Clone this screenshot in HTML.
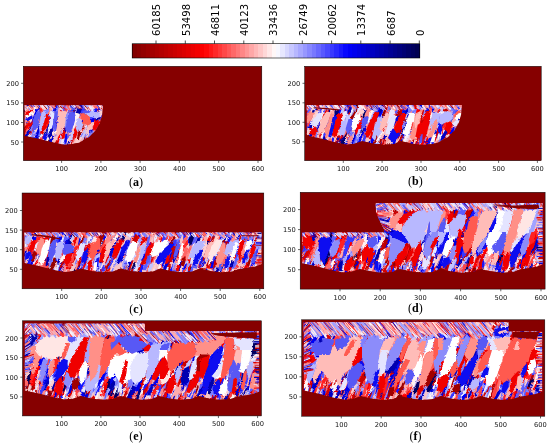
<!DOCTYPE html>
<html><head><meta charset="utf-8"><title>figure</title><style>html,body{margin:0;padding:0;background:#fff}svg{display:block}</style></head><body>
<svg width="550" height="445" viewBox="0 0 550 445">
<rect width="550" height="445" fill="#fff"/>
<defs><filter id="jag" x="-2%" y="-5%" width="104%" height="110%"><feTurbulence type="fractalNoise" baseFrequency="0.4" numOctaves="2" seed="4" result="n"/><feDisplacementMap in="SourceGraphic" in2="n" scale="3" xChannelSelector="R" yChannelSelector="G"/></filter></defs>
<g shape-rendering="crispEdges">
<rect x="132.2" y="43.7" width="4.8" height="14.3" fill="#830000"/>
<rect x="137" y="43.7" width="4" height="14.3" fill="#8b0000"/>
<rect x="141" y="43.7" width="5" height="14.3" fill="#930000"/>
<rect x="146" y="43.7" width="4" height="14.3" fill="#9b0000"/>
<rect x="150" y="43.7" width="5" height="14.3" fill="#a30000"/>
<rect x="155" y="43.7" width="4" height="14.3" fill="#ab0000"/>
<rect x="159" y="43.7" width="5" height="14.3" fill="#b30000"/>
<rect x="164" y="43.7" width="4" height="14.3" fill="#bb0000"/>
<rect x="168" y="43.7" width="5" height="14.3" fill="#c30000"/>
<rect x="173" y="43.7" width="4" height="14.3" fill="#cb0000"/>
<rect x="177" y="43.7" width="5" height="14.3" fill="#d30000"/>
<rect x="182" y="43.7" width="4" height="14.3" fill="#db0000"/>
<rect x="186" y="43.7" width="5" height="14.3" fill="#e30000"/>
<rect x="191" y="43.7" width="4" height="14.3" fill="#eb0000"/>
<rect x="195" y="43.7" width="5" height="14.3" fill="#f30000"/>
<rect x="200" y="43.7" width="4" height="14.3" fill="#fb0000"/>
<rect x="204" y="43.7" width="5" height="14.3" fill="#ff0808"/>
<rect x="209" y="43.7" width="4" height="14.3" fill="#ff1818"/>
<rect x="213" y="43.7" width="5" height="14.3" fill="#ff2828"/>
<rect x="218" y="43.7" width="4" height="14.3" fill="#ff3838"/>
<rect x="222" y="43.7" width="5" height="14.3" fill="#ff4848"/>
<rect x="227" y="43.7" width="4" height="14.3" fill="#ff5858"/>
<rect x="231" y="43.7" width="5" height="14.3" fill="#ff6868"/>
<rect x="236" y="43.7" width="4" height="14.3" fill="#ff7878"/>
<rect x="240" y="43.7" width="5" height="14.3" fill="#ff8787"/>
<rect x="245" y="43.7" width="4" height="14.3" fill="#ff9797"/>
<rect x="249" y="43.7" width="5" height="14.3" fill="#ffa7a7"/>
<rect x="254" y="43.7" width="4" height="14.3" fill="#ffb7b7"/>
<rect x="258" y="43.7" width="5" height="14.3" fill="#ffc7c7"/>
<rect x="263" y="43.7" width="4" height="14.3" fill="#ffd7d7"/>
<rect x="267" y="43.7" width="5" height="14.3" fill="#ffe7e7"/>
<rect x="272" y="43.7" width="4" height="14.3" fill="#fff7f7"/>
<rect x="276" y="43.7" width="4" height="14.3" fill="#f7f7ff"/>
<rect x="280" y="43.7" width="5" height="14.3" fill="#e7e7ff"/>
<rect x="285" y="43.7" width="4" height="14.3" fill="#d7d7ff"/>
<rect x="289" y="43.7" width="5" height="14.3" fill="#c7c7ff"/>
<rect x="294" y="43.7" width="4" height="14.3" fill="#b7b7ff"/>
<rect x="298" y="43.7" width="5" height="14.3" fill="#a7a7ff"/>
<rect x="303" y="43.7" width="4" height="14.3" fill="#9797ff"/>
<rect x="307" y="43.7" width="5" height="14.3" fill="#8787ff"/>
<rect x="312" y="43.7" width="4" height="14.3" fill="#7878ff"/>
<rect x="316" y="43.7" width="5" height="14.3" fill="#6868ff"/>
<rect x="321" y="43.7" width="4" height="14.3" fill="#5858ff"/>
<rect x="325" y="43.7" width="5" height="14.3" fill="#4848ff"/>
<rect x="330" y="43.7" width="4" height="14.3" fill="#3838ff"/>
<rect x="334" y="43.7" width="5" height="14.3" fill="#2828ff"/>
<rect x="339" y="43.7" width="4" height="14.3" fill="#1818ff"/>
<rect x="343" y="43.7" width="5" height="14.3" fill="#0808ff"/>
<rect x="348" y="43.7" width="4" height="14.3" fill="#0000f9"/>
<rect x="352" y="43.7" width="5" height="14.3" fill="#0000ee"/>
<rect x="357" y="43.7" width="4" height="14.3" fill="#0000e3"/>
<rect x="361" y="43.7" width="5" height="14.3" fill="#0000d8"/>
<rect x="366" y="43.7" width="4" height="14.3" fill="#0000cd"/>
<rect x="370" y="43.7" width="5" height="14.3" fill="#0000c2"/>
<rect x="375" y="43.7" width="4" height="14.3" fill="#0000b6"/>
<rect x="379" y="43.7" width="5" height="14.3" fill="#0000ab"/>
<rect x="384" y="43.7" width="4" height="14.3" fill="#0000a0"/>
<rect x="388" y="43.7" width="5" height="14.3" fill="#000095"/>
<rect x="393" y="43.7" width="4" height="14.3" fill="#00008a"/>
<rect x="397" y="43.7" width="5" height="14.3" fill="#00007f"/>
<rect x="402" y="43.7" width="4" height="14.3" fill="#000074"/>
<rect x="406" y="43.7" width="5" height="14.3" fill="#000068"/>
<rect x="411" y="43.7" width="4" height="14.3" fill="#00005d"/>
<rect x="415" y="43.7" width="4.8" height="14.3" fill="#000052"/>
</g>
<rect x="132.2" y="43.7" width="287.6" height="14.3" fill="none" stroke="#000" stroke-width="0.6"/>
<g font-family="'DejaVu Sans','Liberation Sans',sans-serif" font-size="10.1" fill="#000">
<path d="M156.0 40.5V43.7" stroke="#000" stroke-width="0.7"/>
<text transform="translate(160.4,36.0) rotate(-90)">60185</text>
<path d="M185.3 40.5V43.7" stroke="#000" stroke-width="0.7"/>
<text transform="translate(189.7,36.0) rotate(-90)">53498</text>
<path d="M214.5 40.5V43.7" stroke="#000" stroke-width="0.7"/>
<text transform="translate(218.9,36.0) rotate(-90)">46811</text>
<path d="M243.8 40.5V43.7" stroke="#000" stroke-width="0.7"/>
<text transform="translate(248.2,36.0) rotate(-90)">40123</text>
<path d="M273.0 40.5V43.7" stroke="#000" stroke-width="0.7"/>
<text transform="translate(277.4,36.0) rotate(-90)">33436</text>
<path d="M302.3 40.5V43.7" stroke="#000" stroke-width="0.7"/>
<text transform="translate(306.7,36.0) rotate(-90)">26749</text>
<path d="M331.6 40.5V43.7" stroke="#000" stroke-width="0.7"/>
<text transform="translate(336.0,36.0) rotate(-90)">20062</text>
<path d="M360.8 40.5V43.7" stroke="#000" stroke-width="0.7"/>
<text transform="translate(365.2,36.0) rotate(-90)">13374</text>
<path d="M390.1 40.5V43.7" stroke="#000" stroke-width="0.7"/>
<text transform="translate(394.5,36.0) rotate(-90)">6687</text>
<path d="M419.3 40.5V43.7" stroke="#000" stroke-width="0.7"/>
<text transform="translate(423.7,36.0) rotate(-90)">0</text>
</g>
<rect x="23.3" y="66.3" width="238.5" height="94.4" fill="#860000"/>
<clipPath id="ka">
<polygon points="24.7,105.3 24.7,135.8 38.6,138.7 55.3,143 64.7,144.8 72.6,144 78.9,142.7 89.1,137.1 95.8,130.3 100.1,122.5 102.2,114.6 102.6,108.8 102.6,105.3"/>
</clipPath>
<g clip-path="url(#ka)"><g fill="none" filter="url(#jag)">
<polygon points="24.7,105.3 24.7,135.8 38.6,138.7 55.3,143 64.7,144.8 72.6,144 78.9,142.7 89.1,137.1 95.8,130.3 100.1,122.5 102.2,114.6 102.6,108.8 102.6,105.3" fill="#f6c4c8"/>
<path stroke="#0000ac" stroke-width="5.5" d="M22.8 124.2l2.4 -5.8 1.9 -6M94.1 122.9l2 -7.5 1.9 -7.6M78.4 113.8l2.5 -7.6 1.9 -7.7"/>
<path stroke="#fff3f3" stroke-width="5.5" d="M72.6 128.2l2.4 -7.5 1.9 -7.6M58.8 129.4l1.7 -5.4 1.7 -5.4"/>
<path stroke="#ec0000" stroke-width="5.5" d="M57 121.5l4.3 -9.2 3.9 -9.3"/>
<path stroke="#940000" stroke-width="5.5" d="M80.4 124.5l3.7 -8.6 3.9 -8.5"/>
<path stroke="#3939ff" stroke-width="5.5" d="M56.7 135.3l2.9 -6.8 2.6 -6.9"/>
<path stroke="#7f7fff" stroke-width="5.5" d="M24.1 123.6l4 -10.5 5.3 -9.9M93 126.9l3.2 -7.7 3.5 -7.6"/>
<path stroke="#a2a2ff" stroke-width="5.5" d="M82.5 126.7l2.7 -5.5 2.5 -5.6"/>
<path stroke="#da0000" stroke-width="5.5" d="M78.9 130.5l5.3 -9 4.8 -9.3"/>
<path stroke="#ff2020" stroke-width="5.5" d="M41.1 122.4l3.2 -8.2 2.5 -8.5"/>
<path stroke="#ffcfcf" stroke-width="5.5" d="M61.1 136.4l2.3 -5.7 2.6 -5.6"/>
<path stroke="#ff4343" stroke-width="5.5" d="M25.3 130.8l3 -7.8 4 -7.3"/>
<path stroke="#3939ff" stroke-width="4.2" d="M44 132.5l3.2 -8.7 3.3 -8.6"/>
<path stroke="#0000f5" stroke-width="4.2" d="M41.5 122.5l3.4 -10.1 3.9 -9.9"/>
<path stroke="#e8e8ff" stroke-width="4.2" d="M41.5 124.8l4.6 -8.2 4.7 -8.1"/>
<path stroke="#ffcfcf" stroke-width="4.2" d="M73.6 135.2l2.1 -5.8 2.3 -5.7M84.4 126.7l2.3 -6.9 2.5 -6.9"/>
<path stroke="#ff8989" stroke-width="4.2" d="M57.3 133.1l3.3 -7.7 2.9 -7.8M21.4 136.4l2.3 -9 1.9 -9.1"/>
<path stroke="#1616ff" stroke-width="4.2" d="M66.9 119.9l3.6 -9.1 4.5 -8.7M31.1 127.7l1.8 -7.5 2.4 -7.4"/>
<path stroke="#ffacac" stroke-width="4.2" d="M28.5 119.5l4.3 -10.3 4.4 -10.3"/>
<path stroke="#5c5cff" stroke-width="4.2" d="M35.2 136.1l1.9 -5.1 1.9 -5.2M58.6 126.1l3.6 -9.6 3.1 -9.8M36.8 135.7l4.8 -8.7 5.3 -8.4"/>
<path stroke="#940000" stroke-width="4.2" d="M84.2 129.4l2.3 -7.5 3.1 -7.3"/>
<path stroke="#0000dd" stroke-width="4.2" d="M91 135.9l2.9 -5.1 2.7 -5.2M70.2 119.7l3.8 -10.1 2.7 -10.4"/>
<path stroke="#0000c4" stroke-width="4.2" d="M21.3 119.8l2.1 -7.1 2.9 -6.8"/>
<path stroke="#fd0000" stroke-width="4.2" d="M18 121.7l4.3 -8.9 4.2 -8.9"/>
<path stroke="#ec0000" stroke-width="4.2" d="M30.2 135.6l2.6 -8 2.3 -8.1"/>
<path stroke="#000093" stroke-width="4.2" d="M40.8 137.9l3.8 -7.5 2.7 -7.9"/>
<path stroke="#c90000" stroke-width="4.2" d="M70.2 114.8l4.5 -9.2 4.7 -9.1M62.2 136.4l2.9 -8.4 2.9 -8.3M91.2 122.4l3.9 -7.8 2.9 -8.2"/>
<path stroke="#ff6666" stroke-width="4.2" d="M87.8 125.4l4.4 -7.2 3.7 -7.6"/>
<path stroke="#a2a2ff" stroke-width="4.2" d="M34 128.2l4.4 -10.7 4.2 -10.7"/>
<path stroke="#ff2020" stroke-width="4.2" d="M89.1 121.7l2.3 -5.8 2.5 -5.8M66.3 125.7l3.3 -5.6 3.3 -5.6"/>
<path stroke="#ff8989" stroke-width="3.2" d="M64.2 152.2l2.1 -5.5 2.2 -5.5M84.6 118.4l2.4 -9.3 2.4 -9.3M68.3 116.4l3 -7.5 2.5 -7.6M38.3 127.2l2.1 -11.4 3.5 -11"/>
<path stroke="#ffacac" stroke-width="3.2" d="M77.3 134.3l2.3 -5.6 1.8 -5.8M60.2 142.8l1.8 -4.3 1.8 -4.3"/>
<path stroke="#1616ff" stroke-width="3.2" d="M20.9 116.8l5.2 -10 5.7 -9.7"/>
<path stroke="#da0000" stroke-width="3.2" d="M19.2 136.7l4.7 -8.5 4.1 -8.8M65.6 128.5l2.2 -8.6 2.7 -8.5"/>
<path stroke="#fd0000" stroke-width="3.2" d="M90 136.5l1.6 -5.6 2.2 -5.4M80.4 123.3l2.3 -7.2 1.9 -7.3"/>
<path stroke="#0000c4" stroke-width="3.2" d="M95.3 122.4l4.5 -8.5 4.1 -8.7M92.7 116l4.2 -10.4 3.3 -10.8"/>
<path stroke="#5c5cff" stroke-width="3.2" d="M60.6 115.5l3.6 -9.5 4.2 -9.2"/>
<path stroke="#ff6666" stroke-width="3.2" d="M24.2 137.2l2.7 -5.8 3.4 -5.5M35.6 123.5l3.4 -7.5 3.7 -7.4M90.7 136.3l4.1 -7.3 3.9 -7.4M98.7 129.4l4.1 -9.1 4.1 -9.1"/>
<path stroke="#c90000" stroke-width="3.2" d="M52.4 115.7l3.7 -9.1 3.2 -9.3"/>
<path stroke="#ffcfcf" stroke-width="3.2" d="M49.6 129.9l5.1 -8.6 4.5 -8.9M60.3 149.1l2.4 -6.2 2.2 -6.3"/>
<path stroke="#3939ff" stroke-width="3.2" d="M35.8 123.9l3.2 -7.4 2 -7.8"/>
<path stroke="#a2a2ff" stroke-width="3.2" d="M99.4 148.7l2 -6.9 3 -6.6"/>
<path stroke="#e8e8ff" stroke-width="3.2" d="M55.2 149.5l2.6 -6.7 2.5 -6.8M25.7 124.3l2.5 -7.2 1.9 -7.4"/>
<path stroke="#000093" stroke-width="3.2" d="M84.7 120.2l4.1 -9.8 4 -9.8"/>
<path stroke="#ff2020" stroke-width="3.2" d="M43.9 130.5l3.1 -7 2.9 -7"/>
<path stroke="#fff3f3" stroke-width="3.2" d="M22 129.4l3.3 -7.8 3 -7.9"/>
<path stroke="#c5c5ff" stroke-width="3.2" d="M19.8 150l2.4 -7 3.5 -6.5M56.1 147l2.6 -4.7 2.6 -4.7M92.3 126.2l2.4 -6.1 2 -6.3"/>
<path stroke="#0000c4" stroke-width="2.5" d="M23.6 140.8l4.4 -8.4 4.7 -8.2M47.1 134.5l2.9 -9.8 3.1 -9.8"/>
<path stroke="#fd0000" stroke-width="2.5" d="M91.9 144.8l2.3 -5.8 1.8 -6M58 143.9l1.5 -8.3 1.8 -8.3M74.5 131.4l3.6 -7 2.9 -7.3"/>
<path stroke="#ff4343" stroke-width="2.5" d="M31.1 137.5l3.3 -8 3.2 -8"/>
<path stroke="#0000dd" stroke-width="2.5" d="M32 150.5l2.5 -6.5 3.2 -6.2M52.6 121.4l3 -8.6 2.1 -8.8M35.3 140.5l2.7 -9 2.5 -9"/>
<path stroke="#1616ff" stroke-width="2.5" d="M65.3 143.4l2.3 -7.6 1.8 -7.7M43 149l1.8 -6.8 1.8 -6.8"/>
<path stroke="#00007b" stroke-width="2.5" d="M46.9 148.9l2.2 -4.8 1.8 -5"/>
<path stroke="#ec0000" stroke-width="2.5" d="M82.5 149.2l2.3 -5.7 2 -5.8"/>
<path stroke="#a2a2ff" stroke-width="2.5" d="M50 134.8l3.1 -7.2 2.5 -7.4M91 143.1l1.7 -5.9 1.4 -5.9M96.8 138.3l3.1 -7.2 3.2 -7.1"/>
<path stroke="#3939ff" stroke-width="2.5" d="M30.7 148.7l2.4 -5.7 1.5 -6M68.6 118.2l3.8 -7.8 4.4 -7.5"/>
<path stroke="#0000f5" stroke-width="2.5" d="M80.6 124.6l2.5 -8.6 3.6 -8.2M30.4 120.6l5.7 -9 5.6 -9.1M50 121.1l2 -6.9 3.2 -6.5M92.7 116.6l4.2 -8.3 4 -8.5"/>
<path stroke="#fff3f3" stroke-width="2.5" d="M30.6 138.6l3.7 -7.2 4 -7.1M91.9 125.4l2.3 -5.7 2.7 -5.5M54.5 134.2l1.4 -7.1 1.5 -7.1"/>
<path stroke="#c90000" stroke-width="2.5" d="M55 149.4l1.2 -4.4 1.4 -4.3M22.3 139.4l1.7 -6.3 1.8 -6.3"/>
<path stroke="#e8e8ff" stroke-width="2.5" d="M40 138.6l2.7 -5.4 2.8 -5.4M24.9 145.7l3 -5.5 2.4 -5.8"/>
<path stroke="#ffcfcf" stroke-width="2.5" d="M56.9 151l2.7 -6 2.6 -6M78.6 145.4l2.4 -5.1 2.8 -4.9M30.1 121.2l2.3 -6 2.6 -5.9"/>
<path stroke="#5c5cff" stroke-width="2.5" d="M88.7 138.6l3 -7 2.4 -7.2"/>
<path stroke="#ff8989" stroke-width="2.5" d="M34.9 122.8l6.1 -11.7 5.9 -11.8M47.2 114.8l4.6 -9.1 4.5 -9.1M35.6 127.1l3.4 -6.1 3.1 -6.3"/>
<path stroke="#c5c5ff" stroke-width="2.5" d="M104.2 146.2l1.7 -7.8 1.9 -7.7"/>
<path stroke="#7f7fff" stroke-width="2.5" d="M82.5 144l1.8 -5.1 1.7 -5.2M64.3 150.6l1.9 -4.1 1.9 -4.1M32 138.7l0.9 -4.7 1.3 -4.6"/>
<path stroke="#0000ac" stroke-width="2.5" d="M102.4 130l3.1 -6.8 3.4 -6.6"/>
<path stroke="#da0000" stroke-width="2.5" d="M70.3 144l3.2 -7.3 3.5 -7.2M55.2 126.1l2 -8.7 3.1 -8.4"/>
<path stroke="#a50000" stroke-width="2.5" d="M85.8 117.1l2.6 -8.4 2.2 -8.5"/>
<path stroke="#940000" stroke-width="2.5" d="M79.1 149.4l2.4 -6.1 3 -5.9"/>
<path stroke="#e8e8ff" stroke-width="1.9" d="M60.2 150.3l2.8 -5.7 2.4 -5.9"/>
<path stroke="#ffcfcf" stroke-width="1.9" d="M76.2 143l2.6 -6.8 3.1 -6.5"/>
<path stroke="#1616ff" stroke-width="1.9" d="M23.6 150.3l2 -6.6 1.6 -6.8"/>
<path stroke="#5c5cff" stroke-width="1.9" d="M62.8 146.4l2.7 -6 3.4 -5.6"/>
<path stroke="#c5c5ff" stroke-width="1.9" d="M59.3 143.7l1.2 -4.2 1.5 -4.1M81.7 141.2l2.9 -8.6 2.3 -8.7"/>
<path stroke="#fd0000" stroke-width="1.9" d="M91 144.4l2.4 -5 2.5 -4.9"/>
<path stroke="#ec0000" stroke-width="1.9" d="M21.3 137.7l1.7 -5.1 1.1 -5.2"/>
<path stroke="#0000ac" stroke-width="1.9" d="M64.4 150l1.9 -4.4 2 -4.3M89.1 137.4l1.9 -5.5 1.3 -5.6"/>
<path fill="#5c5cff" d="M98.2 123.9l4 -4.7 3.9 -8.2 -0.6 -4.8 -2.8 3.4 -3 8.5zM57.1 110.6l1.8 -4.8 3.1 -8.2 -0.1 -4.3 -2.9 3.3 -2.5 8.4z"/>
<path fill="#ff4343" d="M20.7 112.5l4.4 -3.1 3.5 -6.5 0 -3.5 -3 2 -3.3 6.6z"/>
<path fill="#b70000" d="M23 132.7l2 -3.8 3 -5.8 0 -3.7 -3.8 2.4 -1.4 6.4z"/>
<path fill="#c5c5ff" d="M86.2 124.7l3 -5.6 2.9 -9.6 -2 -4.8 -1.7 3.8 -2.4 9.7z"/>
<path fill="#3939ff" d="M94.5 120.6l1.5 -2.6 1.6 -4.5 -0.4 -2.2 -1 1.8 -1.4 4.5z"/>
<path fill="#ffacac" d="M98 130.1l2.9 -3.2 2.9 -5.9 -1.2 -3.1 -2 1.7 -2.3 6.1z"/>
<path fill="#7f7fff" d="M30.2 135l1.3 -3.2 1.7 -5 -0.6 -2.6 -1.2 2.1 -1.5 5.1zM51.8 120.5l5.8 -3.1 3.5 -7.5 -0.2 -5 -3.7 3 -3.9 7.3zM88.1 141.3l1.7 -2.9 2.2 -4.8 -0.8 -2.6 -1.6 1.6 -1.9 4.9zM79.7 138.3l1.8 -1.6 1.7 -2.8 -0.1 -1.7 -1.2 1 -1.4 2.9z"/>
<path fill="#a50000" d="M82.4 120.3l2.4 -4.6 2.3 -7.8 0.4 -4.2 -2.7 3.5 -2.3 7.8z"/>
<path fill="#ffcfcf" d="M41.8 134.6l2.5 -4.9 3.2 -7.8 0.5 -4.1 -3.9 2.9 -2.4 8.1zM35.4 134l1.5 -3 1.8 -5.2 -0.1 -2.7 -1.3 2.2 -1.9 5.1zM52.5 133.6l1.5 -2.4 1.4 -4 -0.8 -2.1 -1.1 1.5 -1.1 4.2zM68.1 145.1l2.1 -1.5 1.6 -3.2 -0.4 -2 -1.1 1.3 -1.3 3.3z"/>
<path fill="#1616ff" d="M88.5 122.4l4.4 -4.5 3.7 -7.5 -0.1 -4 -3.3 2.4 -3.4 7.7zM54 132.2l3.8 -3.6 2.2 -6.2 -0.9 -3.4 -2.3 2.5 -1.5 6.4z"/>
<path fill="#e8e8ff" d="M61.6 144.5l1.3 -1.7 1.6 -3.3 0.1 -1.8 -1.8 1.1 -1.4 3.3zM90.8 114.5l4.7 -7 5.4 -12 -1.5 -6.7 -3 4.8 -4.4 12.4z"/>
<path fill="#fff3f3" d="M30.6 114.8l3.2 -2 2.5 -4.8 0 -2.9 -2.1 1.7 -2.6 4.7zM84.6 125.3l2.9 -5 2.9 -8.6 -1.3 -4.8 -1.5 3.9 -2.4 8.8zM44.6 144.9l2.1 -2 2.1 -3.9 0.4 -1.9 -2.5 0.9 -2.1 3.9z"/>
<path fill="#0000dd" d="M97.6 131.9l2.2 -2.9 2.2 -4.9 0.1 -2.6 -1.6 2 -2.2 4.9z"/>
<path fill="#ff6666" d="M40.3 110.3l1.9 -3.2 1.9 -5.1 -1.3 -3 -2.1 2.2 -0.6 5.4zM67.8 131.4l4.3 -5.1 2.5 -8.7 -0.5 -4.7 -2.4 3.8 -2.8 8.6z"/>
<path fill="#a2a2ff" d="M20.7 129.3l3.2 -3.3 2.7 -5.9 -0.5 -3.3 -2.3 2.1 -2.2 6.2zM60.2 134.8l2.1 -2.5 2.3 -4.6 -0 -2.5 -1.9 1.6 -2.2 4.6z"/>
<path fill="#ec0000" d="M61.1 129.9l1.7 -1.8 1.8 -3.6 -0.2 -2.2 -1.8 1.3 -1.2 3.8z"/>
<path fill="#ff8989" d="M20.8 121.7l6.6 -5.2 2.7 -10.4 0 -5.3 -4.2 3.9 -4 9.9zM23 128.5l3.4 -3.7 3.1 -6.4 0.4 -3.9 -3.5 2.7 -2 6.8z"/>
<path fill="#fd0000" d="M58.4 122.4l2 -4.4 2.2 -7.2 -1.7 -3.8 -1.6 3 -1.2 7.4z"/>
<path fill="#0000c4" d="M64.4 133.4l2.4 -3.7 1.7 -6.5 -0.5 -3.2 -1.5 2.6 -2 6.4z"/>
<path fill="#da0000" d="M29.2 130.1l1.3 -2.2 1.7 -3.7 0.5 -2.1 -1.5 1.6 -1.4 3.8z"/>
<path fill="#0000f5" d="M89.1 133.3l4 -4.6 2 -8.4 -0.3 -4.6 -3.5 3.6 -2.3 8.3zM42.4 133l1.2 -1.8 0.9 -3.3 -0.6 -1.9 -0.9 1.5 -0.8 3.4z"/>
<path fill="#00007b" d="M20.2 116.9l4.8 -5.5 6 -9.4 -0.2 -5.8 -4.4 3.4 -4.7 10.2z"/>
<path fill="#3939ff" d="M79.4 117.2l4 -4.4 3.8 -8.4 -1 -4.7 -1.9 3.4 -3.4 8.6zM100.3 138.6l2.4 -2.5 1.5 -4.4 -0.4 -2.2 -1.7 1.5 -1.4 4.5zM47.1 135.7l1.7 -1.4 1 -2.8 0.1 -1.4 -1.1 1 -1.2 2.7z"/>
<path fill="#ffcfcf" d="M98.2 121.9l2.5 -5 3.7 -9.2 1.2 -4.7 -4.4 3.4 -3.5 9.3zM78.7 125.5l2.2 -3 2.6 -5.7 -0.2 -2.9 -2.2 1.8 -2.5 5.7zM66.5 144.8l1.2 -1.8 1.1 -3.4 -0.4 -1.7 -1.1 1.3 -0.9 3.5z"/>
<path fill="#ff6666" d="M72.2 144.5l2.1 -3.5 1.9 -5.7 0.2 -3 -1.9 2.4 -1.5 5.8z"/>
<path fill="#fd0000" d="M66.3 136.9l2.3 -2.5 2.6 -4.2 0.2 -2.6 -2.3 1.6 -1.9 4.5z"/>
<path fill="#ec0000" d="M99.2 138.1l1.8 -2.4 1.8 -4 -0.3 -2.2 -1.4 1.6 -1.3 4.2z"/>
<path fill="#ff2020" d="M39.1 119.8l1.4 -3.6 2.1 -6.4 -0.7 -3.1 -2.1 2.3 -1.8 6.5zM100.1 143.6l3 -2.8 1.5 -5 -1 -2.6 -1.3 1.9 -1.2 5.1z"/>
<path fill="#ff8989" d="M83.4 133.2l1.6 -4.2 2.1 -7 -0.8 -3.5 -1.5 2.9 -1.7 7.1z"/>
<path fill="#da0000" d="M99.6 125.6l4.3 -3.3 3.8 -6.9 1 -4.2 -4.4 2.3 -3.9 6.9zM92.9 130.8l1.9 -3.5 1.7 -5.6 -1 -3.1 -2.1 2.3 -1.2 5.8z"/>
<path fill="#0000f5" d="M52.1 130.9l2.2 -4 3.4 -7 -0.2 -3.7 -4.3 2 -2 7.5z"/>
<path fill="#5c5cff" d="M24.7 143.2l1.1 -1.5 1.2 -2.4 0.4 -1.1 -1.3 0.7 -1.4 2.3zM70.3 144.2l0.7 -1.4 0.6 -2.4 -0.2 -1.2 -0.6 1 -0.5 2.5zM98.6 141.3l2.3 -2.4 2 -4.3 -0.3 -2.2 -1.7 1.3 -2 4.3z"/>
<path fill="#c5c5ff" d="M70.4 143.6l1.9 -3.7 1.7 -6.1 -0.4 -3.4 -2.1 2.7 -1.5 6.2zM41.9 130.1l2.6 -3.3 2.8 -6.1 0.3 -2.9 -2.8 1.7 -2.8 6.1z"/>
<path fill="#0000ac" d="M23.9 143.4l1.1 -1.5 0.9 -2.7 -0.2 -1.4 -0.9 1.1 -0.5 2.8z"/>
<path fill="#fff3f3" d="M41.8 130.3l1.3 -4.2 2.1 -7 0.2 -3.4 -3.2 2.7 -1.4 7.2z"/>
<path fill="#7f7fff" d="M43.6 119.2l2.9 -4.3 3 -7.8 -1.6 -4.8 -2.7 3.3 -2.7 7.9z"/>
<path fill="#0000dd" d="M49 144.7l2.4 -2.3 2.5 -4.5 0.4 -2.6 -2 1.7 -2.5 4.5zM24.4 110.4l3.3 -4.3 4.2 -7.1 0.4 -4.1 -4.5 2.2 -2.9 7.7z"/>
<path fill="#ff4343" d="M65.8 113.5l2.1 -4.2 2.2 -7 -0.2 -3.5 -3.2 2.7 -1.6 7.1zM39.7 142.9l2.2 -2.1 1.9 -4.1 0.4 -2.1 -2.1 1.3 -1.9 4.1z"/>
<path fill="#0000c4" d="M86.6 108.3l1.9 -3 2.9 -4.9 -0.6 -2.8 -2.4 1.5 -1.6 5.4zM77.9 110.1l6.8 -6.5 4.6 -12.2 0.3 -6.9 -6.2 4.9 -4 12.5z"/>
<path fill="#ffacac" d="M56.9 117l4 -6 5.4 -10.4 1.2 -6 -5.3 4.2 -4.1 11zM79.4 144.7l1.9 -1.9 1.8 -3.6 0.3 -1.9 -1.5 1.3 -1.8 3.6zM66 137.7l2.5 -3 1.6 -5.2 -0.8 -2.6 -2.1 1.7 -1.7 5.2zM74.2 138l2.3 -3.1 1.7 -6 0.1 -3.2 -2.5 2.4 -2 5.9z"/>
<path fill="#1616ff" d="M102.3 122.9l1.8 -2 2.3 -4.3 -0.3 -2.6 -2.2 1.5 -1.7 4.5z"/>
<path fill="#e8e8ff" d="M84.2 128.3l2.2 -1.8 1.7 -3.5 0.1 -1.8 -1.6 1 -1.7 3.5z"/>
<polygon fill="#5858f5" points="32.7,122.5 34.4,115.7 37.7,111.2 40.5,111.2 40,119.1 37.7,127 34.4,131.5 32.7,129.2"/>
<polygon fill="#b8b8ff" points="38.9,128.1 40.5,119.1 41.7,111.2 46.2,111.2 45,120.2 42.8,129.2 40,132.6"/>
<polygon fill="#f00000" points="40,132.6 43.3,124.7 46.2,114.6 49,112.4 49,119.1 46.2,128.1 42.8,134.8"/>
<polygon fill="#e4e4ff" points="47.3,133.7 49.5,122.5 50.7,111.2 54.6,111.2 53.5,122.5 50.7,132.6"/>
<polygon fill="#5858f5" points="52.3,129.2 54,118 55.1,111.2 58,111.2 56.8,121.3 54.6,130.3"/>
<polygon fill="#ffbcb8" points="55.7,133.7 57.4,121.3 58.5,111.2 65.3,111.2 63.6,122.5 60.2,133.7 58,137.1"/>
<polygon fill="#8c8cfa" points="64.1,125.8 65.8,114.6 69.2,111.2 72,112.4 70.3,122.5 66.9,130.3"/>
<polygon fill="#0000b0" points="47.8,136 50.1,129.2 52.9,128.1 51.8,136 49.5,139.3"/>
<polygon fill="#0808f0" points="42.2,138.2 44.5,133.7 47.3,133.7 46.2,140.4"/>
<polygon fill="#f00000" points="61.3,139.3 63,131.5 65.3,130.3 64.7,138.2"/>
<polygon fill="#f00000" points="25.4,112.4 32.1,109 32.7,111.2 26.5,115.2"/>
<polygon fill="#ffffff" points="25.4,115.7 32.7,111.8 33.2,114 26.5,118.5"/>
<polygon fill="#0808f0" points="25.4,119.1 32.1,115.2 32.7,118 26.5,121.9"/>
<polygon fill="#f00000" points="25.4,125.8 31.6,121.3 32.1,124.7 26.5,129.2"/>
<polygon fill="#ffbcb8" points="62,111.2 66.5,111.2 65.4,122.5 63.1,131.5 62,131.5"/>
<polygon fill="#5858f5" points="65.4,129.2 67.1,119.1 68.7,112.4 74.4,111.8 76,116.9 73.8,124.7 71,132.6 67.6,133.7"/>
<polygon fill="#ff5a50" points="81.1,119.1 80,113.5 84.5,112.4 90.1,116.9 91.2,122.5 87.8,125.8 84.5,123.6"/>
<polygon fill="#b8b8ff" points="84.5,112.4 91.2,111.2 99.1,112.4 100.2,116.9 94.6,118 90.1,116.9"/>
<polygon fill="#5858f5" points="81.1,112.4 85.6,109.6 91.2,110.1 90.1,112.4 84.5,113.5"/>
<polygon fill="#b8b8ff" points="75.5,127 76.6,119.1 80,118 83.3,124.7 81.1,130.3 77.7,132.6"/>
<polygon fill="#f00000" points="92.3,129.2 94.6,121.3 99.1,118 100.2,122.5 95.7,130.3"/>
<polygon fill="#ffbcb8" points="87.8,127 91.2,122.5 94.6,121.3 92.3,129.2 89,131.5"/>
<polygon fill="#0000b0" points="95.1,118.5 100.2,116.9 100.8,119.1 95.7,120.8"/>
<polygon fill="#f00000" points="73.2,136 75.5,128.1 77.7,132.6 75.5,139.3"/>
<polygon fill="#a00000" points="76.6,138.2 78.9,130.3 81.1,131.5 78.9,139.3"/>
<polygon fill="#0808f0" points="64.2,141.6 65.4,133.7 67.6,133.7 66.5,142.7"/>
</g><g fill="none">
<path stroke="#e8e8ff" stroke-width="1.9" d="M61.5 109.2l-3 -3.5M27.6 108.5l-3.8 -3.8M62.4 109.7l-3.2 -4.6"/>
<path stroke="#c5c5ff" stroke-width="1.4" d="M54.1 108.5l-3.1 -4.1M48.2 107.2l-2.9 -3.1"/>
<path stroke="#ec0000" stroke-width="0.7" d="M78.6 108.6l-3 -4.1"/>
<path stroke="#ff4343" stroke-width="0.7" d="M103.3 110.5l-4.4 -4.4M34.2 110.1l-3.3 -4.8"/>
<path stroke="#a2a2ff" stroke-width="1.4" d="M102.8 108.2l-2.6 -3.2M86.2 108.7l-3 -3.5M103.8 109.3l-3.9 -4.2"/>
<path stroke="#5c5cff" stroke-width="1.4" d="M48.6 109.4l-2.4 -2.6"/>
<path stroke="#a50000" stroke-width="0.7" d="M61.8 108.4l-1.9 -2.4M59.6 108l-2.3 -3.2"/>
<path stroke="#0000dd" stroke-width="1" d="M44.6 109.6l-2.2 -2.4"/>
<path stroke="#fd0000" stroke-width="0.7" d="M27.3 107.5l-3.5 -4M81.3 109.2l-3 -4"/>
<path stroke="#a2a2ff" stroke-width="1" d="M78.9 107.5l-2.4 -2.9M99.9 109.4l-3.8 -4.5"/>
<path stroke="#fff3f3" stroke-width="1" d="M24.1 109.4l-3 -4.2M43.3 108.5l-2.1 -2.8M53 109.7l-3.5 -3.6"/>
<path stroke="#fff3f3" stroke-width="1.4" d="M25.7 110.3l-3.6 -5M91 109.1l-2.3 -3M51.3 108.4l-2.7 -2.6M87.4 108.7l-3.3 -3.9M88.3 106.7l-2.5 -2.6M75.1 107.7l-2.9 -4.1"/>
<path stroke="#00007b" stroke-width="0.7" d="M26.3 108.8l-2.1 -2.7"/>
<path stroke="#ff4343" stroke-width="1" d="M46.8 107.9l-3 -4.3M67.4 108.8l-3.2 -3.7"/>
<path stroke="#ff6666" stroke-width="1" d="M90.8 110.8l-3.8 -5.1M81.8 108.6l-2.6 -3.1"/>
<path stroke="#5c5cff" stroke-width="1" d="M38.4 109.3l-3.2 -4.4M30 109.7l-1.9 -2.6"/>
<path stroke="#da0000" stroke-width="0.7" d="M53.5 108l-3.1 -4.3M90.5 107.3l-1.9 -2.5"/>
<path stroke="#e8e8ff" stroke-width="1" d="M47.1 106.8l-2.4 -2.9"/>
<path stroke="#0000dd" stroke-width="0.7" d="M54.8 108l-2.4 -3M101.1 110.6l-4.5 -4.5"/>
<path stroke="#00007b" stroke-width="1" d="M73.5 110.7l-3.4 -4.6"/>
<path stroke="#ffacac" stroke-width="1" d="M70.7 109.8l-2.2 -2.9M97.9 109.1l-3.9 -4.5"/>
<path stroke="#5c5cff" stroke-width="1.9" d="M74.8 109.7l-3.8 -4.7M27.6 108.5l-2.2 -2.5M39.4 108.2l-2.6 -3.1"/>
<path stroke="#7f7fff" stroke-width="1" d="M34.9 106.8l-2 -2.8M57.8 109.7l-2.8 -2.7"/>
<path stroke="#0000c4" stroke-width="0.7" d="M32.6 107.4l-2 -2.8"/>
<path stroke="#7f7fff" stroke-width="1.9" d="M73.1 109.3l-2.8 -3"/>
<path stroke="#c5c5ff" stroke-width="1" d="M73.8 107.9l-2.8 -3.1"/>
<path stroke="#c90000" stroke-width="0.7" d="M45.4 108.8l-2 -2.5M102.3 109.5l-3 -4"/>
<path stroke="#940000" stroke-width="1" d="M62.6 108.5l-2.4 -2.7M85.6 109.3l-3.2 -3.4M87.6 109.2l-4 -5"/>
<path stroke="#ffacac" stroke-width="1.4" d="M43.3 109.1l-3.8 -4.4M104.8 110l-4.2 -4.4M79.7 108.6l-4.1 -4.1"/>
<path stroke="#c90000" stroke-width="1" d="M30.8 107.4l-2.9 -4.2"/>
<path stroke="#0000ac" stroke-width="1" d="M44.5 109l-2.2 -3.1"/>
<path stroke="#ff6666" stroke-width="1.9" d="M95.6 108.4l-2.4 -3.4"/>
<path stroke="#fff3f3" stroke-width="1.9" d="M47.6 108.9l-2.9 -3.2M45.4 109.5l-3.2 -4.6M101 107.4l-3.8 -3.9"/>
<path stroke="#0000ac" stroke-width="0.7" d="M73.3 108.8l-2.8 -2.9"/>
<path stroke="#ffcfcf" stroke-width="1.4" d="M31.8 109.8l-3.5 -3.5M37.4 109.2l-3.4 -4.7M80.2 108.2l-3.4 -3.7M104.8 109.3l-2.1 -2.9M92.4 107l-2.9 -3M87.8 110.6l-3.9 -4.2"/>
<path stroke="#ffacac" stroke-width="1.9" d="M51.9 110.4l-3.8 -5.1M38.1 108.1l-3.4 -3.8"/>
<path stroke="#ff2020" stroke-width="0.7" d="M32.9 110.1l-3.9 -4.5M46.6 109.1l-2.7 -2.8"/>
<path stroke="#ffcfcf" stroke-width="1" d="M44.1 109.4l-4.1 -4.8M39.4 107.2l-2.3 -2.2M75.8 107.2l-2.2 -2.7M92.8 110.4l-3.3 -4M43.2 109.2l-2.6 -3.7"/>
<path stroke="#ffcfcf" stroke-width="1.9" d="M94 108.9l-2.5 -2.7M45.4 109.7l-2.7 -2.8M46 107.7l-3.3 -4.2M27.2 109.3l-3.6 -3.6"/>
<path stroke="#940000" stroke-width="0.7" d="M27.4 108.9l-2.1 -2.2M80.1 109.4l-3 -4.1M39.9 109.3l-2.6 -3.6"/>
<path stroke="#3939ff" stroke-width="1" d="M34.7 106.9l-2 -2.3M54.1 109.3l-2.1 -2.8"/>
<path stroke="#e8e8ff" stroke-width="1.4" d="M90.5 107.8l-2.5 -3.3M43.6 107.7l-2 -2.7M28.2 108.6l-3.1 -3.3M47.4 108.6l-3.3 -3.2M93.2 110.2l-4 -5"/>
<path stroke="#a2a2ff" stroke-width="1.9" d="M67.9 108.7l-2.1 -2.3M88.1 107.1l-2 -2.5"/>
<path stroke="#fd0000" stroke-width="1" d="M65.2 109.7l-2.4 -3.2"/>
<path stroke="#a50000" stroke-width="1" d="M47.2 109.2l-3.9 -4.3M54.9 108.8l-2.8 -3.8"/>
<path stroke="#ff6666" stroke-width="1.4" d="M98 108.4l-3.4 -4.3M24.3 108.9l-2.8 -3.5M97.2 108.1l-3 -4.3M69.7 109.6l-3.5 -4.9"/>
<path stroke="#ff8989" stroke-width="1" d="M32.9 110l-3.6 -4.7M102.4 107.3l-3 -3.2"/>
<path stroke="#ff8989" stroke-width="1.4" d="M54.7 108l-2.6 -2.7M27 107.1l-2.9 -3.1"/>
<path stroke="#7f7fff" stroke-width="1.4" d="M84.6 108.4l-2.6 -3.7M63.2 106.8l-2 -2.6"/>
<path stroke="#000093" stroke-width="0.7" d="M49.4 107.9l-3.8 -5"/>
</g></g>
<rect x="23.3" y="66.3" width="238.5" height="94.4" fill="none" stroke="#000" stroke-width="0.5"/>
<g font-family="'DejaVu Sans','Liberation Sans',sans-serif" font-size="6.7" fill="#111" stroke="#000" stroke-width="0">
<text x="61.6" y="171.2" text-anchor="middle">100</text>
<text x="100.9" y="171.2" text-anchor="middle">200</text>
<text x="140.1" y="171.2" text-anchor="middle">300</text>
<text x="179.4" y="171.2" text-anchor="middle">400</text>
<text x="218.7" y="171.2" text-anchor="middle">500</text>
<text x="258.0" y="171.2" text-anchor="middle">600</text>
<text x="18.9" y="144.5" text-anchor="end">50</text>
<text x="18.9" y="125.0" text-anchor="end">100</text>
<text x="18.9" y="105.4" text-anchor="end">150</text>
<text x="18.9" y="85.8" text-anchor="end">200</text>
<path d="M61.6 160.7v2.2M100.9 160.7v2.2M140.1 160.7v2.2M179.4 160.7v2.2M218.7 160.7v2.2M258.0 160.7v2.2M21.1 142.0h2.2M21.1 122.5h2.2M21.1 102.9h2.2M21.1 83.3h2.2" stroke-width="0.6"/>
</g>
<text x="136.1" y="185.6" text-anchor="middle" font-family="'Liberation Serif',serif" font-size="12" fill="#000">(<tspan font-weight="bold">a</tspan>)</text>
<rect x="304.7" y="66.3" width="236.5" height="94.4" fill="#860000"/>
<clipPath id="kb">
<polygon points="306.8,105.1 306.8,135.6 320.6,138.5 337.1,142.8 346.4,144.5 354.2,143.8 362.3,141 372.4,143.4 383.3,144.7 393.8,143.9 401.2,141 411.3,143.4 422.1,144.7 432.6,143.9 438,142.5 448.1,136.9 454.7,130.1 459,122.3 461.1,114.5 461.5,108.7 461.5,105.1"/>
</clipPath>
<g clip-path="url(#kb)"><g fill="none" filter="url(#jag)">
<polygon points="306.8,105.1 306.8,135.6 320.6,138.5 337.1,142.8 346.4,144.5 354.2,143.8 362.3,141 372.4,143.4 383.3,144.7 393.8,143.9 401.2,141 411.3,143.4 422.1,144.7 432.6,143.9 438,142.5 448.1,136.9 454.7,130.1 459,122.3 461.1,114.5 461.5,108.7 461.5,105.1" fill="#f6c4c8"/>
<path stroke="#ff8989" stroke-width="5.5" d="M342.5 118.6l3.8 -12.4 3.9 -12.4"/>
<path stroke="#0000dd" stroke-width="5.5" d="M319 130.6l3.4 -7.4 3.2 -7.5"/>
<path stroke="#0000f5" stroke-width="5.5" d="M442.3 126.3l1.7 -5.8 2 -5.7M365.8 136.1l3.2 -7.4 3.2 -7.4"/>
<path stroke="#7f7fff" stroke-width="5.5" d="M452.3 136.7l1.8 -6 1.9 -6"/>
<path stroke="#ff6666" stroke-width="5.5" d="M344.3 118.9l5.4 -12.5 6.1 -12.2M388.7 124.2l4.3 -9.4 4 -9.5"/>
<path stroke="#fd0000" stroke-width="5.5" d="M311.7 130.8l2.8 -6 3.1 -5.8"/>
<path stroke="#1616ff" stroke-width="5.5" d="M423.8 113.5l4.7 -8 4.5 -8.2"/>
<path stroke="#ec0000" stroke-width="5.5" d="M342.3 130l2.1 -5.3 2.3 -5.2M350.9 121.5l3.9 -9 4.1 -8.9M448.6 134.8l2 -8.9 3.4 -8.5M441.7 139.6l2.5 -9.3 2.2 -9.4M446.7 134.9l2.2 -8.8 2.2 -8.8"/>
<path stroke="#ff4343" stroke-width="5.5" d="M394.3 134.6l2.7 -9.6 2.9 -9.5"/>
<path stroke="#ffacac" stroke-width="5.5" d="M458.4 131.7l2.5 -7.9 2.7 -7.9M313.4 125.7l2.3 -6.6 2.3 -6.6"/>
<path stroke="#000062" stroke-width="5.5" d="M350.8 117l5.3 -11.4 4.6 -11.7"/>
<path stroke="#fff3f3" stroke-width="5.5" d="M301.7 119.4l2.2 -8.5 2.3 -8.5M421.1 125.9l2.1 -7.1 2.1 -7.1"/>
<path stroke="#da0000" stroke-width="5.5" d="M375.8 123.3l5.6 -9.8 5.5 -9.9M357.3 126.6l3.5 -8.3 2.4 -8.7M418.8 134.1l2.6 -6 3.1 -5.7"/>
<path stroke="#0000c4" stroke-width="5.5" d="M462 115.1l3 -6.2 2.8 -6.3"/>
<path stroke="#da0000" stroke-width="4.2" d="M442.5 120.2l2.5 -6.3 2.5 -6.3"/>
<path stroke="#0000f5" stroke-width="4.2" d="M320.9 138.5l3.7 -8.7 3.5 -8.8M374.5 134.2l3.1 -6 2.9 -6.1M438 137.7l2.3 -7.4 2.4 -7.4"/>
<path stroke="#1616ff" stroke-width="4.2" d="M342.8 119.5l2.9 -11.2 2.7 -11.3"/>
<path stroke="#5c5cff" stroke-width="4.2" d="M344 133.4l5.1 -8.8 5.1 -8.8M303.5 125.9l2.1 -8.8 2.6 -8.6M374.1 117l2.3 -6.4 2.5 -6.3"/>
<path stroke="#fff3f3" stroke-width="4.2" d="M318.9 122.5l4.8 -10.1 4.9 -10.1"/>
<path stroke="#ff8989" stroke-width="4.2" d="M364 137.5l2.5 -7.7 2.5 -7.7M373 132.7l3.2 -7.6 3.3 -7.6"/>
<path stroke="#0000c4" stroke-width="4.2" d="M434.8 121.4l2.7 -9.5 2.4 -9.6M453.8 126.8l5.7 -10.8 5 -11.1M312.2 127.6l3 -8.8 3.1 -8.7M310.3 119.4l3.7 -9.7 4.9 -9.1"/>
<path stroke="#e8e8ff" stroke-width="4.2" d="M459.1 117.6l2.6 -8.6 2 -8.7M326.2 128.7l3.5 -7.7 4 -7.4M376.4 130.3l4.6 -9.1 4.2 -9.3M410.7 130.3l2.2 -9.9 2.2 -9.9"/>
<path stroke="#0000dd" stroke-width="4.2" d="M402.3 123.3l4.6 -9.6 3.9 -9.9M313.7 129.4l2.5 -5.4 2.3 -5.5"/>
<path stroke="#3939ff" stroke-width="4.2" d="M380.4 124.2l4.6 -10.9 5.7 -10.4M414.8 115.8l2.2 -7.9 2 -7.9"/>
<path stroke="#ec0000" stroke-width="4.2" d="M381.8 115.3l5.3 -9.9 4.9 -10.1M310.2 126.3l2.1 -5.8 1.8 -5.9M413.3 126.7l2.3 -6.6 2.1 -6.7M300.2 125.3l3.8 -9.6 3 -9.9"/>
<path stroke="#7f7fff" stroke-width="4.2" d="M420.1 137.7l3.5 -7.4 2.9 -7.7M418.2 123.2l4.8 -11.6 4 -11.9M302.5 131.9l4 -7.4 3.9 -7.5"/>
<path stroke="#00007b" stroke-width="4.2" d="M438.5 129.8l3 -8 3 -8M382.6 126.2l5.8 -10.6 5.3 -10.8"/>
<path stroke="#fd0000" stroke-width="4.2" d="M399 120.2l4.2 -12.5 4.7 -12.3"/>
<path stroke="#000062" stroke-width="4.2" d="M441.7 122.6l5.6 -10 5.3 -10.1M361 126.3l2.5 -8.8 2.1 -8.9"/>
<path stroke="#b70000" stroke-width="4.2" d="M426.4 122.6l3.5 -5.9 3.4 -5.9"/>
<path stroke="#a2a2ff" stroke-width="4.2" d="M348.5 127l4.6 -10.2 4.7 -10.1"/>
<path stroke="#ffcfcf" stroke-width="4.2" d="M410.5 118.9l3.5 -6.3 2.9 -6.6M311.9 125.7l4.1 -6.7 3.1 -7.2M360.5 114.3l4 -6.6 3.1 -7.1"/>
<path stroke="#940000" stroke-width="4.2" d="M412.6 116l2 -8.5 3.1 -8.1M382.1 116.3l2.2 -9.8 2.6 -9.8"/>
<path stroke="#ff2020" stroke-width="4.2" d="M323.4 132.3l3.4 -8.3 2.6 -8.6"/>
<path stroke="#ffacac" stroke-width="4.2" d="M332.6 124l6.2 -9.9 6.2 -9.9"/>
<path stroke="#000093" stroke-width="4.2" d="M326.8 113.5l3 -6.4 3.3 -6.3"/>
<path stroke="#c90000" stroke-width="4.2" d="M340.3 117.7l2.8 -8.3 1.7 -8.6M440.5 124.1l4.4 -9.1 3.2 -9.6M399.8 135.8l1.9 -7.7 2.1 -7.6"/>
<path stroke="#c5c5ff" stroke-width="4.2" d="M398.2 132.1l4.1 -10 4.3 -9.9M372.9 124.8l3 -12.5 4 -12.2M456.7 135.3l4.1 -9.5 4.4 -9.4M395.5 134.5l1.2 -5.5 1.9 -5.3M437.2 134.9l2 -9.2 1.9 -9.2"/>
<path stroke="#ff6666" stroke-width="3.2" d="M321.3 134.5l2.4 -8.2 3 -8M420.9 141.6l1.4 -4.8 1.2 -4.8M356.6 132.8l2.4 -7.9 3.2 -7.7M381.4 123.7l4.1 -7.1 3.4 -7.4"/>
<path stroke="#e8e8ff" stroke-width="3.2" d="M348.8 117.3l4.3 -9.3 3 -9.8"/>
<path stroke="#b70000" stroke-width="3.2" d="M412 146.5l1.2 -4.3 1.3 -4.3M390.8 127.4l5.3 -10.3 5.8 -10"/>
<path stroke="#ff4343" stroke-width="3.2" d="M397.8 126.1l2.9 -9.7 3.5 -9.5M302.9 149.6l1.5 -3.6 1.5 -3.6"/>
<path stroke="#7f7fff" stroke-width="3.2" d="M376 130.4l1.4 -7 2.2 -6.8M415.2 129.2l3.2 -7.8 2.7 -8M431.4 134.5l2.5 -6.4 3.4 -6M336.3 115.1l3.8 -8.3 3.9 -8.3M301.7 116.9l4.3 -10.9 4.6 -10.8"/>
<path stroke="#00007b" stroke-width="3.2" d="M442.5 133.3l4.8 -7.5 4.7 -7.5"/>
<path stroke="#a2a2ff" stroke-width="3.2" d="M340.6 120l2.5 -12.1 2.5 -12.1M430.2 137.2l2.9 -6.9 2.6 -7M352 149.5l1.3 -4.6 1.1 -4.6M373.8 149.1l3 -5.9 2.3 -6.2M447.6 120.8l4.8 -10.4 5.6 -9.9M413.9 116.2l2.5 -8.3 2.6 -8.3"/>
<path stroke="#940000" stroke-width="3.2" d="M399.5 131.4l2.8 -6.1 2.6 -6.2M348.9 134.6l4.9 -8.3 5.2 -8.2"/>
<path stroke="#fff3f3" stroke-width="3.2" d="M400.7 134.1l2.4 -6.1 2.4 -6.1M345.3 148.9l1.7 -6.5 2 -6.4M411.5 129l1.9 -5.8 1.5 -5.9"/>
<path stroke="#3939ff" stroke-width="3.2" d="M354.5 124.5l4.3 -11.7 3 -12.1M320.8 141.4l2.3 -4.4 2.5 -4.3"/>
<path stroke="#1616ff" stroke-width="3.2" d="M399.9 117.4l4 -7.4 4 -7.3"/>
<path stroke="#ec0000" stroke-width="3.2" d="M355.9 131.5l2.4 -4.9 2.4 -4.9M334.7 133l3.1 -8.1 3.5 -7.9M428 116.8l6.7 -10.7 5.7 -11.3M335.2 127.1l3.4 -7.2 3 -7.4M370.2 139.2l2.5 -4.8 2.7 -4.7"/>
<path stroke="#5c5cff" stroke-width="3.2" d="M315.6 113.8l3.8 -8.2 4.3 -7.9M425.4 131l1.9 -5.2 1.7 -5.3M348.5 144.9l1.5 -7.1 1.5 -7.1M438.1 124.1l2.4 -5.7 2.6 -5.6M408.6 134.4l1.8 -5 1.4 -5.1"/>
<path stroke="#ffcfcf" stroke-width="3.2" d="M356.8 121.9l3.1 -11.1 2.3 -11.3M331.1 145.4l2.6 -5.9 2.5 -5.9M361.2 145.4l1.5 -3.7 1.8 -3.6M331.6 129.3l3.3 -10.7 3.6 -10.6"/>
<path stroke="#ff8989" stroke-width="3.2" d="M420.3 143.5l4.1 -7.6 4.4 -7.4M356.4 127.8l2.4 -6.7 2.3 -6.7M448.3 115.8l2.8 -10.6 4.2 -10.2M408 124.4l4.1 -12.5 3.6 -12.6M444.7 129.5l3.4 -8.3 3.5 -8.3"/>
<path stroke="#c90000" stroke-width="3.2" d="M415.9 136.3l3.2 -8.6 3.8 -8.3M396.6 120.2l5.8 -12.5 5.9 -12.5"/>
<path stroke="#0000f5" stroke-width="3.2" d="M409.1 150.6l1.8 -4.2 1.3 -4.3M370.7 146.6l2.3 -5.1 2.2 -5.1"/>
<path stroke="#0000dd" stroke-width="3.2" d="M340.9 149.4l2.3 -6 1.4 -6.3M423.9 129.1l4.1 -9.7 4.8 -9.4"/>
<path stroke="#fd0000" stroke-width="3.2" d="M414.6 151.1l2.3 -5.4 2.5 -5.3M334.2 119.2l4.4 -7.9 4 -8.1"/>
<path stroke="#c5c5ff" stroke-width="3.2" d="M449.1 150.4l2.1 -4.2 2.3 -4.1M337.9 118.8l5.5 -11.8 4.2 -12.3M308.6 121.6l6.6 -11.4 6.9 -11.3"/>
<path stroke="#ff2020" stroke-width="3.2" d="M440.4 135l2.8 -6.8 3.6 -6.4M310.1 121.6l4.3 -7.7 3.4 -8.1M431.3 130.1l3.4 -8.2 4.1 -7.9M361.4 126.9l3.8 -6 3.8 -6"/>
<path stroke="#ffacac" stroke-width="3.2" d="M386 134l1.9 -6 1.9 -6.1M452.4 123.4l5.4 -12.1 4.9 -12.3M445.2 130.7l4.3 -10.1 5.1 -9.7"/>
<path stroke="#da0000" stroke-width="3.2" d="M459.1 137.5l3.2 -7.3 2.9 -7.4M407.2 134.2l3.2 -6.2 3 -6.3M315.9 119.4l3.5 -11.2 4.5 -10.8"/>
<path stroke="#1616ff" stroke-width="2.5" d="M420.3 140.1l3.1 -9 2.5 -9.2M416.3 143.7l1.6 -4.6 2 -4.5M330.5 147.6l1.4 -5 1.4 -5"/>
<path stroke="#0000dd" stroke-width="2.5" d="M400.1 141.8l3.1 -6.4 2.1 -6.7M356.8 140.5l2.5 -8.7 2.1 -8.8M341.7 134.1l2.1 -8.2 2.6 -8.1M335.5 149.5l1.7 -3 1.6 -3.1M423 152.3l2.5 -5.9 2.9 -5.7M344 150.3l2 -5.4 2.5 -5.2"/>
<path stroke="#c5c5ff" stroke-width="2.5" d="M312.3 144.3l1.9 -3.5 1.9 -3.6"/>
<path stroke="#000093" stroke-width="2.5" d="M310.5 146.7l3 -6.7 3.4 -6.5"/>
<path stroke="#c90000" stroke-width="2.5" d="M372.4 117l5 -9.2 4.6 -9.4"/>
<path stroke="#ffacac" stroke-width="2.5" d="M386.9 141.8l3.2 -6.9 2.5 -7.2M394.1 139.5l1.4 -5 1.6 -5M396.6 140.8l2.2 -6.7 2 -6.7M373.2 126.4l2.1 -12.6 2.2 -12.5"/>
<path stroke="#da0000" stroke-width="2.5" d="M328.1 142.6l2.7 -4.7 2.3 -5M415 145.5l2.1 -6.2 1.3 -6.4M418.7 115.1l2.1 -7.8 2.3 -7.7M389.2 139.3l4 -6.9 4.1 -6.8M459.5 139.7l2.5 -8.8 3.5 -8.4M375.9 135.2l3.1 -7.9 3 -8M420.3 120.6l2.4 -9.4 2.6 -9.4"/>
<path stroke="#ffcfcf" stroke-width="2.5" d="M306 127.7l3.6 -10.3 3.4 -10.4M351.6 126.5l3.3 -8 3.7 -7.7M457.8 136.3l2.7 -5.4 2.4 -5.5"/>
<path stroke="#5c5cff" stroke-width="2.5" d="M432.6 137l2 -4.7 1.3 -4.9M450.5 121.2l3.9 -10.3 3.8 -10.3"/>
<path stroke="#a2a2ff" stroke-width="2.5" d="M392.5 150l1.7 -3.5 2 -3.3M462.6 151.4l1.4 -5.4 1.7 -5.3M369 125.7l2.8 -9.5 3.4 -9.3"/>
<path stroke="#a50000" stroke-width="2.5" d="M405.6 138.8l1.4 -6.1 1.2 -6.2M348.2 123.9l6.5 -10.4 5.3 -11.1"/>
<path stroke="#0000c4" stroke-width="2.5" d="M450.8 143.1l4 -6.5 4 -6.5M322.7 150.4l1.6 -5.9 1.5 -5.9M437.1 138.2l1.3 -4.9 1.7 -4.7M308.3 142.4l1.7 -5.7 2.1 -5.5M380.6 146.1l2.4 -5.4 2.3 -5.4"/>
<path stroke="#fff3f3" stroke-width="2.5" d="M325.5 148.5l3.3 -6.4 3 -6.6M376.6 124.9l4.3 -11.1 4.8 -10.9M356.8 145.7l2.2 -5.5 2.4 -5.4M430.2 144.3l2 -6.5 1.6 -6.6M319.1 144.8l2.3 -6.6 1.5 -6.9"/>
<path stroke="#7f7fff" stroke-width="2.5" d="M371.2 151.5l2.3 -5.4 2.2 -5.4M342.3 132l3.1 -11.1 4.3 -10.7M332.1 149.8l1.4 -3.6 1.2 -3.6"/>
<path stroke="#ff4343" stroke-width="2.5" d="M458.7 142.2l1.9 -4.3 1.6 -4.4M400.6 126.6l1.7 -6.1 1.5 -6.1M411.1 135.4l2 -5.6 2 -5.6"/>
<path stroke="#ec0000" stroke-width="2.5" d="M366.9 113.6l3.7 -6.4 3.2 -6.6M368.4 134.6l1.6 -4.8 2.3 -4.6"/>
<path stroke="#ff2020" stroke-width="2.5" d="M373.8 139.2l2.3 -5.4 1.7 -5.6M308.8 149.7l1.5 -4.4 1.1 -4.6"/>
<path stroke="#940000" stroke-width="2.5" d="M342.4 144l2.4 -6.9 2.3 -6.9"/>
<path stroke="#e8e8ff" stroke-width="2.5" d="M410.9 139.6l3.3 -8.3 2.6 -8.6M438.3 147.2l1.7 -6.8 1.5 -6.8"/>
<path stroke="#0000f5" stroke-width="2.5" d="M358.9 142.5l3.4 -8.2 3 -8.4M393.1 146.1l1.7 -5.8 1.3 -5.9M420.9 152l2 -5.6 2.2 -5.6M451.4 133.9l2.5 -6.9 2.3 -6.9M432.1 143.7l2.9 -5.9 2.4 -6.1"/>
<path stroke="#0000ac" stroke-width="2.5" d="M462.5 142.9l1.5 -8.2 1.9 -8.1M341 143.1l1.7 -7 1.8 -7"/>
<path stroke="#fd0000" stroke-width="2.5" d="M453.1 149.5l1.9 -5.3 1.7 -5.4M408.4 124.4l5.5 -11.7 5.5 -11.7M421.5 146.5l1.3 -4.9 1.2 -4.9"/>
<path stroke="#3939ff" stroke-width="2.5" d="M363.3 145.1l1.3 -7.8 2.5 -7.5M360.8 145.7l1.9 -3.8 2.2 -3.7M332.1 123.7l3.8 -7.3 4.5 -7"/>
<path stroke="#00007b" stroke-width="2.5" d="M343 141.9l1.3 -4.7 1.3 -4.7"/>
<path stroke="#ff8989" stroke-width="2.5" d="M418.3 122.2l1.7 -7.7 2.7 -7.4M418.7 142.3l2.4 -6.2 2.1 -6.3M464.3 143.3l0.9 -4.2 1.2 -4.1M325.4 139.1l1.7 -5 2.2 -4.8"/>
<path stroke="#000062" stroke-width="2.5" d="M456.8 143.1l2.4 -4.3 1.9 -4.6M340.9 147.5l1.3 -4 1.3 -4"/>
<path stroke="#ff6666" stroke-width="2.5" d="M382.1 151.1l1.4 -4.6 1.7 -4.5M374.3 143.1l2 -6 2.7 -5.7M450 143.5l2.7 -4.8 1.9 -5.2M326 151.2l2.1 -6.6 2.6 -6.4M310.5 149.5l1.7 -4.2 1.4 -4.3M405 151.1l2.8 -5.3 2.4 -5.5"/>
<path stroke="#ffcfcf" stroke-width="1.9" d="M413.4 146.6l1.3 -4.9 1.6 -4.9"/>
<path stroke="#ec0000" stroke-width="1.9" d="M434.2 141.7l2.5 -6.9 2.1 -7M302.8 151.2l2 -6.9 1.9 -6.9"/>
<path stroke="#1616ff" stroke-width="1.9" d="M355.1 149.5l1.9 -5 1.9 -5"/>
<path stroke="#ff8989" stroke-width="1.9" d="M434.5 146.5l2 -3.3 2 -3.3M334.9 138.6l2.7 -6.5 2.5 -6.6"/>
<path stroke="#a50000" stroke-width="1.9" d="M377.7 150.7l1.8 -5.8 1.7 -5.8M372.3 147.2l2.3 -5.9 2.6 -5.7"/>
<path stroke="#5c5cff" stroke-width="1.9" d="M352.9 148.8l1.5 -6.1 1.7 -6.1M440.6 141.3l3.6 -7.4 3.4 -7.5"/>
<path stroke="#e8e8ff" stroke-width="1.9" d="M406.3 140.1l3.3 -8.9 3.5 -8.8"/>
<path stroke="#0000dd" stroke-width="1.9" d="M351.5 145l3 -7.9 2.5 -8.1M425.3 146.4l2 -5.1 2.3 -5"/>
<path stroke="#ff2020" stroke-width="1.9" d="M449.6 147.4l3.1 -5.6 2.4 -5.9"/>
<path stroke="#c5c5ff" stroke-width="1.9" d="M399.9 137.5l3.4 -6.2 3.4 -6.2"/>
<path stroke="#0000c4" stroke-width="1.9" d="M453.9 138.7l4.2 -7.5 3.5 -7.8"/>
<path stroke="#7f7fff" stroke-width="1.9" d="M314.8 140.3l1.8 -5.5 2.1 -5.4M435.1 149.6l2.9 -5.3 2.7 -5.4M460.2 136.9l1.9 -5.2 2.5 -4.9"/>
<path stroke="#fff3f3" stroke-width="1.9" d="M375.9 143l4 -6.7 3.6 -6.9"/>
<path stroke="#fd0000" stroke-width="1.9" d="M422.9 150l2.7 -6.6 2.5 -6.7"/>
<path stroke="#00007b" stroke-width="1.9" d="M459.3 142.8l1.5 -6 1.7 -5.9"/>
<path stroke="#0000ac" stroke-width="1.9" d="M338.8 142.4l2.3 -4.9 2.7 -4.7"/>
<path stroke="#c90000" stroke-width="1.9" d="M398.6 143.2l2 -4 1.6 -4.2M379.4 150.5l2.5 -5.7 2.6 -5.7"/>
<path stroke="#ff6666" stroke-width="1.9" d="M422.3 149.9l1.4 -3.6 1.3 -3.6M318.3 143l2.4 -8.8 2.5 -8.7"/>
<path fill="#3939ff" d="M307 129.8l3.1 -3.4 3.7 -5.8 0.7 -3.2 -3.8 1.7 -2.6 6.4zM375 118.3l4.2 -5.7 4.2 -11.2 -0.9 -5.6 -2.5 4.2 -4.8 10.9zM323.8 113.6l2.7 -5.1 2.5 -8.6 -1.3 -4.8 -2.7 3.9 -1.5 8.9zM304.7 134l2.1 -3.3 1.8 -5.9 -0.3 -3.1 -2.9 2.2 -1.5 5.9z"/>
<path fill="#fff3f3" d="M429.4 120.1l4.2 -4.2 2.4 -7.5 -2.6 -4.4 -1.8 3.1 -2.1 7.5zM443.7 136.3l2.4 -3.5 2.5 -6.6 0.5 -3.5 -3.5 2.3 -2.8 6.5zM434 127.3l3.7 -4 5.3 -8.1 0.8 -4.9 -6.1 2.1 -4 8.8zM302 146.8l2 -2.1 1.9 -3.9 0.4 -2 -1.6 1.4 -2.1 3.8z"/>
<path fill="#da0000" d="M334.8 144.4l3.2 -2.2 2.1 -4.9 0.2 -2.4 -2.6 1.4 -2.3 4.8z"/>
<path fill="#fd0000" d="M400.9 129.8l1.7 -4.2 2.2 -7.1 0 -3.7 -2.1 3.1 -2 7.2zM355.1 135.5l4.2 -4.3 3.6 -7.7 -1.6 -4.8 -2.8 3.1 -2.6 8.1zM302.9 120.1l1.3 -2.4 1.7 -3.9 0.5 -2.3 -2 1.7 -1.5 4zM339.2 140.2l3.2 -3.6 3.7 -5.8 0.3 -3.6 -2.7 2.3 -2.9 6.2z"/>
<path fill="#ff6666" d="M438.6 129.2l3.1 -3 2.6 -5.5 0.2 -3.1 -2.2 2.1 -2.6 5.5zM453.8 129l2.3 -1.8 2 -3.4 -0.1 -2.3 -1.9 1.4 -1.4 3.7z"/>
<path fill="#ff8989" d="M377.4 108.3l6.6 -5.4 2.8 -10.8 -1.3 -5.7 -3.7 4.2 -3.7 10.5zM373.4 122.9l1.8 -3.1 1.9 -5.3 0.1 -2.9 -2 2.2 -1.7 5.4zM353.4 122.8l2.6 -2.6 1.9 -4.6 -0.1 -2.7 -1.9 1.8 -2 4.5zM388 119.7l4.1 -3.7 2.3 -6.6 -0.7 -3.4 -2.6 2.1 -2.7 6.5zM323.9 127.4l1.6 -2.7 2.2 -4.4 -0.6 -2.5 -2.1 1.5 -1.1 4.8zM432.4 120.7l3.2 -4.1 3.5 -8.7 -0.2 -5.4 -3.6 3.9 -3.3 8.8z"/>
<path fill="#ffcfcf" d="M309.5 122.8l5.7 -3.9 4.3 -7.7 -1.4 -4.8 -3.1 2.5 -3.7 8.1zM316 116l6 -4.4 5.5 -9.4 0.1 -5.4 -5.2 2.6 -4.8 9.8zM387.7 129l2.8 -2.7 2.3 -4.8 -0.7 -3.1 -2.1 1.9 -1.8 5zM456.9 133.3l2.3 -3.7 3.6 -6.5 0.1 -3.9 -3.7 2.4 -2.3 7z"/>
<path fill="#0000dd" d="M392.4 128.9l2.4 -4.1 3.7 -6.5 1.1 -3.4 -3.4 2.3 -2.8 6.9zM430.9 126l3.3 -4 2 -7 -1.4 -3.5 -1.6 2.7 -1.7 7zM356.6 127.2l1.3 -2.1 1.7 -3.5 0.1 -1.8 -1.6 1.2 -1.1 3.7z"/>
<path fill="#ffacac" d="M344.4 126.9l3.3 -2.8 2.9 -5.1 0.5 -3.5 -2.9 2.2 -2.7 5.2zM330.9 118.4l3.6 -6.6 2.7 -10.9 -1.4 -5.5 -2.6 4.6 -2.6 10.9zM324.7 111l1.8 -3.1 1.6 -5.4 -2.1 -2.8 -1.5 2 -1 5.6zM394.1 135.3l0.9 -2 0.9 -3.4 -0.4 -1.8 -1.3 1.4 -0.7 3.5zM453.1 123.2l4.5 -4.1 3.3 -7.6 0.9 -3.7 -3.1 2.6 -3.8 7.3zM366.6 108.1l4.7 -5.7 1.8 -10.6 -0.5 -5.3 -3.2 4.4 -2.8 10.3z"/>
<path fill="#1616ff" d="M339 129.9l2.4 -4.2 2.1 -7.3 -0.7 -3.7 -1.7 3 -1.9 7.4zM312.2 113.8l3.6 -4 4.3 -7.1 -0.7 -4.4 -2.7 2.7 -3 7.7z"/>
<path fill="#000093" d="M311.1 119.5l1.7 -3.1 1.8 -5.3 -0.6 -2.8 -1.6 2.1 -1.5 5.4z"/>
<path fill="#b70000" d="M338.7 126.8l1.3 -2.6 1.3 -4.4 0 -2.4 -1.7 1.8 -1.4 4.3z"/>
<path fill="#0000f5" d="M349.2 130.4l1.7 -2.5 2.6 -4.8 1.2 -2.9 -3 1.9 -2.6 4.8zM370.7 144.3l2.5 -2.7 1.9 -4.8 -1.3 -2.4 -1.9 1.5 -1.1 5zM375.2 123.2l5.5 -5.7 3.7 -10.2 -0.6 -5.6 -4.3 3.9 -2.9 10.5zM435 127.9l2.8 -3.5 1.9 -6.1 -0.1 -3.1 -2.6 2.4 -1.5 6.2zM336.9 119.9l3.2 -6.2 2.9 -10.8 -1.4 -5.7 -2 4.7 -3.5 10.6z"/>
<path fill="#7f7fff" d="M355.3 143.1l1.9 -2.3 2.1 -3.8 0.3 -2.3 -1.6 1.6 -1.9 3.9z"/>
<path fill="#c5c5ff" d="M440.5 113.1l3.5 -4.4 2.2 -7.4 -1.7 -3.8 -1.8 2.8 -2.2 7.4zM456.7 117.6l3.5 -3.8 4.2 -6.8 1.2 -4.2 -4 2.7 -3.4 7.3z"/>
<path fill="#0000c4" d="M440.4 141.3l3.7 -2.9 3.2 -6 0.1 -3.7 -2.8 2.2 -3.2 6.1zM402.5 121.3l2.3 -3.8 2.2 -5.9 0.4 -3.3 -2.9 2.5 -1.5 6.2zM367.9 146l1.9 -1.7 0.6 -3.3 0 -1.6 -1.4 1.3 -0.9 3.3zM422.8 128.8l4.1 -4.1 2.7 -7.1 -0.2 -3.8 -2.7 2.7 -2.9 7zM433.5 140.3l1.7 -2.7 1.3 -4.5 0 -2.4 -1.9 1.9 -1.2 4.5z"/>
<path fill="#ff2020" d="M393.9 134l2.6 -3.9 1.9 -6.7 -0.3 -3.7 -2.3 3 -1.5 6.8zM460.4 140.6l1.6 -2 1.1 -3.7 0 -1.8 -1.3 1.4 -1 3.7zM427 120.9l2.1 -3 2 -5.7 -0.6 -3.1 -2.3 2.2 -1.3 5.9zM437.9 113.7l2.7 -4.8 3.8 -8.9 0 -4.8 -3.5 3.6 -2.6 9.3z"/>
<path fill="#ff4343" d="M306.6 127.4l3 -3.5 2.2 -6.3 -1 -3.7 -2.7 2.8 -0.7 6.7zM365 125.5l1.4 -2 1.9 -3.3 -0.2 -2 -1.8 1.1 -1.1 3.6zM322.5 126.8l3 -4.6 2.8 -8.3 0.1 -4.1 -2.7 3.1 -3.8 8z"/>
<path fill="#00007b" d="M334.8 119.3l3.8 -6.6 2.1 -11.3 0 -5.4 -3.2 4.6 -3.1 11.1z"/>
<path fill="#0000ac" d="M322.4 144.7l1.8 -2.1 1.4 -4.3 -1 -2.4 -1.3 1.6 -1.5 4.2zM347.7 115.5l3 -2.9 3 -5.9 -0.2 -3.8 -3.3 2.1 -2.7 6.1zM410.7 134.1l2.4 -3.4 3.3 -5.1 0.9 -2.9 -3.7 1.5 -2.3 5.5z"/>
<path fill="#ec0000" d="M450.1 145.4l3.6 -2.4 2.3 -4.9 -0.9 -3.2 -2.1 1.9 -1.8 5.1z"/>
<path fill="#c90000" d="M402 134.9l1.9 -3.6 2 -5.8 -0.1 -3.2 -2.8 2.5 -1.1 6.1zM365.8 139.6l1.5 -2.4 1 -4.3 -0.4 -2.1 -0.7 1.8 -1.3 4.2zM316.7 111.5l2.8 -4.3 3.7 -7.4 1.3 -3.6 -4.4 2 -3.9 7.3z"/>
<path fill="#e8e8ff" d="M418.5 145.9l1.2 -1.2 1.4 -2.1 0.3 -1.2 -1.1 0.8 -1.1 2.3zM427 129.7l1.5 -2 1 -3.8 -0.2 -1.8 -1.4 1.4 -0.9 3.8zM459.2 134.3l1.3 -2.5 1.8 -4.6 -0.6 -2.6 -2 1.8 -1.1 4.8zM439.4 136.9l1.2 -2.5 1.6 -4.1 -0 -2.2 -1.6 1.7 -1.2 4.2z"/>
<path fill="#5c5cff" d="M409.2 126.5l2.9 -3.3 3.2 -6.3 -0.1 -3.8 -4.1 2.1 -1.9 6.8zM350.3 141.9l1.2 -1.6 1.3 -3 -0.2 -1.8 -1 1.3 -1.2 3z"/>
<path fill="#ffcfcf" d="M446.1 141.7l1.5 -2.4 1.7 -3.9 0.2 -2.1 -2 1.5 -1.1 4.1z"/>
<path fill="#a2a2ff" d="M452 110.2l3.4 -5 5.1 -8.8 1.8 -4.8 -4.4 3.4 -4.8 9zM401.5 139.7l1.4 -1.6 1.8 -3.1 0.1 -1.6 -0.9 1.1 -1.6 3.2z"/>
<path fill="#7f7fff" d="M408.9 123.6l3.7 -4 3.7 -7.4 0.8 -4.2 -4.7 2.5 -2.9 7.7zM387.4 112.3l6 -7.4 5 -12 -3.4 -6.9 -4.7 4.7 -1.9 12.8zM422.9 141.5l2.2 -1.4 1.7 -3.1 -0.2 -1.9 -1.5 1 -1.6 3.2zM347.8 140.1l2.3 -2.6 2.2 -4.8 -0.7 -3.1 -1.4 2.2 -2.1 4.9zM408.2 114.5l3.5 -3.7 3.7 -7.8 -0.5 -4.8 -2.8 3.1 -4.1 7.6zM402.3 135l2.5 -4 2.8 -7.5 -0.3 -3.8 -4 2.4 -2.3 7.7z"/>
<path fill="#ec0000" d="M383.2 132.3l2.3 -4.7 2.4 -8.5 0.7 -4 -3.4 3.2 -2.6 8.4zM340.1 143.2l1 -3.3 1.5 -5.5 -0.3 -2.8 -1.3 2.4 -1.6 5.5zM345.9 125.2l2.4 -4 1.6 -6.7 0.3 -3.3 -2.2 2.9 -1.6 6.8zM321.2 121.6l4 -3.9 3.5 -7 0.7 -3.7 -3.3 2.4 -3.6 7zM389.3 126.6l2.5 -3.7 2.2 -6.5 -1.2 -3.2 -1.5 2.4 -2.1 6.5z"/>
<path fill="#0000c4" d="M336.6 142.9l1.1 -1.7 1.8 -2.8 -0.3 -1.8 -1.3 1 -1.2 3.2zM365.2 112.4l3 -5.1 3.7 -8.9 -0.7 -4.7 -2.7 3.4 -3.3 9.1z"/>
<path fill="#0000ac" d="M401.4 136.3l3.5 -4.2 3 -7.3 0.9 -3.7 -3.6 2.6 -3 7.3zM378.3 116.2l3.6 -5.2 4 -8.9 1.1 -4.9 -4.1 3.8 -3.2 9.2z"/>
<path fill="#0000f5" d="M425.9 117l1.7 -3 2.4 -5 0.5 -2.5 -2.1 1.8 -2.3 5.1zM458.1 142l1.6 -2 1.3 -3.7 0.1 -1.9 -1.3 1.5 -1.3 3.7zM439 129.5l2.1 -3.2 2.5 -5.8 -0.1 -3.2 -3.1 2.1 -1.5 6.1zM418.4 110.9l7.8 -6.1 6.3 -11.1 0 -7.9 -7.5 4.4 -4.4 12z"/>
<path fill="#c90000" d="M397.5 139.9l2.4 -3.6 2.6 -6 -0.3 -3 -2.6 2.1 -1.4 6.4zM320.4 109.6l1.9 -3 1.5 -5.2 0 -2.8 -1.7 2.3 -1.6 5.2z"/>
<path fill="#da0000" d="M340 132.3l4 -3.9 3.9 -7.8 0.2 -4.6 -2.9 3.3 -4 7.8zM414.4 110.8l2.4 -4.8 2.5 -8.3 -0.1 -4 -2.1 3.4 -2.5 8.3zM319.4 137.4l2.2 -2.7 2.4 -4.8 -1.6 -3.1 -1.6 1.7 -1.5 5.1zM415.1 117l2.4 -2.4 1.8 -4.6 -0.2 -2.5 -1.7 1.8 -1.5 4.7z"/>
<path fill="#00007b" d="M360.2 133.4l3 -2.1 2.2 -4.2 -1 -2.9 -1.5 1.7 -1.7 4.4z"/>
<path fill="#ffacac" d="M431.5 131.6l4.6 -3.9 2.9 -7.1 0.2 -4 -4.4 2.4 -2.5 7.3z"/>
<path fill="#0000dd" d="M325 133.4l1.4 -3.9 2.9 -6 0.1 -3.2 -2.5 2.2 -2 6.4zM328 127.6l2.8 -2.8 3.2 -5.7 -0 -3 -2.5 1.6 -3 5.9zM431.9 113.3l2.8 -4.6 3 -8 0.4 -4.3 -3.7 3.2 -2.4 8.2z"/>
<path fill="#fd0000" d="M415.1 117.9l2.4 -3.6 2.5 -6.6 -0.5 -3.5 -1.8 2.7 -2.2 6.7z"/>
<path fill="#ff4343" d="M311.5 139.7l1.8 -1.8 1.3 -3.2 -1.1 -1.9 -0.9 1.2 -0.8 3.4zM427.8 121.2l2.8 -5.5 2.2 -9.5 0.2 -4.8 -2.9 4 -2.8 9.4zM313.6 139.7l1.3 -2.3 1.4 -3.8 -0.3 -1.9 -1.5 1.4 -0.8 3.9z"/>
<path fill="#ff8989" d="M364 119.8l4.6 -4.3 4.3 -9.2 -0.1 -5.2 -3.2 3.6 -4.6 9zM431.2 127l3.1 -2.3 2.4 -4.6 -0.1 -3 -2.1 1.8 -2.5 4.5zM424.7 112.3l4 -6.3 4.4 -11.5 1.8 -5.3 -4.9 4 -5 11.3zM423.4 127.1l1.6 -3.5 1.7 -6.4 -0.4 -2.9 -1.5 2.4 -2.2 6.3zM346.2 145.9l3.9 -2.5 2.9 -5.2 -0.8 -3.2 -2.1 1.5 -2.8 5.3z"/>
<path fill="#1616ff" d="M435.1 108.4l3.1 -7.5 3.7 -12.8 -1.2 -6.5 -3.3 5.4 -2.8 13.1z"/>
<path fill="#5c5cff" d="M407.9 125.8l3 -3.9 3.2 -6.3 0 -3.3 -3 2.1 -2.3 6.7zM395.7 115l1.8 -2.9 1.3 -4.9 -0.1 -2.6 -1.9 2.1 -1 5zM450.4 111.5l5.4 -5 7 -11.3 -0.3 -6.1 -5.9 2.7 -5.6 12zM303.1 126.9l4.3 -5.2 3.6 -9.5 -0.6 -5.2 -2.9 3.8 -3.9 9.3zM356.7 111.6l3.6 -4 4.1 -6.4 -0.3 -4.2 -3 2.6 -2.6 7.2z"/>
<path fill="#ff6666" d="M450.4 130.6l2 -2 1.7 -3.7 0.3 -1.9 -1.5 1.3 -1.7 3.7zM301.6 127.2l4.5 -4.5 3.8 -7.8 0.3 -4.5 -2.8 3.3 -3.3 8zM343.4 137.7l2.6 -4 3.4 -6.8 0.1 -3.7 -3.3 2.2 -3.1 6.9zM381.8 144l1.1 -2 1 -3.7 -0.3 -1.9 -0.9 1.6 -1 3.7z"/>
<path fill="#3939ff" d="M455 114.9l2.2 -2.6 2.1 -4.4 0 -2.3 -2.2 1.4 -1.9 4.5zM328.4 127l1.4 -2.5 1.4 -4.4 -0.9 -2.5 -1.6 1.9 -1.1 4.5zM317.9 117.7l3.4 -6 3.8 -9.9 -3.1 -5.7 -2.5 4.3 -1.2 10.5z"/>
<path fill="#c5c5ff" d="M343.9 128.4l3.4 -4.1 3.4 -6.8 -1.4 -3.6 -2.6 1.9 -2.5 7.2zM356.6 139.2l2 -3.3 2 -5.6 -0.3 -2.8 -2 2.1 -1.5 5.8z"/>
<path fill="#e8e8ff" d="M324.4 125.1l3.1 -3.1 2.1 -6.1 -1.5 -3.4 -1.9 2.4 -1.3 6.3zM387.2 124.6l2.8 -4.5 5 -7.4 -0.9 -4.2 -4.1 1.6 -3.1 8.4zM362.6 131.1l1.2 -1.8 1.4 -3.3 0.3 -1.9 -1.6 1.3 -1.6 3.2zM353.3 125.9l2 -4.2 1.9 -7.1 -0.1 -3.7 -2.1 3.1 -2.1 7.1zM403.7 143.8l2.5 -2.8 1.7 -4.7 -1.1 -2.9 -1.9 2 -1.2 4.8zM350.9 114.1l3 -4.1 2 -7.1 -0.7 -3.5 -1.4 2.9 -2.3 7zM340.9 129.4l2.2 -5.8 3.9 -9.1 -0.2 -5.2 -4.4 3.8 -1.8 9.7zM356.8 113.6l3 -3.5 3 -5.6 -0.3 -2.9 -3.5 1.5 -1.5 6.2z"/>
<path fill="#ff2020" d="M408.6 132l3.6 -4.3 3.2 -7.7 -0.7 -4.1 -2.3 2.9 -2.9 7.8zM346.8 140.3l1 -1.4 1.2 -2.7 0.3 -1.4 -1.2 1 -1.3 2.6z"/>
<path fill="#fff3f3" d="M422.1 110l3 -4.9 3.6 -8.7 0.4 -4.1 -2.5 3.3 -3.4 8.8zM437.7 140.9l1.5 -3 2.4 -5.2 -1 -2.7 -1.7 1.7 -1.7 5.4zM366.2 126.1l3.2 -4.9 3.3 -7.9 0.9 -4.3 -3.9 3.1 -2.9 8.1zM459 136.3l1.3 -1.6 1.2 -3 0.2 -1.7 -1.6 1.1 -1 3.1zM402.2 145.2l2.5 -2.5 2.1 -4.9 -0.3 -2.7 -1.3 2 -2.2 4.9z"/>
<polygon fill="#ffbcb8" points="318,129.1 322.4,117.5 326.7,111.6 331.1,112.4 328.2,121.8 323.8,132 319.5,134.9"/>
<polygon fill="#ff9088" points="323.8,132 328.2,121.8 331.1,113.1 333.3,114.5 331.1,124.7 326.7,134.9"/>
<polygon fill="#e4e4ff" points="310.7,123.3 316.5,114.5 320.9,111.6 322.4,116 316.5,127.6 312.2,129.1"/>
<polygon fill="#f00000" points="332.5,133.5 334.7,121.8 337.6,113.1 342.7,114.5 340.5,124.7 336.9,134.9 334,137.8"/>
<polygon fill="#0808f0" points="328.2,136.4 331.1,124.7 334,114.5 336.2,116 334,127.6 331.1,137.8"/>
<polygon fill="#b8b8ff" points="339.1,132 341.3,121.8 345.6,118.9 347.1,126.2 344.2,134.9 340.5,136.4"/>
<polygon fill="#5858f5" points="345.6,129.1 348.5,118.9 352.9,118.9 351.5,129.1 347.8,134.9"/>
<polygon fill="#ffffff" points="351.5,126.2 354.4,116 360.2,113.1 360.2,120.4 355.8,129.1 352.9,130.5"/>
<polygon fill="#5858f5" points="360.2,124.7 363.1,117.5 368.9,116 367.5,123.3 363.1,129.1"/>
<polygon fill="#f00000" points="364.5,133.5 368.9,123.3 373.3,116 377.6,113.1 376.9,123.3 371.8,133.5 367.5,137.8"/>
<polygon fill="#b8b8ff" points="374.7,129.1 377.6,118.9 382,116 382,132 377.6,137.8"/>
<polygon fill="#ff9088" points="306.4,117.5 310.7,111.6 315.1,113.1 310.7,120.4 307.1,123.3"/>
<polygon fill="#0000b0" points="307.8,126.2 312.2,124.7 312.2,127.6 308.5,129.1"/>
<polygon fill="#f00000" points="309.3,132 315.1,126.2 318,130.5 313.6,136.4"/>
<polygon fill="#f00000" points="372,118.9 374.9,111.6 379.3,113.1 376.4,121.8 372,123.3"/>
<polygon fill="#b8b8ff" points="372,137.8 374.9,123.3 379.3,116 380.7,121.8 377.8,133.5 374.9,140.7"/>
<polygon fill="#ffbcb8" points="379.3,129.1 382.2,117.5 386.5,113.1 389.5,114.5 386.5,124.7 382.2,132"/>
<polygon fill="#e4e4ff" points="385.1,133.5 389.5,118.9 393.8,114.5 396.7,116 393.8,126.2 389.5,134.9"/>
<polygon fill="#0808f0" points="388,137.8 392.4,129.1 398.2,127.6 401.1,130.5 398.2,137.8 392.4,142.2"/>
<polygon fill="#f00000" points="393.8,129.1 398.2,118.9 402.5,113.1 406.9,113.1 404,121.8 399.6,132 396.7,133.5"/>
<polygon fill="#ffffff" points="403.3,133.5 406.9,120.4 409.8,113.1 414.2,113.1 412,124.7 407.6,136.4"/>
<polygon fill="#ff9088" points="409.8,137.8 412.7,124.7 415.6,113.1 421.5,111.6 420,123.3 415.6,136.4 412.7,140.7"/>
<polygon fill="#f00000" points="418.5,140.7 421.5,124.7 424.4,113.1 430.2,111.6 429.5,123.3 425.8,136.4 422.9,143.6"/>
<polygon fill="#b8b8ff" points="430.2,123.3 433.1,114.5 440.4,113.1 438.9,121.8 434.5,129.1 430.9,130.5"/>
<polygon fill="#ff9088" points="427.3,136.4 430.2,130.5 434.5,129.1 433.1,137.8 429.5,142.2"/>
<polygon fill="#ffffff" points="430.2,142.2 433.1,134.9 436,133.5 434.5,142.2"/>
<polygon fill="#b8b8ff" points="439,122.5 440.1,114.6 444.6,111.2 450.2,111.8 453.6,115.7 451.3,120.2 445.7,122.5 441.2,124.7"/>
<polygon fill="#b8b8ff" points="431.1,120.2 432.2,113.5 436.7,111.8 438.4,114.6 436.7,119.1 433.3,121.3"/>
<polygon fill="#f00000" points="422.1,128.1 424.4,116.9 426.6,110.7 430,111.2 429.4,120.2 426.6,129.2 423.2,131.5"/>
<polygon fill="#ff9088" points="431.1,131.5 433.3,121.3 436.7,119.1 437.8,122.5 436.2,129.2 433.3,133.7"/>
<polygon fill="#f00000" points="444,129.2 445.1,123.6 450.2,121.3 452.4,123.6 450.2,129.2 445.7,131.5"/>
<polygon fill="#ffbcb8" points="414.2,122.5 416.5,113.5 419.9,111.2 421,114.6 418.7,122.5 415.4,128.1"/>
<polygon fill="#ffffff" points="412,113.5 415.4,112.4 414.2,120.2 412,122.5"/>
<polygon fill="#f00000" points="415.4,137.1 417.6,125.8 421,120.2 422.1,128.1 418.7,138.2"/>
<polygon fill="#0808f0" points="437.8,132.6 439,124.7 441.2,124.7 442.3,129.2 440.1,134.8"/>
<polygon fill="#5858f5" points="418.7,143.8 420.4,136 422.7,133.7 422.1,142.7"/>
<polygon fill="#0808f0" points="426.6,143.8 428.9,138.2 431.7,137.1 430,143.8"/>
<polygon fill="#ffffff" points="454.7,118 458.1,113.5 461.4,112.4 461.4,116.9 456.9,121.3"/>
<polygon fill="#e4e4ff" points="452.4,123.6 455.8,120.2 459.2,120.2 456.9,125.8 453.6,127"/>
<polygon fill="#ff5a50" points="453.6,115.7 456.9,111.2 461.4,110.1 461.4,112.4 458.1,113.5 454.7,118"/>
</g><g fill="none">
<path stroke="#da0000" stroke-width="1" d="M343.1 108.2l-2.3 -3.3M458 109.2l-3.9 -4.6M311.6 109l-2.4 -2.6M322 109.4l-2.9 -4"/>
<path stroke="#fff3f3" stroke-width="1" d="M433 108.4l-3.3 -4.6M381.3 109l-2.6 -3.2M305.6 108.9l-2 -2.2"/>
<path stroke="#fff3f3" stroke-width="1.9" d="M309.9 107.9l-3.5 -3.8M334.4 107.7l-2.6 -3.6M343.6 106.7l-3 -2.9M330.7 108.3l-2.7 -3.3"/>
<path stroke="#ffcfcf" stroke-width="1.4" d="M397.8 109.6l-2.9 -3.8M435.8 108.9l-3.8 -5M316 106.4l-2.3 -2.4M387.3 107.4l-2.5 -3.4M323.9 109.3l-4.4 -4.4M309.2 107l-2.1 -3M443 107.4l-2.1 -2.2M376.9 110.6l-4 -4.7M323.8 110.2l-4 -4"/>
<path stroke="#a2a2ff" stroke-width="1.4" d="M449.8 109.7l-2.5 -2.7M397.4 109.1l-3.6 -3.7M335.1 107.9l-3.5 -3.6M420.8 109.7l-3 -3.3M396.8 107.5l-2.1 -2.9M406.8 109.1l-2.5 -2.9"/>
<path stroke="#000062" stroke-width="1" d="M393.2 106.8l-2.1 -2.5"/>
<path stroke="#ec0000" stroke-width="0.7" d="M403.1 108.5l-3 -4.1M443.6 107.4l-3.2 -3.2M348.8 108.2l-2.1 -2.5"/>
<path stroke="#5c5cff" stroke-width="1.9" d="M377.9 107.6l-3 -3.7"/>
<path stroke="#7f7fff" stroke-width="1.4" d="M438.9 108.7l-3 -3.3M406.1 109.5l-4.2 -4.2M420.3 107.6l-2.7 -3.6M402.4 106.6l-1.9 -2.5M383.3 109.7l-3.3 -4.5M377.5 110.6l-3.7 -4.8M311.3 109.2l-3 -3.6"/>
<path stroke="#ec0000" stroke-width="1" d="M331 109.5l-2.6 -3.7M341.5 109.4l-3.1 -4.1"/>
<path stroke="#940000" stroke-width="0.7" d="M342.6 107.9l-1.8 -2.6"/>
<path stroke="#940000" stroke-width="1" d="M363.8 108.9l-4 -4.5"/>
<path stroke="#ff2020" stroke-width="0.7" d="M340.8 109.9l-3.5 -4.5M350.3 107.1l-2 -2.4"/>
<path stroke="#0000ac" stroke-width="0.7" d="M377 107.8l-4.3 -4.3M350.9 109.2l-3.7 -4M425.8 108.2l-2.4 -2.6M427.8 107.5l-2.8 -2.9"/>
<path stroke="#ff2020" stroke-width="1" d="M390.5 107.4l-2.3 -3"/>
<path stroke="#b70000" stroke-width="0.7" d="M412.9 107l-3.3 -3.5M386.7 109.5l-3.8 -5"/>
<path stroke="#3939ff" stroke-width="1" d="M351.8 108.3l-2.8 -3.6M368.1 108.8l-3.2 -3.9"/>
<path stroke="#0000ac" stroke-width="1" d="M429 109.7l-2.4 -3M403.7 107.9l-2.4 -3"/>
<path stroke="#0000f5" stroke-width="0.7" d="M456.5 109.5l-2.6 -3.8"/>
<path stroke="#5c5cff" stroke-width="1" d="M373.9 108.7l-2.4 -3.3M401.1 109.1l-3.6 -4.5M372.3 108.8l-3.9 -4.8M385.3 107.7l-3.7 -4.9M367.5 107.3l-2.1 -2.4M338.5 107.8l-3.6 -4.3"/>
<path stroke="#ff8989" stroke-width="1.4" d="M399.2 107l-2.6 -3M335.4 107.6l-2.9 -4.3M452.7 107.3l-2.3 -2.3M412.5 107.9l-2.1 -2.6M447.8 107.9l-4 -4M406.5 108.4l-3.4 -3.4"/>
<path stroke="#c5c5ff" stroke-width="1.4" d="M392.8 108.2l-3.6 -4.2M418.7 109l-2 -2.5M365.5 108.2l-4.4 -4.3M333.2 108.2l-4.4 -4.3M307.9 110.1l-2.9 -3.5M400.7 108.2l-2.3 -2.9M451.3 109.6l-3.1 -4.3M393.4 109.5l-3.1 -4M423.2 109.5l-3 -3M413.3 109.8l-3.4 -4.7M339.4 109.5l-3.2 -4.6"/>
<path stroke="#1616ff" stroke-width="0.7" d="M406.6 109.4l-2.8 -3.2"/>
<path stroke="#0000dd" stroke-width="0.7" d="M395.8 109l-2.6 -3.1M338.3 109.2l-3.1 -4.3M363.8 110l-2.9 -3.4M305.3 107.7l-2.5 -3.1"/>
<path stroke="#da0000" stroke-width="0.7" d="M369.4 109.2l-3.2 -4.3M375.6 108.4l-2.4 -3.4M436.1 107.8l-3 -4.3"/>
<path stroke="#c5c5ff" stroke-width="1.9" d="M450.2 108l-3.7 -4.9M433.9 107.9l-3.8 -3.8M343.7 110.3l-3.6 -5.1M307.1 110.1l-3.8 -4.3M414.4 110l-3.6 -4.6M336.3 109.6l-2.5 -3.7"/>
<path stroke="#00007b" stroke-width="1" d="M366.1 110l-3.6 -4M371.8 107.7l-3.8 -4.6"/>
<path stroke="#ff8989" stroke-width="1" d="M407.8 107.7l-3.7 -4.4M342.8 107.9l-3 -3.8M312.9 107.8l-2.7 -3.1M307.2 107.4l-1.7 -2.4M363.6 109.2l-4.1 -4.6M463.9 109.9l-3.3 -3.9M316.9 106.8l-2 -2.2M377.8 108.8l-2.8 -3.8"/>
<path stroke="#3939ff" stroke-width="0.7" d="M396.3 109.3l-2 -2.4"/>
<path stroke="#c5c5ff" stroke-width="1" d="M376 108.2l-2.4 -2.9M407.9 108.3l-2.8 -3M317.8 108.4l-2.7 -2.6"/>
<path stroke="#ff6666" stroke-width="1" d="M308.4 109.8l-3.6 -3.9M385 109.1l-2 -2.1M406.9 108.9l-3 -3.7"/>
<path stroke="#7f7fff" stroke-width="1.9" d="M371.6 109.8l-2.7 -3.8"/>
<path stroke="#1616ff" stroke-width="1" d="M356.7 108.7l-4.2 -4.2M410.7 108.4l-3.5 -3.6M347 107l-2.8 -3.2"/>
<path stroke="#0000dd" stroke-width="1" d="M366.9 108l-3.7 -3.9"/>
<path stroke="#ff6666" stroke-width="1.4" d="M311.3 107.3l-3.1 -3.3M405.6 110.1l-3.7 -3.6M319.8 110.1l-3.3 -4.1M455.9 109.6l-3.1 -3.9M400.1 107.7l-3 -3.5"/>
<path stroke="#ff6666" stroke-width="1.9" d="M440.3 106.9l-2.1 -2.2M395.2 108.5l-2.8 -3.9"/>
<path stroke="#fd0000" stroke-width="0.7" d="M463.8 108.9l-3.2 -4M386 107.4l-3.3 -3.4M392.2 106.8l-1.9 -2.2M372.2 107.9l-2.8 -4.1M405.5 109.1l-2.7 -3.1"/>
<path stroke="#0000c4" stroke-width="0.7" d="M305.2 108.5l-2 -2.7M384.4 107.8l-1.7 -2.5M374.4 107.3l-2 -2.6M333.4 108.9l-3.1 -3.9M392.6 108.2l-3 -4.4"/>
<path stroke="#e8e8ff" stroke-width="1" d="M360.7 107.6l-3.7 -4.6"/>
<path stroke="#000093" stroke-width="1" d="M317 110.1l-3.3 -4.5M373 110.3l-4.3 -4.5M462 107.3l-1.9 -2.5"/>
<path stroke="#c90000" stroke-width="0.7" d="M393.7 109.4l-3 -3.9M399.3 109.6l-2.9 -3.9M416 108l-2.6 -3"/>
<path stroke="#ffacac" stroke-width="1.9" d="M433.9 107.5l-2.9 -3.7M455.4 107.4l-3.2 -3.8M330.7 108.1l-3.5 -3.5M402.7 109.2l-2.2 -2.4M436 108.5l-2.5 -2.8M463.4 107.7l-4.5 -4.4M393.6 109.5l-2.3 -2.3M337.2 110.1l-3.1 -3.8"/>
<path stroke="#7f7fff" stroke-width="1" d="M384.9 110l-2.4 -3.4"/>
<path stroke="#ffacac" stroke-width="1.4" d="M458 109.8l-2.3 -3.1M445.9 107.6l-2.4 -2.6M364.5 108.1l-3.7 -4.3M353.6 108.7l-2.2 -3M369.5 109.3l-2 -2.6M419.3 108l-3.9 -4.7M396.1 109.9l-3.1 -3.5"/>
<path stroke="#ffcfcf" stroke-width="1.9" d="M425.8 109.8l-3.9 -3.9M441 108.8l-2.8 -3.4M323.5 108.7l-3 -3.3"/>
<path stroke="#0000c4" stroke-width="1" d="M422.3 107.8l-1.8 -2.4M449.2 108.6l-2.1 -2.9M403 108.7l-2.7 -2.9"/>
<path stroke="#5c5cff" stroke-width="1.4" d="M404.8 108.6l-2.1 -2M332.4 106.9l-3 -3.4M313.2 107l-1.8 -2.7M347.6 108.2l-3.5 -4.6M433.4 108.5l-2.2 -2.5M355.9 107.4l-2.5 -2.9"/>
<path stroke="#e8e8ff" stroke-width="1.4" d="M323.9 109.8l-3.7 -3.8M336.5 107.3l-2.8 -3.3M362.3 108l-3.2 -4.3M425.2 108.2l-3.6 -4.4M315.6 108.8l-3.4 -3.5"/>
<path stroke="#a2a2ff" stroke-width="1" d="M357.4 108.9l-2.6 -2.7M444.1 109l-2.4 -2.4"/>
<path stroke="#a2a2ff" stroke-width="1.9" d="M439.7 108.6l-3.5 -5M328.3 109.9l-3.1 -4M383.4 109.6l-3.5 -4.6"/>
<path stroke="#00007b" stroke-width="0.7" d="M450.4 108l-2.6 -2.8M386.4 108.5l-2.3 -3.4"/>
<path stroke="#ffacac" stroke-width="1" d="M436.8 107.5l-2.9 -3.5M305.6 109.2l-3.2 -4.2M371 108.2l-3.6 -4.5M399.5 110.6l-3.6 -4.7M386.4 110.6l-4.2 -4.7M332.5 109.3l-2.1 -2.6M430.1 109.8l-4.4 -4.5"/>
<path stroke="#e8e8ff" stroke-width="1.9" d="M438.5 107.5l-2.1 -2.1M455.7 109l-2.5 -3.6M413.2 109.9l-4.2 -4.4"/>
<path stroke="#a50000" stroke-width="1" d="M453.3 108.3l-3 -3.4M399.5 107.8l-3.8 -4.3"/>
<path stroke="#000093" stroke-width="0.7" d="M377.9 109.2l-2.7 -3M327.4 107.7l-2 -2.2"/>
<path stroke="#fff3f3" stroke-width="1.4" d="M363.2 108.9l-2.9 -3.7M311.2 106.7l-2.9 -2.9M428.5 107.5l-4 -4.4M365.9 110.1l-3.2 -4.2M450.7 109.2l-4.1 -4M331.6 110.7l-4 -4.9M338.7 109.3l-3.7 -4.6M394.9 109.1l-1.8 -2.6M314.7 110.1l-3.4 -3.6M449.7 108.5l-2.9 -2.8"/>
<path stroke="#ff8989" stroke-width="1.9" d="M462.2 107.6l-1.8 -2.5M355.2 109l-3.5 -3.8M390.9 107l-2.2 -2.6M456.9 109.1l-2.5 -3M427.6 107.9l-3.5 -3.5M456.5 108.1l-2.4 -2.5M367.8 110.3l-3.7 -5.1"/>
<path stroke="#a50000" stroke-width="0.7" d="M342.3 107.3l-2.8 -3.2"/>
<path stroke="#ff4343" stroke-width="1" d="M386.4 108l-4 -4.1M446.8 107.6l-3.3 -4.6"/>
<path stroke="#ffcfcf" stroke-width="1" d="M340.1 109.2l-3.3 -4.9M464.2 108.7l-2 -2.6M313.5 109.4l-3.9 -4.8M413.5 109.5l-2.3 -2.9M348.1 109.6l-3.2 -3.5M345.3 108.8l-2 -2.5M448.1 109.7l-2.7 -2.8"/>
<polygon fill="#860000" points="313.6,107.3 326.7,108 339.8,109.6 339.1,110.5 325.3,109.2 313.6,108.3"/>
</g></g>
<rect x="304.7" y="66.3" width="236.5" height="94.4" fill="none" stroke="#000" stroke-width="0.5"/>
<g font-family="'DejaVu Sans','Liberation Sans',sans-serif" font-size="6.7" fill="#111" stroke="#000" stroke-width="0">
<text x="343.3" y="171.2" text-anchor="middle">100</text>
<text x="382.1" y="171.2" text-anchor="middle">200</text>
<text x="421.0" y="171.2" text-anchor="middle">300</text>
<text x="459.8" y="171.2" text-anchor="middle">400</text>
<text x="498.6" y="171.2" text-anchor="middle">500</text>
<text x="537.4" y="171.2" text-anchor="middle">600</text>
<text x="300.3" y="144.3" text-anchor="end">50</text>
<text x="300.3" y="124.8" text-anchor="end">100</text>
<text x="300.3" y="105.3" text-anchor="end">150</text>
<text x="300.3" y="85.8" text-anchor="end">200</text>
<path d="M343.3 160.7v2.2M382.1 160.7v2.2M421.0 160.7v2.2M459.8 160.7v2.2M498.6 160.7v2.2M537.4 160.7v2.2M302.5 141.8h2.2M302.5 122.3h2.2M302.5 102.8h2.2M302.5 83.3h2.2" stroke-width="0.6"/>
</g>
<text x="415.3" y="185.4" text-anchor="middle" font-family="'Liberation Serif',serif" font-size="12" fill="#000">(<tspan font-weight="bold">b</tspan>)</text>
<rect x="22.1" y="193.0" width="241.7" height="95.8" fill="#860000"/>
<clipPath id="kc">
<polygon points="24.5,232.5 24.5,263 38.5,266 55.4,270.3 64.9,272 72.8,271.3 81.1,268.5 91.4,270.9 102.5,272.2 113.2,271.5 120.8,268.5 131.1,270.9 142.1,272.2 152.8,271.5 160.4,268.5 170.7,270.9 181.8,272.2 192.5,271.5 200,268.5 210.3,270.9 221.4,272.2 232.1,271.5 238.4,269.3 255.1,266.4 261.4,264.2 261.4,232.5"/>
</clipPath>
<g clip-path="url(#kc)"><g fill="none" filter="url(#jag)">
<polygon points="24.5,232.5 24.5,263 38.5,266 55.4,270.3 64.9,272 72.8,271.3 81.1,268.5 91.4,270.9 102.5,272.2 113.2,271.5 120.8,268.5 131.1,270.9 142.1,272.2 152.8,271.5 160.4,268.5 170.7,270.9 181.8,272.2 192.5,271.5 200,268.5 210.3,270.9 221.4,272.2 232.1,271.5 238.4,269.3 255.1,266.4 261.4,264.2 261.4,232.5" fill="#f6c4c8"/>
<path stroke="#ff8989" stroke-width="5.5" d="M78 244.8l5.8 -12.1 5.8 -12.1"/>
<path stroke="#3939ff" stroke-width="5.5" d="M55.4 242.8l3.1 -6.5 2.2 -6.8"/>
<path stroke="#da0000" stroke-width="5.5" d="M171.4 259.4l2.3 -9.2 3.5 -8.8"/>
<path stroke="#fd0000" stroke-width="5.5" d="M166.2 263.9l4.2 -8.4 5 -7.9"/>
<path stroke="#0000ac" stroke-width="5.5" d="M87.3 249.4l4.3 -9 4.9 -8.6M114 246l2.2 -12.2 3.9 -11.8"/>
<path stroke="#ffcfcf" stroke-width="5.5" d="M159.2 246.7l3.9 -11.8 4.4 -11.7M185.2 240.9l3 -6.5 3.4 -6.3M230.7 261.9l2.4 -5.4 2.2 -5.5M233.7 243.8l3.3 -10.7 2.8 -10.9"/>
<path stroke="#a50000" stroke-width="5.5" d="M259.8 249.1l2.4 -6.7 3 -6.4M39.2 256l2.4 -6.4 2 -6.5"/>
<path stroke="#ff2020" stroke-width="5.5" d="M159.8 251.5l4.7 -12.3 4.4 -12.4M37.5 246.8l5.2 -11.4 5.3 -11.4M147.8 258.6l3.4 -7.9 3.2 -8M177.7 255.2l6.1 -9.9 6 -10"/>
<path stroke="#000062" stroke-width="5.5" d="M62.9 262.1l2.7 -10.5 4 -10.1"/>
<path stroke="#ff6666" stroke-width="5.5" d="M252.9 250.8l3.5 -12.5 4.5 -12.2M143.3 261.5l2.1 -5.2 2 -5.2M182.8 262.4l2.7 -7.2 2.6 -7.2"/>
<path stroke="#7f7fff" stroke-width="5.5" d="M62.1 245.8l3.9 -11.3 3 -11.6M194.8 254.4l1.5 -6.1 1.4 -6.1"/>
<path stroke="#0000c4" stroke-width="5.5" d="M161.4 261.3l1.3 -5.3 1.7 -5.2"/>
<path stroke="#0000f5" stroke-width="5.5" d="M216.4 260l2.8 -8.5 2.4 -8.6"/>
<path stroke="#c90000" stroke-width="5.5" d="M113.2 245.6l3.5 -8.4 4.7 -7.8M31.7 248.4l5.4 -10.8 5.1 -10.9"/>
<path stroke="#c5c5ff" stroke-width="5.5" d="M160.7 256.7l3.6 -6.7 3.3 -6.9M25.6 247.7l2 -6.6 2.1 -6.6M133.1 245.7l3.9 -7.3 4.2 -7.1"/>
<path stroke="#5c5cff" stroke-width="5.5" d="M39.8 252.9l5.5 -11.2 5.4 -11.3"/>
<path stroke="#ec0000" stroke-width="5.5" d="M108 262.6l2.6 -6.3 2.6 -6.3M66.7 245.9l1.9 -9.1 2.5 -8.9"/>
<path stroke="#ffacac" stroke-width="5.5" d="M160.4 253.6l3.8 -11.9 4.3 -11.7M249.3 256.3l3.1 -5.9 3.1 -5.9"/>
<path stroke="#a2a2ff" stroke-width="5.5" d="M187.9 241l2.5 -7.5 3.1 -7.2"/>
<path stroke="#e8e8ff" stroke-width="5.5" d="M198.1 252.6l2.9 -6.6 3.2 -6.5M59.3 250l5 -10.1 5.1 -10.1"/>
<path stroke="#0000dd" stroke-width="5.5" d="M210 260.5l1.8 -8 1.6 -8M34 260.6l5 -8.9 4.2 -9.3"/>
<path stroke="#ec0000" stroke-width="4.2" d="M153.1 260.3l3.6 -8.6 5 -7.9M218 250.7l3.9 -9.3 4 -9.2M177.6 264.3l1.7 -7.8 1.7 -7.8M107.5 263.5l1.8 -5.3 2.2 -5.1M252.3 250.5l4.2 -11 5.5 -10.4M213.5 257.3l4.3 -9.6 3.9 -9.7M233.7 257.5l1.4 -6.3 1.6 -6.3"/>
<path stroke="#ff2020" stroke-width="4.2" d="M143 263.6l4.9 -8.6 3.9 -9.2"/>
<path stroke="#0000dd" stroke-width="4.2" d="M248.9 251l4.6 -10.2 4.2 -10.4M79.3 260.9l3.7 -9.1 3.6 -9.2M141 241.2l3.2 -6.5 2.8 -6.7"/>
<path stroke="#ffcfcf" stroke-width="4.2" d="M112 257.4l3.1 -6.5 3.5 -6.4M153.8 264.6l4.1 -8.7 4.1 -8.7M62.6 261.4l3.8 -7 3.2 -7.3M91 244.5l4.2 -8.7 4.4 -8.6M24.6 258.5l4.7 -8.6 4.8 -8.6M129.4 261.7l2.5 -8.6 1.7 -8.7"/>
<path stroke="#da0000" stroke-width="4.2" d="M85.8 257.3l4.1 -7.8 3.6 -8M82.8 260.4l2.9 -8.5 3.6 -8.2M148.7 264.5l3.3 -7 3.1 -7.1"/>
<path stroke="#c5c5ff" stroke-width="4.2" d="M94.7 252.9l2.9 -8.6 3.5 -8.3M90.4 254l3.3 -11.1 4.1 -10.8M229 259.4l3 -6.8 2.3 -7.1M52.2 262.1l2.7 -6.2 2.9 -6.1"/>
<path stroke="#3939ff" stroke-width="4.2" d="M57.7 263.3l2 -8.6 2.7 -8.4"/>
<path stroke="#e8e8ff" stroke-width="4.2" d="M158.4 246l3.9 -12.8 5.1 -12.4M246.3 252.4l2.3 -5.9 1.9 -6.1M194.4 256.2l4.6 -8.5 4.6 -8.6M162.3 247.2l3.1 -8.8 3.3 -8.7"/>
<path stroke="#ff6666" stroke-width="4.2" d="M153.1 257.4l5.5 -9.6 5.5 -9.6M109.2 247.7l6.2 -10.1 5.5 -10.5M244.2 251l4.3 -12.4 3.7 -12.5M113.4 249l2.5 -6.7 3 -6.5M204.1 248.7l3.3 -9.7 3.6 -9.6"/>
<path stroke="#0000ac" stroke-width="4.2" d="M125.1 258.5l2.7 -6.4 2.8 -6.4M67 247.4l4.1 -13.3 3.1 -13.6"/>
<path stroke="#fd0000" stroke-width="4.2" d="M238.4 249.7l4.7 -8.7 3.5 -9.3M200.1 252.7l3.6 -9.5 3 -9.7"/>
<path stroke="#940000" stroke-width="4.2" d="M114.5 252.8l2.3 -8 2.4 -7.9"/>
<path stroke="#c90000" stroke-width="4.2" d="M43.1 247.8l3.6 -8.6 2.6 -8.9"/>
<path stroke="#ff8989" stroke-width="4.2" d="M152.7 253l4.8 -10.9 5.5 -10.5M156.1 246.1l2.8 -8.1 2.4 -8.2M263 252.1l2.4 -5.5 2.5 -5.5M254.4 255.8l2 -6.8 2.6 -6.6M22 265.4l2.2 -9 2.7 -8.8M43.7 257.4l1.9 -7 2.2 -6.9M57.8 257.6l2 -7.4 1.6 -7.5M168.9 261.5l2.9 -6.7 3.4 -6.5"/>
<path stroke="#0000c4" stroke-width="4.2" d="M218.4 250.7l5.1 -9.9 4.2 -10.3M110.4 246.2l4.3 -9.1 4.1 -9.2M211.8 263.2l1.5 -7.7 1.8 -7.6M84.1 244.9l3.3 -12.1 3.4 -12.1M77.7 248.9l4.9 -12.8 4.7 -12.9M111.7 254.5l3.9 -8.3 4 -8.3"/>
<path stroke="#fff3f3" stroke-width="4.2" d="M27.7 261.2l3.9 -8.7 3.8 -8.8M53.4 260.6l3.6 -8.5 3.9 -8.4M216 258l2.5 -5.8 2.3 -5.8M95.1 243.1l3.7 -7.1 2.9 -7.5M148.2 261.6l4 -9.8 3.1 -10.1M189.6 251.5l2 -5.7 1.6 -5.8"/>
<path stroke="#0000f5" stroke-width="4.2" d="M231.3 257.7l2.9 -5.5 3.4 -5.2M44.4 266.3l3.8 -8.2 4.2 -7.9M142.3 260.9l4 -9.3 4 -9.2M79.5 257.5l3.3 -10.5 3.2 -10.5"/>
<path stroke="#ffacac" stroke-width="4.2" d="M60.4 252.1l4.3 -7.7 3.9 -8"/>
<path stroke="#ff4343" stroke-width="4.2" d="M253.5 239.5l3.6 -6.3 3.2 -6.5M163 251.4l2.5 -7.9 3 -7.7M105.8 250.1l2.2 -8.3 2.2 -8.2"/>
<path stroke="#a2a2ff" stroke-width="4.2" d="M62.4 249.9l3.4 -10.4 3.5 -10.3M114.1 265.3l4 -9.1 5.2 -8.5"/>
<path stroke="#5c5cff" stroke-width="4.2" d="M130.1 246.8l3 -6.8 3.2 -6.8M241.5 246.8l3.9 -10.3 5.1 -9.7M43.7 253.8l2.8 -6.9 2.4 -7.1"/>
<path stroke="#da0000" stroke-width="3.2" d="M161.2 278.3l1.7 -4.9 1.7 -4.9M158.9 276.5l2 -6.3 2.4 -6.2M256.4 244.3l6.2 -9.6 6.1 -9.7M84.8 247.1l2.1 -7.8 3 -7.5M232.6 241.6l2.7 -8 2.3 -8.1M64.7 242.9l5.1 -9 4 -9.5M138.9 270.6l2.7 -5.8 3.2 -5.5M35.2 254.8l5.7 -9.7 5.8 -9.6"/>
<path stroke="#5c5cff" stroke-width="3.2" d="M144.2 270l2.8 -6.3 2.5 -6.5M195.3 268.4l2.1 -8.1 2.1 -8.1M54.4 243.7l2.4 -8.7 2.9 -8.5M75 274l2.3 -8 2.5 -7.9M28.9 257.8l2.3 -5.9 1.5 -6.2"/>
<path stroke="#a2a2ff" stroke-width="3.2" d="M95.8 251.6l2.7 -10.8 2.4 -10.9M44.7 269.1l1.9 -4.1 1.9 -4.1M57.2 258.4l1.8 -5.4 1.7 -5.5M76.3 255.7l3.8 -10.5 3.9 -10.5M21.2 248.1l4.8 -12.1 4.1 -12.4M79.2 244.9l2.8 -7.5 3.5 -7.3"/>
<path stroke="#ffcfcf" stroke-width="3.2" d="M163.2 252.9l5.1 -11.5 6.4 -10.8M127.7 264.6l4.1 -9 4.7 -8.7M229.9 260.8l1.9 -10 3.2 -9.7M71.6 261.1l3.2 -5 2.6 -5.3M88.5 273.7l2.2 -6.4 2.4 -6.4"/>
<path stroke="#7f7fff" stroke-width="3.2" d="M236.6 246.8l3.3 -12.6 3 -12.6M205.4 248.5l3.1 -5.7 2.5 -5.9M243.2 253.3l4.3 -8.9 5.2 -8.4M172 259.3l3.3 -10 2.9 -10.2M131.2 277.8l1.9 -6.1 2.3 -6M76 264.8l2.6 -7.4 2.6 -7.4"/>
<path stroke="#c5c5ff" stroke-width="3.2" d="M218 262.8l2.2 -6.4 2.5 -6.3M132.4 248.9l3.5 -7.6 3.1 -7.8M186 266.4l0.9 -4.5 1.6 -4.3M75.2 246.8l3.6 -11.2 3.7 -11.2M253.2 245.1l4.3 -11.8 4.1 -11.9M88.6 264.8l4.3 -9 3.6 -9.4M231.8 244.6l4.6 -11.3 4.8 -11.3M166.7 244.8l5.1 -12.3 4.1 -12.6"/>
<path stroke="#0000ac" stroke-width="3.2" d="M207.7 258.2l1.8 -8 2.8 -7.7M195.9 246.9l3 -8.4 3.2 -8.3M228.4 272l2.1 -5.2 2.4 -5.1"/>
<path stroke="#ff6666" stroke-width="3.2" d="M97.8 265.1l1.7 -5.1 2.4 -4.8M40.8 270.1l1.6 -5.4 1.2 -5.5M95.3 260.1l3.2 -9.6 2.6 -9.8M148.5 269.2l2.5 -6.2 3 -5.9M260.8 248l2.6 -6.1 2.7 -6.1M183.1 244.1l3.2 -7.1 3 -7.3"/>
<path stroke="#a50000" stroke-width="3.2" d="M168.2 249.9l4.2 -9.3 3.5 -9.6M79.6 246.9l2.7 -6.4 2.8 -6.4M220.2 257.4l1.8 -8.7 2.3 -8.6M201.1 260.9l3 -7.7 3.9 -7.3"/>
<path stroke="#000062" stroke-width="3.2" d="M187.5 276.3l2 -4.8 2.2 -4.7"/>
<path stroke="#ff2020" stroke-width="3.2" d="M210.2 268.8l3.1 -8.6 2.8 -8.7M90 268.6l2.8 -7 2.3 -7.2M221.2 264.6l3.2 -8 3.5 -7.9M109.5 257.9l4.9 -8.5 5.1 -8.5M225.7 253l2 -6.9 3 -6.5"/>
<path stroke="#0000f5" stroke-width="3.2" d="M92.5 265.1l3.2 -7.7 3.3 -7.7M242.3 255.6l3.5 -7.7 3.1 -7.9M221.5 251.9l4.4 -9.4 5.7 -8.7M72.2 254l4 -7.7 3.5 -8M56 262.5l2.6 -9.8 3 -9.7M162.9 266.4l1.9 -4.3 1.6 -4.4M210.3 257.6l2.5 -7.2 2.7 -7.1"/>
<path stroke="#fff3f3" stroke-width="3.2" d="M212.4 258.4l4.2 -10.2 5.3 -9.7M191 266.1l1.7 -6 1.8 -6M152.9 277.9l1.4 -4.2 1.8 -4.1M29.2 273.6l2.6 -5.9 2.5 -5.9M67.7 255.3l3.4 -6.1 2.8 -6.4M112.6 244.8l3.2 -6.7 3.2 -6.7"/>
<path stroke="#fd0000" stroke-width="3.2" d="M156.7 248.6l4 -9 4.8 -8.7M58.4 266.6l2.8 -9.4 3 -9.4M66.8 269.5l2.5 -5.3 3 -5.1"/>
<path stroke="#000093" stroke-width="3.2" d="M211.5 264.4l3.4 -6.1 3 -6.3"/>
<path stroke="#ff4343" stroke-width="3.2" d="M105.4 244.8l2.9 -9 2.3 -9.1M236.7 267.8l2.5 -7 2 -7.2"/>
<path stroke="#ff8989" stroke-width="3.2" d="M247 261l2.4 -6.4 2.9 -6.2M46.9 257.3l3.1 -7 2.3 -7.3M191.8 259.1l3.8 -6.5 3.2 -6.8M25.3 276.3l1.6 -4.4 1.6 -4.4M74.1 255l2.2 -10.2 2 -10.2M170.1 240.5l2.8 -7.5 3.2 -7.3M29.5 268.3l3.1 -6.4 2.9 -6.5M128.9 262.8l1.5 -5.5 1.5 -5.5"/>
<path stroke="#ec0000" stroke-width="3.2" d="M207.7 268.1l2 -6.3 1.7 -6.4M244.4 271.6l1.5 -4.2 1.7 -4.1M188.1 270.1l2.5 -8 1.7 -8.2M105.1 241.7l4.5 -9 4.7 -8.9M252.4 253.2l3.5 -9.9 2.7 -10.1M206.5 247.3l3.8 -13 4.2 -12.9M63.6 268.4l2.7 -5.3 1.9 -5.7"/>
<path stroke="#3939ff" stroke-width="3.2" d="M166.4 259.2l4.9 -9.7 4.9 -9.7M23.7 261.9l1.8 -5.4 2 -5.3M245.4 280l2.4 -6.1 3 -5.8M195.3 255.1l2 -5.7 1.3 -5.8M159.5 264.1l3.3 -6.4 2.9 -6.6M237.1 258.3l2 -5.2 1.4 -5.4M125.4 264.1l2.8 -7.3 3 -7.3M169.2 275.8l2.1 -3.9 2 -4M100.8 274.1l1.7 -3.9 2 -3.7M255.3 254.8l4.2 -10.4 5 -10.1"/>
<path stroke="#ffacac" stroke-width="3.2" d="M217.9 278l1.4 -5.5 1.7 -5.4M143.8 253.1l4 -10.1 5.2 -9.5M105.6 257.2l4.7 -8.6 3.6 -9.1"/>
<path stroke="#b70000" stroke-width="3.2" d="M215.3 249l2 -7.2 1.9 -7.2"/>
<path stroke="#e8e8ff" stroke-width="3.2" d="M57.7 248.7l5.1 -11.5 6.4 -10.9M135 270.9l3.1 -8 3.4 -7.9M160.6 254.2l2.3 -6.1 2.3 -6.1M32.7 253.5l2.6 -6.7 2.6 -6.7M165.2 279.8l1.5 -6.6 1.7 -6.6"/>
<path stroke="#0000c4" stroke-width="3.2" d="M74 276l2.4 -6.5 2.4 -6.5M117.7 263.1l2.7 -6.1 2.4 -6.2M127.4 275l1.4 -6.1 1.2 -6.2"/>
<path stroke="#c90000" stroke-width="3.2" d="M168.7 263.3l2.7 -8.6 2.3 -8.7M251.8 251.1l6.3 -11.1 5.8 -11.4M84.6 278.8l2.1 -5.2 2.1 -5.2M207.3 266.2l4.2 -7.2 3.7 -7.5"/>
<path stroke="#1616ff" stroke-width="3.2" d="M243.3 260.3l2.5 -5.5 2.5 -5.4M44.9 259.7l3.5 -7.1 3.9 -6.9"/>
<path stroke="#0000dd" stroke-width="3.2" d="M101.7 250l3.5 -11.4 3.1 -11.5M119.7 262.1l2.8 -6.9 3.3 -6.7M60.9 257.4l4.6 -9.8 3 -10.4"/>
<path stroke="#ff6666" stroke-width="2.5" d="M22.8 261.2l4.3 -9.9 3.6 -10.2M211.7 272.4l2.1 -6 2.1 -6M199.7 264.2l1.3 -5.7 2.1 -5.4M81.1 275.2l1.9 -4.6 1.8 -4.6M158.6 279.1l1.3 -6.9 1.4 -6.9M68.2 272l1.8 -5.9 2.2 -5.8"/>
<path stroke="#a50000" stroke-width="2.5" d="M248 265.8l2.1 -6.8 1.9 -6.9"/>
<path stroke="#0000f5" stroke-width="2.5" d="M61.8 276.3l2.1 -6.3 1.7 -6.4M132.9 255.4l2.5 -5.5 2.8 -5.3M211.5 268.1l1.5 -4.7 1.2 -4.7"/>
<path stroke="#000093" stroke-width="2.5" d="M27.9 278.5l3.1 -6.5 2.3 -6.9"/>
<path stroke="#00007b" stroke-width="2.5" d="M97.9 261.5l2.8 -5 2.6 -5.1M23.9 269.7l2.7 -4.7 2.9 -4.7M200.8 260.5l4 -9.7 3.6 -9.9M101.6 247.4l3.8 -8.9 2.4 -9.4"/>
<path stroke="#ff2020" stroke-width="2.5" d="M90.4 271.2l1.3 -7.1 1.9 -6.9M56.1 269.8l2.1 -6.2 2.5 -6M99.5 258.3l2.8 -10.2 4 -9.8"/>
<path stroke="#ff4343" stroke-width="2.5" d="M222.8 276.7l1.9 -5 1.3 -5.2M132.5 258.2l3.3 -8.6 2.5 -8.8M44 268.3l2.2 -7.7 2.4 -7.6M80.9 253.7l3.7 -8.3 4.1 -8.1M68.3 266.4l1.5 -4.6 1.9 -4.4M197.2 265.6l1.5 -5.4 2.1 -5.2"/>
<path stroke="#000062" stroke-width="2.5" d="M71.9 276.3l3.7 -6.7 4.1 -6.5M97.5 276.9l1.2 -3.9 1.1 -3.9"/>
<path stroke="#7f7fff" stroke-width="2.5" d="M49.8 267.1l1.6 -8.8 1.9 -8.7M26.7 277l3.3 -6.4 3.7 -6.2M177.6 242l2.1 -7.8 2.9 -7.6M232.3 269.7l4.4 -7.2 3.8 -7.6"/>
<path stroke="#ffcfcf" stroke-width="2.5" d="M57.3 265.8l2.8 -5 2.4 -5.2M251.5 275.3l1.6 -3.6 2 -3.5M237.7 265.5l3.7 -7.1 2.8 -7.5M79.1 263.2l3.6 -7.7 4.3 -7.4"/>
<path stroke="#e8e8ff" stroke-width="2.5" d="M98.5 271.3l1.8 -4.2 1.8 -4.2M48.1 277.4l2 -5.4 2.1 -5.4M161.6 274l2.8 -7.4 3.3 -7.2M25.5 273.2l2.4 -7.2 2.5 -7.1"/>
<path stroke="#940000" stroke-width="2.5" d="M51.4 266.9l1.8 -4.6 1.7 -4.6"/>
<path stroke="#b70000" stroke-width="2.5" d="M30.4 277.1l2.2 -5.4 2.3 -5.4"/>
<path stroke="#fd0000" stroke-width="2.5" d="M29.1 274.4l1.4 -4.2 1.7 -4.1M228.9 276.2l1.2 -4.4 1.6 -4.3M23 277.9l1.9 -5.4 2 -5.4M183.5 271.5l2.4 -6.2 2.6 -6.1"/>
<path stroke="#ec0000" stroke-width="2.5" d="M98 256l3.9 -6.8 3.5 -7M25.6 270.8l2.6 -6.9 3 -6.8M144.5 242.2l5.1 -8.8 4.3 -9.2M86.2 259.5l3.4 -8.5 3.6 -8.4M39.9 263.6l3.4 -7 2.6 -7.4M42.6 262.1l2.6 -7.7 2.5 -7.7"/>
<path stroke="#5c5cff" stroke-width="2.5" d="M189.2 275.1l2.2 -4.4 1.8 -4.6M57 273.1l1.7 -4 1.7 -4M24.6 274.5l2.1 -7.1 1.9 -7.2M145.5 253.6l2.6 -12 2.3 -12.1M47.4 278l2.9 -4.7 2.8 -4.8M127.3 251.7l2.8 -7.6 2.1 -7.8M107.8 268.7l2.5 -8.2 3 -8.1M175.3 272.8l1.1 -4.6 1.6 -4.5M80.4 259.9l3.4 -8.6 2.2 -9M28.7 268.1l2.7 -8.9 2.2 -9M80.4 265.6l2.6 -6.4 2.1 -6.6"/>
<path stroke="#3939ff" stroke-width="2.5" d="M130.6 248.3l2.9 -9.8 2.8 -9.8M257.7 246.8l5.2 -10.4 6 -10M257.9 267.1l1.4 -5.7 1.4 -5.7"/>
<path stroke="#ff8989" stroke-width="2.5" d="M172.5 269.7l3.4 -5.8 2.9 -6.2M226.7 266.2l1.8 -4.3 1.9 -4.3M124.7 258.1l4.1 -10.7 4.4 -10.6M63.5 274.6l1.4 -5.8 1.1 -5.8M57.5 274.9l2.4 -4.9 2.2 -5M88.4 253.6l3.7 -10.9 3.4 -11M190.2 249.5l2.2 -7.7 2.7 -7.5"/>
<path stroke="#c90000" stroke-width="2.5" d="M182.2 265.5l1.9 -4.3 1.4 -4.5M69.2 269.1l3.1 -7.2 3.9 -6.8M105.3 271.9l1.6 -4.1 1.7 -4M224.4 250.1l3.3 -8.7 3 -8.8M259.3 272.4l1.4 -3.8 1.1 -4"/>
<path stroke="#0000ac" stroke-width="2.5" d="M216.3 272.8l3.2 -6.4 2.8 -6.6"/>
<path stroke="#a2a2ff" stroke-width="2.5" d="M83.3 270.8l3.5 -6.1 2.9 -6.4M237.3 258.2l2.2 -10.4 2.8 -10.2"/>
<path stroke="#da0000" stroke-width="2.5" d="M168 266.7l3.2 -7.9 3.8 -7.7M88.3 255.9l1.9 -5.7 2 -5.6M239.1 274.7l1.6 -3.8 1 -4"/>
<path stroke="#c5c5ff" stroke-width="2.5" d="M195.8 265.7l4.2 -8 4.5 -7.9M182.5 271.5l2.6 -5.4 2.6 -5.4M76 267.4l1.6 -4.3 2.1 -4.2"/>
<path stroke="#0000dd" stroke-width="2.5" d="M33.4 244.8l5.4 -10.1 4.5 -10.5M77.7 278.3l2.2 -4.5 1.9 -4.6M76.1 273l1.6 -4.1 1.7 -4M163.5 273.3l2.2 -6.2 2.6 -6"/>
<path stroke="#1616ff" stroke-width="2.5" d="M57.9 273.4l2.6 -6.4 2.2 -6.6M199.1 267.7l2.7 -7.3 1.6 -7.6M152.3 277.3l1.4 -4.3 1.6 -4.2M34.7 278l1.5 -4 1 -4.2M25.3 267.2l3.8 -7.2 4.1 -7.1M248.2 275.6l2.2 -6.7 2.8 -6.5M249 273.9l3.3 -6.4 3.1 -6.5M166.8 278l3.7 -6.1 3.2 -6.4M140.2 273.2l1.4 -4.2 1 -4.3"/>
<path stroke="#ffacac" stroke-width="2.5" d="M223.9 279.2l2.7 -5.9 2.2 -6.1M218.9 276.2l2.3 -7 3.1 -6.6M78.6 256l4.7 -9.8 4.1 -10.1"/>
<path stroke="#fff3f3" stroke-width="2.5" d="M150.5 279l2.3 -5 2.2 -5.1M251.1 275.7l2 -5.5 2 -5.5M176.2 269.3l1.7 -4.3 2 -4.2M54.2 277.4l1.9 -4.3 1.5 -4.5M112.2 271.2l1.8 -8.2 1.9 -8.2"/>
<path stroke="#5c5cff" stroke-width="1.9" d="M120.7 278.2l2.1 -7.1 2.3 -7M96.2 273l1.6 -3.9 1.4 -4M231.2 272.6l2.9 -7.6 3 -7.5"/>
<path stroke="#a50000" stroke-width="1.9" d="M125.1 269.8l2.1 -3.9 2 -3.9"/>
<path stroke="#940000" stroke-width="1.9" d="M50.8 270.9l2.9 -4.8 2.3 -5.1"/>
<path stroke="#ff6666" stroke-width="1.9" d="M222.1 273l2.6 -6 2.3 -6.1M145.6 274.1l3.9 -6.4 3.6 -6.6"/>
<path stroke="#0000f5" stroke-width="1.9" d="M260.1 268.8l2.1 -4.7 2 -4.8"/>
<path stroke="#ec0000" stroke-width="1.9" d="M148.8 267.9l2.8 -7.3 2.7 -7.3M257.6 274.7l2.7 -5.2 2.9 -5.1M197.4 278.1l2.1 -4.6 2.1 -4.6"/>
<path stroke="#000062" stroke-width="1.9" d="M128.5 269l1.7 -7.7 1.8 -7.7M129.8 274.5l3.2 -7.4 3.4 -7.3"/>
<path stroke="#00007b" stroke-width="1.9" d="M76.3 269.8l2.1 -4.5 1.9 -4.6"/>
<path stroke="#0000c4" stroke-width="1.9" d="M96.9 271.4l3.4 -7.8 3.3 -7.8"/>
<path stroke="#fd0000" stroke-width="1.9" d="M29.1 277.4l2 -5.8 2.7 -5.5M105.5 279.8l2.3 -6.2 2 -6.3"/>
<path stroke="#0000dd" stroke-width="1.9" d="M163.6 268.9l4.4 -8.2 3.8 -8.5M59.3 270.3l2.6 -4.8 2.3 -5M202.4 266.9l2.7 -7.9 3 -7.8M165 267.3l1.4 -4.5 1.2 -4.6"/>
<path stroke="#e8e8ff" stroke-width="1.9" d="M32.8 266.3l3.4 -5.9 2.8 -6.2M85.2 272.6l2.5 -6.5 2.4 -6.6M218.3 275.2l2.5 -4.8 2.8 -4.6"/>
<path stroke="#ff2020" stroke-width="1.9" d="M127.7 265.8l2.7 -7.1 3 -7"/>
<path stroke="#ff4343" stroke-width="1.9" d="M255.1 274.1l3.4 -7.4 3.2 -7.5M69.4 267.7l3.5 -8.6 2.3 -8.9"/>
<path stroke="#c90000" stroke-width="1.9" d="M74.4 273.9l3.2 -6.2 2.7 -6.4M202.3 264.3l1.3 -5.3 1.6 -5.2M128.6 277.6l2.3 -4.2 1.8 -4.5"/>
<path stroke="#a2a2ff" stroke-width="1.9" d="M185.6 275.8l1.9 -6.3 1.9 -6.3M106.4 264.9l2.6 -6.3 3.4 -6M96.5 273.5l2.2 -4.9 2.6 -4.7M244.5 264.9l3.1 -5.2 3.1 -5.2"/>
<path stroke="#ffcfcf" stroke-width="1.9" d="M179.9 270.4l1.9 -4.7 2.1 -4.6M23.8 269.3l3.1 -7.6 2.5 -7.8M229.9 277.8l1.7 -4.6 1.7 -4.6M152.6 272.9l1.5 -5.1 1.9 -5"/>
<path stroke="#7f7fff" stroke-width="1.9" d="M111.1 274.7l1.7 -6 2.1 -5.9M19.4 266.1l2 -7 1.9 -7"/>
<path stroke="#0000ac" stroke-width="1.9" d="M220.5 271.4l2.4 -5.9 2.7 -5.8"/>
<path stroke="#c5c5ff" stroke-width="1.9" d="M137.7 267.1l1.8 -5 1.2 -5.2M235.9 279.8l3.1 -6 2.9 -6.1M90.1 270.3l1.5 -5.2 1.1 -5.3"/>
<path stroke="#ff8989" stroke-width="1.9" d="M75.8 269.2l1.8 -5.5 2.6 -5.2M126.1 274.6l2.3 -7.1 3 -6.8M248.9 277.7l3 -5 2.7 -5.2"/>
<path stroke="#3939ff" stroke-width="1.9" d="M107.8 268.8l4.6 -7.4 3.5 -7.9M213.2 270.9l1.3 -5.5 1.2 -5.5M79 272.9l2.3 -4.3 2.4 -4.2"/>
<path stroke="#fff3f3" stroke-width="1.9" d="M158.9 268.7l1.7 -5.2 1.4 -5.3M224.9 271.7l3.3 -6.6 3 -6.7"/>
<path fill="#ff4343" d="M92.1 273.6l2 -2.3 1.4 -4.2 -0.6 -2.1 -1.7 1.4 -1.1 4.3zM59.8 258.2l2.7 -3.2 2.9 -5.2 -0.2 -3.2 -3.2 1.7 -2.1 5.6zM65.2 258.5l3.1 -3.9 4.4 -7.5 0.7 -4.7 -4.8 2.6 -3.5 7.9zM234.8 270l1.3 -1.6 1.9 -2.7 -0.3 -1.5 -1.2 0.7 -1.3 3zM168.8 242.5l4.5 -6.4 5.7 -11.1 1.6 -6.2 -6 4 -5.4 11.3zM83.3 237.5l3.5 -5.7 6.1 -10.2 -0.7 -6.4 -5.3 3.7 -3.5 11.4z"/>
<path fill="#5c5cff" d="M154.7 265.2l1.9 -2.5 2.2 -4.3 0.1 -2.3 -2.1 1.5 -1.4 4.7zM52.3 257.2l2.3 -2.1 2.3 -3.4 -0.6 -2.4 -1.4 1.4 -1.5 3.8zM94.5 238.7l4.5 -4.8 4.1 -7.8 -0.6 -4.2 -3.8 2.2 -3.2 8.2zM236.1 249.5l1.8 -2.4 2.3 -4.7 0.7 -2.5 -2.1 1.8 -2.3 4.6zM45.9 260.7l2.2 -3.4 1.9 -5.9 -1 -3.2 -2.1 2.4 -0.8 6.2zM62.6 245.2l5.2 -5.7 4.8 -10.4 0.6 -6.5 -5 4.5 -4.1 10.7zM191 246.3l5 -5 4.5 -10.1 -0.8 -5.9 -3.6 3.9 -4.4 10.2z"/>
<path fill="#c5c5ff" d="M130.3 263.2l4 -4.1 3.1 -6.9 -0.5 -3.7 -2.8 2.3 -2.5 7.2zM222.6 241.1l3.6 -4.6 2.4 -8.8 -1.5 -4.7 -2.5 3.5 -3.1 8.6zM217.2 264.9l4.3 -3.6 3.6 -6.9 -0.1 -4.1 -2.8 2.6 -3.5 7zM40.7 237.1l4.4 -7.3 3.3 -12.4 0.6 -6.6 -4.1 5.6 -3.3 12.4zM148.6 273.6l2.2 -3.1 2.4 -5.4 -0.6 -3.2 -2.9 1.9 -1.8 5.7zM27 271.5l3.4 -2.2 2.8 -4.8 -0.6 -2.5 -1.8 1.2 -2.5 5zM212.7 252.5l3.5 -5.2 3.1 -9.1 -1.1 -4.9 -2.7 3.8 -1.9 9.4zM103.7 252.7l2.3 -2.4 1 -4.2 -0.1 -2 -1.5 1.6 -1 4.2z"/>
<path fill="#fff3f3" d="M198.9 253.4l3.4 -3.8 3.5 -7.3 0.9 -3.9 -3.9 2.5 -3.4 7.3zM105.1 241.1l1.9 -2.6 1.4 -4.6 -1.4 -2.4 -1.1 1.8 -0.7 4.8zM202 252.8l2.9 -2.7 2.1 -5.1 -0.8 -2.8 -2.2 1.8 -1.3 5.3zM151.7 259.1l1.4 -2.1 1.4 -4.1 -0.6 -2.3 -0.9 1.8 -1.3 4.1zM19.6 255.8l3.3 -4.1 4 -7.7 0.1 -4.5 -4.3 2.6 -3.2 8zM130.6 237.3l2.2 -2.8 1.3 -5.1 -0.1 -2.6 -1.8 2.1 -1.4 5.1zM120.7 239.5l4.1 -6.3 6 -9.9 0.1 -6.8 -5.6 4.2 -3.7 11z"/>
<path fill="#0000f5" d="M227.2 242l1.9 -3 2.6 -5.2 0.4 -2.8 -2.9 1.8 -2 5.4zM182 272.3l2.5 -2.5 2.1 -4.2 0.5 -2.6 -2.2 1.8 -2 4.3zM216.9 251.5l2.1 -2.8 1.6 -5 -0.4 -2.6 -1.3 2.1 -1.2 5.1zM211.1 248.5l4.5 -4.9 3.2 -10.2 0.1 -5 -4.3 3.5 -3.9 9.9zM29.2 269.9l2.1 -2.5 1.9 -4.6 -0.7 -2.5 -1.7 1.6 -1.6 4.7zM187.8 245.2l3.3 -4.6 1.9 -7.7 -0.2 -3.9 -2.8 3.2 -1.7 7.8zM182.8 265.7l1.2 -1.6 1.1 -2.9 -0.4 -1.4 -0.6 1.1 -0.8 2.9z"/>
<path fill="#3939ff" d="M235.7 256.1l1.7 -3.9 2.6 -7 -0.5 -3.5 -1.6 2.7 -2.5 7.1zM221.2 262l1.3 -2.5 1.5 -4.4 -0.2 -2.2 -1.2 1.7 -1.6 4.3zM211.6 263.2l1.8 -1.8 1.6 -3.4 -0.3 -2 -1.7 1.1 -1.2 3.6zM95.5 270l2.9 -2.7 1.4 -4.7 -1.5 -2.5 -1.2 1.7 -1 4.8zM252.9 262.8l2 -2.4 2.2 -4.9 -0.2 -3 -1.7 2 -2.5 4.7z"/>
<path fill="#ff6666" d="M56.5 236.1l5.4 -4.3 4.8 -9.9 -3.1 -6.6 -2.7 4 -3.9 10.3zM256.5 269.8l1.2 -1.8 0.9 -3 -0.5 -1.6 -0.8 1.3 -0.8 3.1z"/>
<path fill="#00007b" d="M119.7 244.8l4.9 -5.8 3.1 -9.6 -2.3 -5.1 -1.8 3.9 -2.1 9.9z"/>
<path fill="#940000" d="M94.2 239.9l3.8 -6.6 3.6 -10.7 -2.4 -5.7 -4.3 3.8 -2.5 11z"/>
<path fill="#ffacac" d="M73.5 245.1l2.9 -4.4 3.2 -7.4 -0.2 -3.9 -2.5 2.6 -3.8 7.1zM113.6 262.5l1.8 -3.1 2.2 -5 -0.3 -2.5 -1.7 1.9 -1.3 5.3zM157.3 260.2l3.7 -4.1 3.4 -6.6 0.2 -3.7 -3.3 2.2 -3 6.8zM259.7 271.5l2.6 -3.1 2 -6 -1.6 -3.3 -1.9 2.1 -2 6z"/>
<path fill="#ec0000" d="M244.6 259.5l1.2 -2.3 1.1 -4.1 -0.2 -2.1 -1.1 1.7 -1.4 4zM89.8 274l1.2 -1.4 0.9 -2.7 -0 -1.5 -0.9 1.1 -1.2 2.6zM231.4 254.4l2.7 -4.6 2.9 -7.7 -1 -4.1 -3.6 2.9 -1.2 8.1zM81.1 262.5l1.7 -3 2.4 -4.6 -0.5 -2.6 -2.1 1.7 -1.2 5zM138 249.7l3.9 -4.6 4.5 -9.3 1.3 -4.9 -3.7 3.7 -4.8 9.1zM228 273.6l1.5 -1.5 1.3 -2.6 0.1 -1.2 -0.9 0.8 -1.4 2.5zM199.4 268.8l0.9 -1.3 0.7 -2.3 -0.3 -1.3 -1.1 1 -0.3 2.4z"/>
<path fill="#ff2020" d="M214.3 251.9l2.3 -5.1 4.1 -9.1 -1.7 -5 -4.6 3.2 -1.4 9.9zM259.9 268.3l1 -1.6 0.8 -2.6 0 -1.3 -1.1 1 -0.6 2.6zM72.6 258.3l2.4 -3.9 3.9 -6.5 0.7 -3.9 -4.2 2.2 -2.9 7z"/>
<path fill="#a50000" d="M31.1 262.8l2.7 -2.8 2.6 -5.9 -2 -3.7 -2 2.2 -1.8 6.1z"/>
<path fill="#0000ac" d="M60.3 267.6l1.4 -2.2 0.9 -3.8 -0.2 -2 -1.1 1.6 -0.9 3.8z"/>
<path fill="#7f7fff" d="M194.4 237.2l3.6 -3.2 2.7 -6.1 0.2 -3.6 -2.8 2.4 -2.6 6.1zM80.9 248.7l4.1 -5.1 4.3 -8.4 -0.2 -4.6 -2.9 3.2 -3.9 8.6zM213.5 241l3.3 -2.7 1.9 -5.3 -0.2 -3.1 -2.2 2.2 -1.8 5.4z"/>
<path fill="#c90000" d="M172.1 256.6l3.6 -4.5 4 -7.6 0.2 -4.5 -3.4 3 -3.1 8zM130.8 251.3l4.1 -5.4 4.3 -9.9 1.4 -5 -5.3 3.3 -4.6 9.8zM209.5 253l2.6 -5.7 3.1 -8.9 -1.3 -4.6 -2.2 3.7 -1.6 9.3zM238.6 241.1l7.6 -6.2 6 -12 1.2 -6.3 -5.8 3.8 -6.5 11.7z"/>
<path fill="#000062" d="M189.5 246.7l3 -4.9 3 -8.5 -0.7 -4.7 -3 3.3 -3.1 8.4z"/>
<path fill="#da0000" d="M240.2 262.7l1.3 -5.1 2.4 -8.3 -0.3 -4.4 -3.3 3.5 -1.9 8.4z"/>
<path fill="#b70000" d="M23.7 262.4l2.5 -4.2 3.4 -7.1 0.3 -3.6 -2.5 2.6 -3 7.2z"/>
<path fill="#fd0000" d="M99.9 273.5l1.6 -1.1 0.9 -2.3 -0.4 -1.3 -0.8 0.9 -0.7 2.4zM203.6 272.8l1.4 -1.4 1.4 -2.9 0.5 -1.7 -1.3 1.2 -1.6 2.8zM56.6 256.6l2.8 -3.7 2.4 -6.8 0.1 -3.8 -2.6 2.9 -2.6 6.7zM33.4 267.7l2.2 -2.3 2.1 -4.1 0.1 -2.4 -1.4 1.7 -2.2 4zM21.4 265.1l2.5 -3.4 1.7 -5.8 0.3 -3 -2.1 2.5 -2 5.7zM82.2 271l2.2 -2.9 2.3 -5.1 -0.3 -2.7 -1.6 1.9 -2.1 5.2zM95.1 249.6l3.4 -3.2 3 -6 0.7 -3.3 -2.9 2.2 -2.7 6.2zM256.5 271.9l2.2 -2.1 2.4 -4.2 0.2 -2.3 -1.9 1.4 -2.2 4.4z"/>
<path fill="#0000c4" d="M117 245.4l1.4 -2.3 1.7 -4.2 0.3 -2.1 -2 1.5 -1.4 4.3zM256.3 248.5l3.7 -5.8 4.1 -9.7 -0.5 -5.9 -5.1 4.1 -2.3 10.2zM173.3 264.1l2.3 -4.4 3.1 -7.6 0.3 -4.4 -4.2 3 -2.4 7.9z"/>
<path fill="#a2a2ff" d="M122 268.6l2.6 -3.6 2.3 -5.7 0.1 -3.1 -2.6 2.1 -2.2 5.8zM149.3 261.3l3.6 -3.9 3.6 -7 -0.2 -4.2 -2.1 3.1 -3.2 7.2zM251.7 255.3l3.8 -3.9 4.5 -7.4 -0.2 -5.2 -4.4 2.8 -3.4 8zM172 271.6l1.6 -3 2.5 -5.1 -0.1 -2.9 -2.2 2 -1.7 5.4zM137.5 249.2l2.5 -4.3 2.3 -7.6 -0.1 -4 -3.2 3.1 -1.8 7.7zM137.2 266.1l2.2 -2.8 1.7 -4.6 0.4 -2.5 -1.9 1.9 -1.6 4.6zM206.6 263l1.6 -2.4 2.4 -4 0.2 -2.1 -1.7 1.4 -1.8 4.3z"/>
<path fill="#ffcfcf" d="M60.3 263.2l0.9 -1.7 1.5 -3 -0.5 -1.8 -1.1 1.1 -1 3.2zM201.2 258.3l3.6 -5.1 2.9 -8.8 -1.1 -4.6 -1.8 3.6 -3.1 8.8z"/>
<path fill="#ff8989" d="M111.5 241l4.3 -5.4 6 -10.1 -0.6 -5.4 -4.2 3 -4.7 10.7zM159.2 256.9l3 -3.2 3.9 -5.7 -0.2 -3.6 -3.1 2 -2.4 6.5zM45.8 258.4l1.6 -2.9 3.2 -4.5 -0.6 -2.9 -2.5 1.4 -1.8 5.2zM152.1 257.2l4.6 -4.3 2.8 -7.9 -1.3 -4.1 -3.2 2.6 -2.5 8zM23.2 263.7l2.6 -3.7 3.2 -6.7 -1.4 -4 -1.8 2.8 -1.8 7.2z"/>
<path fill="#1616ff" d="M217.2 246.3l1.9 -2 1.7 -4 0.1 -2.3 -1.8 1.6 -1.5 4zM27.5 267.3l1.9 -3.6 3.1 -6.1 0 -3.3 -1.9 2.4 -2.9 6.2zM20.7 269.7l2.3 -2.2 1.8 -4 0.1 -2 -1.8 1.3 -1.6 4.1zM91.9 243.7l1.4 -4.1 2.1 -6.8 -1 -3.7 -3.2 2.7 -1.2 7zM227.7 251.6l2 -4.7 3 -8.1 -1.8 -4.3 -2.1 3.2 -1.8 8.4zM183.3 239.5l2.9 -5.4 4.4 -9.3 0.5 -4.6 -4 3.1 -3.8 9.6z"/>
<path fill="#e8e8ff" d="M229.4 236.7l3.6 -4.2 4.3 -7.7 -0.7 -5.4 -4.8 3.1 -2.4 8.5zM219.8 258.8l1.8 -2.2 1.4 -3.9 0 -1.9 -1.6 1.3 -1.6 3.8zM141.9 239.1l2.9 -4.4 2.5 -7.4 0.2 -4 -2.9 3.2 -1.7 7.6zM244.2 263.5l1.5 -3 2.1 -5.3 0.7 -2.7 -2.6 2 -1.9 5.4zM101.3 245.4l2 -4.1 1.8 -7.2 -0.9 -3.5 -2.3 2.6 -2.2 7.1z"/>
<path fill="#0000dd" d="M205.1 273.5l1.1 -1.6 1.3 -2.6 0.2 -1.4 -1.6 0.9 -0.7 2.8zM249.8 238.8l1.3 -3.5 1.2 -5.9 -0.2 -2.8 -1.4 2.4 -1.7 5.8zM110.5 258.7l1.5 -3.1 1.8 -5.4 -1.1 -2.9 -2.3 2 -1.3 5.5zM82.9 252.7l2.1 -2.5 2.2 -4.1 -0.3 -2.2 -1.6 1.3 -1.6 4.4z"/>
<path fill="#ff6666" d="M185.5 258.8l3.3 -3.8 2.7 -6.4 -0.4 -3.2 -2 2.2 -2.6 6.4zM221.7 268l2.6 -4.1 2.4 -6.8 -0.4 -3.8 -2.2 2.9 -2 6.9zM224.2 258.7l1.7 -4.3 2.6 -7.2 0.5 -3.7 -2.9 2.9 -2.3 7.3zM65 260.4l3.1 -3.1 3 -5.4 0.6 -3.4 -3.2 2.1 -2.5 5.6zM28.2 236.2l2.6 -2.9 1.4 -5.1 -1.3 -2.9 -1.3 2.1 -1.5 5zM219.4 268.1l3.3 -3.6 3 -6.4 -1.7 -3.8 -2.4 2.4 -1.5 6.9zM215.8 251.9l1.9 -2.7 1.4 -4.4 -0.6 -2.1 -1 1.7 -1.2 4.5zM250.8 270.9l1.4 -1.4 1.3 -2.9 -1.1 -1.9 -0.8 1.2 -0.8 3.1zM255.8 259.7l1.2 -1.8 1.6 -3 -0.2 -1.8 -1 1.2 -1.4 3.1z"/>
<path fill="#ffcfcf" d="M86.1 271.4l0.8 -1.2 1.2 -2.1 -0.2 -1.3 -1 0.8 -0.7 2.3zM212.9 250.7l2.7 -5.9 4.6 -9.2 1 -5.1 -5.1 3.3 -3.5 9.6zM39.6 237.9l4.6 -6.7 3.8 -11 -1.4 -5.9 -3.8 4.2 -3.7 11zM80.2 241.6l2.7 -4.4 2.9 -7.2 -0.4 -4 -3.1 3.1 -1.3 7.7zM43 237.5l1.3 -2.7 1.4 -4.7 -0.2 -2.3 -1 1.9 -1.3 4.7zM116.2 245.2l1.4 -2.3 2.1 -3.8 0.6 -2 -1.7 1.4 -2 3.8zM111.5 269.8l1.3 -2.1 1.3 -3.7 0 -1.9 -1.5 1.4 -0.9 3.8zM87.2 241.9l2.9 -5.8 2.4 -9.4 -1.4 -4.9 -1.9 4.1 -2 9.5z"/>
<path fill="#7f7fff" d="M66.4 265.5l2.5 -3.1 2.2 -6.1 -1.8 -3.7 -2.2 2.6 -1.1 6.3zM125.4 258.6l3.4 -4.5 3.3 -7.6 -0.6 -4.5 -3.8 2.9 -2.3 8zM123.4 272.2l1.4 -1.5 1.4 -2.7 0.2 -1.5 -1.4 0.9 -1.3 2.7zM90.3 242.7l3.1 -4.5 2.6 -8 0.7 -4.1 -2.8 3.4 -2.7 8zM126.9 263.2l3.7 -4.7 2.1 -8.1 -1 -3.9 -2.4 3 -2.2 8.1zM146.6 267.2l2.9 -3 1.8 -5.8 0 -3 -2.3 2.4 -1.7 5.9zM226.7 271.6l2.6 -2.9 1.3 -5.2 -1.4 -2.7 -0.9 2.2 -1.1 5.3z"/>
<path fill="#fd0000" d="M46.2 261.8l1.8 -3.1 2 -5.4 -0.2 -3.1 -1.8 2.4 -1.5 5.5zM153 245.3l3.8 -7.3 5.1 -11.4 0.3 -6 -4.4 4.5 -3.9 11.9z"/>
<path fill="#ec0000" d="M83.9 258.3l3.4 -4.3 2.5 -7.1 -0.2 -3.7 -4.6 2.4 -1.6 7.3zM78 265.3l1 -2.2 2.1 -3.7 0.1 -2.3 -1.8 1.5 -1.7 3.9zM136.4 242.8l2.7 -4 2.6 -7.4 0.3 -3.7 -2.7 2.9 -2.1 7.5zM43.1 245.7l3.7 -3.9 3.1 -7.1 -0.8 -3.7 -2.3 2.4 -2.7 7.3zM241.3 252.9l1.8 -4.6 2.7 -7.6 -1.7 -3.8 -2 2.8 -1.5 7.9zM73.9 247.7l1.4 -3.6 2.1 -6.1 -0.5 -3.3 -2 2.6 -1.5 6.3zM89.1 271.8l1.5 -3.5 1.7 -5.8 -1.9 -2.9 -1.8 2 -1.1 6z"/>
<path fill="#a2a2ff" d="M93.8 238l3 -5 2.6 -8.6 0 -4.6 -2.8 3.7 -3 8.4zM21.1 265.7l2.8 -4 3.5 -6.6 0.7 -3.5 -3.3 2.4 -2.7 7zM242.1 252.9l2.5 -3.6 1.8 -6.1 -0.6 -3.1 -1.6 2.6 -1.1 6.3zM213.1 272.5l2.6 -3.1 2.3 -5.4 0.5 -3 -2.2 2.3 -2.2 5.4zM29.7 252.6l0.8 -2.3 1.5 -3.6 0.2 -1.9 -2.1 1.4 -0.8 3.9z"/>
<path fill="#ffacac" d="M38 249.7l2.3 -3.2 1.4 -5.2 -0.7 -2.6 -1.2 2.1 -1.2 5.2zM25.3 266.8l1.5 -2.2 1.2 -3.8 0.2 -1.9 -1.5 1.5 -1.3 3.7zM204.8 243.7l2.7 -4.2 3.8 -7.7 -0.2 -4.4 -5.2 2.2 -2.7 8.1zM222 260.8l1.5 -2.1 1.8 -3.6 0 -1.9 -1.2 1.3 -1.8 3.7zM37.5 250.8l2.7 -1.9 2 -3.8 -0 -2.2 -1.9 1.2 -1.7 3.9z"/>
<path fill="#c5c5ff" d="M109.2 239l3.6 -4 3.1 -7.5 -0.3 -4 -2.5 3 -2.5 7.7zM92.1 262.3l1.8 -2.1 1.7 -3.7 0.1 -1.8 -1.4 1.2 -1.8 3.6zM70.9 242.3l1.8 -2.4 2.5 -4.8 -0.2 -3 -2.2 1.9 -1.9 5.1zM126.6 268.5l2.6 -3.5 1.8 -6.3 -0.7 -3.4 -1.8 2.7 -1.8 6.3zM120.6 238.9l1.7 -3.9 3.3 -6.7 0.2 -3.6 -4.3 2.2 -1.6 7.3zM56.5 253.6l3 -3 3.3 -5.6 0.2 -3.4 -2 2.4 -2.9 5.9z"/>
<path fill="#da0000" d="M165.4 235.4l4 -5.1 5.6 -9.6 0 -5.5 -4.5 3.4 -3.6 10.5zM128.2 271.9l2.4 -3.3 2.3 -5.9 0.7 -3.1 -2.9 2.2 -2.7 5.7zM59.9 236l7 -6.9 5.1 -13.2 1.5 -6.2 -6.3 4.3 -5.6 12.9zM83.7 263.9l1.9 -3.4 3 -5.7 0.2 -3.3 -3 2.1 -1.9 6.2z"/>
<path fill="#c90000" d="M58.6 270.7l2.7 -3.3 3.2 -5.3 -0.4 -2.8 -1.8 1.7 -2.4 5.6zM212.8 269.6l3.3 -3.6 2.1 -6.2 -1.3 -3.6 -2.2 2.6 -1.2 6.4zM108 239.1l3.1 -4.3 4.2 -8.3 0.4 -4.4 -4.1 2.4 -4.7 8.1zM151.4 259.5l2.5 -3.8 2.9 -6.9 -0.1 -3.7 -2.2 2.8 -2.7 7zM241.6 259.8l1.5 -2.3 1.1 -3.9 -0.6 -2 -0.6 1.7 -0.8 4zM63.6 262.6l1.7 -2.7 2.1 -4.5 -0.1 -2.5 -1.6 1.8 -1.8 4.7z"/>
<path fill="#0000dd" d="M32.5 242.5l3.4 -4.9 2.8 -8.3 0.3 -4.2 -3.2 3.2 -2.9 8.3zM23.7 257.4l1.4 -2.1 1.6 -3.8 0.1 -2.1 -1.8 1.6 -0.9 4zM55.7 257.1l1.3 -1.9 0.8 -3.2 -0.6 -1.7 -0.8 1.4 -0.7 3.2z"/>
<path fill="#3939ff" d="M236.3 258.5l2.5 -3.8 2 -7.2 -0.7 -3.7 -1.6 3.1 -2.3 7.1zM158.7 253.2l3.3 -5.4 3.9 -9.5 0.9 -5.2 -4.1 4 -3.1 9.8zM168.6 259.7l1.1 -2.9 1.6 -4.9 -0.2 -2.5 -1.8 2 -0.9 5z"/>
<path fill="#0000f5" d="M57.7 245.4l4 -6.8 4.2 -10.5 0.4 -5.5 -4 4.3 -3 10.9zM38.4 238.9l3.6 -7.3 4.3 -11.8 -1.5 -6.4 -4.5 4.6 -3.2 12.1zM221 240.3l3.1 -4.6 3.8 -7.4 -2 -4.8 -2.7 3.1 -1.8 8.1zM29.8 253l3.5 -4.6 3.9 -8.3 0.5 -4.8 -3.8 3.2 -3.8 8.4zM103.5 241l2.5 -3.8 2 -6.9 -2.1 -3.6 -1.2 2.7 -1.6 7z"/>
<path fill="#ff8989" d="M186.5 261.8l1.4 -2.7 1.4 -5 -1.1 -2.7 -1.4 2.1 -1.2 5.1zM240.6 258l3.6 -4.3 3.7 -8.7 -0.8 -4.8 -2.5 3.4 -3.5 8.8zM101.2 253.7l4.8 -5.1 5.3 -9.2 -0.1 -5.3 -4.4 3 -4.3 9.8zM230 249l4 -6.3 3.7 -10.6 -1.3 -5.6 -3.3 4.3 -2.3 10.9z"/>
<path fill="#ff2020" d="M30.6 255.3l1.9 -1.7 1.5 -3.5 -0.7 -2.2 -1.5 1.4 -1.1 3.6zM238.2 263.9l2 -2 2.1 -3.8 -0.1 -2 -1.4 1.1 -2.2 3.8zM32.2 237l3.9 -5.1 2.8 -8.8 -1.7 -4.8 -2.1 3.4 -3.4 8.6zM33.7 246l3.8 -3.8 3.6 -7.5 0.3 -3.8 -2.8 2.6 -3.8 7.4z"/>
<path fill="#ff4343" d="M98.7 255.1l3.8 -3.1 2.5 -5.8 -0.8 -3.3 -2.6 2 -1.9 6zM257.3 264.8l2.1 -2.9 2.1 -4.9 0.6 -2.6 -2.2 1.9 -1.9 5zM93 248l4.6 -6 4.7 -10.6 -0.9 -6.4 -6.1 4.2 -2.3 11.3zM45.4 272.3l2.1 -2.6 1.7 -5 -0.7 -2.6 -2.2 1.8 -1 5.2zM158.3 254l3.1 -2.8 3 -5.2 -0.2 -3.2 -2.6 1.9 -2.1 5.6zM125.9 262.1l2.9 -2.5 2.8 -5.1 -0.3 -3.1 -2.7 1.7 -2.2 5.4z"/>
<path fill="#940000" d="M50.1 246.2l3.7 -3.8 2.4 -7.9 -1.1 -4.5 -2.3 3.4 -2.6 7.8z"/>
<path fill="#0000c4" d="M127.4 271.4l1.9 -3.6 2.1 -5.9 0.2 -3.2 -2.6 2.5 -1.3 6.1zM236.5 240.1l2.7 -3.1 3.3 -5.1 -0.5 -3 -2.1 1.8 -2.1 5.7zM178 272l2.3 -2.9 1.7 -5.1 -1.5 -2.6 -1.3 1.9 -0.9 5.3zM219.1 256.1l2 -2.9 2.6 -5.1 0.5 -2.7 -2.8 1.7 -2.1 5.3zM56.7 268l1.8 -2.5 1.9 -4.6 -1.2 -2.5 -1.3 1.7 -1 4.8z"/>
<path fill="#1616ff" d="M96.4 266.4l2.5 -4 2.7 -7.1 -0.4 -3.9 -2 2.9 -2.9 7.1z"/>
<path fill="#b70000" d="M167.2 273.5l2.5 -2.4 1.1 -4.2 -0.3 -2.3 -1.4 1.7 -1.4 4.1zM107.1 268.2l1.7 -2.2 2 -4.1 0.1 -2 -1.9 1.2 -2 4.1z"/>
<path fill="#fff3f3" d="M225.7 242l1.8 -2.6 1.4 -4.4 -0 -2.2 -1.4 1.7 -1.6 4.4zM59.2 263.8l4.3 -3 3 -6.5 -0.1 -3.3 -2.4 2.1 -3.3 6.3zM208 265.8l1.9 -2.4 2.9 -4.5 0 -3 -2.1 1.8 -2.2 4.8zM238.2 248.1l2.4 -3 3.1 -5.8 -0.6 -3.6 -2.5 2.2 -2.5 6.1z"/>
<path fill="#a50000" d="M99.9 245.8l2.7 -5.9 4.1 -9.9 0.2 -5.8 -5.2 4 -3.4 10.1z"/>
<path fill="#5c5cff" d="M199.3 270l2.2 -3 2.8 -5.1 0.9 -3 -2.5 2.1 -2.5 5.2zM81.2 259.5l1.9 -2.3 1.8 -3.8 0.3 -2.2 -1.8 1.5 -1.7 3.9zM190.4 266.2l1.7 -4.2 3.3 -6.5 0.1 -3.5 -2.8 2.5 -2.2 6.9zM180.5 239.6l1.1 -4.1 2.4 -6.3 -0.7 -3.5 -2.2 2.6 -1.4 6.7zM241.6 243.4l4 -7 4.6 -11.8 -2.3 -6.9 -4 5 -2.8 12.3zM86.3 269.6l0.9 -1.1 1 -2.2 -0.6 -1.2 -0.8 0.7 -0.6 2.3z"/>
<path fill="#e8e8ff" d="M85.4 248l3.8 -5.5 4.3 -8.8 0.1 -4.3 -2.6 3.1 -4.2 8.9zM154.1 253.6l2.9 -3.8 3 -6.7 -0.8 -3.8 -2.6 2.5 -2.2 7zM153.9 243.2l1.8 -2.8 2 -5.1 -1.2 -2.8 -1.8 1.9 -1.2 5.3zM55.1 273.6l2.5 -2.6 1.8 -5.1 0.1 -3.1 -2.6 2.2 -1.6 5.2zM224.8 238.6l2.8 -5.6 4.4 -9.2 1.2 -5.2 -4 4 -3.9 9.4zM189.9 264.3l4.5 -3.8 1.7 -7.3 -0.6 -3.6 -3.2 2.7 -1.7 7.2z"/>
<polygon fill="#ff9088" points="36,251.3 38.2,241.1 41.8,238.2 44.7,239.6 43.3,249.8 38.9,257.1"/>
<polygon fill="#ffffff" points="38.9,261.5 41.8,248.4 46.2,239.6 50.5,239.6 49.1,249.8 44.7,261.5 41.8,265.8"/>
<polygon fill="#5858f5" points="47.6,257.1 49.8,245.5 53.5,239.6 56.4,241.1 54.9,252.7 51.3,261.5"/>
<polygon fill="#b8b8ff" points="54.9,254.2 57.8,242.5 62.2,241.1 63.6,246.9 60.7,257.1 57.1,261.5"/>
<polygon fill="#5858f5" points="62.2,252.7 63.6,244 70.9,244 75.3,248.4 70.9,254.2 65.1,255.6"/>
<polygon fill="#f00000" points="63.6,261.5 66.5,254.2 72.4,252.7 70.9,261.5 66.5,265.8"/>
<polygon fill="#e4e4ff" points="75.3,257.1 78.2,246.9 82.5,242.5 85.5,244 82.5,254.2 78.2,261.5"/>
<polygon fill="#0808f0" points="81.1,261.5 84,251.3 88.4,248.4 88.4,257.1 84.7,264.4"/>
<polygon fill="#ff5a50" points="88.4,254.2 91.3,244 95.6,239.6 100,238.2 100,246.9 95.6,254.2 91.3,260"/>
<polygon fill="#b8b8ff" points="92.7,265.8 95.6,255.6 100,252.7 100,265.8"/>
<polygon fill="#0808f0" points="25.1,255.6 28.7,251.3 31.6,252.7 28.7,258.5 25.1,260"/>
<polygon fill="#f00000" points="28.7,248.4 31.6,241.1 36,239.6 34.5,248.4 30.9,252.7"/>
<polygon fill="#b8b8ff" points="25.1,239.6 30.2,236.7 33.1,238.2 28.7,244 25.1,245.5"/>
<polygon fill="#0000b0" points="45.5,265.8 46.9,257.1 49.1,257.1 48.4,265.8"/>
<polygon fill="#ff5a50" points="90,257.1 92.9,244 97.3,238.2 100.2,239.6 97.3,251.3 92.9,261.5"/>
<polygon fill="#f00000" points="98.7,262.9 101.6,249.8 104.5,244 106,249.8 103.1,261.5"/>
<polygon fill="#ffbcb8" points="104.5,254.2 106.7,244 110.4,241.1 111.8,245.5 108.9,254.2"/>
<polygon fill="#f00000" points="111.8,257.1 114.7,245.5 119.1,239.6 123.5,239.6 120.5,248.4 116.2,258.5"/>
<polygon fill="#0808f0" points="119.1,257.1 122,246.9 127.8,239.6 130.7,241.1 126.4,249.8 122,258.5"/>
<polygon fill="#ffffff" points="124.9,260 127.8,248.4 132.2,241.1 138,242.5 136.5,251.3 132.2,260 127.8,262.9"/>
<polygon fill="#ff9088" points="133.6,261.5 136.5,251.3 138.7,244 140.9,245.5 139.5,254.2 136.5,262.9"/>
<polygon fill="#b8b8ff" points="139.5,257.1 141.6,245.5 145.3,242.5 145.3,251.3 142.4,258.5"/>
<polygon fill="#f00000" points="143.8,260 146.7,248.4 151.1,242.5 154,244 151.1,252.7 147.5,261.5"/>
<polygon fill="#ffffff" points="151.1,252.7 154,244 159.8,241.1 165.6,242.5 162.7,249.8 156.9,255.6 152.5,257.1"/>
<polygon fill="#0808f0" points="155.5,261.5 159.8,252.7 165.6,246.9 170,245.5 170,252.7 164.2,260 158.4,264.4"/>
<polygon fill="#5858f5" points="145.3,264.4 147.5,255.6 150.4,254.2 149.6,262.9"/>
<polygon fill="#0808f0" points="94.4,267.3 96.5,258.5 99.5,257.1 98,267.3"/>
<polygon fill="#ffffff" points="92.9,270.2 94.4,262.9 97.3,261.5 96.5,270.2"/>
<polygon fill="#ffe6e4" points="90,242.5 94.4,236.7 97.3,238.2 92.9,244"/>
<polygon fill="#ffffff" points="160,248.4 162.9,241.1 168.7,239.6 167.3,245.5 162.9,251.3 160,252.7"/>
<polygon fill="#0808f0" points="160,257.1 164.4,248.4 171.6,242.5 174.5,244 170.2,251.3 164.4,258.5"/>
<polygon fill="#5858f5" points="173.1,257.1 176,245.5 178.9,239.6 180.4,244 177.5,254.2 174.5,260"/>
<polygon fill="#ffffff" points="177.5,261.5 179.6,249.8 181.8,242.5 184,244 182.5,254.2 179.6,262.9"/>
<polygon fill="#b8b8ff" points="189.1,257.1 192,246.9 197.8,241.1 205.1,241.1 203.6,246.9 197.8,254.2 193.5,260"/>
<polygon fill="#0808f0" points="192,265.8 194.9,257.1 200.7,249.8 203.6,249.8 200.7,257.1 196.4,265.8"/>
<polygon fill="#ffbcb8" points="203.6,257.1 206.5,246.9 210.9,241.1 213.8,242.5 210.9,251.3 206.5,260"/>
<polygon fill="#e4e4ff" points="212.4,254.2 215.3,244 219.6,241.1 222.5,242.5 219.6,249.8 215.3,257.1"/>
<polygon fill="#ff9088" points="215.3,265.8 218.2,255.6 221.1,246.9 225.5,244 225.5,252.7 222.5,261.5 218.2,267.3"/>
<polygon fill="#b8b8ff" points="228.4,251.3 231.3,242.5 235.6,239.6 238.5,241.1 235.6,248.4 231.3,254.2"/>
<polygon fill="#0808f0" points="224,265.8 226.9,257.1 229.8,254.2 229.8,261.5 226.9,267.3"/>
<polygon fill="#f00000" points="164.4,264.4 167.3,255.6 170.2,254.2 168.7,262.9"/>
<polygon fill="#a00000" points="180.4,265.8 181.8,258.5 184.7,257.1 184.7,264.4"/>
<polygon fill="#f00000" points="174.5,270.2 177.5,264.4 180.4,265.8 178.2,271.6"/>
<polygon fill="#ffe6e4" points="207.6,257.3 211.5,247.1 216.5,239.5 221.6,239.5 219.1,247.1 214,256 210.2,261.1"/>
<polygon fill="#ff9088" points="215.3,261.1 219.1,249.6 222.9,242 225.5,243.3 222.9,253.5 219.1,262.4"/>
<polygon fill="#b8b8ff" points="224.2,253.5 226.7,244.5 230.5,240.7 232.5,242 230.5,249.6 226.7,256"/>
<polygon fill="#ffffff" points="230.5,257.3 233.1,248.4 236.3,242 238.2,243.3 236.3,252.2 233.1,259.8"/>
<polygon fill="#f00000" points="236.9,253.5 239.5,244.5 242,239.5 243.9,240.7 242.6,248.4 239.5,256"/>
<polygon fill="#ffffff" points="244.5,249.6 246.5,242 250.9,239.5 252.2,242 249,248.4 245.8,252.2"/>
<polygon fill="#0808f0" points="242,262.4 243.9,254.7 247.7,249.6 247.7,257.3 244.5,263.6"/>
<polygon fill="#f00000" points="249,257.3 251.5,247.1 254.7,242 256,247.1 253.5,256 250.9,259.8"/>
<polygon fill="#5858f5" points="250.9,262.4 252.8,256 256,250.9 256.6,257.3 254.1,263.6"/>
<polygon fill="#0808f0" points="224.2,268.7 226.1,261.1 228.6,259.8 228,267.5"/>
<polygon fill="#5858f5" points="217.8,270 219.7,263.6 222.3,262.4 221.6,270"/>
</g><g fill="none">
<path stroke="#000093" stroke-width="0.7" d="M180.3 237.9l-3.3 -4.9M179.7 233.9l-2.2 -2.4"/>
<path stroke="#0000c4" stroke-width="0.7" d="M140.4 237.1l-3.4 -4.4M214.4 237l-2.4 -3.3M212.6 237.4l-3.5 -4.5M146.2 237l-3.9 -3.8M236 236.1l-3.4 -4.7M59.5 236.4l-2.2 -2.8"/>
<path stroke="#b70000" stroke-width="1" d="M114.3 235.2l-3.5 -5"/>
<path stroke="#c5c5ff" stroke-width="1.4" d="M190.3 236.3l-2.2 -3M75.7 237.2l-2.4 -3.3M256.7 234.5l-4.1 -4M67.9 237.2l-4 -5M125.3 236.8l-3.2 -4.3M55.4 236l-2.4 -3.4M238.7 235.5l-2.8 -3.1M27.4 235.6l-3.1 -3.5M56.8 236.3l-3.4 -4.1M129.3 237l-3.1 -3.5M166.1 237.4l-3.7 -4.1M98.4 236l-4.1 -4.8M46.9 235.1l-3.4 -3.5M159 236.7l-3.9 -4.6M174.2 236.1l-3.3 -3.5M121.3 235.1l-3.6 -3.8M183.5 236.1l-2.3 -3.2M223.9 236.2l-2 -2.8M114.6 235.2l-2.4 -2.6"/>
<path stroke="#a2a2ff" stroke-width="1.9" d="M158.3 236l-2.4 -2.6M206.9 236.5l-2.1 -2.3M31 235.3l-2.3 -3.1M177.4 236.9l-4.1 -4.2M208.2 234.8l-3.1 -3.1M111.3 234.2l-2 -2.8"/>
<path stroke="#ffacac" stroke-width="1.9" d="M42.2 235.1l-2.3 -2.4M245.3 236.1l-3.7 -5.1M223.9 236.9l-3.8 -4.2M102.4 235l-3.6 -5"/>
<path stroke="#c90000" stroke-width="0.7" d="M96.1 233.7l-2.2 -2.2M175.3 234.7l-2.2 -2.8M172.7 236l-4.1 -4.4M248.1 234.8l-2.2 -3.2"/>
<path stroke="#ff6666" stroke-width="1" d="M97.6 237.1l-3.2 -4.4M252.2 235.2l-3.2 -3.3M37.1 237.7l-3.4 -4.4M86.6 236.5l-1.9 -2.5M42.7 235.5l-3.3 -4.6"/>
<path stroke="#a2a2ff" stroke-width="1.4" d="M150 235.1l-3.9 -3.9M27.1 236.8l-3.2 -3.1M171.9 235.6l-2.5 -2.7M228 236.3l-2.6 -3.7M59.9 235.7l-2.6 -3.4M66.2 235.4l-3.3 -3.6M218.5 235.3l-3.3 -4.2M228.5 234.4l-2.1 -2.2"/>
<path stroke="#e8e8ff" stroke-width="1.9" d="M130.6 236.8l-2.3 -2.6M128.5 235.3l-2.2 -2.4M46.4 235.9l-2 -2.8M113.8 234.8l-2.4 -2.5M194.5 235.8l-1.9 -2.6M44.8 237.7l-3.7 -4.5M261.1 236.9l-2.5 -3.6M78 236.9l-4 -4.4M109.5 236.4l-2.2 -3M208.4 237.3l-3 -4.2M42 234.6l-2.7 -3.1"/>
<path stroke="#c90000" stroke-width="1" d="M88.6 234.4l-2.8 -3.5M153.7 234.6l-3.6 -3.6M257.2 235.9l-3.1 -3.9M27.7 234.3l-3.2 -3.3M185.4 235.8l-2.8 -3.6"/>
<path stroke="#a50000" stroke-width="0.7" d="M99.5 235.3l-4.2 -4.5"/>
<path stroke="#940000" stroke-width="0.7" d="M234.3 236.1l-2.2 -2.7"/>
<path stroke="#0000dd" stroke-width="0.7" d="M45 236.6l-3 -4.1M74.5 235.4l-3.4 -4.7M202.3 238.2l-3.6 -5.2M228.7 234.9l-3.9 -3.8M31.6 234.6l-2.3 -3M160.2 235.3l-2.9 -4"/>
<path stroke="#0000f5" stroke-width="0.7" d="M215.8 234.5l-2 -2.7M141.1 235.2l-2.5 -3M25.8 236.7l-2.9 -4.1M98.3 234.3l-2.8 -3.1M49.6 236.6l-3.6 -4.6"/>
<path stroke="#ffcfcf" stroke-width="1.9" d="M148.5 236.6l-3.9 -4.4M171.3 235.6l-3.3 -3.6M114.1 234.6l-3.2 -4.1M79.7 237.1l-2.5 -3.4M82.6 235.4l-4.1 -4.6M230 236.5l-3.8 -3.9M149.7 234.5l-2.5 -3.4"/>
<path stroke="#da0000" stroke-width="0.7" d="M240.2 234.8l-2.9 -2.9M49.9 235.8l-3.1 -3.8M43.4 234.2l-2.6 -3.3M53.5 236.5l-2.4 -3.3M211.6 235.6l-3.1 -3.5"/>
<path stroke="#ff4343" stroke-width="0.7" d="M245.7 235.2l-3.7 -4.7M195.8 237l-2.7 -3.7M96.7 237.4l-4.4 -4.4M175.5 236.9l-2.6 -3M173.5 234.5l-3.4 -3.4M71 234.8l-3.6 -4.2M249.9 237.3l-3.9 -4.6M68.7 235.7l-3.9 -4"/>
<path stroke="#c5c5ff" stroke-width="1.9" d="M50.5 235.1l-3.7 -3.8M232.7 234.1l-2.3 -2.4M203.1 234.2l-2.7 -3.3M133.5 234.5l-2.9 -3.9M181.6 234.9l-3 -4.3M81.5 234.3l-2.3 -2.9"/>
<path stroke="#c5c5ff" stroke-width="1" d="M176.9 235.5l-2.2 -2.5M264 236.7l-2.4 -3.4M212.2 235.9l-4.4 -4.3M30.2 236.2l-2.4 -3"/>
<path stroke="#3939ff" stroke-width="0.7" d="M221.1 235.9l-3.5 -4.9M102.3 236.1l-3.6 -4.7M73.5 235.5l-2 -2.1"/>
<path stroke="#ff8989" stroke-width="1" d="M242.1 237l-2.7 -2.9M94.1 235.3l-2.5 -3.2M31.4 236.1l-3.3 -3.5M211.3 236.9l-4.3 -4.7M66.7 235.9l-3.3 -4.6"/>
<path stroke="#ff2020" stroke-width="0.7" d="M150.4 235.9l-2.9 -3.3M84 236.5l-2.9 -4M196.2 236.1l-3.8 -4.1M169.4 235.5l-3.6 -4.5M241.5 236l-2.1 -2.7M42.4 236.1l-3.1 -3.3M251.6 236.6l-3.7 -4.6M137.9 234.4l-2.3 -2.8M74 234.4l-2.5 -2.8M34.1 236.7l-3.9 -4.6"/>
<path stroke="#000062" stroke-width="1" d="M159.1 236.5l-2.8 -3.1"/>
<path stroke="#ffcfcf" stroke-width="1" d="M215.2 236l-3.5 -4.5M81.5 234.7l-3 -3M251.5 236.9l-2.3 -2.7"/>
<path stroke="#ff8989" stroke-width="1.9" d="M63.2 237.1l-2.7 -3.7M214.4 234.8l-2.9 -4.1M142.8 236.6l-3.4 -3.5M246.9 235.6l-2.8 -3.2M44.4 234.5l-2 -2.2M264.3 235.9l-2.1 -2.9"/>
<path stroke="#fff3f3" stroke-width="1.4" d="M91.5 234.6l-2.7 -3.2M25.2 235.2l-2.6 -2.5M125.8 236.6l-2.4 -2.4M56.5 235.4l-2.8 -3.8M211.8 236.4l-2.1 -2.9M57.7 234.2l-2.9 -3.2M210.4 235.4l-3.3 -3.5M124.7 234.5l-2.2 -2.6M221.7 236.5l-2.5 -3.7M229.3 235.2l-3.2 -3.7M189 236.7l-4.2 -4.1M23.7 236.4l-3.6 -3.9M56.3 236.6l-3 -4.4M60.5 236.4l-2.3 -2.4"/>
<path stroke="#e8e8ff" stroke-width="1.4" d="M195.3 236.2l-3.5 -4.2M39 234.4l-3.2 -3.5M82.6 235.9l-4.5 -4.4M121.5 237.6l-4 -4.3M76.9 235.8l-1.7 -2.4M242.9 235.2l-4 -4.2M54.2 234.9l-2.1 -2.3M208.7 235.7l-3.3 -4.3M39.5 236.2l-3.8 -4.2M35.4 236.9l-2.2 -3M25.9 234.8l-4.3 -4.5M262.3 236.2l-2.3 -2.4M51.6 235.1l-2.7 -3"/>
<path stroke="#fff3f3" stroke-width="1.9" d="M176.5 236.7l-2.8 -2.8M194.5 236.6l-3 -3M138.5 234.9l-3.3 -4.6M197.1 235.3l-3.3 -3.5M120.6 235.2l-2.4 -2.6M100 235.4l-2.8 -4.1M195.6 237l-2.6 -3.7"/>
<path stroke="#00007b" stroke-width="1" d="M226.4 236.3l-4 -4.9M66 236.2l-3.4 -4.4"/>
<path stroke="#ff4343" stroke-width="1" d="M220.2 236.7l-2.7 -3.7M187.3 235.3l-2.8 -2.9M54.4 237.2l-3.8 -4.2M229.4 236.4l-1.8 -2.4M206.7 235.5l-3.7 -3.8"/>
<path stroke="#3939ff" stroke-width="1" d="M43.2 235.1l-3.9 -4.4"/>
<path stroke="#ff2020" stroke-width="1" d="M205.9 234.8l-2.2 -3.1M175.6 234.7l-3.1 -4.4M39.4 235.2l-3.4 -4.3M108.7 235.9l-3.8 -4.8M98.3 235.4l-3.1 -4.4M260.2 235.9l-3.4 -4.9M237.1 237.3l-3.4 -3.9"/>
<path stroke="#fff3f3" stroke-width="1" d="M181.9 234.2l-2.5 -2.8M51.7 236.9l-3.6 -3.9M213.2 236.1l-2.2 -3.2M153.1 234.1l-2.7 -3M120.5 234.8l-2.2 -2.6M45 234.2l-2.7 -3.3M243.3 236.2l-3.1 -3.1M37.2 234.2l-2.8 -2.8"/>
<path stroke="#5c5cff" stroke-width="1.4" d="M45.2 237l-2.2 -3.1M179.3 236.4l-3.2 -3.7M140.7 235.5l-2.5 -3.3M160.7 235.5l-1.9 -2.3"/>
<path stroke="#0000c4" stroke-width="1" d="M70.8 236.4l-3.2 -3.6"/>
<path stroke="#ff6666" stroke-width="1.9" d="M199.5 237.3l-2.6 -3.3M90.9 234.3l-3.5 -3.5M218.9 235.6l-4 -3.9M205.4 235.8l-3.5 -5M49.8 237.6l-3.4 -4.9M86.9 237.8l-3.7 -4.3"/>
<path stroke="#940000" stroke-width="1" d="M188.4 234.5l-2.2 -3M75.2 237.4l-4.2 -4.8M92.1 236.5l-3.3 -4.4"/>
<path stroke="#ec0000" stroke-width="1" d="M125.9 236.5l-2.6 -2.5M198.3 237.4l-3.5 -4.6M81.3 237.1l-3.3 -4.5M146.2 235.7l-2.2 -2.4"/>
<path stroke="#ffacac" stroke-width="1.4" d="M80.4 236.9l-3.3 -4.1M171.8 236.2l-3.9 -4.1M55.5 235.6l-3.5 -4.7M81.7 234.9l-3.1 -4.3M106.9 236.9l-2.7 -3M201.7 235.3l-2.4 -3.4M58.6 235.4l-3.1 -3.5M240.4 234.3l-1.9 -2.3M221.8 237l-2.3 -2.8M95.9 237.2l-2.9 -3.1"/>
<path stroke="#ffacac" stroke-width="1" d="M216.8 236.2l-3.1 -3.6M156.8 235.7l-3.7 -4.1M223 237.7l-3.3 -4.5M91.4 236.2l-2.2 -2.5M24.3 235.2l-4.4 -4.3"/>
<path stroke="#da0000" stroke-width="1" d="M161.1 234.5l-2.6 -3.6M178.7 237.7l-3.3 -4.6M151 235.7l-3.4 -3.4"/>
<path stroke="#ff6666" stroke-width="1.4" d="M68 234.4l-2 -2.5M109.1 236.4l-2.1 -2.1M228.5 236.3l-3.2 -4.2M120.4 236.6l-2.3 -3M25.2 236l-1.9 -2.5"/>
<path stroke="#fd0000" stroke-width="0.7" d="M215.3 234.3l-3.5 -3.4M156.8 234.7l-3 -3.5M56.2 235.5l-2.9 -3.1M110.8 235.9l-3.9 -4.1M147.2 236.2l-2.3 -2.8"/>
<path stroke="#000093" stroke-width="1" d="M235.3 235.5l-2.6 -3.2"/>
<path stroke="#e8e8ff" stroke-width="1" d="M189.1 234.4l-2.7 -3.6M40.9 234.9l-2.2 -2.8M263.2 235.6l-2.4 -2.3M172.8 235.6l-3.3 -4.2"/>
<path stroke="#b70000" stroke-width="0.7" d="M174.7 234.4l-2.8 -2.9"/>
<path stroke="#0000f5" stroke-width="1" d="M76.8 235.3l-2.5 -2.9M140 236.9l-2.1 -3M162.4 236.2l-2.7 -3.8"/>
<path stroke="#ff8989" stroke-width="1.4" d="M80.5 235.1l-3 -3.9M169 236.6l-2 -2.3M257.4 234.1l-2.3 -2.9M223.2 234.4l-2.1 -2.7M218 234.5l-3.6 -3.7M175.6 235.7l-3.9 -4.7M41.7 236.2l-2.9 -3.2M108.8 234.1l-2.3 -2.7M225.4 238.1l-3.8 -4.8M51.4 235.5l-2.2 -2.5M151.9 236.6l-3.3 -3.9"/>
<path stroke="#7f7fff" stroke-width="1" d="M79 237.4l-3.5 -3.5M166.8 236.9l-3.7 -4.4M46 235.5l-3.5 -4.1"/>
<path stroke="#0000dd" stroke-width="1" d="M207.3 234.2l-2 -2.2"/>
<path stroke="#ec0000" stroke-width="0.7" d="M84.2 235.8l-4.2 -4.8M204.6 236.6l-2.6 -2.8"/>
<path stroke="#fd0000" stroke-width="1" d="M227.8 236.9l-3.4 -4.7"/>
<path stroke="#ffcfcf" stroke-width="1.4" d="M133.9 235.5l-3.1 -3.7M162.7 237.3l-2.7 -3.7M93.5 235.7l-3.8 -4M255 236.2l-2.8 -3.3M170.5 235.9l-2.3 -2.6M44.7 235.7l-2.2 -2.7M218.1 234.2l-1.9 -2.8M66 234.3l-2.1 -2.2M224.6 234.7l-2.1 -2.4M237.3 236.9l-2.1 -2.7M245.7 236.6l-3.7 -4.1M143.5 236.7l-3 -4M209.6 235.4l-3.7 -4.6"/>
<path stroke="#1616ff" stroke-width="0.7" d="M184.3 236.2l-3.1 -4.5M97 236.4l-2.5 -2.9M234.6 235.7l-2.8 -3.9M63 235.2l-2.3 -3.2M51.7 237.3l-3.4 -3.8M194.6 236.6l-3.1 -4.4"/>
<path stroke="#5c5cff" stroke-width="1.9" d="M31.9 235.6l-3.9 -4M228.3 236.9l-2 -2.5M139.1 234.2l-2.8 -3M164.4 235.3l-3.7 -3.8"/>
<path stroke="#7f7fff" stroke-width="1.9" d="M96.8 233.7l-2.1 -2.1M89.7 236.1l-2.9 -3.1M259.9 236.1l-2.3 -2.5M59 236.9l-3 -4.3M212.1 235.9l-2.3 -2.5M146.3 237.4l-3.5 -3.9M223 234.8l-1.9 -2.8M23.7 236l-2.1 -2.4M57.2 234.7l-2.3 -3.1M146.9 236.3l-3.3 -3.4"/>
<path stroke="#7f7fff" stroke-width="1.4" d="M172.6 236l-3.1 -3.6M167.2 233.7l-2 -2.2M61.8 234.1l-2 -2.5M180.9 237.2l-4.3 -4.6M138 235.1l-3 -3.6M44.9 235.8l-3.8 -3.8M245 235.3l-4.4 -4.5M165.1 234.8l-2.6 -2.9M55 235.9l-2.2 -3.2M93.4 234.2l-2.6 -3.2M231.4 237.7l-3.6 -4.9M77.7 236.7l-3.4 -4.3M221.7 236.9l-4.2 -4.5M50.5 234.8l-2.9 -3.1M262.2 236.4l-3.4 -5"/>
<path stroke="#a2a2ff" stroke-width="1" d="M264.8 235.7l-3.7 -4.8M118.6 235.1l-2 -2.6M201.7 237.4l-3.7 -5.2M35.4 236.4l-2.2 -2.7M74.8 235.7l-2.9 -3M227.9 233.7l-2.4 -2.5M171.4 237.2l-2.9 -3.8M106.8 236.5l-3.3 -3.2"/>
<path stroke="#1616ff" stroke-width="1" d="M64.9 235.3l-2.9 -3.3M121.1 236.5l-3.3 -3.2M242.2 235.7l-3.7 -4.9"/>
<path stroke="#5c5cff" stroke-width="1" d="M31.2 235.7l-3.6 -5M188.4 235.5l-3.1 -3.3M67.3 234.4l-1.9 -2.7M78.3 235.6l-2.4 -3.2"/>
<path stroke="#00007b" stroke-width="0.7" d="M23.3 236.9l-3.5 -3.8"/>
<path stroke="#0000ac" stroke-width="0.7" d="M98.4 235.4l-3.3 -4.1M190 233.9l-2.3 -2.7M94.6 235.9l-2.8 -3.7M78.4 237.7l-4.2 -4.2"/>
<path stroke="#0000f5" stroke-width="1.4" d="M255.9 242.6h6.5"/>
<path stroke="#ff4343" stroke-width="1.4" d="M259 258.7h3.4"/>
<path stroke="#b70000" stroke-width="1.4" d="M258 253.5h4.4"/>
<path stroke="#e8e8ff" stroke-width="1.4" d="M256.6 240.5h5.8"/>
<path stroke="#ffcfcf" stroke-width="1.4" d="M256.6 234.3h5.8M258.7 251.6h3.7"/>
<path stroke="#fd0000" stroke-width="1.4" d="M256.5 260h5.9"/>
<path stroke="#fff3f3" stroke-width="1.4" d="M258.3 246.9h4.1"/>
<path stroke="#ffacac" stroke-width="1.4" d="M259.6 250.4h2.8"/>
<path stroke="#c5c5ff" stroke-width="1.4" d="M259.4 235.5h3M257.9 249.1h4.5"/>
<path stroke="#c5c5ff" stroke-width="1" d="M256 232.5h6.4M259.4 248.2h3"/>
<path stroke="#ffacac" stroke-width="1" d="M256.2 239.6h6.2M256.4 241.7h6M257.7 257.8h4.7"/>
<path stroke="#ff8989" stroke-width="1" d="M255.7 263.7h6.7"/>
<path stroke="#000062" stroke-width="1" d="M258.5 256.9h3.9"/>
<path stroke="#7f7fff" stroke-width="1" d="M259.5 237.4h2.9M255 246h7.4M259.4 261.3h3"/>
<path stroke="#fd0000" stroke-width="1" d="M255.1 262.2h7.3"/>
<path stroke="#00007b" stroke-width="1" d="M257.5 233.4h4.9"/>
<path stroke="#a2a2ff" stroke-width="1" d="M258.5 244.5h3.9"/>
<path stroke="#ffcfcf" stroke-width="1" d="M258.4 254.8h4"/>
<path stroke="#ffcfcf" stroke-width="0.7" d="M259.9 252.9h2.5"/>
<path stroke="#a50000" stroke-width="0.7" d="M255.1 238.3h7.3M255.7 245.4h6.7"/>
<path stroke="#c5c5ff" stroke-width="0.7" d="M257 238.9h5.4"/>
<path stroke="#a2a2ff" stroke-width="0.7" d="M255.2 236.8h7.2M257.1 256.3h5.3"/>
<path stroke="#0000c4" stroke-width="0.7" d="M255.6 255.7h6.8"/>
<path stroke="#0000dd" stroke-width="0.7" d="M255.9 243.9h6.5"/>
<path stroke="#c90000" stroke-width="0.7" d="M255.1 263.1h7.3"/>
<polygon fill="#860000" points="240.9,235.2 258.4,235.2 258.4,236.3 242.4,236.2"/>
<polygon fill="#860000" points="31.6,234.1 46.2,235.6 60.7,238.5 59.3,239.3 44.7,237 31.6,235.3"/>
</g></g>
<rect x="22.1" y="193.0" width="241.7" height="95.8" fill="none" stroke="#000" stroke-width="0.5"/>
<g font-family="'DejaVu Sans','Liberation Sans',sans-serif" font-size="6.7" fill="#111" stroke="#000" stroke-width="0">
<text x="61.7" y="299.3" text-anchor="middle">100</text>
<text x="101.3" y="299.3" text-anchor="middle">200</text>
<text x="141.0" y="299.3" text-anchor="middle">300</text>
<text x="180.6" y="299.3" text-anchor="middle">400</text>
<text x="220.2" y="299.3" text-anchor="middle">500</text>
<text x="259.8" y="299.3" text-anchor="middle">600</text>
<text x="17.7" y="271.8" text-anchor="end">50</text>
<text x="17.7" y="252.2" text-anchor="end">100</text>
<text x="17.7" y="232.6" text-anchor="end">150</text>
<text x="17.7" y="213.0" text-anchor="end">200</text>
<path d="M61.7 288.8v2.2M101.3 288.8v2.2M141.0 288.8v2.2M180.6 288.8v2.2M220.2 288.8v2.2M259.8 288.8v2.2M19.9 269.3h2.2M19.9 249.7h2.2M19.9 230.1h2.2M19.9 210.5h2.2" stroke-width="0.6"/>
</g>
<text x="136.0" y="312.7" text-anchor="middle" font-family="'Liberation Serif',serif" font-size="12" fill="#000">(<tspan font-weight="bold">c</tspan>)</text>
<rect x="300.2" y="192.3" width="244.9" height="96.8" fill="#860000"/>
<clipPath id="kd">
<polygon points="302.2,232.4 302.2,263.3 316.5,266.3 333.6,270.7 343.2,272.5 351.3,271.7 359.7,268.9 370.2,271.3 381.4,272.7 392.3,271.9 399.9,268.9 410.4,271.3 421.6,272.7 432.5,271.9 440.1,268.9 450.6,271.3 461.8,272.7 472.7,271.9 480.3,268.9 490.8,271.3 502,272.7 512.9,271.9 519.3,269.7 536.2,266.7 542.6,264.5 542.6,203.1 375.8,203.1 376,212.4 379,219.6 383.8,228.4 384.6,232.4"/>
</clipPath>
<g clip-path="url(#kd)"><g fill="none" filter="url(#jag)">
<polygon points="302.2,232.4 302.2,263.3 316.5,266.3 333.6,270.7 343.2,272.5 351.3,271.7 359.7,268.9 370.2,271.3 381.4,272.7 392.3,271.9 399.9,268.9 410.4,271.3 421.6,272.7 432.5,271.9 440.1,268.9 450.6,271.3 461.8,272.7 472.7,271.9 480.3,268.9 490.8,271.3 502,272.7 512.9,271.9 519.3,269.7 536.2,266.7 542.6,264.5 542.6,203.1 375.8,203.1 376,212.4 379,219.6 383.8,228.4 384.6,232.4" fill="#f6c4c8"/>
<path stroke="#ffcfcf" stroke-width="9" d="M357.6 256.5l6.4 -16.2 6.4 -16.2M331.8 239.7l5.4 -19.7 6.2 -19.4"/>
<path stroke="#da0000" stroke-width="9" d="M500.1 223.2l6.7 -17.3 5.5 -17.8M429.8 270l10.2 -21.7 11.1 -21.3M386.4 273.3l11.2 -18.3 11 -18.3M345.5 231l7.4 -12.4 7.1 -12.5"/>
<path stroke="#7f7fff" stroke-width="9" d="M417.1 242l7.7 -15.5 7.7 -15.5M491.5 266.7l4.5 -20.2 4.9 -20.1M512.3 234.8l8.3 -19.7 6.7 -20.3M311.2 253.9l6.6 -15 6.2 -15.2"/>
<path stroke="#c90000" stroke-width="9" d="M429 268.4l5.2 -20.5 4.8 -20.6M385.5 240.4l4.6 -15.1 5.5 -14.8"/>
<path stroke="#ff4343" stroke-width="9" d="M302 235.4l7.5 -20.7 7.7 -20.6M346 236.4l6.9 -17.1 7.5 -16.8"/>
<path stroke="#1616ff" stroke-width="9" d="M537 257.2l3.9 -13.3 4.8 -13"/>
<path stroke="#0000dd" stroke-width="9" d="M445 227.2l6.3 -14.3 6.6 -14.2M367.4 240.8l5.9 -17.8 5.7 -17.9"/>
<path stroke="#e8e8ff" stroke-width="9" d="M439.8 231.6l7.4 -14.9 6.6 -15.2"/>
<path stroke="#00007b" stroke-width="9" d="M326.8 223.6l6.2 -12.9 5.7 -13.1M377.2 261.8l5.3 -13.5 4.5 -13.8"/>
<path stroke="#c5c5ff" stroke-width="9" d="M402.3 246.7l5.8 -17.8 7 -17.3M328.9 218.8l4.5 -13.4 5.1 -13.2"/>
<path stroke="#ffacac" stroke-width="9" d="M359.9 249.6l4.6 -17.7 5.2 -17.5M345.7 268.6l5.2 -16.7 6.8 -16.1"/>
<path stroke="#ff2020" stroke-width="9" d="M494.4 231.5l5.6 -11.9 5.3 -12.1M316.4 266.4l7.1 -19 6.1 -19.3"/>
<path stroke="#fff3f3" stroke-width="9" d="M362.6 252.8l10 -18.6 10.2 -18.5M409.6 249.1l7.4 -19.1 6.1 -19.5"/>
<path stroke="#ec0000" stroke-width="9" d="M355.9 251.8l9.7 -20.3 10.8 -19.7M291.2 253.3l10.8 -21.3 11.5 -20.9"/>
<path stroke="#3939ff" stroke-width="9" d="M514.1 255.4l10.3 -22.4 9.5 -22.7"/>
<path stroke="#0000c4" stroke-width="9" d="M368 238.4l4.2 -11.6 4.1 -11.6"/>
<path stroke="#940000" stroke-width="9" d="M347.2 242l7.5 -18.7 6.1 -19.2"/>
<path stroke="#5c5cff" stroke-width="9" d="M349.7 264.5l7.3 -13.6 6.3 -14.1M486.4 245.9l5.6 -12.7 5.7 -12.7"/>
<path stroke="#0000f5" stroke-width="9" d="M513.4 239.3l5.8 -21.6 4.9 -21.8M529.2 222.4l3.8 -15 5.2 -14.6M322.5 236.3l4.8 -20.4 5.6 -20.2"/>
<path stroke="#ff8989" stroke-width="9" d="M498.8 270.8l7.9 -18 7.8 -18.1"/>
<path stroke="#da0000" stroke-width="7" d="M448 235.8l7 -23 8.5 -22.5M511.4 275.6l5.5 -22.3 5.5 -22.3"/>
<path stroke="#ff6666" stroke-width="7" d="M530.3 226.4l7 -19 7.7 -18.7M494 239.8l5.7 -16.4 7.4 -15.7M297.7 237.5l9.3 -18.7 8.6 -19"/>
<path stroke="#0000f5" stroke-width="7" d="M417.8 269.4l8 -19.1 9.4 -18.4"/>
<path stroke="#ec0000" stroke-width="7" d="M401.9 225.6l4.8 -15.4 4.9 -15.4M338.5 262.7l4.1 -13.2 5.3 -12.7M413.4 217.7l4.4 -13.2 5 -13"/>
<path stroke="#0000ac" stroke-width="7" d="M388.8 254.7l7.7 -17.2 6.9 -17.5"/>
<path stroke="#e8e8ff" stroke-width="7" d="M344.4 237.2l4.6 -19.9 6.1 -19.5M528.7 258l6.9 -14.3 5.4 -14.9M371.6 238.8l8.4 -20.7 7.1 -21.2M417.2 260.6l5.4 -15.8 6.2 -15.5"/>
<path stroke="#ff4343" stroke-width="7" d="M333.4 265.9l5 -17 5.2 -17M521.5 225l5.9 -21.8 6.2 -21.7"/>
<path stroke="#a2a2ff" stroke-width="7" d="M329.9 271.3l7.4 -20.2 8.6 -19.7"/>
<path stroke="#1616ff" stroke-width="7" d="M390.1 242.5l3.9 -12.5 5.3 -12"/>
<path stroke="#c90000" stroke-width="7" d="M507.1 244l12.3 -20.2 11.2 -20.8"/>
<path stroke="#ffacac" stroke-width="7" d="M540.8 254.6l4.9 -16.4 5 -16.4M294.2 251.4l4 -11.6 4.7 -11.3"/>
<path stroke="#0000dd" stroke-width="7" d="M310.3 230.3l5.9 -23.8 8.5 -23M451.1 264.1l7.5 -23.6 6.7 -23.8M500.8 243.5l4.5 -15.6 4.5 -15.6M310.8 270.4l7.8 -16.4 7.6 -16.4"/>
<path stroke="#000062" stroke-width="7" d="M467.3 226.2l3.8 -13.8 3.3 -13.9"/>
<path stroke="#3939ff" stroke-width="7" d="M499.3 256.6l4.6 -17.2 6 -16.7"/>
<path stroke="#ffcfcf" stroke-width="7" d="M313.5 267.6l7.1 -21.3 7.2 -21.3"/>
<path stroke="#5c5cff" stroke-width="7" d="M492.7 256.6l7.4 -18 8.2 -17.7M455.7 228.5l7.7 -21 7.8 -20.9M345 226.4l6.4 -11.2 5.4 -11.7"/>
<path stroke="#7f7fff" stroke-width="7" d="M476.9 229.3l8.1 -20.3 8.5 -20.1M509.5 233l7.8 -21.7 9.3 -21.1M322 240.2l8.2 -15.2 8.8 -14.9"/>
<path stroke="#ff8989" stroke-width="7" d="M348.8 245.2l4.4 -16.9 4.6 -16.9M488.6 249.4l2.9 -12.2 2.6 -12.3M502.3 249.7l6.5 -11.2 5.9 -11.5M344.7 255.1l8.4 -15.7 8.2 -15.8"/>
<path stroke="#c5c5ff" stroke-width="7" d="M512.6 240.6l4.9 -19.7 5.7 -19.5M458 273.4l10.2 -20.5 10.1 -20.6M349.3 240.2l9 -21.5 6.9 -22.2"/>
<path stroke="#fff3f3" stroke-width="5.5" d="M526.3 257l5.5 -10.8 4.1 -11.4M482.8 219l3.8 -14.1 4.9 -13.8"/>
<path stroke="#1616ff" stroke-width="5.5" d="M474.4 225.8l4.5 -13.3 4.3 -13.4M414.1 259.3l6.4 -17.9 6 -18"/>
<path stroke="#ff2020" stroke-width="5.5" d="M334.2 261.5l4.9 -12.9 6.1 -12.3M295.3 268.2l7.2 -20.6 8.6 -20"/>
<path stroke="#0000ac" stroke-width="5.5" d="M395.5 231.4l6.8 -20.2 6.1 -20.5M419.8 244.5l7.1 -21.6 8.7 -21M374 227.8l6 -17 6.6 -16.8M447.4 270.1l10.1 -22.5 8.1 -23.3"/>
<path stroke="#e8e8ff" stroke-width="5.5" d="M440.7 242.8l4.7 -16 6.4 -15.4M333.6 260.9l5.6 -12.6 5.3 -12.8M368.7 256.2l5.1 -13 5.9 -12.7M292.3 245.1l7.4 -21.2 5.3 -21.8M369.2 234.9l6.2 -23 6.2 -23M477.6 226.8l6 -13.8 5.7 -13.9"/>
<path stroke="#b70000" stroke-width="5.5" d="M513.4 215.6l5.3 -12.2 6.5 -11.6M410 267l7.1 -22.3 7 -22.4"/>
<path stroke="#c90000" stroke-width="5.5" d="M443.9 240.9l7.7 -22.2 7.3 -22.3M457.3 235.8l8.4 -17.1 7.7 -17.4"/>
<path stroke="#ec0000" stroke-width="5.5" d="M337 236.9l11.1 -20.6 8.6 -21.8M324.1 278l7.1 -23.4 8.9 -22.7M493.4 253.1l3.1 -13.1 4.4 -12.7M407.3 241.2l4.3 -12.2 3.2 -12.5M505 235.5l6.3 -13.8 6.9 -13.5M380.2 242.9l5.4 -12.3 5 -12.5"/>
<path stroke="#ff4343" stroke-width="5.5" d="M471.8 235l6.8 -18.5 4.9 -19M478 245.9l5.8 -19.2 6.1 -19.1M358.1 223.2l10.2 -20 9.5 -20.3M337.3 239.5l4.9 -13.4 5.5 -13.2M304.5 224l2.7 -12 4.2 -11.6"/>
<path stroke="#0000dd" stroke-width="5.5" d="M403.2 260.3l10.4 -19 10.1 -19.2M513.7 249.3l7.9 -14.5 7.8 -14.6M422.4 259.9l4.2 -17.6 4.5 -17.5"/>
<path stroke="#940000" stroke-width="5.5" d="M439.6 274.9l8.7 -20.5 7.4 -21"/>
<path stroke="#ffacac" stroke-width="5.5" d="M365.6 248.7l5.3 -17.8 5.8 -17.6M336.9 248l6.4 -24 6.2 -24M316 249.4l5 -17.5 5.4 -17.4M494.2 259.2l8.3 -17.1 7.9 -17.3M390.4 248.1l7.1 -20.7 5.4 -21.2"/>
<path stroke="#da0000" stroke-width="5.5" d="M422.5 227.6l3 -13.5 3.9 -13.2M343 263.2l5.3 -20.3 5.4 -20.3M505 225.7l8.6 -21.2 9.9 -20.6M451.1 250.6l5.6 -11.6 5.8 -11.5"/>
<path stroke="#0000f5" stroke-width="5.5" d="M383.7 255.7l10.1 -22.5 11.9 -21.6"/>
<path stroke="#00007b" stroke-width="5.5" d="M416.9 248.6l5.6 -19.6 6.5 -19.4M471.2 250.3l7.7 -16.3 8.9 -15.7M290.7 236.2l8.5 -19.9 10.2 -19"/>
<path stroke="#ff8989" stroke-width="5.5" d="M337 249.4l6.9 -17.3 7.7 -17M372.3 229.1l11.2 -21.1 11.9 -20.7"/>
<path stroke="#a50000" stroke-width="5.5" d="M509.7 272.4l6.6 -21.8 7.5 -21.5"/>
<path stroke="#c5c5ff" stroke-width="5.5" d="M454.5 251.2l3.6 -12.5 2.7 -12.7M506.2 265.5l7.3 -15.4 6.3 -15.8M383.5 264.3l9.2 -22.9 8.7 -23.1"/>
<path stroke="#ffcfcf" stroke-width="5.5" d="M431.1 268.8l7.3 -19.2 6.4 -19.5M290.3 265.1l7.8 -20.1 8.1 -20M365.5 268.4l6.4 -16.4 7.3 -16.1M387.3 227.1l4.1 -16.3 4.3 -16.3M494.2 258.7l4.2 -15.3 3.5 -15.5M514.6 219l3.7 -12.9 4.3 -12.8M363.2 240.5l9.3 -16.3 8.1 -17M404.1 236.6l5.2 -11.3 5.3 -11.3"/>
<path stroke="#7f7fff" stroke-width="5.5" d="M418.2 233.3l6.5 -17.7 6.4 -17.8M307.8 244.9l7.3 -20.2 6.3 -20.5"/>
<path stroke="#5c5cff" stroke-width="5.5" d="M515.9 240l6 -20.1 6.1 -20.1M531.6 265.8l10.1 -21.3 10.3 -21.2M532 274l7 -19.2 7.2 -19.1M489 252.5l3.9 -12 3.4 -12.2M320.5 260.8l7.9 -17.4 7.9 -17.4M473.2 265.2l5.6 -17.8 6.3 -17.5M371.8 238.4l6 -16.5 6 -16.5"/>
<path stroke="#fd0000" stroke-width="5.5" d="M296.1 254.6l5.9 -16.7 7.6 -16M298.3 273.7l9.9 -21.9 8.5 -22.6M311 235.3l9.7 -18.4 8.8 -18.9"/>
<path stroke="#a2a2ff" stroke-width="5.5" d="M526.7 244.7l7 -22.5 4.9 -23.1M329.8 267.7l7.1 -20.9 8.1 -20.5M297.6 246.5l5.7 -17.6 5.5 -17.6"/>
<path stroke="#0000c4" stroke-width="5.5" d="M359.3 256.3l6.2 -11.4 5.4 -11.7M339 221.4l5 -13.5 5.3 -13.4M493.2 222.7l4.5 -13.4 5.3 -13.1"/>
<path stroke="#ff6666" stroke-width="5.5" d="M458.1 267.1l5.9 -22.9 5.9 -22.9"/>
<path stroke="#ff6666" stroke-width="4.2" d="M465.9 266.7l6.4 -15 7 -14.7"/>
<path stroke="#fff3f3" stroke-width="4.2" d="M467.4 268.3l6.1 -23.9 8.9 -23"/>
<path stroke="#a50000" stroke-width="4.2" d="M358.6 234.3l7.8 -15.5 6.9 -16"/>
<path stroke="#3939ff" stroke-width="4.2" d="M527 224.5l8.3 -19.2 9.8 -18.5"/>
<path stroke="#1616ff" stroke-width="4.2" d="M500.4 268.8l6.7 -17.3 5.5 -17.7M465.4 229.4l11.3 -21.6 10.6 -21.9"/>
<path stroke="#ffcfcf" stroke-width="4.2" d="M425.4 234.3l3.4 -14 5 -13.5"/>
<path stroke="#ff8989" stroke-width="4.2" d="M484.6 263.6l7.1 -18.4 8.2 -17.9M472.5 229.7l10.4 -19.6 10.7 -19.4M443 223.6l3 -11.9 3.1 -11.9M466.9 254.1l9.1 -20.2 9.8 -19.9M402.1 271.2l8.6 -20.9 9.7 -20.4"/>
<path stroke="#ff2020" stroke-width="4.2" d="M510.6 231.4l10.9 -20.1 10.1 -20.5"/>
<path stroke="#e8e8ff" stroke-width="4.2" d="M521.3 242.3l7.5 -16.4 6.6 -16.7M518.1 236.3l10.4 -21.7 10.5 -21.6M335.8 251.9l5.2 -13.7 3.5 -14.3M526 266.7l4.6 -15.7 5.1 -15.6"/>
<path stroke="#7f7fff" stroke-width="4.2" d="M372.5 254l9.9 -16.3 9.3 -16.6M323.6 243.8l6.7 -18.1 5.5 -18.6M308.9 227.7l8.1 -15.6 6.9 -16.2M467.4 239.8l6.5 -17.2 4.8 -17.8"/>
<path stroke="#0000ac" stroke-width="4.2" d="M468.9 265.6l7.5 -22.9 7.7 -22.8"/>
<path stroke="#c5c5ff" stroke-width="4.2" d="M315.6 230.1l6.4 -13.7 6.1 -13.9"/>
<path stroke="#ff4343" stroke-width="4.2" d="M336 233.7l7 -21.2 8.3 -20.8"/>
<path stroke="#0000c4" stroke-width="4.2" d="M292.6 240.4l6.7 -12.5 6.9 -12.4M323.9 219.7l4.5 -11.2 5.5 -10.7M305.8 258.5l7.7 -16.4 8.5 -16.1M331 260.9l8.4 -17 7.3 -17.5"/>
<path stroke="#a2a2ff" stroke-width="4.2" d="M462.6 272.1l5.7 -16.9 4 -17.4"/>
<path stroke="#0000dd" stroke-width="4.2" d="M331.8 224.5l9.5 -19.3 8 -19.9M331.8 226.6l6.1 -16.1 6.2 -16.1"/>
<path stroke="#fd0000" stroke-width="4.2" d="M448.9 258.5l7.1 -16.5 8 -16.1M489 262.3l7.7 -14.7 5.6 -15.6M323.6 225.6l5.7 -20.2 4.5 -20.5M307.6 250l5.3 -17.3 5.8 -17.1"/>
<path stroke="#5c5cff" stroke-width="4.2" d="M468.1 263.3l6.8 -17.6 8.3 -16.9"/>
<path stroke="#c90000" stroke-width="4.2" d="M402.4 226.6l11.8 -19.3 10.3 -20.2M505.2 229.4l5.4 -20.3 6.6 -20M428.5 269.1l7.8 -18 7.9 -17.9M448.4 255.2l4.7 -12.5 4.2 -12.7"/>
<path stroke="#000093" stroke-width="4.2" d="M496.3 227.6l4.6 -15.6 4.9 -15.5"/>
<path stroke="#da0000" stroke-width="4.2" d="M412.8 227l7.1 -17 7.3 -16.9M319.6 270.8l9.7 -19.4 9.3 -19.6"/>
<path stroke="#ec0000" stroke-width="4.2" d="M336.2 240.6l5.4 -19.7 5.5 -19.6M498.5 264.8l8 -19.5 8.3 -19.3M377.6 216.1l4 -12.8 3.5 -13"/>
<path stroke="#b70000" stroke-width="4.2" d="M298.8 252.9l7.9 -23.2 9.1 -22.7"/>
<path stroke="#ffacac" stroke-width="4.2" d="M349.8 235.9l6.3 -16.1 7.2 -15.8M461.7 255.7l4.4 -13.1 4.7 -12.9"/>
<path fill="#5c5cff" d="M321.7 214.9l8.7 -10 7.2 -19.2 -2.4 -9.8 -5.7 6.9 -6.4 19.5zM294.6 251.1l8.1 -11 8.8 -19.5 -0.1 -10.7 -7.8 7.5 -7 20.2zM403.6 244.1l4.8 -9.1 5 -15.4 0.6 -8.2 -6.6 6.7 -3.1 15.9zM514 240.2l9.6 -9.7 10.2 -16.5 1.3 -11.1 -9.7 6.9 -6.9 18.2z"/>
<path fill="#da0000" d="M416.3 223.3l3.3 -6.3 4.9 -11.5 0.5 -6.3 -5.6 4.6 -3.1 12.1z"/>
<path fill="#c5c5ff" d="M538.8 256.7l11.1 -10.9 9.1 -20.4 -0.7 -10.4 -7.2 6.9 -9.2 20.4z"/>
<path fill="#fd0000" d="M433.6 222.8l9.5 -10.5 9.7 -18 2 -9.5 -7.7 6.6 -8.8 18.5zM508.5 229.1l6 -6.6 5.7 -13.1 0.6 -7.2 -5.3 5.1 -5.9 13.1z"/>
<path fill="#a50000" d="M540.3 247.9l8.9 -11.3 12 -18.7 -2.1 -10.7 -8.9 5.5 -7.1 21.1zM485.8 245.7l3.2 -7.1 4.8 -12.9 0.8 -6 -4.5 4.6 -5.1 12.8z"/>
<path fill="#ff8989" d="M348.2 234.3l10.6 -13 9.3 -22 -2.5 -12 -8.8 7.9 -7 22.8zM354.3 256l7.9 -11.5 8 -19.3 0.5 -10.6 -6.6 8.4 -6.6 19.8z"/>
<path fill="#e8e8ff" d="M500.9 246.8l5.9 -7.3 3.4 -13.2 -1.2 -6.8 -3.2 5.6 -4.3 12.9zM452.2 253.9l5.6 -6.6 4 -12.3 -0.8 -5.9 -4.2 4.4 -3.8 12.3zM482.4 220.4l7.5 -12.4 6.3 -22.8 -3.3 -12.1 -4.1 10 -6.5 22.7zM309.5 257.3l9.5 -11.7 9.3 -20.6 0.1 -11.1 -11.2 7.6 -4.4 22.1z"/>
<path fill="#00007b" d="M538.5 240.1l11.1 -10.5 8.7 -19.3 -1.1 -9.8 -5.5 6.7 -8.9 19.3z"/>
<path fill="#b70000" d="M486.1 261.9l4.5 -6.8 5.5 -11.3 -0.1 -5.4 -4.6 3 -6.1 11z"/>
<path fill="#7f7fff" d="M307.4 261.2l6.9 -7.3 4.6 -13.8 0.2 -7.5 -4.9 5.8 -5.2 13.6z"/>
<path fill="#fff3f3" d="M348.3 243.5l8.3 -12.3 8.7 -21 -1.9 -10.9 -7.1 8.1 -4.6 22.2zM348.1 229.5l8.4 -10.3 9 -18.9 1.9 -10 -10.9 6.1 -7.7 19.4zM352.4 220.7l6.8 -9.8 6.1 -16.6 -3.8 -9.3 -4.5 6.8 -3.8 17.3zM510 218.2l7.3 -11 9.1 -19.1 2.3 -10.5 -9.1 7.8 -6.7 20.1z"/>
<path fill="#000062" d="M329.1 248.8l6.8 -10.5 5.4 -17.4 0.5 -9.2 -7.1 7.2 -5.3 17.5z"/>
<path fill="#3939ff" d="M418 212.6l4.8 -13.6 8.9 -21.9 0.4 -11.8 -6.6 9.4 -8.1 22.2zM477.2 229.5l5.4 -6.3 3.4 -11.8 -0.1 -6.1 -4.2 4.8 -3.5 11.8zM339.1 262.8l9.8 -10.8 10.1 -19.5 -1 -12.1 -8 8.2 -7.1 20.7zM438.5 260l8.7 -8.7 7.2 -16.2 -1.5 -9.2 -6.8 6.2 -4.4 17.2z"/>
<path fill="#ff2020" d="M525.2 262.5l6.5 -10 6.4 -16.7 -1.2 -8.6 -4.4 6.7 -5.4 17.1zM393.5 256l5.1 -12.4 7.3 -20.1 1.7 -10.2 -9.7 7.7 -5.6 20.6zM429.2 215.7l5.5 -6.8 5.8 -13.5 0.1 -7.8 -5.6 5.5 -5.1 13.8z"/>
<path fill="#0000dd" d="M453.4 215l8.2 -11.8 6.2 -21.8 -2.3 -12.2 -6.4 9.9 -5.1 22.1z"/>
<path fill="#ec0000" d="M498.6 213.7l5.7 -9.3 4.8 -16.3 1.8 -7.8 -6.4 6.4 -4.8 16.3zM341.4 247.2l4.4 -8.8 5.6 -15.6 0.2 -7.5 -6 5.7 -4.8 15.8z"/>
<path fill="#ffcfcf" d="M463.8 265.5l5.6 -7 5.5 -11.4 0.4 -5.7 -3.9 4.1 -5.4 11.4zM404.2 249.8l5.5 -8.4 7.8 -14 0.3 -8.1 -5.3 5.5 -7 14.4z"/>
<path fill="#ff4343" d="M433 238.5l3.8 -9.6 4.2 -16.2 -0.3 -7.5 -3.5 6.4 -5.2 15.9zM440.1 231l4.9 -7.2 5.2 -12.8 -1 -6.9 -3.6 5.1 -4.8 13zM515.2 212.4l6.4 -9.2 7.9 -16.2 0.7 -9 -5.6 6.5 -8.4 16z"/>
<path fill="#c90000" d="M403.6 264.5l6.2 -6.7 5.4 -12.3 -2.9 -7.6 -3.7 5.1 -3.9 12.9z"/>
<path fill="#0000f5" d="M301 258.2l6.2 -8 8.4 -14.1 -1.7 -9 -5.9 5.4 -5.7 15.4z"/>
<path fill="#a2a2ff" d="M399.2 254l9.8 -10.9 11.6 -18.1 0.5 -11.7 -11.1 6.2 -8.4 19.7z"/>
<path fill="#0000c4" d="M304.7 262.5l6 -11.3 7.2 -19.8 -0.3 -10.1 -7.3 7.9 -4.2 20.7zM421.8 227.7l4.7 -6.9 5.6 -13 0 -6.2 -3.5 4.6 -6.2 12.7z"/>
<path fill="#ff6666" d="M335.7 237.2l10.4 -9.2 9.3 -18.4 -1.5 -9.6 -8.1 5.3 -7.5 19.2zM507.5 241.4l5.8 -6.4 7.4 -11.9 0.3 -7.2 -6 4.3 -5.4 12.9z"/>
<path fill="#ffacac" d="M345.8 230l3.8 -8.1 4.9 -13.6 -0.5 -7.1 -3.9 5.8 -3.5 14.1zM295.1 259.1l5.1 -6.1 2.7 -10.4 0.1 -5.4 -4.3 4.3 -2.8 10.3z"/>
<path fill="#1616ff" d="M361.9 249.6l4.9 -9.5 5.6 -16.8 -3.9 -9.4 -3.9 7.1 -4 17.2zM373.1 255.5l9 -10 8.4 -19 -0.2 -9.7 -7.2 6.2 -9.8 18.3z"/>
<path stroke="#da0000" stroke-width="5.5" d="M532.9 265.4l3.2 -7.7 3.6 -7.5M486.9 264l3.4 -7.5 4.2 -7.1M486.2 259l5.2 -10.1 4.9 -10.3"/>
<path stroke="#a2a2ff" stroke-width="5.5" d="M358.3 257.2l2.8 -7.8 3.3 -7.7M305.3 263l4.1 -9.5 4.1 -9.5M445.6 260.4l2.8 -5.7 2.3 -5.9"/>
<path stroke="#fd0000" stroke-width="5.5" d="M346.2 264.3l3.5 -10.8 3.3 -10.9"/>
<path stroke="#e8e8ff" stroke-width="5.5" d="M450.7 262.4l3.1 -4.9 2.8 -5.1"/>
<path stroke="#5c5cff" stroke-width="5.5" d="M448.1 261.3l3.6 -8.6 4.1 -8.4"/>
<path stroke="#ff6666" stroke-width="5.5" d="M398.6 260.1l1.8 -5.8 1.4 -5.9M334.8 267.6l3.4 -7.3 2.8 -7.6M517.1 258.5l3.7 -11 3.1 -11.2M538.3 267.2l4 -8.5 2.9 -9M424.2 261.3l1.7 -5.8 1.9 -5.7"/>
<path stroke="#000062" stroke-width="5.5" d="M464.3 269.6l4.3 -9.3 4.6 -9.2"/>
<path stroke="#ff4343" stroke-width="5.5" d="M446 259.3l4.3 -13.1 6.4 -12.2M362.5 264l3.8 -6.9 3 -7.3"/>
<path stroke="#0000f5" stroke-width="5.5" d="M320 266l2.5 -9.7 3.8 -9.3M479.8 268.5l2.8 -7.7 3.7 -7.3"/>
<path stroke="#0000dd" stroke-width="5.5" d="M373.9 261.3l3.5 -6.7 3.8 -6.5"/>
<path stroke="#ffcfcf" stroke-width="5.5" d="M344 265.3l4.5 -9.1 4.3 -9.2"/>
<path stroke="#ff8989" stroke-width="5.5" d="M523 261.4l4.6 -10.5 4.1 -10.7"/>
<path stroke="#940000" stroke-width="5.5" d="M357.1 262.2l2.5 -6 2.8 -5.9M377.5 261.6l2.9 -6.6 2.8 -6.7"/>
<path stroke="#ec0000" stroke-width="5.5" d="M531.3 266.1l2.6 -6.8 2 -7M311.1 255.1l4.2 -7.9 4.1 -8M390.1 257.5l6.6 -11.7 5.1 -12.4M435.6 256.9l6.5 -11.5 6.7 -11.4M444.3 253l3.1 -7.2 4 -6.7"/>
<path stroke="#a50000" stroke-width="5.5" d="M404 266.2l2 -5.2 2.6 -4.9M465.4 261.8l2.8 -9.1 3.5 -8.9"/>
<path stroke="#7f7fff" stroke-width="5.5" d="M438 261.9l5.8 -10.1 5.8 -10"/>
<path stroke="#0000c4" stroke-width="4.2" d="M311.8 265.5l3.3 -5.7 2.8 -6M530.5 269.3l3.1 -8.9 3.3 -8.8"/>
<path stroke="#fd0000" stroke-width="4.2" d="M505.5 267.3l3.1 -9.2 4.1 -8.8"/>
<path stroke="#000093" stroke-width="4.2" d="M322.3 267.1l1.9 -8 2.5 -7.8"/>
<path stroke="#ff4343" stroke-width="4.2" d="M533.8 269.4l3.4 -10.1 3.3 -10.1M307.2 260.4l5.1 -10.8 5.8 -10.5M475.1 266l2.2 -7.8 2.5 -7.7M388.7 256.9l4.8 -8.7 3.4 -9.3M486.7 260.8l4.9 -10.7 5.5 -10.4M528.9 256.7l6 -10.6 6 -10.6M374.4 265.8l2.8 -5.6 2.6 -5.7"/>
<path stroke="#e8e8ff" stroke-width="4.2" d="M526.3 261.7l4.4 -7.6 4.3 -7.6M433 256.8l2.8 -7.9 3.2 -7.7"/>
<path stroke="#0000f5" stroke-width="4.2" d="M424.6 259l3.1 -7.1 2.5 -7.4"/>
<path stroke="#ff8989" stroke-width="4.2" d="M398.3 266.9l3 -9.6 3.5 -9.5M473.5 254.8l3.5 -5.9 3.5 -6"/>
<path stroke="#c90000" stroke-width="4.2" d="M408.7 261.6l2.6 -7.7 2.1 -7.9"/>
<path stroke="#a2a2ff" stroke-width="4.2" d="M349.6 261.5l2.6 -9.5 2.3 -9.5"/>
<path stroke="#c5c5ff" stroke-width="4.2" d="M368.3 264.3l1.4 -5.6 1.8 -5.5M460.8 256.6l3.6 -9.1 3.7 -9"/>
<path stroke="#da0000" stroke-width="4.2" d="M378.8 271l4 -9 3.6 -9.2"/>
<path stroke="#ffcfcf" stroke-width="4.2" d="M471.2 266.8l3 -9.7 4 -9.4M462.7 268.5l4.1 -10.2 4.7 -9.9M425.7 255.2l4.4 -10 5.7 -9.3"/>
<path stroke="#fff3f3" stroke-width="4.2" d="M526.3 261.8l2.3 -6.7 2 -6.8M368.4 253.5l1.9 -7.1 1.4 -7.2M377.2 258.2l3.6 -12.4 3.4 -12.5"/>
<path stroke="#940000" stroke-width="4.2" d="M460.7 256.3l3.3 -8.3 3.1 -8.4M298.1 264.2l3.8 -9.4 4.1 -9.2"/>
<path stroke="#ec0000" stroke-width="4.2" d="M305 259.5l4.1 -9.3 4 -9.3M492.5 262.4l5.3 -10.8 4.4 -11.2M333.6 259.9l2.4 -6.4 2.9 -6.2M408.6 269.8l2.8 -8.6 2.3 -8.8"/>
<path stroke="#1616ff" stroke-width="4.2" d="M523.2 269.8l3 -8.6 4.1 -8.1M369.8 267.6l1.7 -5.1 1.7 -5.1M434.2 262l4.5 -10.7 3.6 -11.1"/>
<path stroke="#3939ff" stroke-width="4.2" d="M542.1 264.5l4 -10.8 2.8 -11.2M475.5 255l1.8 -7.6 1.8 -7.6M352.2 257.2l2.8 -9.2 3.2 -9.1M517.3 266.5l2.5 -6 2.1 -6.2"/>
<path stroke="#7f7fff" stroke-width="4.2" d="M453.4 270.3l3 -7.4 2.1 -7.7M454.1 267.8l3.1 -5.9 3 -6"/>
<path stroke="#0000dd" stroke-width="4.2" d="M295.4 265.5l3.1 -5.9 2.2 -6.3M382.7 264.7l3.7 -7.8 3.3 -8"/>
<path stroke="#000062" stroke-width="4.2" d="M495.2 265.1l3 -5.5 3.2 -5.4"/>
<path stroke="#b70000" stroke-width="4.2" d="M484.2 269.3l2.3 -9.6 3.5 -9.2"/>
<path stroke="#ffacac" stroke-width="4.2" d="M439.1 260l3.1 -8.3 3 -8.4M300.7 259.5l3.2 -6.8 3.9 -6.4"/>
<path stroke="#ff6666" stroke-width="4.2" d="M434.9 262.4l4.1 -8.8 4.7 -8.5M527.4 265.1l2.1 -5.1 1.9 -5.2M442.4 268.4l2.3 -8 2.3 -8"/>
<path stroke="#a50000" stroke-width="4.2" d="M408.2 257.5l2.4 -6.1 2.8 -6M425 268.7l3 -6.4 2.8 -6.5"/>
<path stroke="#ff2020" stroke-width="4.2" d="M453.1 254.3l3.3 -8.5 3.8 -8.3M518 265l2.8 -8.2 3.5 -8"/>
<path stroke="#5c5cff" stroke-width="4.2" d="M319.7 265l3.6 -9 3.9 -8.9M327.9 257.3l4.2 -11.5 2.6 -12M301.9 267.3l2.8 -9.3 3.3 -9.1M509 265.6l2 -7 2.3 -6.9"/>
<path stroke="#0000ac" stroke-width="3.2" d="M375.2 265.6l2.2 -10.1 3 -9.9"/>
<path stroke="#0000c4" stroke-width="3.2" d="M437.6 269.5l3.6 -7.7 2.5 -8.1M435.1 262.2l4.1 -8.8 3.6 -9M481.8 257.3l2.3 -7.8 2.3 -7.8M505.9 260.3l3.7 -6.8 3.9 -6.7"/>
<path stroke="#fff3f3" stroke-width="3.2" d="M315.3 275.8l1.3 -4.7 1.1 -4.7M372.8 258.2l3.9 -8.3 4.5 -8M416.5 267.9l3.8 -8.5 3.9 -8.5M521.7 273.8l1.9 -7.4 2.3 -7.2M418 256.2l3.8 -6.7 3.2 -7M536.1 268.1l2.8 -8.2 3.2 -8.1"/>
<path stroke="#940000" stroke-width="3.2" d="M479.9 273.7l2.9 -6 3.3 -5.8M350.9 264.7l1.9 -6.3 2.5 -6.1"/>
<path stroke="#3939ff" stroke-width="3.2" d="M337.1 268.4l2.2 -5.6 1.4 -5.8M480.8 262.9l4.2 -7.3 3.2 -7.8M397.8 274.3l2.1 -6.7 1.5 -6.9"/>
<path stroke="#a50000" stroke-width="3.2" d="M485.2 256.5l4.1 -6.9 3.5 -7.2M329.1 277.7l1.8 -4.2 1.9 -4.2"/>
<path stroke="#c5c5ff" stroke-width="3.2" d="M411.4 273.8l2.5 -4.9 2.8 -4.7M503.6 275.8l1.9 -3.8 2.2 -3.7M512.4 275l2.8 -5.8 2.7 -5.9"/>
<path stroke="#ff6666" stroke-width="3.2" d="M354 271.6l3.1 -7.9 3 -7.9M325 278.5l2.3 -6.5 1.9 -6.6M489.1 261.7l3.7 -9.6 4.2 -9.3"/>
<path stroke="#000062" stroke-width="3.2" d="M468.8 264.1l3 -6.9 3.2 -6.8"/>
<path stroke="#1616ff" stroke-width="3.2" d="M314.7 273.3l1.9 -4.6 2.1 -4.5M473.2 274.1l0.8 -3.9 0.8 -3.9M380.7 265.4l2.8 -6.9 2.7 -6.9M520.2 267.9l3.5 -8.3 3.8 -8.1M378.8 273.5l2.2 -5.3 2.2 -5.3M541.8 255.7l2.7 -6.1 2.8 -6.1"/>
<path stroke="#0000dd" stroke-width="3.2" d="M313.7 262.1l3 -7.3 3.3 -7.2M527 271.7l3 -5.6 2.6 -5.8M453.8 272.6l3.4 -7.9 3.2 -8"/>
<path stroke="#fd0000" stroke-width="3.2" d="M468.6 267.4l2.8 -6 2.6 -6M320.3 267l2.3 -6.9 2.2 -6.9M356.5 271l1.9 -5.4 1.7 -5.4M528.1 256.4l2.2 -7.8 2.3 -7.8M481 257.5l3.2 -6.4 3.1 -6.4M314.2 277.2l2 -7.8 1.5 -7.9M472.2 272.9l2.8 -7.1 2.4 -7.3"/>
<path stroke="#e8e8ff" stroke-width="3.2" d="M520 268.1l1.5 -5.3 1.5 -5.3M484.5 270.8l3.5 -6.5 3 -6.8M529.7 265.8l2.1 -5.3 2.2 -5.3"/>
<path stroke="#ffcfcf" stroke-width="3.2" d="M424.7 271.8l2.5 -5.2 2 -5.4M416.4 265.1l3.7 -7.5 3.2 -7.7M394.7 254.4l3 -8.6 2.5 -8.8"/>
<path stroke="#a2a2ff" stroke-width="3.2" d="M441.8 264.2l2.5 -10.3 3.5 -10M379.5 272.2l2.8 -6.4 2.7 -6.5"/>
<path stroke="#ffacac" stroke-width="3.2" d="M453.4 277.9l1.5 -6.3 1.7 -6.2M340 257.8l1.9 -6.5 1.3 -6.7M505.4 263.2l3.3 -8.6 3.2 -8.6M426.4 263.7l2.1 -6.8 2.6 -6.6M331.7 256.1l2.7 -6 2.2 -6.2M318 272.8l3.8 -7.4 3.2 -7.7"/>
<path stroke="#7f7fff" stroke-width="3.2" d="M420.2 270.1l4.2 -8.7 4.4 -8.5M472.9 257.1l2.7 -6 3.2 -5.7M338.4 255.7l3.3 -9 3.2 -9.1"/>
<path stroke="#ff8989" stroke-width="3.2" d="M543.9 253.9l2.6 -6.9 3.2 -6.6M324.5 273.7l2.1 -4.3 1.7 -4.4M320.5 258.7l3.9 -8.4 2.6 -8.9M533.3 260l3.7 -7.1 3.5 -7.2M486 267.1l3.1 -8.6 2.5 -8.8"/>
<path stroke="#5c5cff" stroke-width="3.2" d="M330.2 271.1l3.1 -6.3 3.3 -6.2M320 259.5l3.4 -12.5 3.8 -12.4"/>
<path stroke="#c90000" stroke-width="3.2" d="M422.4 266.4l2.3 -5.4 1.5 -5.7M468.5 271.7l3.6 -8.8 3.5 -8.8M458.3 260l5.3 -12.8 5 -12.9M366 269.5l2.7 -6.2 2.8 -6.1M446.5 272.5l1.9 -5.6 1.8 -5.6M355.6 268.6l2 -10.5 3.3 -10.1"/>
<path stroke="#0000f5" stroke-width="3.2" d="M298.5 269.4l2.2 -5.6 2.3 -5.6M520.8 267.6l1.8 -6.8 2.7 -6.5"/>
<path stroke="#ec0000" stroke-width="3.2" d="M479.6 270.1l1.8 -6.8 1.2 -6.9M449.9 258.3l2.1 -9.4 3 -9.1M493.4 261.4l3.4 -12.8 3.4 -12.8M329.9 274.9l2.7 -7 2.2 -7.2"/>
<path stroke="#da0000" stroke-width="3.2" d="M409.6 265.2l2.6 -10.4 2.8 -10.4M301.4 264.9l3.4 -7.5 4 -7.2M457.6 264.4l2.6 -9.4 2.9 -9.3"/>
<path stroke="#ff4343" stroke-width="3.2" d="M299.3 269.8l2 -5.1 2.1 -5.1M506.4 261.8l2.8 -7 2.6 -7.1M347.2 267.9l1.2 -4.9 1.8 -4.8M518.2 280.7l1.7 -6.1 2 -6M539.9 259.1l2.9 -11.9 3 -11.9M527.5 271.2l3.7 -8.4 4.2 -8.2"/>
<path stroke="#b70000" stroke-width="2.5" d="M382.4 254.5l2.3 -8.2 2.6 -8.1"/>
<path stroke="#e8e8ff" stroke-width="2.5" d="M414.5 273.9l2.7 -6.5 2.6 -6.5M518.3 262.5l3.2 -8.8 3.6 -8.7M318.8 275l2.1 -4.7 2.6 -4.4M319.7 267.2l2.8 -6.4 3.1 -6.3M377.8 276.4l2.6 -6.5 2.8 -6.4M413.5 271.2l2.3 -5.8 1.4 -6.1"/>
<path stroke="#c5c5ff" stroke-width="2.5" d="M360.2 274.4l3.8 -6.7 3.3 -7M307.3 270.4l2.9 -5.7 2.8 -5.8M447.6 276.9l1.5 -6.6 2 -6.5M486.1 276l3.6 -6.8 3.3 -7M335.7 273.6l3 -6.3 2.6 -6.5M486.6 275.9l2.5 -5 2.5 -5M406.5 275.7l3.4 -5.3 2.9 -5.5M448.9 274.1l3.2 -7.5 3.3 -7.5"/>
<path stroke="#ff6666" stroke-width="2.5" d="M422.5 278.5l2.8 -6.2 2.7 -6.3M371.7 275.6l2.8 -8 3.2 -7.9M326.1 270.6l2.2 -5.7 2.8 -5.5"/>
<path stroke="#3939ff" stroke-width="2.5" d="M356.9 276.4l1.8 -3.6 1.2 -3.8"/>
<path stroke="#940000" stroke-width="2.5" d="M407.7 273.9l1 -5.3 1.3 -5.2M353.7 268.1l1.4 -5 1.3 -5.1M393.6 265.7l4.2 -10.7 5.2 -10.2M470.5 276.7l2.2 -4.5 2.6 -4.3"/>
<path stroke="#0000c4" stroke-width="2.5" d="M410.3 278.2l1.6 -7.1 2.4 -6.9M462.9 271.6l2.8 -7.3 2.8 -7.3"/>
<path stroke="#ffcfcf" stroke-width="2.5" d="M481 279l1.7 -6.9 1.8 -6.8M537.8 263.6l4.4 -7.7 4.6 -7.7M400.2 269.2l2.2 -4.6 2.2 -4.6M484.5 263l3.5 -6.5 3.4 -6.6M415.8 256.4l2 -7.9 1.8 -8M504.9 276.2l1.6 -4.1 1.6 -4.2M484.6 261.7l2.6 -10.7 3 -10.6M388.4 269.3l3.5 -9 3.6 -9"/>
<path stroke="#7f7fff" stroke-width="2.5" d="M469.4 268.9l3.1 -7.7 3.7 -7.4"/>
<path stroke="#ec0000" stroke-width="2.5" d="M419.6 277.7l2.5 -5.5 2.5 -5.4M346 274.2l1.7 -4.3 1.7 -4.3M336.7 271.7l1.5 -5.6 1.5 -5.6"/>
<path stroke="#ffacac" stroke-width="2.5" d="M396.5 272l2.6 -7.8 3.3 -7.5M430.6 273l3.1 -6.3 2.7 -6.5"/>
<path stroke="#ff8989" stroke-width="2.5" d="M344.2 277l2.3 -6.9 2.8 -6.7M486.9 272.1l2.4 -4.4 2.5 -4.4"/>
<path stroke="#ff4343" stroke-width="2.5" d="M454.1 276.9l2.1 -4.3 2 -4.3M397.7 270.5l1.9 -5.1 1.6 -5.2"/>
<path stroke="#5c5cff" stroke-width="2.5" d="M375.7 274.1l2 -6.3 2.3 -6.2M421.6 278.1l2.3 -6.4 2.5 -6.3M411.1 273.7l3.8 -5.8 3.5 -5.9"/>
<path stroke="#c90000" stroke-width="2.5" d="M380.2 259.5l1.9 -9.8 2.1 -9.7M542 278.3l1.6 -4.5 1.4 -4.5M412.7 276.3l1.4 -3.9 0.9 -4.1"/>
<path stroke="#ff2020" stroke-width="2.5" d="M342.5 279l2.3 -5.5 3.1 -5.1M445 266l4.6 -7.7 4.9 -7.5M413.7 268.6l1.2 -5 1.1 -5.1M317.3 269.7l2.9 -8.3 2.9 -8.2"/>
<path stroke="#a50000" stroke-width="2.5" d="M386 263.2l2.6 -8.8 2.6 -8.8"/>
<path stroke="#00007b" stroke-width="2.5" d="M331.6 275.8l1.7 -3.4 1.6 -3.4"/>
<path stroke="#1616ff" stroke-width="2.5" d="M332.4 279l1.4 -5.7 2.3 -5.5M389.5 279.2l2.3 -6.2 2.1 -6.2M397.2 273.8l1.5 -3.6 1.3 -3.7"/>
<path stroke="#fff3f3" stroke-width="2.5" d="M331.3 268.4l1.3 -4.8 1.6 -4.7M360.5 261.5l3.9 -10.5 3 -10.8M508.2 270.3l2.7 -7.9 2.5 -8"/>
<path stroke="#a2a2ff" stroke-width="2.5" d="M349.5 259.6l5.2 -10.8 6.6 -10M461.1 272l3.5 -9.1 3.9 -8.9M404.2 267.5l2.9 -4.6 2.2 -5"/>
<path stroke="#fd0000" stroke-width="2.5" d="M412.8 272.9l3 -6.2 2.3 -6.5M362 272.5l3.1 -8.7 3.9 -8.4"/>
<path stroke="#0000f5" stroke-width="2.5" d="M501.8 273.9l3.3 -7.4 2.8 -7.6M496.3 279l2 -5.3 1.8 -5.4"/>
<path stroke="#ffcfcf" stroke-width="1.9" d="M300.7 279.1l1.6 -6.3 2.1 -6.2"/>
<path stroke="#940000" stroke-width="1.9" d="M394.9 277.6l1.8 -5.9 2 -5.9"/>
<path stroke="#ff4343" stroke-width="1.9" d="M413.1 277l1.1 -4.8 1.4 -4.7"/>
<path stroke="#0000c4" stroke-width="1.9" d="M378.6 278.4l1.6 -5.2 1.5 -5.2"/>
<path stroke="#a2a2ff" stroke-width="1.9" d="M397 274.7l2.8 -7.4 1.7 -7.7M432.8 274.4l1.6 -3.5 2.1 -3.3"/>
<path stroke="#c5c5ff" stroke-width="1.9" d="M380.6 268.9l2.5 -5.2 2.5 -5.2"/>
<path stroke="#e8e8ff" stroke-width="1.9" d="M343.8 270.6l3.2 -6.6 2.7 -6.8M458 270.4l1.3 -6.3 2.3 -6M429.3 272.5l3.2 -6.7 2.4 -7.1M339.5 274.5l4 -7.8 3.6 -7.9"/>
<path stroke="#da0000" stroke-width="1.9" d="M517.4 268.6l1.7 -4.8 1.4 -4.9M475.5 274.7l3.1 -7.6 3.1 -7.6"/>
<path stroke="#ff6666" stroke-width="1.9" d="M458.9 275.7l0.8 -4.4 1.5 -4.2"/>
<path stroke="#fff3f3" stroke-width="1.9" d="M301.2 273.8l3.7 -8 3.5 -8M406.5 272.7l2 -6.1 2.6 -6"/>
<path stroke="#ffacac" stroke-width="1.9" d="M401 270.9l1.1 -4.3 1.3 -4.2"/>
<path stroke="#0000f5" stroke-width="1.9" d="M343.5 280.4l1.7 -6.4 1.8 -6.3M419.3 279.7l2.2 -6.6 2.6 -6.4M452.6 275.8l1 -3.6 1.1 -3.6"/>
<path stroke="#c90000" stroke-width="1.9" d="M433.3 273.9l0.8 -4.8 1 -4.8"/>
<path stroke="#fd0000" stroke-width="1.9" d="M504.4 268.7l1.9 -4.6 2 -4.5M404.4 278.3l2.5 -4.4 1.9 -4.6M476.9 279l2.3 -6.3 1.9 -6.4M430.8 280.1l1.7 -6.8 2.3 -6.6"/>
<path stroke="#ff2020" stroke-width="1.9" d="M530.3 275.3l3.4 -7 3.4 -7"/>
<path stroke="#7f7fff" stroke-width="1.9" d="M357.6 274.6l1.4 -5.4 1.5 -5.3M403 271.7l2.6 -4.4 2 -4.8"/>
<path stroke="#5c5cff" stroke-width="1.9" d="M387.3 272.5l1.9 -4.4 2.3 -4.2"/>
<path fill="#00007b" d="M438.3 254.2l3.9 -4.2 2.2 -7.7 -2.3 -4.3 -2.2 3.2 -1.5 7.9z"/>
<path fill="#fff3f3" d="M398.7 264l1.4 -1.5 1.2 -3.1 -0.2 -1.6 -1 1.1 -1.2 3zM352.6 266.2l1.6 -3 1.8 -4.9 0 -2.8 -2.5 2.1 -1 5.1zM395.3 254.2l4.4 -5.1 3.7 -8.8 0.8 -4.7 -3.8 3.3 -4.6 8.4zM532.9 268l1.6 -3 1.9 -4.9 -1.1 -2.7 -1.4 2 -1 5.1z"/>
<path fill="#ff2020" d="M404.7 259l2.5 -3.9 1.7 -6.6 -0.4 -3.4 -1.8 2.9 -1.7 6.6zM348.2 267.1l2.3 -2.4 1.1 -4.3 -1 -2.2 -1 1.6 -1.1 4.3zM452.4 250.7l1.9 -3.8 2.6 -6.7 0.8 -3.3 -2.7 2.6 -2.3 6.8z"/>
<path fill="#0000c4" d="M401.9 271l0.8 -1.8 0.9 -3.2 -0.4 -1.6 -0.9 1.3 -0.8 3.2zM416.5 260.7l2.8 -3.6 3 -6.6 -0.9 -4 -2.2 2.6 -2.6 6.8zM456.7 269.3l2.4 -3.1 3.1 -5 0.6 -2.7 -3.5 1.3 -2 5.6zM439.6 262.6l3 -3.6 4.1 -6.4 0.5 -4.1 -3.7 2.5 -2.7 7.1z"/>
<path fill="#fd0000" d="M515.9 269.9l1.2 -1.9 1 -3.2 0.3 -1.7 -1.1 1.5 -1 3.2zM336.1 256.3l3.2 -5 5.4 -9.4 2.1 -5.4 -6.4 3.1 -4.8 9.7zM520.4 270.2l2.8 -4 2.5 -6.5 -0.4 -3.5 -2.7 2.5 -1.7 6.8zM344.5 266.8l2.5 -3.2 2.7 -5.9 0.4 -3.3 -2.7 2.3 -2.4 6z"/>
<path fill="#000093" d="M319.1 263.9l2.5 -4.3 2.7 -6.8 0.5 -3.6 -3.2 2.8 -2.1 7z"/>
<path fill="#1616ff" d="M313.6 252.5l3.1 -5.2 3.8 -8.7 0.7 -4.7 -3.7 3.6 -3.4 8.8zM344.8 265.1l3 -2.4 2.4 -5.9 -0.1 -3.4 -2.2 2.3 -2.9 5.7zM470.1 255.8l6.1 -6.3 3.3 -11.4 0.8 -5.5 -4.1 4.4 -4.2 11zM413.9 270.9l2.8 -3.3 1.7 -6.2 -0.1 -3.5 -2.6 2.7 -1.7 6.2zM481.9 268.4l1.4 -2.2 1.2 -4.1 -1.2 -2.2 -0.8 1.7 -0.7 4.2zM448.2 265.3l3.3 -4.1 3.5 -7.3 -1.3 -3.8 -2.3 2.1 -3.2 7.4z"/>
<path fill="#ffcfcf" d="M458.2 249l3.4 -3.6 3.5 -6.6 0.9 -3.7 -3.8 2.4 -2.8 6.9z"/>
<path fill="#5c5cff" d="M535 258.6l3.9 -4.5 2.6 -7.8 -1.3 -4.1 -2.9 3 -1.3 8.1zM482.5 268.2l1.8 -1.7 1.5 -3.1 -0.4 -1.7 -1 1.1 -1.1 3.3zM307.4 267.2l1.8 -2.2 2.9 -4.1 0.6 -2.7 -3.3 1.2 -2 4.6zM492.1 270.9l1.2 -2.1 1 -3.5 -0.3 -1.7 -0.7 1.4 -0.9 3.5z"/>
<path fill="#ff4343" d="M452.8 257.4l3.2 -4.9 4.5 -9.1 -0.7 -5.2 -2.6 3.8 -3.3 9.6zM475.5 253.2l2.1 -2.6 2.4 -5 0.2 -2.7 -1.9 1.8 -2.3 5.1zM462.1 274.1l1.7 -3.1 3.3 -4.9 0.5 -2.8 -4 1 -2.1 5.4zM306.3 274.2l0.7 -1.6 0.7 -2.9 -0.2 -1.4 -0.6 1.2 -0.7 2.9z"/>
<path fill="#ec0000" d="M302 255.7l4 -6.9 2.5 -11.5 -1.6 -5.4 -1.9 4.6 -2.7 11.4zM302 251.9l4.1 -3.6 3.1 -7 -1.6 -4.2 -2 2.9 -2.1 7.4zM472.5 260.6l2 -2.8 2.3 -5.2 0.3 -2.8 -2 2 -2.5 5.1zM447.4 249.8l1.9 -2.3 2.5 -4.3 -0.1 -2.3 -2.2 1.2 -1.7 4.7z"/>
<path fill="#7f7fff" d="M408.6 269.6l2.3 -2.3 1.9 -4.6 0.1 -2.6 -1.5 2 -2 4.6z"/>
<path fill="#ff8989" d="M367.4 249.4l4 -6 3.9 -11.2 -1.3 -5.9 -2.8 4.4 -4.3 11.1zM334.6 270.8l1.1 -1.7 1 -3.2 -0.6 -1.7 -1 1.3 -0.9 3.2zM390 247.9l4.4 -4.8 5.8 -9.8 -1.8 -6.5 -4.3 3.8 -3.2 10.9z"/>
<path fill="#a2a2ff" d="M339.8 269.2l3.4 -4 3.8 -6.5 -0.3 -3.6 -3.3 1.9 -2.7 7.1zM366.8 274.5l1.1 -1.3 1.1 -2.4 -0.1 -1.2 -0.8 0.9 -0.9 2.5zM360.4 253.9l1.5 -2.7 1.8 -4.4 0.2 -2.1 -1.3 1.6 -1.9 4.4zM309.3 261.8l1.3 -2.3 2 -3.8 0.5 -2.1 -1.5 1.6 -1.9 3.8zM540.5 272.2l2.4 -2.7 2.5 -4.6 0.6 -2.7 -2.4 1.8 -1.9 4.8zM328.4 256.2l3.5 -4.3 4.7 -7.5 -0.1 -4.7 -4 2.7 -3.2 8.3z"/>
<path fill="#000062" d="M324.6 265.7l2.5 -3.6 3 -7.4 -1.1 -4.1 -3.4 2.5 -2.2 7.7zM352.9 260.6l1.8 -1.8 1.7 -3.3 0.2 -2 -1.5 1.4 -1.4 3.4z"/>
<path fill="#c5c5ff" d="M300.1 271.3l1.8 -2.9 1.7 -5.1 -0.2 -2.8 -1.5 2.2 -1.7 5.1zM511.2 268.8l1.5 -2 1.6 -3.5 -0.4 -1.9 -1.2 1.3 -1.1 3.7zM467.5 255.7l3.3 -4.9 2.7 -8.5 -1 -4 -2.5 2.9 -2.7 8.5z"/>
<path fill="#0000f5" d="M434.4 267.3l3.3 -3.3 2.3 -6.5 0.1 -3.2 -2.3 2.4 -2.4 6.5zM531.9 254.9l3.1 -3.6 3.7 -6 0.1 -3.8 -2.8 2.5 -2.6 6.5zM532.2 251.4l3.9 -3.7 2.4 -7 -1.1 -4.1 -2.6 3 -1.8 7.2zM521.6 254.8l2.3 -3.8 2 -6.7 -0.5 -3.4 -2.6 2.6 -1.3 6.9z"/>
<path fill="#3939ff" d="M301.3 254l5 -4.2 4.3 -7.8 0.7 -4.7 -4.8 2.8 -3.4 8.3z"/>
<path fill="#ff6666" d="M504.6 270.4l1.1 -1.4 1.4 -2.7 -0.4 -1.7 -0.9 1.1 -1 2.9z"/>
<path fill="#c90000" d="M540.5 257.2l1.7 -3.9 2.8 -6.6 -0.4 -3.4 -2.8 2.3 -1.7 6.9zM402.5 261.7l2.8 -5.5 3.3 -9.4 -1.1 -5.1 -2.6 3.7 -3.6 9.3zM463.2 259.2l5.7 -3.9 4.8 -8.9 1.5 -5.8 -5.6 3.5 -5 8.8zM467.9 250.6l2.3 -5.9 2.6 -10.3 -1.9 -5 -2.7 3.9 -2.2 10.4zM521.2 271.3l1.8 -1.9 2.1 -3.8 -0.5 -2 -1.7 1 -1.8 4zM380.5 273.3l1.8 -2.2 2.1 -3.7 -0 -1.9 -1.3 1.2 -1.9 3.8z"/>
<path fill="#da0000" d="M476.4 264l2.3 -3 1.9 -5.8 -0.2 -3.3 -2.6 2.4 -1.7 5.9zM536.3 258.2l4.7 -3.3 2.9 -7 -2.1 -4.2 -2 2.7 -2.2 7.2zM538.5 266.2l2.9 -4.4 2.6 -7.1 -0.1 -3.7 -2.7 3 -1.4 7.5z"/>
<path fill="#0000ac" d="M519.5 257.6l3 -4.1 4 -8.3 -1 -4.5 -2.3 3 -3.2 8.7z"/>
<path fill="#0000dd" d="M304.2 249.4l4.6 -5.3 4 -9.1 -1 -5.5 -4.1 4 -1.8 9.8z"/>
<path fill="#e8e8ff" d="M440.7 255.5l2.3 -2.7 2.8 -5.2 0.5 -3 -2.1 2.2 -2.5 5.4zM464.3 274.6l0.9 -1.5 1.5 -2.5 0 -1.4 -1.1 0.8 -1.2 2.7zM471.4 267.7l2.3 -4 2.2 -7 -0.3 -3.8 -2.3 3 -2.2 7zM323 258.7l2.2 -4.6 2.7 -7.7 -1 -3.8 -2.2 2.8 -2.4 7.8zM441.6 266.1l2 -2.9 2.6 -5.4 1.1 -2.7 -2.4 2 -3 5.2zM510.6 250.3l4.3 -7.4 5.6 -12.5 0.8 -6.4 -4.9 4.6 -5.5 12.5z"/>
<path fill="#ffacac" d="M435.7 265.1l3.2 -4.3 4.1 -6.9 -0.5 -4.6 -3.4 2.7 -2.9 7.4zM350.6 252.2l3.6 -4.6 2.6 -7.6 -0 -4.1 -2.2 3.2 -3.1 7.4zM503.5 260.9l4.3 -5 2.3 -9.2 0.7 -4.9 -4 4 -2.9 9.1z"/>
<path fill="#ff4343" d="M508.7 258.8l1.4 -2.3 1.2 -3.7 -0.2 -2 -1.6 1.5 -0.6 3.9zM477.1 267.5l1.1 -2.3 1.4 -4 -0.3 -2.1 -1.5 1.6 -0.7 4.2z"/>
<path fill="#a2a2ff" d="M472.1 254.5l1.3 -3.5 1.7 -6.1 0.3 -3.1 -2 2.6 -1.4 6.1z"/>
<path fill="#c5c5ff" d="M534.6 261.2l4.7 -3.9 3.1 -8.1 -1.6 -4.7 -2.1 3.1 -3.5 7.9zM386.2 271.6l1.2 -1.8 1.4 -3.1 -0.3 -1.5 -0.9 1 -1.4 3.1zM367.7 258.8l2.2 -4.2 1.5 -7.4 -0.3 -3.7 -3.4 2.8 -1.9 7.3z"/>
<path fill="#c90000" d="M320.1 255l4.1 -4.7 4.4 -8.5 1.4 -3.9 -4.9 2.2 -4.4 8.5zM538 263l1.9 -2.8 1.2 -4.8 -0.3 -2.3 -1.2 1.8 -1.5 4.7zM531.4 255.6l2.7 -3 2.3 -5.9 -0.8 -3.6 -2.2 2.6 -1.7 6.1zM396.9 255.5l2.1 -3 2.3 -5 -0.2 -2.7 -1.4 2 -1.9 5.1z"/>
<path fill="#ffacac" d="M317.5 258.9l3.2 -3.9 4.2 -6.4 -1 -4.4 -2.4 2.7 -2.7 7.2zM485 261.2l3.6 -2.7 3.1 -6.1 -0.7 -4 -1.9 2.7 -3.1 6.1zM451.9 261.2l4 -4 2.6 -6.9 -1.2 -4 -1.7 2.9 -2.5 6.9z"/>
<path fill="#5c5cff" d="M505.6 263.3l1.4 -1.5 1.7 -3.1 -0.1 -1.9 -1.1 1.3 -1.5 3.2zM377.3 274.5l1.7 -2.3 1.4 -4.3 -0.8 -2.2 -1.1 1.6 -1.3 4.4zM488.8 269l1.5 -1.9 1.4 -3.1 -0.1 -1.7 -2 1 -0.8 3.3z"/>
<path fill="#7f7fff" d="M438 257.8l1.6 -5 3.1 -7.9 -0.5 -4.2 -3.4 3 -1.8 8.2zM305 249.1l3.8 -6.7 4.4 -11.9 1.1 -6.3 -5.5 4.8 -3.7 12.2zM493.8 274.2l1.5 -1.2 1.4 -2.5 0.1 -1.4 -1.1 0.9 -1.3 2.6zM398.7 273.7l1.1 -1.6 0.9 -2.8 -0.2 -1.6 -1.4 1.2 -0.7 2.9zM311.1 273.9l0.8 -1.2 0.6 -2.2 -0.4 -1 -0.6 0.8 -0.6 2.2zM330.8 258.4l5.8 -5.2 2.9 -10 0.5 -5.5 -4.8 4.1 -3.8 9.7zM537.2 257.8l4 -3.9 3.8 -8.5 -1 -4.5 -3.4 2.5 -3.7 8.5zM426.8 263.2l3.8 -3.7 1.7 -6.6 -1.3 -3.3 -1.7 2.5 -1.6 6.6z"/>
<path fill="#ff2020" d="M438.7 249.5l3.3 -5.5 2.7 -9.5 0.4 -4.6 -3 3.8 -3.1 9.4zM414.3 273.7l1.2 -2 2 -3.5 -0.2 -2.2 -1.8 1.3 -1.5 3.8zM453.4 260.4l3.8 -4 3.3 -7.4 -0.6 -4 -2.3 2.8 -2.8 7.6zM429.8 256.5l2.2 -3.2 1.8 -5.5 -0.9 -2.8 -1.4 2.1 -1.7 5.5zM496 265.2l1.9 -4.5 3 -7.9 -0.4 -3.9 -2.6 3 -2.4 8.1zM334 250.6l1.9 -3.6 2.3 -6.4 -0.1 -3.4 -2 2.7 -2.2 6.4zM458.6 254.2l3.2 -3.8 1.9 -6.9 -0.2 -3.7 -2.2 3 -2.3 6.8zM339.8 255.2l2.5 -4.9 2.5 -8.9 -1 -4.5 -3.2 3.5 -2 9.1z"/>
<path fill="#ff8989" d="M392.5 249.7l3 -5.2 2.2 -9.4 -1.2 -4.5 -1.7 3.7 -2.5 9.3zM537.5 259.8l2.7 -4.7 3.2 -8.6 -1.2 -4.4 -3.2 3 -2.5 8.9z"/>
<path fill="#3939ff" d="M462.2 258.5l3.8 -3.6 3.5 -8.4 -1.5 -4.9 -2.9 2.9 -3.7 8.3zM512.8 270.5l3.2 -3.5 2.2 -6.3 -0.3 -3.3 -1.9 2.6 -2 6.3z"/>
<path fill="#1616ff" d="M373.1 259.6l2.1 -3.3 1.4 -5.6 -0.9 -2.9 -1.2 2.4 -1.4 5.6zM449.6 274l1.6 -1.5 1.5 -2.8 0.2 -1.6 -1.1 1.2 -1.4 2.9z"/>
<path fill="#fd0000" d="M459.4 254.6l1.9 -3.8 2 -6 -0 -2.9 -2 2.3 -1.5 6.2zM429.1 269.8l0.7 -1.3 1.1 -2.4 -0.3 -1.3 -0.8 0.9 -0.8 2.4zM500 249.2l3.4 -4.3 1.8 -7.6 -0.4 -3.9 -2.1 3.3 -1.8 7.6zM349.6 274.1l0.9 -1 1 -1.7 0.3 -1.2 -1.2 0.7 -0.9 1.8zM485.2 249l2.2 -4.4 3.2 -7.8 0.9 -3.8 -4.1 2.7 -2.2 8.1zM484.2 255.3l3.9 -5.8 4 -9.5 -1.4 -5.2 -4.4 3.4 -2.4 10zM352.2 266.9l1.5 -2 1.9 -4 -0.2 -2 -1 1.4 -2 3.9z"/>
<path fill="#e8e8ff" d="M369.7 256.5l4.4 -5.6 3.8 -9.3 -0.3 -5.5 -4.9 3.8 -2.2 9.8zM414.1 251.1l2.9 -4.7 2 -8.1 -0.3 -4.2 -1.9 3.7 -2.2 8.1z"/>
<path fill="#000093" d="M480.5 272.8l0.9 -1.2 1.4 -2.1 0 -1.2 -1 0.7 -1 2.3z"/>
<path fill="#fff3f3" d="M480.1 255.9l3.3 -4.1 3.8 -7.5 -0.2 -4.3 -2.9 3 -2.7 7.9zM363.1 251.3l2.2 -6.9 3.3 -12 -0.6 -5.6 -2.9 4.7 -3.4 12z"/>
<path fill="#ff6666" d="M408.8 261.5l3 -4 3.6 -7.4 -1.1 -4 -3.1 2.1 -3.4 7.5zM528.3 270.9l1.4 -2.2 1.6 -4 -0.6 -2.2 -1.3 1.5 -1.4 4.1z"/>
<path fill="#da0000" d="M309.7 264.6l1.9 -3.1 2.4 -5.4 -0.2 -3 -1.7 2.3 -1.8 5.7zM318.7 255.7l4.1 -6.3 4 -10.5 -0.7 -5.4 -3.5 4 -3.3 10.8zM511.6 261.2l2.2 -2.7 0.9 -5 -0.4 -2.5 -1.4 2 -1.5 4.8zM512.3 248.6l2.9 -6 2.6 -10 -0.2 -5.1 -5.7 3.7 -2.1 10.1z"/>
<path fill="#0000f5" d="M365.7 263.6l3.2 -4.2 2.3 -7.1 -0.6 -3.8 -1.8 3 -2.4 7zM378.5 273l1.7 -3.1 1.4 -5.3 0.4 -2.8 -2 2.3 -1.8 5.2zM439.1 267.8l2.4 -3.3 2 -6 0 -3 -2 2.4 -1.9 6zM347.6 272.3l1.7 -3 1.8 -5 -0.6 -2.6 -1.3 2 -1.6 5zM459.2 261.8l1.4 -4.9 2.7 -7.7 -0.9 -3.7 -2.3 2.9 -1.5 8zM431 272.9l2.2 -2.7 1.8 -4.7 -0.1 -2.7 -3 1.8 -0.8 4.9z"/>
<path fill="#0000ac" d="M424.7 257.2l3.7 -5.8 3.3 -9.7 -0.8 -5.1 -3 4.1 -2.1 10.1z"/>
<path fill="#0000c4" d="M333.7 270.3l1.5 -2.2 1.5 -3.7 0.2 -1.8 -1.4 1.4 -1.3 3.8zM471.4 254.3l4.2 -4.9 4.7 -8.1 0.8 -4.6 -5.1 2.7 -3.1 8.8zM528.1 272.7l2 -2.6 1.7 -4.8 0.3 -2.3 -1.7 1.8 -1.9 4.7zM530.3 254.2l3.9 -4.2 3.5 -7.4 -0.8 -4 -3.1 2.5 -2.2 7.9z"/>
<path fill="#ec0000" d="M399.7 250.3l4.3 -5.8 5.8 -10.5 0.1 -5.5 -4.1 3.4 -5.1 10.9zM406 264.2l3 -4.6 4.2 -7 0.1 -4.5 -4.1 2.7 -2.6 7.7z"/>
<path fill="#000062" d="M416.4 260l2.7 -4 2.4 -6.6 -1.1 -3.6 -1.9 2.8 -1.2 6.9z"/>
<path fill="#ffcfcf" d="M433.8 268l3.3 -3 1.9 -5.5 -0.7 -3.1 -1.9 2.2 -1.7 5.5zM512.3 254.4l1.1 -2.5 1.8 -4.6 -0.2 -2.4 -2.2 1.7 -1.4 4.7zM514.9 268.4l2.2 -3.2 2 -5.5 -0.7 -2.9 -1.4 2.2 -1.4 5.7zM505.5 248.4l5 -4.2 1.8 -8.2 -1.1 -4.1 -2.7 3.1 -2.5 8z"/>
<path fill="#0000dd" d="M354.7 269.4l1.6 -2.5 2.4 -3.9 0.3 -2.6 -2.5 1.6 -1.5 4.3zM440.1 254.1l2.1 -3.3 2.7 -6.1 0.4 -3.4 -2.8 2.5 -2.2 6.3zM454.5 251.6l2.7 -6.6 4 -11.2 -1.4 -6.1 -4.2 4.7 -2 11.7z"/>
<polygon fill="#b8b8ff" points="402.2,227 408,218.3 416.7,211 435.6,208.1 432.7,215.4 428.4,224.1 424,232.8 418.2,240.1 412.4,245 408,241.5 400.7,232.8"/>
<polygon fill="#f00000" points="397.1,222.6 403.6,213.9 415.3,211 408,218.3 402.2,224.1"/>
<polygon fill="#ff9088" points="386.2,224.1 394.9,213.9 403.6,211 403.6,213.9 397.1,222.6 394.9,229.9 389.1,231.4"/>
<polygon fill="#ffbcb8" points="394.9,229.9 397.1,222.6 402.2,224.1 402.2,227 400.7,232.8"/>
<polygon fill="#0808f0" points="384,226.3 389.1,227.7 400.7,232.8 408,241.5 405.1,243.7 396.4,238.6 389.1,234.3 384.7,230.6"/>
<polygon fill="#0000b0" points="384,226.3 389.1,227.7 393.5,231.4 389.1,234.3 384.7,230.6"/>
<polygon fill="#5858f5" points="428.4,224.1 432.7,215.4 440,208.1 440,232.8 434.2,238.6 428.4,245 423,253.8 424,245 426.9,232.8"/>
<polygon fill="#8c8cfa" points="389.1,234.3 396.4,238.6 405.1,243.7 403.6,245 393.1,256.1 390.5,245"/>
<polygon fill="#0808f0" points="378.9,208.1 389.1,206.6 390.5,209.5 380.4,211.3"/>
<polygon fill="#ff9088" points="378.2,212.5 387.6,210.3 393.5,213.9 386.2,218.3 379.6,216.8"/>
<polygon fill="#b8b8ff" points="430,211 438.7,208.1 443.1,211 440.2,224.1 434.4,235.7 430,238.6"/>
<polygon fill="#ff9088" points="438.7,224.1 443.1,211 446,211.7 444.5,221.2 440.2,232.8 437.3,232.8"/>
<polygon fill="#5858f5" points="437.3,232.8 440.2,224.1 444.5,216.8 446,224.1 443.1,235.7 438.7,238.6"/>
<polygon fill="#f00000" points="447.5,213.9 453.3,212.5 454,218.3 450.4,222.6 447.5,221.2"/>
<polygon fill="#b8b8ff" points="448.9,224.1 454,218.3 459.1,213.9 466.4,215.4 464.9,224.1 460.5,232.8 456.2,238.6 450.4,237.2"/>
<polygon fill="#ff5a50" points="463.5,245 466.4,231.4 469.3,218.3 473.6,215.4 478,216.8 476.5,231.4 472.2,245 464.9,253"/>
<polygon fill="#f00000" points="456.2,245 459.1,228.5 461.3,229.9 462.7,245 456.8,252.3"/>
<polygon fill="#ffbcb8" points="472.2,245 476.5,231.4 479.5,216.8 485.3,212.5 494,207.4 498.4,208.1 494,218.3 488.2,231.4 480.9,245 472.3,256.8"/>
<polygon fill="#0808f0" points="480.9,245 488.2,228.5 494,216.8 495.5,219.7 491.1,232.8 486.7,245 481.3,252"/>
<polygon fill="#ffffff" points="486.7,245 491.1,232.8 495.5,219.7 498.4,208.1 510,208.1 510,224.1 505.6,232.8 499.8,245 489.2,256.3"/>
<polygon fill="#5858f5" points="499.8,245 502.7,235.7 505.6,232.8 507.1,238.6 505.6,245 500.3,251.8"/>
<polygon fill="#ff9088" points="505.6,245 508.5,235.7 510,232.8 510,245 505,252.8"/>
<polygon fill="#e4e4ff" points="443.1,235.7 446,224.1 448.9,224.1 450.4,237.2 447.5,245 440.8,255.5 441.6,245"/>
<polygon fill="#ffbcb8" points="480,215.4 483.8,207.7 494,207.1 496.5,214.1 492.7,223 487.6,233.2 482.5,245 479.6,249.7 480,245"/>
<polygon fill="#0808f0" points="482.5,245 487.6,233.2 492.7,221.7 495.9,216 496.5,220.5 492.7,231.9 487.6,245 482.9,251.2"/>
<polygon fill="#ffffff" points="487.6,245 492.7,231.9 496.5,220.5 497.8,209 504.2,209 502.9,220.5 499.1,233.2 495.3,245 489,251.9"/>
<polygon fill="#e4e4ff" points="502.9,220.5 504.2,209 513.7,208.4 511.8,220.5 507.4,231.9 504.2,238.3 499.1,245 494.6,252.3 495.3,245 499.1,233.2"/>
<polygon fill="#ff9088" points="505.5,245 508,231.9 511.8,220.5 513.7,208.7 523.9,209.3 520.7,220.5 515.6,233.2 511.8,245 505.7,253.1"/>
<polygon fill="#ffe6e4" points="511.8,245 515.6,233.2 520.7,220.5 523.9,209.6 536,210 533.5,220.5 528.4,228.1 522,237 516.9,245 511.8,252.3"/>
<polygon fill="#0808f0" points="514.4,245 522,237 527.1,233.2 528.4,237 523.3,245 515.9,253.1"/>
<polygon fill="#f00000" points="529.6,245 530.9,234.5 534.7,231.9 536.6,237 534.7,245 529.1,253.7"/>
<polygon fill="#5858f5" points="497.8,245 501.6,237 504.8,233.2 505.5,245 499,252.3"/>
<polygon fill="#0808f0" points="319.8,236.7 329.3,236.7 331.5,244 327.1,255.6 324.2,265.8 319.8,257.1 318.4,245.5"/>
<polygon fill="#b8b8ff" points="312.5,261.5 315.5,249.8 318.4,245.5 319.8,257.1 321.3,264.4 316.9,265.8"/>
<polygon fill="#ff9088" points="311.1,260 314,246.9 316.9,236.7 319.8,236.7 318.4,245.5 315.5,249.8 312.5,261.5"/>
<polygon fill="#f00000" points="302.4,236.7 311.1,233.8 312.5,241.1 306.7,249.8 303.8,245.5"/>
<polygon fill="#ff9088" points="351.8,249.8 356.2,242.5 362,238.2 364.9,241.1 359.1,249.8 353.3,257.1"/>
<polygon fill="#8c8cfa" points="331.5,244 337.3,239.6 340.2,242.5 335.8,254.2 332.9,257.1 330.7,254.2"/>
<polygon fill="#f00000" points="343.1,270.2 346,261.5 351.8,257.1 353.3,264.4 348.9,271.6"/>
<polygon fill="#0000b0" points="337.3,270.2 340.2,260 343.1,261.5 341.6,271.6"/>
<polygon fill="#b8b8ff" points="366.4,241.1 375.1,238.2 378,239.6 378,248.4 370.7,249.8"/>
<polygon fill="#f00000" points="362,251.3 366.4,244 370.7,249.8 366.4,260 362,261.5"/>
<polygon fill="#0808f0" points="389.8,232 401.5,232 408.7,242.2 405.8,243.6 397.1,239.3 391.3,236.4"/>
<polygon fill="#b8b8ff" points="401.5,232 426.2,232 423.3,240.7 417.5,246.5 411.6,248 408.7,242.2"/>
<polygon fill="#8c8cfa" points="389.8,246.5 397.1,239.3 405.8,243.6 401.5,250.9 394.2,261.1 389.8,265.5 388.4,255.3"/>
<polygon fill="#f00000" points="394.2,261.1 401.5,250.9 407.3,245.1 407.3,253.8 401.5,264 397.1,268.4"/>
<polygon fill="#f00000" points="411.6,261.1 416,248 420.4,240.7 421.8,249.5 417.5,261.1 414.5,266.9"/>
<polygon fill="#8c8cfa" points="423.3,250.9 426.2,240.7 432,232 440.7,232 436.4,243.6 430.5,253.8 426.2,261.1"/>
<polygon fill="#e4e4ff" points="421.8,266.9 423.3,255.3 426.2,261.1 430.5,253.8 429.1,264 424.7,269.8"/>
<polygon fill="#0808f0" points="436.4,243.6 440.7,232 448,232 448,240.7 442.2,252.4 437.8,255.3"/>
<polygon fill="#f00000" points="430.5,246.5 434.9,237.8 439.3,236.4 436.4,243.6 432,250.9"/>
<polygon fill="#ff5a50" points="384,258.2 385.5,248 389.8,246.5 388.4,255.3 386.2,261.1"/>
<polygon fill="#ffffff" points="378.2,261.1 381.1,250.9 385.5,248 384,258.2 381.1,265.5"/>
<polygon fill="#0808f0" points="373.8,269.8 375.3,261.1 378.2,261.1 378.2,269.8"/>
<polygon fill="#f00000" points="368,250.9 372.4,246.5 375.3,253.8 370.9,261.1 368,261.1"/>
<polygon fill="#5858f5" points="368,237.8 375.3,236.4 378.2,242.2 372.4,248 368,246.5"/>
<polygon fill="#ff5a50" points="462.7,248 464.2,232 474.4,232 472.9,240.7 468.5,250.9 464.9,253.8"/>
<polygon fill="#ffbcb8" points="472.9,240.7 475.8,232 487.5,232 481.6,242.2 475.8,250.9 471.5,252.4"/>
<polygon fill="#0808f0" points="475.8,250.9 481.6,242.2 487.5,234.9 488.9,240.7 483.1,250.9 477.3,256.7"/>
<polygon fill="#ffffff" points="486,245.1 488.9,234.9 493.3,232 503.5,232 500.5,240.7 493.3,246.5 488.9,248"/>
<polygon fill="#5858f5" points="496.2,253.8 500.5,240.7 504.9,232 507.8,236.4 504.9,246.5 500.5,256.7"/>
<polygon fill="#ff9088" points="502,266.9 504.9,250.9 509.3,249.5 509.3,261.1 506.4,268.4"/>
<polygon fill="#ffbcb8" points="507.8,236.4 510.7,232 518,232 518,237.8 510.7,248 509.3,249.5 506.4,243.6"/>
<polygon fill="#0808f0" points="509.3,261.1 510.7,248 518,237.8 518,250.9 513.6,261.1"/>
<polygon fill="#ffffff" points="442.4,253.8 445.3,242.2 451.1,236.4 455.5,236.4 452.5,246.5 446.7,256.7"/>
<polygon fill="#b8b8ff" points="438,232 446.7,232 442.4,243.6 438,248"/>
<polygon fill="#8c8cfa" points="448.2,256.7 452.5,246.5 456.9,245.1 455.5,253.8 451.1,261.1"/>
<polygon fill="#0808f0" points="440.9,265.5 443.8,258.2 449.6,256.7 448.2,264 443.8,268.4"/>
<polygon fill="#f00000" points="455.5,256.7 456.9,240.7 459.8,232 462.7,232 461.3,246.5 458.4,258.2"/>
<polygon fill="#ffbcb8" points="491.8,261.1 494.7,250.9 499.1,250.9 497.6,259.6 494.7,265.5"/>
<polygon fill="#f00000" points="468.5,265.5 470,256.7 474.4,255.3 472.9,264"/>
<polygon fill="#ffffff" points="485.6,242.2 489.5,232 502.2,232 498.4,239.6 492,246 488.2,247.3"/>
<polygon fill="#8c8cfa" points="478,248.5 483.1,239.6 488.2,234.5 485.6,242.2 481.8,251.1 478,254.9"/>
<polygon fill="#ffbcb8" points="478,232 485.6,232 478,243.5"/>
<polygon fill="#5858f5" points="492,246 498.4,239.6 502.2,232 506,232 503.5,242.2 498.4,251.1 493.3,253.6"/>
<polygon fill="#ff9088" points="503.5,249.8 506,237.1 508.5,232 517.5,232 514.9,239.6 509.8,251.1 506,254.9"/>
<polygon fill="#e4e4ff" points="509.8,251.1 514.9,239.6 520,235.8 518.7,244.7 513.6,253.6"/>
<polygon fill="#0808f0" points="509.8,265.1 511.1,253.6 516.2,244.7 522.5,239.6 521.3,249.8 516.2,260 512.4,267.6"/>
<polygon fill="#f00000" points="502.2,270.2 503.5,257.5 507.3,251.1 509.8,254.9 508.5,267.6 504.7,271.5"/>
<polygon fill="#8c8cfa" points="520,249.8 523.8,237.1 528.9,232 528.9,242.2 525.1,253.6 521.3,256.2"/>
<polygon fill="#f00000" points="523.8,265.1 527.6,247.3 530.2,244.7 530.2,257.5 527.6,266.4"/>
<polygon fill="#ff2020" points="528.9,239.6 531.5,232 535.3,232 534,242.2 530.2,244.7"/>
<polygon fill="#ffbcb8" points="490.7,263.8 494.5,254.9 498.4,253.6 497.1,261.3 493.3,266.4"/>
<polygon fill="#0808f0" points="494.5,268.9 497.1,261.3 499.6,262.5 498.4,270.2"/>
</g><g fill="none">
<path stroke="#7f7fff" stroke-width="1.4" d="M351.7 234.9l-3.1 -3.8M309.5 234.8l-4.1 -4.2M384.2 236.2l-4 -4.4M321.7 234.9l-2 -2.6M355.9 235.6l-3.6 -3.5M506.1 206.7l-3.4 -3.5M503.2 205.8l-3.4 -3.5M494.1 207l-3.3 -4.6M459.3 211.2l-6.6 -7.2M511 210.3l-5.6 -5.8M444.1 210.6l-5.1 -6.5M522.2 207l-5.3 -5.4M478.7 210l-5 -5.5M421 207l-3.6 -4.3M500.6 207.8l-3.4 -4.8M403.4 206.7l-5.1 -6.5M526 204.1l-1.4 -1.4M525.8 205.4l-2 -2.2M529 204.4l-2 -2.4"/>
<path stroke="#1616ff" stroke-width="0.7" d="M422.7 208.7l-4.9 -5.4M519.2 207.8l-3.1 -4"/>
<path stroke="#1616ff" stroke-width="1" d="M372.8 235.3l-2.4 -3.2M334.5 235.9l-3.9 -4.7M525.3 205.6l-3.6 -3.6M442.1 209.9l-5.9 -7M449.1 209.4l-6.2 -7.2"/>
<path stroke="#ffcfcf" stroke-width="1.9" d="M485.5 208.5l-6.4 -6.3M392.2 208.9l-3.1 -3.9M427.3 209.5l-3.1 -4.2"/>
<path stroke="#7f7fff" stroke-width="1" d="M347.9 236.1l-2.1 -2.3M324.6 236.7l-2.8 -3.1M431.2 210.8l-4.1 -5.7M486.5 205.7l-4 -4M522.2 209.1l-5 -7.3M398.8 207.3l-5.4 -5.8M393.7 208.5l-6.2 -6.4"/>
<path stroke="#c90000" stroke-width="1" d="M418.1 209l-5.5 -5.6M419.9 210.2l-6.4 -7.2M392.7 209l-2.8 -3.7M402.2 208.8l-5.4 -6.7"/>
<path stroke="#0000ac" stroke-width="0.7" d="M488.6 210.5l-4.9 -5.5M488.9 208.2l-6.1 -6.3M484.6 208.8l-3.4 -4.5"/>
<path stroke="#ff6666" stroke-width="1" d="M310.4 235.5l-3.8 -4.9M354.9 236.2l-3.1 -3.8M475.6 207.5l-4.4 -5M509.9 208l-4.9 -6.8M471.9 208.7l-2.9 -3.8M380.3 208.8l-3.1 -4.5M449.1 208.7l-3 -3.8M482.1 209.4l-5.2 -6.4M497.7 206.4l-4.7 -4.8"/>
<path stroke="#ffacac" stroke-width="1" d="M479.1 209.3l-5.9 -6M483.5 210.1l-4.7 -5M395.6 206.2l-3.1 -3.9"/>
<path stroke="#fff3f3" stroke-width="1.9" d="M384.9 236.4l-3 -3.8M444.9 207.8l-3.8 -5.5M449.6 209.5l-4.1 -4.6M399.1 207.9l-5.5 -6.8M452.3 210.8l-5.2 -6.7M501.7 210.9l-5.3 -6.5M440.9 207.2l-5.7 -7.4M433.9 208l-5.6 -6.3M416.3 210.5l-4.7 -5.8M532.1 205l-1.9 -2.2"/>
<path stroke="#000093" stroke-width="0.7" d="M503.8 210.4l-5.9 -7.3"/>
<path stroke="#ff2020" stroke-width="0.7" d="M361.5 237l-2.9 -3.7M359.8 234.9l-3.3 -3.8M421.1 210.4l-4.6 -4.5M494.3 206.8l-4.3 -5.2M464.3 208.4l-4.7 -6.9M518.2 209.6l-3.1 -3.5"/>
<path stroke="#3939ff" stroke-width="1" d="M352.9 235.3l-2 -2.6M503.1 210.4l-5.8 -8.2M419.5 208l-4.1 -4.7"/>
<path stroke="#ffacac" stroke-width="1.4" d="M305.6 236.9l-2.8 -2.9M341.4 235.9l-3.4 -3.4M322.8 236.9l-2.2 -2.9M451.7 208.1l-4.3 -4.4M487.7 210.4l-3.4 -4.7M456.4 207.2l-6.3 -6.2M419.4 208.3l-4.6 -6.2M513.1 206.7l-6.1 -6.7M510.8 209.6l-4.9 -5.6M390.5 210.5l-5.9 -6.2M479.4 208.5l-2.8 -4.1M409.5 209.2l-6.3 -6.5M404.1 210.5l-4.4 -4.7M476.6 210.3l-4.7 -5.9M390.2 207.8l-3.5 -4.7M400 207.8l-2.9 -3.7M453.7 206.8l-6.1 -7.2M415.3 210.3l-5 -4.9M501.5 209.8l-5.5 -6.5"/>
<path stroke="#3939ff" stroke-width="0.7" d="M325.9 234.6l-2.2 -2.3M335.7 236.8l-3.2 -3.2M371.7 236.7l-3 -3.5M325.8 235l-3.2 -4.7M479.9 205.9l-4.7 -4.9M454.5 206.9l-5.9 -5.8M461.4 207.1l-5.2 -7.2M383.6 207.6l-4.5 -6M515.6 206l-4 -5.8M383.9 208.8l-6.4 -7.5"/>
<path stroke="#a50000" stroke-width="0.7" d="M349.4 236.6l-2.5 -2.9M352.6 235.8l-2.3 -2.5M348.7 236.2l-2.5 -3.7M321.1 235.5l-2.1 -2.7M527 209.6l-7.1 -6.9M464.6 208l-5.7 -7.5M541.9 205.5l-1.6 -2.1"/>
<path stroke="#a50000" stroke-width="1" d="M346 236.8l-2 -2.4M399.1 206.6l-3.7 -5.2"/>
<path stroke="#ffcfcf" stroke-width="1" d="M365.2 235.7l-2.7 -3.9M387.2 236.3l-3.1 -3.9M315.3 234.4l-2 -2.5M329.9 237.1l-2.3 -2.9M343.3 235.9l-1.9 -2.6M307.7 235l-2.3 -2.7M515.2 208.6l-4.5 -4.6M525.3 209.2l-3.6 -5.2M460.1 210.4l-5.7 -7.5M423.9 208.6l-6.5 -7.1M486.4 205.3l-3.1 -4.4M504.4 209.5l-3.9 -5.1M412.8 208.4l-3.7 -3.9M523.2 207.9l-6.2 -7.9M383.7 210.3l-3.2 -4.3M390.4 211l-5.1 -6.4"/>
<path stroke="#da0000" stroke-width="0.7" d="M373.4 234.3l-2.9 -3.8M333.4 236.4l-2.2 -2.8M344.9 237.2l-4.2 -4.9M512.1 211.4l-6.8 -7.2M472.7 209.4l-5.1 -7.4M447 211.8l-5.3 -7.1M382.6 208.5l-4.5 -5.5M395.6 210.4l-4.2 -4.5M409.3 210.1l-5.2 -6.7M509 209.9l-4.8 -6.7"/>
<path stroke="#ec0000" stroke-width="1" d="M345 234.9l-4.5 -4.4M344.4 236.2l-3.2 -3.5M444.7 207.5l-5.8 -6.2M528.4 209.5l-5.5 -7.2M467.4 208.2l-5.1 -5.2"/>
<path stroke="#0000f5" stroke-width="1" d="M313 236.2l-2.9 -3.9M393.8 207l-3.5 -3.8M378.5 209.8l-6.6 -6.9M503.7 209.2l-5.1 -6.3"/>
<path stroke="#000093" stroke-width="1" d="M508.6 207.5l-6.3 -6.8M386.8 207.1l-3.4 -4.7"/>
<path stroke="#0000c4" stroke-width="1" d="M386.8 208.7l-3.5 -3.8M388.4 211.6l-6.8 -6.7"/>
<path stroke="#ff8989" stroke-width="1.9" d="M327 237.6l-3.6 -4M307 234l-2.2 -2.6M319.8 236.2l-4.1 -4.3M377.1 236.1l-4.7 -4.6M481.9 207.2l-6.6 -7.2M416.8 209.2l-6.5 -6.7M501.8 209.8l-3.7 -4M489.6 209.2l-4.3 -4.9M397.7 209.4l-5.8 -8.1M427.6 212.3l-5.6 -8.2"/>
<path stroke="#5c5cff" stroke-width="1.9" d="M467.4 209.9l-6.2 -7.6M439.9 206.9l-6.8 -7.4M475.8 206.8l-4.6 -6.2"/>
<path stroke="#ff6666" stroke-width="1.4" d="M353 235.6l-2.7 -4M384.1 236.8l-3.3 -3.7M384.2 236.7l-3.7 -5M421.6 207.3l-5.5 -5.8M383.1 206.9l-6 -6.3M381.2 206.8l-4.7 -5.6M439.3 206.5l-2.8 -4.1M443.1 208.4l-6.1 -6.2M392.3 207.5l-4 -4.3M414.1 206.7l-4.9 -5.9M438 207.7l-7.1 -7.2M405.6 210.2l-4.8 -6.8M427.5 207.3l-4.3 -5M438.8 210.3l-4 -4.5M523.5 209.5l-4.6 -4.7"/>
<path stroke="#940000" stroke-width="1" d="M317.4 237.6l-3.5 -4M396.5 211.9l-5.7 -7.7M527.4 208.9l-4.3 -5.8"/>
<path stroke="#ff8989" stroke-width="1.4" d="M327.8 236.5l-3.2 -4.1M352.9 237.4l-4 -4.3M309.2 235.6l-3.1 -3.9M371.5 236.3l-4.2 -4.4M394.3 209.8l-4.3 -4.6M471 209.6l-4 -4.9M458.1 209l-4.1 -4.5M409.3 209.9l-4.6 -5M439.9 208.9l-5.8 -7.2M399.5 208.4l-3.9 -5.6M431.4 209.6l-5 -6.9M406 206.3l-4.4 -5.2M408.7 206.9l-5.6 -5.7M393.1 205.2l-3.2 -3.5M421.8 205.4l-4.7 -4.6M426.7 206.4l-4.5 -5.2M476.8 210.2l-3.7 -4.1M502.4 208.1l-5 -5.1M388.1 209l-5.3 -7.5M410.2 205.9l-3.8 -4M396.8 209.9l-3.5 -4M452.5 206.6l-3.7 -4.5M489.1 208l-4.5 -5.1"/>
<path stroke="#0000f5" stroke-width="0.7" d="M474.7 206.9l-2.7 -3.9M497.5 206l-4.6 -5.2M449.5 207.1l-4.7 -5.2M484.9 211l-4.2 -5.7M415.1 206.8l-4.3 -5.6"/>
<path stroke="#0000dd" stroke-width="0.7" d="M362.9 236.5l-2.7 -3.2M430.7 207.5l-3.6 -4M512.1 206.9l-3 -4.2M408.8 209.9l-2.8 -4M460.7 208.4l-5 -5.6M474.8 209l-5.3 -7.2M404.6 207.5l-6.7 -6.5M497.1 210.8l-4 -5.4"/>
<path stroke="#a2a2ff" stroke-width="1" d="M373.3 236l-3.3 -4M369 236.5l-2.6 -3.4M334.6 236.7l-1.9 -2.4M386.1 209.3l-4.8 -5.7M507.1 211.4l-6.7 -7.5M438.3 210.1l-3.5 -4.8M432.6 208.8l-4.7 -6.1M452.3 207.5l-3.7 -5.2M386.7 208.3l-5.2 -7M531.5 204.5l-1.5 -1.6"/>
<path stroke="#7f7fff" stroke-width="1.9" d="M328.3 234.9l-3.1 -3.1M386.8 235.6l-2.8 -3.3M404.3 208.9l-4.2 -6M420.7 207.5l-5.4 -6M380 211.2l-5.4 -6.5M522.4 208.1l-5.2 -5.5M503.1 207.3l-4.5 -5.2M531.7 205.1l-2 -2.1"/>
<path stroke="#ff2020" stroke-width="1" d="M362.7 235.2l-2.8 -4.2M523.3 207.1l-3.2 -4.3"/>
<path stroke="#940000" stroke-width="0.7" d="M447.7 208.3l-3.7 -3.6M432.9 210.8l-4.9 -7.1M520.5 207.3l-3.8 -4.1"/>
<path stroke="#ff6666" stroke-width="1.9" d="M380.8 234.4l-1.9 -2.5M309.7 235.7l-3.1 -3.9M491.9 208l-3.1 -4.1M400.7 210.4l-5.2 -7.2M417.1 211.2l-6.7 -7M469.3 210.3l-2.9 -4.4M483.6 211.6l-6 -6.8"/>
<path stroke="#0000dd" stroke-width="1" d="M478.1 210.5l-6.7 -7"/>
<path stroke="#ff4343" stroke-width="1" d="M399.3 205.4l-3.5 -3.8M507.6 208.8l-5 -6.4M420.9 208.8l-4.7 -6.9M460.3 206.3l-3.3 -4.3"/>
<path stroke="#fff3f3" stroke-width="1.4" d="M326.9 235.9l-3.3 -3.8M341.8 234.8l-4.3 -4.3M321.1 236.7l-3.6 -5.2M335.9 236.3l-2 -2.5M383.9 234.4l-2.3 -3.4M523.9 208.2l-5.6 -6.4M485.1 210.2l-3.8 -5.3M474.2 207l-3 -3.7M466.8 210.1l-3.2 -4M526.9 210l-6.3 -6.7M438.3 206.6l-6.1 -6.7M412.1 211l-5.1 -7.4M388.9 206.6l-4.5 -6M390.9 208.9l-5 -5.6M464.1 209.6l-3.6 -4.8"/>
<path stroke="#da0000" stroke-width="1" d="M354.9 236.7l-3.6 -3.7M318.6 234.6l-2.5 -3.2"/>
<path stroke="#5c5cff" stroke-width="1" d="M330.3 234.2l-2.5 -3.2M386.5 234.2l-2.4 -3.2M439 205.6l-3.6 -4M516.7 209.8l-5.3 -5.8M528 210.8l-4.8 -6.5M418.7 208.2l-4.7 -4.9"/>
<path stroke="#fd0000" stroke-width="1" d="M384.8 211.7l-5.2 -7.5M413.8 209.7l-4.1 -5.8"/>
<path stroke="#00007b" stroke-width="0.7" d="M413 209l-3.5 -4.1M440.7 207.4l-4 -5.4M524.8 210.4l-5.9 -6.3M497.1 208l-4.2 -4.2M420.4 208.8l-3.3 -3.5M524.1 205.2l-1.4 -1.5"/>
<path stroke="#e8e8ff" stroke-width="1" d="M306.3 237.8l-3.7 -4.7M419.1 210.2l-4.8 -5.1M395.8 208.2l-4.1 -5.5M482.5 206.9l-2.9 -3.9M479.7 207.3l-4.6 -5.3M462.6 206.6l-5.4 -5.8M439 206.9l-5 -6.5M544.1 204.7l-1.7 -2.5"/>
<path stroke="#ec0000" stroke-width="0.7" d="M391.6 211.1l-5.1 -7.5M442.2 208.8l-5.8 -6.1M479.7 209.4l-3.7 -4.7"/>
<path stroke="#ffcfcf" stroke-width="1.4" d="M320.5 237.3l-3 -3.4M340.5 236.6l-3.5 -3.9M319.5 237.6l-4 -5.1M320.8 237.8l-3.7 -4.7M328.9 236l-4.4 -4.5M356.2 236l-3.1 -3.4M505.9 209.6l-6 -7.6M491.2 207l-5.5 -7.5M428.8 206l-4.7 -4.7M434.5 210.8l-6.2 -7.7M487.2 207.8l-5.1 -6.8M442 206.1l-3.3 -3.7M459.2 207.1l-4.8 -6.9M427.4 208.6l-5.2 -7M441.7 211.4l-4.8 -7M414.8 210.1l-4.9 -4.8M481 208.8l-4.4 -5.2M455.2 209.4l-4.1 -4.6M431 210.6l-5.7 -7.4M410.7 208.9l-3.8 -4"/>
<path stroke="#000062" stroke-width="0.7" d="M387.2 234.6l-3.5 -3.9"/>
<path stroke="#c90000" stroke-width="0.7" d="M317.5 235l-3.4 -4.2M314.5 237.4l-3.8 -4.8M317.9 237.7l-3.6 -4.1M496.5 210.8l-4.5 -6.1M468.7 210.5l-4.8 -6.8M385.1 209.6l-2.9 -4M477.7 209.1l-3.8 -3.8M408.7 211.3l-5.5 -7.2"/>
<path stroke="#a2a2ff" stroke-width="1.9" d="M364.4 236.7l-2.8 -4.2M387.9 236.9l-3.3 -3.9M476 211.9l-5.8 -7.9M397.8 210l-3.5 -4.9M451 207.6l-3.9 -5.3M455.1 209.6l-4.7 -6.5M491.6 210.7l-6.9 -7M422.4 210.9l-5.3 -7.4M406.9 207l-3.6 -4.3M403.7 205.4l-3.2 -3.7M539.7 205.2l-1.1 -1.4M544.8 205.7l-2.4 -2.4"/>
<path stroke="#fff3f3" stroke-width="1" d="M339.1 236.9l-4.6 -4.5M377.4 235.3l-2.6 -3.5M344 236.3l-2.6 -3.1M505.1 209l-5.8 -6.4M463.8 206.3l-4.3 -5.9M505.9 209.4l-5 -5.3"/>
<path stroke="#e8e8ff" stroke-width="1.9" d="M345.9 234.9l-2.1 -2.4M351 236.9l-2.5 -2.8M453.8 209.4l-3.9 -3.9M462.9 207l-3.4 -4.9M401.9 211.7l-5.8 -7.4M430.5 207.6l-5.7 -6.3M461.2 207l-3.4 -4.6M523.8 204.5l-1.7 -2.3"/>
<path stroke="#ff4343" stroke-width="0.7" d="M381.3 237.5l-3.2 -4.1M392.4 205.9l-3.2 -4.1M480.6 210.6l-4 -5.1"/>
<path stroke="#c5c5ff" stroke-width="1" d="M322.4 237.4l-2.5 -3.4M373.4 234.4l-3.7 -4M354.5 235.3l-3.4 -3.4M355.1 236.1l-2.4 -2.4M340 235.1l-3.6 -4.2M328.6 237l-2.8 -3.8M491.1 208.2l-5.1 -6M493.1 209.8l-5.7 -7.6M434.8 210.5l-5.5 -7.6M436.7 209.3l-4.1 -4.3M445.4 206.1l-4 -5.3M452.5 211.3l-5.4 -7.9M403.5 207.6l-5.6 -7.6M492.5 209.8l-5 -5.2"/>
<path stroke="#a2a2ff" stroke-width="1.4" d="M378.6 236.1l-3.2 -3.4M522.5 207.4l-5.9 -8.2M524.9 211l-6.9 -6.8M485.5 207.1l-3.6 -4.1M415.2 207.2l-2.9 -3.7M475.8 209.1l-5.3 -5.7M407.2 207.4l-6.6 -7.6M389.9 209l-3.5 -4.3M453.6 208.8l-3.7 -3.8M434.2 206.6l-5.2 -5.5M516.7 209.9l-4.9 -5M493.1 206.8l-4.7 -4.7M531.8 204.8l-1.4 -1.3"/>
<path stroke="#00007b" stroke-width="1" d="M512.2 209.3l-4.3 -4.8M491.8 209.5l-4.2 -5.1"/>
<path stroke="#5c5cff" stroke-width="1.4" d="M366.8 233.9l-2.1 -2.1M334.4 234.6l-2.1 -2.9M380.5 235.2l-2.1 -2.3M321.2 234.1l-2.7 -2.7M383 236.2l-4.4 -4.7M351.3 236.5l-3.6 -5M380 236.7l-2.2 -2.6M457.7 209.2l-5.1 -6.1M440.7 209.4l-5.1 -7.4M452 207.8l-4.9 -5.8M468 208.9l-5.8 -5.7M409.2 211.6l-6.5 -6.7M386.7 207l-3.4 -4.6M472.7 208.5l-3.7 -3.8M462.7 208l-3.6 -5.3"/>
<path stroke="#b70000" stroke-width="1" d="M320 235.9l-2.2 -2.2"/>
<path stroke="#0000c4" stroke-width="0.7" d="M359.3 237.8l-3.7 -5M358.4 235l-4 -4.6M315.4 234.8l-2.9 -3.1M322.2 235.7l-2.2 -2.5M468.7 207.7l-5.6 -5.6M413.6 209.4l-3.1 -4.7"/>
<path stroke="#ff8989" stroke-width="1" d="M364.6 236.4l-2.8 -3.2M483.2 207.4l-5 -7.3M429.9 205.4l-4.4 -4.3M431.4 205l-3 -3.6M452.2 209.6l-6.1 -6.2M399.6 210.5l-7 -6.8"/>
<path stroke="#ffacac" stroke-width="1.9" d="M382.3 235.9l-2.1 -2.7M476.5 209.3l-5.3 -6.1M455.1 209.3l-4.8 -6M410.1 210.1l-4.3 -4.7"/>
<path stroke="#e8e8ff" stroke-width="1.4" d="M357.2 234.4l-3.3 -3.3M380.6 235.6l-3 -3.6M349.8 234.4l-3 -3.2M384.8 209.7l-5.2 -6.3M464.2 209.9l-4.1 -5M489.9 206.5l-4.6 -6.2M492.7 206l-5.1 -5.2M494.5 210.9l-4.5 -6M463.9 207l-4 -4.1M469.2 206.6l-3.6 -4.2M439.1 209.8l-5.2 -5.2M454.5 206.5l-5.7 -6.2M484.7 210.3l-5.7 -6.3M448.8 207.4l-4.1 -5M524.7 207.4l-4.2 -5.3M433.6 207l-3.6 -4.3M520.9 208.4l-3.1 -4M457.7 209.2l-4.6 -6.3M427.4 210.7l-6 -7"/>
<path stroke="#c5c5ff" stroke-width="1.4" d="M361.5 236.1l-3.9 -4.7M312.8 234.7l-3.4 -3.6M341.2 237.6l-4.1 -4.1M351.9 235.8l-3.1 -3.8M381.4 236.9l-3.2 -4.1M424.8 209.9l-3.6 -4.8M476.8 206.7l-3.4 -3.4M378.5 210l-5 -7M494.2 206.1l-4.5 -5.6M488.6 206.3l-4 -5.3M412.2 209.1l-4 -4.8M442.7 206.3l-5 -4.8M477.5 206.4l-4.9 -5.6M434.9 207.3l-5.2 -6M387.3 211.8l-5.4 -7.6M484.1 210.4l-5.7 -8.2M516.1 206.5l-4.6 -5.8M393.8 206.6l-3.7 -5M416.3 210.7l-5.1 -5.3"/>
<path stroke="#c5c5ff" stroke-width="1.9" d="M343.5 235.3l-2.9 -3.2M391.4 209.9l-3.4 -3.8M410.2 209.2l-2.8 -3.8M516 210l-4.3 -6.3M437.5 208l-6.5 -6.6M423.5 206.6l-4.1 -5.6"/>
<path stroke="#fd0000" stroke-width="0.7" d="M381.5 235.2l-3.6 -4.8M319.8 237.6l-3.7 -5.3M372 237.2l-4 -4.3M430.9 207.6l-3.2 -3.5M474.4 207.3l-3.3 -4.7M383.6 209.1l-5 -6.1M388.4 211.1l-6.4 -6.4M426.2 210l-3.9 -4.9M529.2 204.3l-1.2 -1.3"/>
<path stroke="#0000c4" stroke-width="1.4" d="M538.8 263.3h4.8"/>
<path stroke="#a2a2ff" stroke-width="1.4" d="M540.3 220.8h3.3"/>
<path stroke="#ffcfcf" stroke-width="1.4" d="M538.5 209.4h5.1M539.2 237.3h4.4"/>
<path stroke="#0000dd" stroke-width="1.4" d="M540.6 211.5h3M539.1 232.8h4.5"/>
<path stroke="#da0000" stroke-width="1.4" d="M537.2 243.8h6.4"/>
<path stroke="#000062" stroke-width="1.4" d="M536.5 247.6h7.1"/>
<path stroke="#7f7fff" stroke-width="1.4" d="M538.8 246.3h4.8"/>
<path stroke="#5c5cff" stroke-width="1.4" d="M538.5 215.6h5.1"/>
<path stroke="#ec0000" stroke-width="1.4" d="M536.5 217.7h7.1"/>
<path stroke="#ff6666" stroke-width="1.4" d="M539.7 245.1h3.9"/>
<path stroke="#ff4343" stroke-width="1.4" d="M539.6 242.6h4"/>
<path stroke="#c5c5ff" stroke-width="1.4" d="M540 230h3.6M537 260.5h6.6"/>
<path stroke="#c90000" stroke-width="1.4" d="M539.4 214.3h4.2M537.9 228.7h5.7M539.4 257.4h4.2"/>
<path stroke="#fd0000" stroke-width="1.4" d="M540.2 254.6h3.4"/>
<path stroke="#0000ac" stroke-width="1" d="M538 208.5h5.6"/>
<path stroke="#b70000" stroke-width="1" d="M537.3 219.9h6.3"/>
<path stroke="#c5c5ff" stroke-width="1" d="M536.8 207.6h6.8M539.5 224.2h4.1M540 226.9h3.6"/>
<path stroke="#da0000" stroke-width="1" d="M539.8 251.9h3.8"/>
<path stroke="#7f7fff" stroke-width="1" d="M541.1 219h2.5M536.7 239.2h6.9M536.2 262.4h7.4"/>
<path stroke="#ff6666" stroke-width="1" d="M537.9 241.7h5.7M539.6 252.8h4.1"/>
<path stroke="#5c5cff" stroke-width="1" d="M540.2 216.8h3.4M536.7 225.1h6.9M536.3 227.8h7.3M537.6 234.6h6M540.9 240.8h2.7"/>
<path stroke="#e8e8ff" stroke-width="1" d="M539.1 226h4.5"/>
<path stroke="#3939ff" stroke-width="1" d="M540.5 213.4h3.1"/>
<path stroke="#fff3f3" stroke-width="1" d="M538 235.5h5.6M537.1 259.6h6.5"/>
<path stroke="#0000f5" stroke-width="1" d="M536.3 250.4h7.3M536.7 256.5h6.9"/>
<path stroke="#000062" stroke-width="1" d="M537.2 249.5h6.4"/>
<path stroke="#fd0000" stroke-width="1" d="M538.8 231.2h4.8M539.3 236.4h4.3"/>
<path stroke="#0000c4" stroke-width="1" d="M538.7 253.7h4.9"/>
<path stroke="#1616ff" stroke-width="1" d="M538.6 222.7h5"/>
<path stroke="#c90000" stroke-width="1" d="M538.1 258.7h5.6"/>
<path stroke="#ff4343" stroke-width="1" d="M540.1 210.6h3.5"/>
<path stroke="#ff8989" stroke-width="0.7" d="M539.9 232.1h3.7M538 248.9h5.6"/>
<path stroke="#a2a2ff" stroke-width="0.7" d="M536.4 222h7.3"/>
<path stroke="#ffcfcf" stroke-width="0.7" d="M537.5 223.6h6.1M537.5 240.1h6.1"/>
<path stroke="#da0000" stroke-width="0.7" d="M538.2 212.8h5.4"/>
<path stroke="#0000dd" stroke-width="0.7" d="M537.2 251.3h6.4"/>
<path stroke="#fff3f3" stroke-width="0.7" d="M539.8 234h3.8M537.4 255.9h6.2"/>
<path stroke="#a50000" stroke-width="0.7" d="M539 261.7h4.6"/>
<path stroke="#0000c4" stroke-width="0.7" d="M539.6 238.6h4"/>
<path stroke="#1616ff" stroke-width="0.7" d="M379.7 219.4l8.7 1.8M377.9 213.4l6.3 0.1"/>
<path stroke="#3939ff" stroke-width="1" d="M382.5 228.6l6.1 3.5"/>
<path stroke="#0000f5" stroke-width="1.4" d="M382.2 227.7l9.6 5.1"/>
<path stroke="#fff3f3" stroke-width="1.4" d="M380.6 222.3l6.9 1.7M381.6 225.7l9.6 5"/>
<path stroke="#ff8989" stroke-width="0.7" d="M381.9 226.6l3.8 1.9"/>
<path stroke="#0000ac" stroke-width="0.7" d="M378.4 215.2l5.2 0.7M377.2 211.1l8.5 -0.8"/>
<path stroke="#0000dd" stroke-width="0.7" d="M382.4 228.2l6.6 4.8"/>
<path stroke="#7f7fff" stroke-width="0.7" d="M379.3 218l4.3 0.3"/>
<path stroke="#fff3f3" stroke-width="1" d="M378.5 215.3l9.7 1.5M380.1 220.7l10 1.8"/>
<path stroke="#ff6666" stroke-width="1" d="M377.2 211.1l7.4 -0.5M379.9 220l4.7 0.7"/>
<path stroke="#7f7fff" stroke-width="1" d="M382.5 228.5l8 5.4"/>
<path stroke="#ff2020" stroke-width="1" d="M380.8 223.1l6.2 1.6M378.6 215.8l7.8 0.5"/>
<path stroke="#ffacac" stroke-width="1.4" d="M377.8 213l8.2 -0.1"/>
<path stroke="#da0000" stroke-width="0.7" d="M381.4 225l9.1 4.4"/>
<path stroke="#ffcfcf" stroke-width="1.4" d="M382.4 228.4l5.8 3"/>
<path stroke="#ff4343" stroke-width="1" d="M378.4 215.1l4.3 0.5"/>
<path stroke="#ffacac" stroke-width="1" d="M380.4 221.6l8.2 2.2M379 216.9l5.2 0.9"/>
<path stroke="#7f7fff" stroke-width="1.4" d="M380.8 223.1l4.5 1.2M381.8 226.4l7.8 4.6"/>
<path stroke="#a2a2ff" stroke-width="0.7" d="M380.1 220.7l9.4 2.4"/>
<path stroke="#000062" stroke-width="1" d="M375.4 205.1l3.8 -1.3"/>
<path stroke="#e8e8ff" stroke-width="0.7" d="M380.5 222.1l10 2.5"/>
<path stroke="#0000f5" stroke-width="1" d="M375.5 205.4l8.4 -3.6M378.8 216.3l4.1 0.7M379 217.2l7.6 1.1"/>
<path stroke="#ff8989" stroke-width="1" d="M376.6 209.1l5.1 -0.9"/>
<path stroke="#c90000" stroke-width="1.4" d="M379 217.2l10.2 0.4"/>
<path stroke="#0000c4" stroke-width="1" d="M379.8 219.6l9.3 2.3"/>
<path stroke="#ff6666" stroke-width="1.4" d="M377.9 213.3l10.9 0.4"/>
<path stroke="#3939ff" stroke-width="0.7" d="M380.6 222.3l6.5 2.7M381.9 226.5l5.3 2.9"/>
<path stroke="#0000dd" stroke-width="1" d="M382.6 229l8.2 5.5"/>
<path stroke="#ff6666" stroke-width="0.7" d="M377.8 213l6.8 -0.8"/>
<path stroke="#fd0000" stroke-width="1" d="M381.6 225.6l5.3 2.2"/>
<path stroke="#fff3f3" stroke-width="0.7" d="M376.1 207.4l5.6 -2"/>
<path stroke="#ec0000" stroke-width="1" d="M382.4 228.1l5.4 3.5M375.2 204.7l9.4 -4M378.7 216l5 0.1"/>
<path stroke="#ffcfcf" stroke-width="0.7" d="M376.3 208.1l6.4 -1.3"/>
<path stroke="#ffcfcf" stroke-width="1" d="M378 213.7l4.5 0.2"/>
<path stroke="#c5c5ff" stroke-width="1" d="M381.9 226.5l5.4 2.7M375.2 204.6l7.2 -2.8"/>
<path stroke="#c5c5ff" stroke-width="1.4" d="M382 226.9l3.9 2.2"/>
<path stroke="#940000" stroke-width="1" d="M381.7 226l8.9 5.6"/>
<path stroke="#0000ac" stroke-width="1" d="M379.5 218.5l9.8 2.7"/>
<path stroke="#5c5cff" stroke-width="1" d="M375.5 205.6l6.6 -2.2M376.8 209.7l9 -1.3M376.5 208.8l8.1 -2.1"/>
<path stroke="#a2a2ff" stroke-width="1" d="M379 217.1l8.6 0.3M380.7 222.6l7.8 3.4"/>
<path stroke="#c90000" stroke-width="1" d="M381 223.6l8 2.8"/>
<polygon fill="#860000" points="491.5,205.4 505.5,205.8 538.5,204.5 539.2,207.7 536,209.3 518.2,208.4 505.5,207.1"/>
<polygon fill="#860000" points="492.5,204.6 510,204.9 510,206.1 499.8,205.8"/>
</g></g>
<rect x="300.2" y="192.3" width="244.9" height="96.8" fill="none" stroke="#000" stroke-width="0.5"/>
<g font-family="'DejaVu Sans','Liberation Sans',sans-serif" font-size="6.7" fill="#111" stroke="#000" stroke-width="0">
<text x="340.0" y="299.6" text-anchor="middle">100</text>
<text x="380.2" y="299.6" text-anchor="middle">200</text>
<text x="420.4" y="299.6" text-anchor="middle">300</text>
<text x="460.6" y="299.6" text-anchor="middle">400</text>
<text x="500.8" y="299.6" text-anchor="middle">500</text>
<text x="541.0" y="299.6" text-anchor="middle">600</text>
<text x="295.8" y="272.2" text-anchor="end">50</text>
<text x="295.8" y="252.1" text-anchor="end">100</text>
<text x="295.8" y="232.1" text-anchor="end">150</text>
<text x="295.8" y="212.1" text-anchor="end">200</text>
<path d="M340.0 289.1v2.2M380.2 289.1v2.2M420.4 289.1v2.2M460.6 289.1v2.2M500.8 289.1v2.2M541.0 289.1v2.2M298.0 269.7h2.2M298.0 249.6h2.2M298.0 229.6h2.2M298.0 209.6h2.2" stroke-width="0.6"/>
</g>
<text x="415.3" y="312.4" text-anchor="middle" font-family="'Liberation Serif',serif" font-size="12" fill="#000">(<tspan font-weight="bold">d</tspan>)</text>
<rect x="22.5" y="320.8" width="238.9" height="95.1" fill="#860000"/>
<clipPath id="ke">
<polygon points="24.9,323.8 24.9,390.6 38.8,393.5 55.4,397.8 64.8,399.6 72.7,398.8 80.9,396.1 91.1,398.4 102,399.8 112.6,399 120.1,396.1 130.2,398.4 141.2,399.8 151.8,399 159.2,396.1 169.4,398.4 180.4,399.8 191,399 198.4,396.1 208.6,398.4 219.6,399.8 230.2,399 236.4,396.9 252.9,394 259.1,391.8 259.1,330.9 144.7,330.9 144.7,323.8"/>
</clipPath>
<g clip-path="url(#ke)"><g fill="none" filter="url(#jag)">
<polygon points="24.9,323.8 24.9,390.6 38.8,393.5 55.4,397.8 64.8,399.6 72.7,398.8 80.9,396.1 91.1,398.4 102,399.8 112.6,399 120.1,396.1 130.2,398.4 141.2,399.8 151.8,399 159.2,396.1 169.4,398.4 180.4,399.8 191,399 198.4,396.1 208.6,398.4 219.6,399.8 230.2,399 236.4,396.9 252.9,394 259.1,391.8 259.1,330.9 144.7,330.9 144.7,323.8" fill="#f6c4c8"/>
<path stroke="#c5c5ff" stroke-width="9" d="M144 349.2l5.1 -15.2 6.8 -14.6"/>
<path stroke="#000093" stroke-width="9" d="M115.7 383.5l5.3 -16.1 4.2 -16.4"/>
<path stroke="#ff4343" stroke-width="9" d="M38.8 367.1l3.9 -11.5 3.9 -11.5M116.4 353.5l6.6 -19.3 6 -19.5M176.6 402.3l7.6 -20.2 10.2 -19M86.1 356.2l7.3 -18.9 6.4 -19.2M95.1 389.7l4.6 -12.3 4.2 -12.4"/>
<path stroke="#da0000" stroke-width="9" d="M228.5 399.5l4.1 -16.7 4.3 -16.7M73.2 362.9l8.4 -18.3 8.4 -18.3M53.7 346.5l7 -14.1 7.4 -13.9M218.5 385.5l6.4 -18.8 7.4 -18.4"/>
<path stroke="#5c5cff" stroke-width="9" d="M128.9 348.9l5.6 -17.9 6.5 -17.6M91.3 373.6l6.5 -19.4 5.6 -19.7"/>
<path stroke="#0000ac" stroke-width="9" d="M183.3 363.1l7.2 -13.5 6.5 -13.9"/>
<path stroke="#ff8989" stroke-width="9" d="M250.8 353.2l5.3 -20.1 4.9 -20.2M217.6 394.3l9.6 -16.5 9 -16.8"/>
<path stroke="#ff6666" stroke-width="9" d="M212.9 357.9l5.7 -10.8 5.2 -11M115.1 340.4l5.9 -13.4 6 -13.3"/>
<path stroke="#3939ff" stroke-width="9" d="M94.3 367.7l4.9 -13.9 5.4 -13.7M72.3 385.5l4.6 -12.1 4.2 -12.3M212.2 354.5l6.2 -12.4 5.8 -12.6"/>
<path stroke="#0000c4" stroke-width="9" d="M34.3 380.2l8.5 -18.1 7.7 -18.4M101.9 394.4l5.3 -15.7 4.9 -15.9"/>
<path stroke="#a2a2ff" stroke-width="9" d="M149.6 391.7l3.8 -15.1 4.3 -15M38.4 393.8l5.6 -14.5 6.5 -14.1M40.3 393.6l8.7 -22.2 9 -22"/>
<path stroke="#ffacac" stroke-width="9" d="M30.4 367.3l7.5 -16.2 6.6 -16.5M139 364.3l9.9 -21.7 8 -22.4M39.8 398.3l6.8 -19.4 6.8 -19.4"/>
<path stroke="#e8e8ff" stroke-width="9" d="M139.1 369.1l5.8 -21.1 7.7 -20.5M183 383.7l8.4 -22.4 9 -22.1M77.8 379.8l4.8 -14.4 4.8 -14.4"/>
<path stroke="#1616ff" stroke-width="9" d="M215.3 384.8l7.1 -18.3 7.6 -18.1M57.1 401l7.5 -22.6 7 -22.8"/>
<path stroke="#fff3f3" stroke-width="9" d="M124.7 360.2l4.7 -12.6 4.1 -12.8"/>
<path stroke="#ff2020" stroke-width="9" d="M175.4 365.8l3.1 -13.1 3.6 -12.9"/>
<path stroke="#ffcfcf" stroke-width="9" d="M26.4 344l6.9 -19.7 7.6 -19.4"/>
<path stroke="#0000dd" stroke-width="9" d="M86.5 395.1l4.9 -15.8 3.6 -16.2"/>
<path stroke="#e8e8ff" stroke-width="7" d="M179.7 370.3l6.3 -19.3 6.6 -19.2M68 385.4l7.6 -17.4 7.8 -17.3M191.4 355.4l4.4 -11.7 4.7 -11.5M112.1 372.4l7.6 -20.7 5.9 -21.3"/>
<path stroke="#c5c5ff" stroke-width="7" d="M155 350.4l5.5 -11.4 5 -11.6M103.6 350.5l6.7 -23.5 5.4 -23.8M68.6 386.6l4.7 -17.2 6.3 -16.7"/>
<path stroke="#fff3f3" stroke-width="7" d="M215.2 364.3l5.5 -13 4.5 -13.4M79.9 356.2l2.9 -13.3 4.5 -12.9M112 385.2l9.2 -22.5 11.6 -21.4M218.1 392.9l7.6 -15.5 7.4 -15.6M204.9 363.8l4.6 -13.9 5.2 -13.7"/>
<path stroke="#3939ff" stroke-width="7" d="M136.3 359.5l6.4 -16.9 6.5 -16.9"/>
<path stroke="#ffacac" stroke-width="7" d="M162.6 366.5l8.9 -22.1 10.2 -21.5M212.2 358.5l7.4 -18.2 6.3 -18.6"/>
<path stroke="#00007b" stroke-width="7" d="M27.3 358.7l5.9 -11.2 6 -11.1"/>
<path stroke="#ffcfcf" stroke-width="7" d="M235.3 360.3l10.5 -17.8 10.4 -17.9M132.8 375.2l6.1 -10.6 5 -11.1"/>
<path stroke="#a2a2ff" stroke-width="7" d="M56.6 358.7l3.6 -12 4.7 -11.6M177.7 395l7.6 -17.3 7.7 -17.3M46 389.1l8 -15.9 8.2 -15.8M35.6 359.4l6.1 -17.9 4.6 -18.3M127.8 361.5l6.6 -22 8.4 -21.4"/>
<path stroke="#ff2020" stroke-width="7" d="M150.7 393.7l7.9 -16.5 9 -15.9M217.8 366.9l3.1 -13.7 3.1 -13.7M116.7 393.6l5.2 -10.8 4.2 -11.3"/>
<path stroke="#ff4343" stroke-width="7" d="M41.7 376.2l11.3 -21.2 9.8 -21.9"/>
<path stroke="#940000" stroke-width="7" d="M128.4 361l4.5 -16.4 5.1 -16.2M32.6 394.6l6.1 -18.4 5.3 -18.6M124.9 350.1l11.3 -21.1 11.5 -21"/>
<path stroke="#ec0000" stroke-width="7" d="M213.2 402.2l9.2 -20 6.7 -20.9"/>
<path stroke="#7f7fff" stroke-width="7" d="M78.1 352.8l5.9 -16.5 6.4 -16.3M37.3 381l4.6 -13 4.3 -13.1M248.8 353.8l4.5 -11.8 4.7 -11.7"/>
<path stroke="#fd0000" stroke-width="7" d="M137.6 356.3l9.4 -22.9 11.5 -21.9M224.5 346.5l4.5 -15.3 4.2 -15.4"/>
<path stroke="#0000ac" stroke-width="7" d="M189.7 379.8l5.6 -17.2 6.5 -16.8"/>
<path stroke="#0000f5" stroke-width="7" d="M107.3 386.8l8.1 -23.4 8 -23.4M234.1 345.8l5.7 -15.8 5.4 -15.9"/>
<path stroke="#b70000" stroke-width="7" d="M121.7 392.2l4.8 -11.1 4.8 -11.1"/>
<path stroke="#0000c4" stroke-width="7" d="M237.9 350.2l6.7 -14.8 6.5 -14.9M176 400.2l6.6 -19.1 5.8 -19.3M256 390.3l5.7 -13.4 5.7 -13.4M133.7 344.6l4.9 -14.5 5.2 -14.4"/>
<path stroke="#a50000" stroke-width="7" d="M141.2 374l6.1 -20.6 5.6 -20.8"/>
<path stroke="#c90000" stroke-width="7" d="M103.6 356.3l3.1 -12.4 4.1 -12.1M140.5 344.6l7.4 -20.4 6.5 -20.8M189.8 369.6l2.6 -12.4 2.9 -12.4"/>
<path stroke="#da0000" stroke-width="7" d="M53.4 384.4l6 -19.1 7.4 -18.6"/>
<path stroke="#ff4343" stroke-width="5.5" d="M84.4 396.9l5.8 -19.4 6.1 -19.3M144.5 392l5.4 -21.9 8 -21.1M126.6 392.2l8.2 -18.2 7.8 -18.3M142 378l6.1 -20.3 6.2 -20.2"/>
<path stroke="#0000c4" stroke-width="5.5" d="M207 379.8l6.3 -15.9 4.9 -16.3M161.4 378.2l5.4 -13.4 5.6 -13.3"/>
<path stroke="#ff2020" stroke-width="5.5" d="M178.1 366l5.7 -18.7 7.6 -18M193.6 341.7l6 -15.4 6.8 -15"/>
<path stroke="#ffcfcf" stroke-width="5.5" d="M61.7 378.7l8.3 -22.6 8.8 -22.4M56.7 371.6l6.7 -16 8.2 -15.3M51.7 348.5l6.6 -19.5 4.4 -20.1M12.1 365.6l8.6 -15 8 -15.3M206.2 359.6l6.2 -11.5 4.9 -12M69.5 373.3l7.4 -16.8 6.6 -17.2M118.1 360.3l4.9 -16.6 4.2 -16.8M137.7 362.4l7.3 -20.6 7 -20.7"/>
<path stroke="#c5c5ff" stroke-width="5.5" d="M129.3 396.4l7.6 -23 9.7 -22.2M224 374l5.2 -15.9 5.4 -15.8M151.8 405.1l5.5 -23 7 -22.6M97.1 349.7l5.5 -14.1 5.2 -14.2"/>
<path stroke="#3939ff" stroke-width="5.5" d="M144.4 371.9l7.4 -23.1 5.1 -23.7M228.2 361.1l6.1 -16.9 7.3 -16.4M184.1 353.3l4.4 -13 5.8 -12.4M148.7 359.4l7.4 -13.8 7.1 -14"/>
<path stroke="#1616ff" stroke-width="5.5" d="M186 381.8l5.7 -12.2 5.1 -12.5"/>
<path stroke="#00007b" stroke-width="5.5" d="M47 379.2l7.3 -15 7.4 -14.9"/>
<path stroke="#ffacac" stroke-width="5.5" d="M37 345.6l5.6 -17.6 6.8 -17.2M216.8 364.3l3.3 -11.8 3.9 -11.6"/>
<path stroke="#0000f5" stroke-width="5.5" d="M119 395.6l6.8 -18.9 7.7 -18.6"/>
<path stroke="#ff8989" stroke-width="5.5" d="M222.1 398.3l7.5 -15.9 5.9 -16.6M74.2 357.9l6.4 -12.6 5.4 -13.1M64.3 394.7l5.6 -18.8 5.4 -18.8M36.5 359.3l8.5 -16.8 7.7 -17.2"/>
<path stroke="#fd0000" stroke-width="5.5" d="M237.4 379.5l5.1 -17.8 5.7 -17.6M160.9 373l7.1 -16.1 7.7 -15.8M197.5 344l9.8 -18.7 8.9 -19.1M42.7 392l4.9 -11.2 6.1 -10.6M62.9 374.5l6.6 -22.4 7 -22.3"/>
<path stroke="#ec0000" stroke-width="5.5" d="M89.5 344.7l6.4 -13.6 7.1 -13.3M155.1 393.7l4.5 -12.2 4.5 -12.2M210 379.6l5.6 -21.7 5.1 -21.9M115.8 354.1l9.1 -23.1 7.6 -23.6"/>
<path stroke="#7f7fff" stroke-width="5.5" d="M12.5 348.9l8.1 -18.5 9.4 -17.9M114.3 343.7l8.1 -18.7 6.4 -19.4M156.8 387.7l7.8 -16.8 8.2 -16.6M96.4 355.1l6.6 -19.7 7.3 -19.5M20.7 373.6l5.9 -16.5 5.3 -16.7"/>
<path stroke="#a50000" stroke-width="5.5" d="M173 350.4l7.3 -19 6.2 -19.4"/>
<path stroke="#5c5cff" stroke-width="5.5" d="M235.9 379.6l4.2 -15 5.7 -14.5M43.7 380.8l6.3 -14.3 5.8 -14.5M30 365.5l4.7 -13.2 4.1 -13.5M29.1 346l5.3 -11.3 6.1 -10.9M61 354.9l7.1 -22.8 8.1 -22.4M143.6 346l6 -11.9 5.8 -12M111.5 352.2l6.9 -14.5 7.7 -14.1M65.7 379.2l7.9 -15.5 8.3 -15.3M163.8 386.2l8.9 -23.1 11.8 -21.8M253.3 384.3l10.6 -19.5 9.2 -20.2M18.5 354.6l6.1 -20.9 4.9 -21.2"/>
<path stroke="#000093" stroke-width="5.5" d="M248.4 397.8l10.5 -20.3 8.6 -21.2"/>
<path stroke="#e8e8ff" stroke-width="5.5" d="M179.9 375.9l7.5 -14.8 6.3 -15.3M89.2 390l9.8 -21 7.8 -21.8M252.8 361.1l6.5 -13.8 6.3 -13.8M201.7 345.2l8.9 -19.3 8.2 -19.6"/>
<path stroke="#ff6666" stroke-width="5.5" d="M193.9 369.6l5.8 -22.4 5.9 -22.4M202.7 349.2l7.2 -18.9 6.5 -19.1M108.4 357.2l9 -21.8 9 -21.8M134.7 398.5l8.9 -20.2 9.2 -20.1M31.7 369.5l7.5 -15.8 6.9 -16.1M86 379.7l4.7 -19.2 5.1 -19.1M236.6 363.3l8.6 -20.5 7.7 -20.9"/>
<path stroke="#c90000" stroke-width="5.5" d="M179.2 366l9.9 -18.8 10.7 -18.3"/>
<path stroke="#0000ac" stroke-width="5.5" d="M234.1 367.5l8.4 -18.4 7.5 -18.8M52.3 397.7l8.1 -15.8 6.7 -16.5"/>
<path stroke="#a2a2ff" stroke-width="5.5" d="M85 364.1l5.5 -20.1 5.3 -20.2M158.2 364.3l7.6 -22.2 5.5 -22.8M131.1 355.7l5 -14.1 4.1 -14.4M17.2 375.3l9.8 -21.5 10 -21.4M114.8 360.8l9.2 -22.4 11.2 -21.5M136.3 362.9l5.6 -15.8 4.1 -16.3M187.5 364.2l5.7 -13.9 5.4 -13.9"/>
<path stroke="#0000dd" stroke-width="5.5" d="M149.5 360.6l5.8 -11.6 5.8 -11.6"/>
<path stroke="#da0000" stroke-width="5.5" d="M251.4 385l10.1 -18.1 10.2 -18M183 390.5l6.6 -20 5.5 -20.3M127 348.7l3.5 -12.2 2.9 -12.4M111.3 377.9l4.8 -12.8 4.7 -12.8M229.2 359.5l9.5 -20.6 9.1 -20.8M220.7 375.4l4.1 -13.8 3.8 -13.9M225 397.9l7 -22.4 7 -22.4M38.1 374l4 -14.3 4.1 -14.2"/>
<path stroke="#000062" stroke-width="5.5" d="M50 398.5l7.1 -20.2 9.4 -19.2M97 376.6l7.6 -21.5 7.5 -21.5"/>
<path stroke="#b70000" stroke-width="5.5" d="M211.7 390.7l9.2 -18.4 9.3 -18.3"/>
<path stroke="#fff3f3" stroke-width="5.5" d="M196.5 354l8.1 -20.4 7.7 -20.5"/>
<path stroke="#fd0000" stroke-width="4.2" d="M248.9 388.1l5.2 -14.1 4.5 -14.3M113.4 392.4l5 -16.4 4.6 -16.5M32.2 349.6l3.5 -11.6 4.2 -11.4M51.4 401.2l7.4 -21.7 8.1 -21.5M220.4 351.5l7.5 -18.5 6.1 -19"/>
<path stroke="#ffacac" stroke-width="4.2" d="M125.3 354.6l5.9 -11.2 4.8 -11.7M94.8 344.4l7.4 -16.7 8.2 -16.3M241.8 360.1l6.2 -12.8 6 -12.9"/>
<path stroke="#ff6666" stroke-width="4.2" d="M161.2 369.7l4.9 -16.5 4.4 -16.6"/>
<path stroke="#5c5cff" stroke-width="4.2" d="M214.7 395.5l6.2 -22.3 7.4 -21.9"/>
<path stroke="#0000c4" stroke-width="4.2" d="M154.6 376.2l10.8 -17.9 10.6 -18.1M161 371l5.9 -13.6 5.1 -13.9M55.9 362.9l8.3 -20 8 -20.1"/>
<path stroke="#c5c5ff" stroke-width="4.2" d="M44.4 382.4l7.6 -19.6 8 -19.4"/>
<path stroke="#940000" stroke-width="4.2" d="M35.9 359.4l5.6 -22.9 6.7 -22.6M47.9 397.9l5.5 -16.4 5.7 -16.3"/>
<path stroke="#c90000" stroke-width="4.2" d="M182.9 373.6l4.6 -12.7 3.9 -12.9M166.2 368.1l5 -15.5 5.9 -15.1"/>
<path stroke="#0000f5" stroke-width="4.2" d="M199.5 349l3.6 -18.4 5.1 -18.1M142.2 389.3l6.2 -13.3 6.7 -13.1"/>
<path stroke="#ff2020" stroke-width="4.2" d="M206.2 345.1l3.5 -11.8 3.9 -11.7M93 387.1l4.7 -15.9 5.5 -15.6M140.1 378.9l7.2 -15.7 7.5 -15.5M116 397.3l10.4 -21.5 9.8 -21.8"/>
<path stroke="#3939ff" stroke-width="4.2" d="M40.6 393.8l8.7 -15.5 7.6 -16.1M190.1 373.8l5.7 -17 6.8 -16.6M246.6 397.4l6.7 -14.7 7.8 -14.2"/>
<path stroke="#ffcfcf" stroke-width="4.2" d="M177.5 355.9l6.4 -12.3 5.5 -12.8M39.8 351.6l6.2 -15.1 5.9 -15.3M126.2 349.8l6.4 -15.5 5.8 -15.7"/>
<path stroke="#7f7fff" stroke-width="4.2" d="M219.8 367.6l6.3 -22.9 6.2 -22.9M128.4 387.8l7.8 -16.8 8 -16.7"/>
<path stroke="#ff8989" stroke-width="4.2" d="M33 347.5l3.7 -14.6 3.9 -14.6M198.7 372.3l9.7 -20.5 9.7 -20.5"/>
<path stroke="#0000ac" stroke-width="4.2" d="M109.3 397.1l8.6 -18.2 6.9 -18.9M155 384.3l4.8 -13.6 6.6 -12.8"/>
<path stroke="#e8e8ff" stroke-width="4.2" d="M42.9 345.1l4.1 -18.8 5.3 -18.5M147 385.1l4.9 -16.6 3.7 -17M245.6 363.9l4.6 -14.4 4.8 -14.3M111.2 397.3l5.7 -15.2 5.2 -15.4M126.6 389.3l9.5 -22.9 12.1 -21.6"/>
<path stroke="#ff4343" stroke-width="4.2" d="M54.9 366.8l4.5 -12.5 5.5 -12.1M254.7 396.9l6.6 -14.6 6.4 -14.7"/>
<path stroke="#ec0000" stroke-width="4.2" d="M34.9 354.1l7.7 -22.9 8.4 -22.6"/>
<path stroke="#fff3f3" stroke-width="4.2" d="M69.7 346.8l6.2 -14.3 7.6 -13.6M158.9 377.8l4.9 -18.7 5.5 -18.6M225 358.2l4.8 -15.6 5.2 -15.5"/>
<path stroke="#a2a2ff" stroke-width="4.2" d="M109.7 393.5l8.7 -17.3 7.5 -17.9M139 354.3l5.2 -17.4 4.3 -17.7M33.8 357l5.9 -13.5 5.9 -13.4M142.5 373.9l6.4 -15.9 6.7 -15.8"/>
<path stroke="#00007b" stroke-width="4.2" d="M49.7 379.5l4.8 -15.5 5.8 -15.2"/>
<path stroke="#0000dd" stroke-width="4.2" d="M193.4 360.9l7.5 -23.8 8.4 -23.5"/>
<path fill="#fff3f3" d="M193.2 335.4l8.4 -11.3 8.1 -20.7 -0.9 -10.6 -6.3 8 -6.8 21.2z"/>
<path fill="#940000" d="M87.1 392.5l8.7 -8 7.7 -15.8 0.3 -9.4 -7.3 5.9 -8.1 15.6z"/>
<path fill="#da0000" d="M123.8 368.6l10.6 -11.9 9.2 -21.5 0.8 -10.5 -7.5 7.6 -9.5 21.4zM128.4 336.5l9.2 -12.5 9.1 -20.3 -0.2 -11 -6.4 8.4 -6.9 21.1z"/>
<path fill="#ff2020" d="M108.5 340.5l8.8 -12.3 9.8 -20.6 -2 -12.6 -8.5 8.8 -5.3 22.3z"/>
<path fill="#0000f5" d="M34.7 382.7l5.7 -10.7 8.2 -18.5 0.3 -9.4 -5.5 7.3 -7.8 18.7z"/>
<path fill="#1616ff" d="M160.9 377l4.5 -8.7 5.1 -15.2 0.4 -7.5 -9.1 5 -4 15.5zM67.1 340.2l7.3 -9.4 6.1 -18.3 -3 -9.7 -4.5 7.1 -6.2 18.3zM173.8 392.5l7.4 -9.8 7.8 -18.3 1 -10.6 -8.1 7.7 -7.1 18.6zM102.9 384.3l6 -7.5 6 -13.8 0.5 -7.6 -7.2 5 -4.8 14.2z"/>
<path fill="#fd0000" d="M113.1 354.4l9.6 -11.1 5 -21.4 -2.9 -10.8 -7.7 8.1 -5.5 21.3zM70.1 367.8l4.6 -6.2 3.3 -11.6 -0.6 -6.1 -4.1 4.7 -3.5 11.6zM197.8 380.6l4.1 -7.8 3.5 -12.9 -2.2 -6.5 -3.8 4.9 -3.2 13z"/>
<path fill="#ffcfcf" d="M232.9 341.4l5.4 -6.3 5.8 -10.6 0.2 -6 -4.1 4.1 -5.2 10.9zM205.1 364.4l6.8 -11.4 10.1 -20.2 2.9 -10.5 -10.2 7.2 -8.4 20.9zM156.5 350.5l9.4 -12.3 10 -21.1 1.7 -11 -9.3 7.7 -8.7 21.6z"/>
<path fill="#3939ff" d="M26.2 343.8l8.6 -10.2 9.2 -19.9 0.5 -11.9 -9.1 8.5 -6.6 21zM226 360.4l3.8 -6.3 4.5 -11 -0.2 -6.3 -4 4.8 -3.2 11.5z"/>
<path fill="#7f7fff" d="M21.8 350.5l6 -9.2 6.4 -15.8 -2.1 -8.7 -4.1 6.4 -5.4 16.2zM111.3 357.7l5.6 -10.8 4.5 -18.4 -1.6 -9 -2.7 7.8 -5.3 18.1zM243.5 341.5l3.8 -6.2 2.9 -11.3 1 -5.2 -4.2 4.2 -4.1 10.9zM25 365.8l6.7 -10.5 5.9 -17.8 0.7 -9.4 -6.9 7.6 -4.3 18.2zM138.5 362.8l2.8 -5.7 3 -10.6 0.6 -5.7 -5.3 4.3 -3.3 10.5z"/>
<path fill="#c90000" d="M176 389.3l9.6 -10.1 6.2 -17.8 1.3 -10 -8.8 7.3 -6.3 17.8zM216.1 380.6l8.4 -7.9 7 -13.6 -0.8 -7.5 -4.3 5 -6.5 13.9z"/>
<path fill="#c5c5ff" d="M45 366.1l4.4 -9.7 5.5 -16.9 0.1 -8.1 -5.4 6.5 -4.9 17.1zM184.7 392.8l12.6 -9.4 10 -19.2 -0.8 -10.9 -10.4 5.6 -8.3 20zM232.9 344.3l7 -11.5 10.2 -18.4 1.4 -10.6 -8.3 7.3 -8 19.4zM111.4 388.3l4.9 -5.7 5 -9.7 0.6 -5.4 -4.4 3.4 -5 9.7z"/>
<path fill="#ff6666" d="M17.9 392.7l3.1 -8.8 4 -14.4 1.7 -6.9 -5.6 5.7 -4.5 14.3zM218 393.9l8.8 -10.9 4.8 -18.5 -3.1 -9.6 -4.5 7.8 -4.5 18.6z"/>
<path fill="#ffacac" d="M209.3 357.6l9.8 -10.3 9.5 -19 1.6 -10.9 -7.5 8 -9.6 18.9zM254.5 392.3l6 -5.8 4.9 -9.9 -0.3 -5.4 -3.5 3.5 -4.9 9.8zM160.9 389.3l7 -8 7.3 -14.8 2 -7.9 -6.8 5.5 -7.2 14.8z"/>
<path fill="#5c5cff" d="M158 374.7l6.2 -8.4 7.6 -15.8 -1.7 -9.1 -6.8 5.5 -6.3 16.4zM251 344.1l7.2 -12.2 8.5 -20.6 -2.5 -11.9 -5.5 8.7 -8 20.8zM95.6 355.5l3.5 -5.6 4.5 -9.8 1.5 -5.6 -4.9 3.8 -5.4 9.3zM127.7 365.5l9.6 -8.5 8.1 -16.4 0.9 -9.7 -6.4 6.9 -7.7 16.6zM147.5 392.3l6.4 -10.3 6.4 -18.6 -0.6 -9.8 -5.8 7.7 -6.1 18.7zM114 348.3l4.5 -7.1 4.3 -11.9 0.9 -6.4 -4.1 5.2 -4.3 11.9z"/>
<path fill="#ff8989" d="M248.7 381.8l5.4 -7.4 6.1 -12.4 1.5 -6.8 -5.5 5 -5.7 12.7zM63.5 361.4l5.8 -12.9 7 -22.7 -3 -12 -6.6 9.5 -5.3 23.1z"/>
<path fill="#a2a2ff" d="M86.3 368.5l3.1 -7.1 4 -12.3 -0.3 -6.1 -4.1 4.7 -4.1 12.3zM77.4 348.1l11.9 -12.6 9.5 -21.1 1.2 -10.4 -8.2 7.2 -10.4 20.7z"/>
<path fill="#0000ac" d="M19.1 368.5l7.4 -12.3 10.9 -19.7 -0.7 -10.9 -7.2 7.2 -8 21.1z"/>
<path fill="#ec0000" d="M216.1 390.7l7.5 -12.6 7.6 -20.7 -0.1 -10.5 -6.3 8.3 -7.3 20.8zM248.4 392.5l5.3 -5.9 3.9 -10.8 -0.2 -5.5 -3.6 4.3 -2.9 11.1z"/>
<path fill="#0000c4" d="M161.8 356.9l3.8 -10.4 7.1 -16.7 -2.2 -9.6 -6.4 6.9 -3.7 17.8zM135 362.8l5.8 -7.8 6.7 -13.2 0.6 -6.2 -5.6 3.8 -6.6 13.2z"/>
<path fill="#ff4343" d="M236.1 359.3l5.9 -7.2 6 -12.6 -1 -7.1 -3.9 5 -5.2 12.9zM105.2 359.4l6.1 -7.2 3.5 -12.8 -1.8 -6.7 -2.8 5.4 -3.5 12.8zM201 392.7l4 -9.7 6.5 -17 -2.5 -8.6 -4.6 6.3 -5.1 17.4z"/>
<path fill="#e8e8ff" d="M140.7 386.2l10.6 -10.9 8.5 -20.1 0.1 -11.3 -11.4 7.2 -6.6 20.7zM168.8 338.8l4.9 -9.5 8.5 -15.9 -0.9 -8.9 -5.1 6.2 -6.3 16.9zM192.9 366.9l8.7 -10.4 11.4 -19.6 0.4 -12.8 -8.5 8.6 -9.4 20.7z"/>
<path fill="#000062" d="M251.4 359l10.6 -12.3 9.8 -21.3 -3.8 -11.6 -7.5 6.9 -8 22z"/>
<path stroke="#5c5cff" stroke-width="5.5" d="M154 387.4l3.8 -10.2 2.5 -10.6"/>
<path stroke="#3939ff" stroke-width="5.5" d="M259.4 390.5l1.5 -5.5 1.4 -5.6"/>
<path stroke="#ff6666" stroke-width="5.5" d="M161.9 387.9l2.8 -6 2.5 -6.1M48.9 390.7l3.2 -9.1 3 -9.1"/>
<path stroke="#00007b" stroke-width="5.5" d="M180.2 392.6l5 -10.8 5.1 -10.7"/>
<path stroke="#fd0000" stroke-width="5.5" d="M163.5 395.7l2.5 -6.3 2.3 -6.4"/>
<path stroke="#c90000" stroke-width="5.5" d="M184.8 393.9l2.1 -10.8 3.1 -10.6"/>
<path stroke="#c5c5ff" stroke-width="5.5" d="M137.4 390.5l2.3 -7.7 2.5 -7.6"/>
<path stroke="#0000f5" stroke-width="5.5" d="M127.2 387l3.2 -9.3 3.3 -9.3M83.1 396l1.7 -5.9 2.6 -5.5M92 382.8l1.7 -6.7 2.1 -6.6"/>
<path stroke="#da0000" stroke-width="5.5" d="M140.2 391.6l2.2 -6 2 -6.1M78.3 387.3l4.4 -12.2 3 -12.6"/>
<path stroke="#ffcfcf" stroke-width="5.5" d="M49 390l2.2 -7.3 3 -7M196.9 382.7l2.6 -8.6 2.8 -8.5"/>
<path stroke="#a2a2ff" stroke-width="5.5" d="M75.8 392.4l3 -9.1 4 -8.7"/>
<path stroke="#ff2020" stroke-width="5.5" d="M254.6 389.2l3.6 -6 3.8 -5.8M101.9 395.7l3.7 -9.1 3.7 -9.1"/>
<path stroke="#0000ac" stroke-width="5.5" d="M165.8 394.4l3.1 -8.4 3.7 -8.1M85.5 394.9l3.5 -8.4 2.8 -8.7"/>
<path stroke="#fff3f3" stroke-width="5.5" d="M117.2 390.7l4.4 -8.8 4.7 -8.7"/>
<path stroke="#ffacac" stroke-width="5.5" d="M207.2 391.9l2.8 -6.9 3.2 -6.7M176.3 386.8l5.7 -9.2 4.3 -9.9"/>
<path stroke="#0000c4" stroke-width="5.5" d="M117.6 396.2l4.6 -8.5 4.9 -8.3"/>
<path stroke="#000062" stroke-width="5.5" d="M27.3 382.9l3.7 -7.3 3.2 -7.5"/>
<path stroke="#ffcfcf" stroke-width="4.2" d="M124.8 395.1l2.5 -9.5 2.6 -9.5M81 389.7l2.8 -5.7 2.7 -5.8M20.1 387.1l2.1 -8.3 2.4 -8.2"/>
<path stroke="#ff4343" stroke-width="4.2" d="M227.2 398.2l2.2 -8.6 2.9 -8.3M88.9 382.2l3 -6.5 2.9 -6.6"/>
<path stroke="#c5c5ff" stroke-width="4.2" d="M77.7 386.6l3.5 -9.4 2.4 -9.8M229.1 395.3l2.1 -7.2 2.6 -7"/>
<path stroke="#c90000" stroke-width="4.2" d="M162.1 397.3l2.8 -8 3 -7.9M152.6 386.3l2.7 -8 2.3 -8.2"/>
<path stroke="#3939ff" stroke-width="4.2" d="M243.7 387.1l2.2 -6.6 1.3 -6.9M157.1 394.8l1.9 -5.1 1.2 -5.3M72.2 387.1l3.3 -5.6 3.5 -5.5"/>
<path stroke="#000093" stroke-width="4.2" d="M103.4 393.2l2.5 -5.4 2.3 -5.5"/>
<path stroke="#5c5cff" stroke-width="4.2" d="M64.7 394l1.7 -5.7 1.5 -5.8"/>
<path stroke="#0000dd" stroke-width="4.2" d="M68.8 388.2l4.6 -8.5 4.8 -8.4"/>
<path stroke="#0000f5" stroke-width="4.2" d="M35.4 394l3.3 -7.1 3.8 -6.9M94.7 388.5l5 -9.1 4.1 -9.5"/>
<path stroke="#0000c4" stroke-width="4.2" d="M187 395.1l1.6 -7.1 1.5 -7.1"/>
<path stroke="#ec0000" stroke-width="4.2" d="M37.5 396.5l2.6 -8.6 3.1 -8.4M97.5 383.4l5.9 -10.6 5.8 -10.6M63.6 396.2l4.3 -9.9 4.4 -9.8M36.3 396.3l3.2 -9 2.4 -9.3"/>
<path stroke="#1616ff" stroke-width="4.2" d="M248.8 393.6l1.5 -6.8 2 -6.7M217.9 395l2 -5.9 2.3 -5.8M255.4 394.6l2.4 -6 1.9 -6.2M257 397.8l2.5 -8 2.7 -8"/>
<path stroke="#e8e8ff" stroke-width="4.2" d="M97.3 393.2l2.4 -7.3 3.5 -6.8"/>
<path stroke="#7f7fff" stroke-width="4.2" d="M79.6 387.5l2.4 -7 2.1 -7.1M163.2 388.4l1.4 -6.9 1.2 -7M181.9 395.3l2.4 -9 3.4 -8.7M222.4 388.8l4.7 -10.3 3.6 -10.7"/>
<path stroke="#fd0000" stroke-width="4.2" d="M76.8 387.4l3.4 -5.2 3.3 -5.3"/>
<path stroke="#000062" stroke-width="4.2" d="M105.7 389.7l2.5 -5.7 2.7 -5.6"/>
<path stroke="#0000ac" stroke-width="4.2" d="M134.2 385.9l5.4 -11.4 6.2 -10.9M108.4 394.7l2.9 -6.9 3.1 -6.7"/>
<path stroke="#ff2020" stroke-width="4.2" d="M206.2 383.8l3.1 -6.5 3.2 -6.4M101.8 394.3l3.3 -10.1 2.8 -10.3"/>
<path stroke="#ff8989" stroke-width="4.2" d="M183 393.5l2.3 -7.3 2.3 -7.3M159 384.4l2.1 -6.5 2.1 -6.5M202.5 395.6l2.7 -7.4 3.5 -7.1"/>
<path stroke="#da0000" stroke-width="4.2" d="M121.4 387l3.1 -5.9 3.2 -5.8"/>
<path stroke="#940000" stroke-width="4.2" d="M193.8 387.1l2.1 -7.3 1.6 -7.4"/>
<path stroke="#a2a2ff" stroke-width="4.2" d="M93.9 392.2l2 -5.2 1.6 -5.3M133.2 394.3l2.1 -6.6 2.1 -6.5"/>
<path stroke="#fff3f3" stroke-width="4.2" d="M147.2 387.3l3.5 -9.5 4 -9.3M172.5 381.4l2 -8.3 2.5 -8.2M130.6 383.7l4.1 -9.8 3.7 -9.9M206.9 392.5l1.9 -4.9 1.8 -5M223 393.3l1.7 -5 2.2 -4.8"/>
<path stroke="#a50000" stroke-width="4.2" d="M236 396.6l2.2 -6.4 1.6 -6.6"/>
<path stroke="#ff8989" stroke-width="3.2" d="M114.5 394.1l1.7 -5.5 1.4 -5.6M212.1 387l2.3 -6.2 2.3 -6.3"/>
<path stroke="#0000c4" stroke-width="3.2" d="M148.4 396.7l2.6 -8.2 3.5 -7.8M47 384.1l4.6 -10.2 4.9 -10.1M114.4 395.8l2.6 -8.6 2.7 -8.6"/>
<path stroke="#ff6666" stroke-width="3.2" d="M152.2 399.6l1.6 -4.4 1.4 -4.4M93.9 382.7l2.1 -7.9 2.3 -7.9M128.8 403.9l1.9 -5 1.9 -5"/>
<path stroke="#e8e8ff" stroke-width="3.2" d="M83.1 391.9l1.8 -5.7 1.8 -5.7M99.6 398.1l2.6 -5.9 2.6 -5.9M254.2 401.2l1.9 -5.9 1.5 -6M172.3 395.6l2.4 -8.3 2.3 -8.3"/>
<path stroke="#a2a2ff" stroke-width="3.2" d="M86.3 405.9l1.1 -5.2 1.3 -5.2M140.8 401.3l2 -6.5 2.2 -6.4M115.3 390.7l4.1 -11.6 4.9 -11.3"/>
<path stroke="#940000" stroke-width="3.2" d="M225.1 391.7l5.6 -10.3 5.2 -10.5"/>
<path stroke="#0000dd" stroke-width="3.2" d="M152.2 385.1l4.3 -11.6 3.9 -11.8M86.1 397.1l2.7 -5.5 3 -5.3M168.1 399.4l2.6 -5.1 2.8 -5M19.8 388.7l1.8 -6 2.2 -5.9"/>
<path stroke="#a50000" stroke-width="3.2" d="M26.1 389.1l2 -6.4 1.3 -6.6M226.1 404.9l3 -7.1 3.2 -7"/>
<path stroke="#ffcfcf" stroke-width="3.2" d="M176.3 405.3l0.9 -3.8 1.2 -3.7M25.4 404.9l2.2 -5.1 2.4 -5.1M73.7 382.5l2.7 -7.6 3.2 -7.4M63.2 390.1l2.3 -9.1 3.3 -8.8"/>
<path stroke="#0000f5" stroke-width="3.2" d="M232.3 393l3.1 -5.7 2.9 -5.8M67.3 389.2l4.4 -9.5 3.7 -9.8M155 384.8l3.1 -8.6 2.4 -8.8M160.3 404.8l1.6 -6.7 1.3 -6.8"/>
<path stroke="#da0000" stroke-width="3.2" d="M250.3 394.7l1.3 -4.8 1.6 -4.7M168.3 381.2l2.8 -7.3 2.6 -7.4M152.7 382.2l3.8 -6.5 4 -6.5M22.4 390.5l2.1 -5.4 2.6 -5.1M221.1 386.1l2.4 -6.8 2.9 -6.5"/>
<path stroke="#ff4343" stroke-width="3.2" d="M126.1 393.4l1.3 -4.9 1.6 -4.8M84.4 387.4l3.4 -12 2.4 -12.3"/>
<path stroke="#ff2020" stroke-width="3.2" d="M125.3 402.7l3 -4.9 2.6 -5.1M150.5 400.6l3.8 -7.5 4.1 -7.3"/>
<path stroke="#c5c5ff" stroke-width="3.2" d="M20.1 395.1l3.6 -7.9 2.5 -8.3M21.1 393.6l2.5 -6.4 2.3 -6.5M223.4 384.5l4.6 -9.9 4 -10.2M53.1 403.2l2.7 -4.2 2.2 -4.4M247 396.1l2.9 -7.4 3 -7.3"/>
<path stroke="#3939ff" stroke-width="3.2" d="M256.7 391.8l2.6 -6.7 2.5 -6.7M119.7 391.6l2.9 -9.7 3.3 -9.6M217.2 403.4l2.1 -6.7 1.9 -6.8M248.9 388.1l2.9 -9.8 3.3 -9.6M188.3 396.8l3.9 -9.7 3.4 -9.9M160.5 404l0.9 -4.7 1.2 -4.6"/>
<path stroke="#5c5cff" stroke-width="3.2" d="M43 388.5l3.4 -8 4.5 -7.5M163.2 385.8l5.6 -11.3 5.2 -11.5M187.7 391l4.2 -8.2 4.8 -7.9M199.4 393.8l2.2 -8.3 2.8 -8.1M39.3 399.1l2.1 -6.3 2.3 -6.2"/>
<path stroke="#0000ac" stroke-width="3.2" d="M52.9 389.7l4.4 -9.9 3.6 -10.2M168 388.1l6.4 -11.7 5.3 -12.2M207 390.8l4.5 -8.8 4.5 -8.8"/>
<path stroke="#c90000" stroke-width="3.2" d="M35.2 396.4l2.7 -6.1 2.6 -6.1M144.3 386.6l3.7 -11.5 3.9 -11.4"/>
<path stroke="#fff3f3" stroke-width="3.2" d="M74.5 390.4l2.4 -5.4 2.5 -5.3M43.2 385.3l2.7 -8 3.4 -7.8M26 403.6l2.9 -6.8 3.4 -6.6M140.8 394.8l3.5 -8.9 3.1 -9M229.3 406.7l2 -6.2 2.3 -6M18.7 388.4l2.6 -7.1 2.9 -7"/>
<path stroke="#7f7fff" stroke-width="3.2" d="M238.8 393.4l2.3 -9.5 2.2 -9.5M65.9 394.9l2.2 -6.4 1.3 -6.7M68.9 389.1l3.2 -5.5 2.6 -5.8M151.4 404.6l1.4 -5 1.5 -5M61.5 405.3l1.2 -4.1 1.2 -4.1"/>
<path stroke="#fd0000" stroke-width="3.2" d="M31.8 385.8l3.4 -10.1 3.7 -10M257.5 387.9l2.5 -5.5 1.6 -5.8"/>
<path stroke="#000062" stroke-width="3.2" d="M22.9 391.6l3.5 -7.6 3 -7.8"/>
<path stroke="#ffacac" stroke-width="3.2" d="M74.8 400.1l1.2 -4 1.7 -3.8M174.5 403.3l2.1 -6.7 2.4 -6.6M104.4 407.5l3 -5.8 2.6 -6M178.4 394.7l2.8 -9.9 2.3 -10M174.2 395.8l3.3 -9.2 3.5 -9.1"/>
<path stroke="#ec0000" stroke-width="3.2" d="M109.7 400.1l1.5 -4.5 1.6 -4.4"/>
<path stroke="#1616ff" stroke-width="3.2" d="M219.9 391.1l2.6 -7.8 2.6 -7.8M90.6 386.3l5.4 -12.7 5 -12.9M149.5 407.4l2.4 -6.4 3.3 -6.1M125.2 381.5l4.4 -7.1 3.6 -7.5"/>
<path stroke="#000062" stroke-width="2.5" d="M63 391.3l4.2 -11.3 3.2 -11.6M110.7 402.8l3.9 -6.4 3.3 -6.7"/>
<path stroke="#e8e8ff" stroke-width="2.5" d="M145.9 403.3l2.1 -3.8 1.8 -3.9M118 402.6l2.1 -7.1 1.9 -7.1"/>
<path stroke="#da0000" stroke-width="2.5" d="M89.6 403.7l2.3 -3.8 1.9 -4M69.3 397.1l2.5 -7.2 2.1 -7.4"/>
<path stroke="#1616ff" stroke-width="2.5" d="M95.8 395.6l2.5 -5.1 2.5 -5.1M37.7 390.6l4 -7 3.9 -7.1"/>
<path stroke="#fff3f3" stroke-width="2.5" d="M60.6 403.6l2.9 -6.4 2.9 -6.4M93.8 404.6l2.6 -6.3 2.4 -6.3M231.4 397.6l2.6 -6.3 2.7 -6.3M71.9 402.2l2 -5.2 1.6 -5.4"/>
<path stroke="#ff2020" stroke-width="2.5" d="M50.7 402.4l1.4 -5.3 1.8 -5.2M41.6 400.2l1.9 -4.8 1.9 -4.8M252.8 403.4l2.4 -6.6 1.9 -6.7"/>
<path stroke="#ff6666" stroke-width="2.5" d="M60.7 390.6l3 -8.1 2.9 -8.2M245.8 403.3l1 -4.3 1.1 -4.3"/>
<path stroke="#fd0000" stroke-width="2.5" d="M43.6 399.1l2.4 -6.4 2.7 -6.4M216 392.4l4.1 -11.3 4.9 -11M164.8 397.5l1.6 -4.8 1.7 -4.7M88.5 397.2l1.8 -5.6 1.5 -5.6"/>
<path stroke="#c90000" stroke-width="2.5" d="M57.1 403.1l1.9 -4.5 1.6 -4.7M123.2 399.4l1.7 -3.9 2.1 -3.7M155.8 402.6l1.8 -3.9 1.5 -4M185.8 395.2l3.2 -9 2 -9.3M131.8 395.9l2.4 -4.2 2.2 -4.3M177 404.3l2.1 -5.5 2.2 -5.5M38.6 401.7l2.8 -6.6 2.9 -6.6"/>
<path stroke="#0000f5" stroke-width="2.5" d="M211.9 400.9l2.2 -3.9 1.8 -4.2M18.8 403.5l2.1 -4.9 2.5 -4.7M135 391.7l4.7 -8.1 4.1 -8.4M256.4 402.1l1.6 -5 1.6 -5M165.5 400.9l2.8 -6.6 2.4 -6.8M43.2 385.7l2.8 -8.5 2.3 -8.6M165.7 396.3l2.7 -10.2 3.2 -10.1"/>
<path stroke="#ff4343" stroke-width="2.5" d="M176.9 384.6l3.7 -9.2 2.5 -9.6M229.9 398l1.9 -6 1.2 -6.2M42.8 406l2.6 -6.4 2.5 -6.4"/>
<path stroke="#0000ac" stroke-width="2.5" d="M223.1 406.4l2.5 -6.1 1.9 -6.3M200 392.9l4.5 -8 3.6 -8.5M43.6 392.9l2.5 -8.4 2.2 -8.5M127.4 399.8l2.8 -6.6 3 -6.5"/>
<path stroke="#0000c4" stroke-width="2.5" d="M129 400.5l3.2 -7 3 -7.1M200.1 404l1.5 -4.1 1.2 -4.1"/>
<path stroke="#b70000" stroke-width="2.5" d="M34.8 396.3l3.2 -5.9 2.6 -6.2M141.3 398.4l2.7 -5.7 2.7 -5.7"/>
<path stroke="#0000dd" stroke-width="2.5" d="M182.1 389.5l1.8 -6.8 1.9 -6.7M143.6 403.5l1.8 -6.9 2.4 -6.7M247.7 390l4.5 -11 3.5 -11.4M137.4 391.1l3 -9.5 3.8 -9.2M83.8 403.7l2.8 -7.4 2.4 -7.5"/>
<path stroke="#ec0000" stroke-width="2.5" d="M164.7 398.2l2.2 -7 2.6 -6.8M36.4 404.5l3 -5.7 2.3 -6.1M55.6 397.1l2.8 -6 3 -5.9"/>
<path stroke="#c5c5ff" stroke-width="2.5" d="M44.4 403.1l1.2 -4 1.7 -3.8M67.8 393.2l3.3 -11.3 2.7 -11.5M96.7 386l5 -10.8 4 -11.1"/>
<path stroke="#ffcfcf" stroke-width="2.5" d="M142.9 405.7l2.3 -4.6 2.1 -4.7"/>
<path stroke="#5c5cff" stroke-width="2.5" d="M230.1 388.9l5.3 -11.1 5.1 -11.2M165.3 404.8l2.5 -5.9 2.8 -5.8M191.4 399.6l1.8 -3.8 1.4 -4M183.5 392.4l3.6 -7.9 3.1 -8.1M252 400.4l2.4 -7.7 1.9 -7.8M92.3 391.3l2.9 -5.8 2.8 -5.8M39.6 389.4l3.6 -8.2 4.1 -8"/>
<path stroke="#00007b" stroke-width="2.5" d="M111.1 396.2l1.8 -4.3 2.1 -4.2M209 394.2l2.8 -7.8 2.7 -7.9M136 404.3l1.9 -7.5 2.2 -7.5"/>
<path stroke="#940000" stroke-width="2.5" d="M18.5 400.8l3.1 -6.1 3 -6.1"/>
<path stroke="#3939ff" stroke-width="2.5" d="M41 394.8l2.7 -8.7 3.1 -8.5"/>
<path stroke="#7f7fff" stroke-width="2.5" d="M99.2 383.3l5.9 -9.7 4.5 -10.4M46.7 404.2l1.5 -3.2 1.4 -3.2"/>
<path stroke="#ff8989" stroke-width="2.5" d="M159.5 399.1l1.9 -5.4 1.4 -5.6M205.9 386l5.1 -8.6 5.4 -8.4M32.3 394.8l2.5 -5.7 2.9 -5.5M31.7 405.3l2.1 -3.9 1.8 -4M146.3 404.9l1.6 -3.5 2 -3.3"/>
<path stroke="#ffacac" stroke-width="2.5" d="M252.1 404.3l1.9 -3.5 1.8 -3.6M215.4 404.4l1 -3.6 1.4 -3.4"/>
<path stroke="#a2a2ff" stroke-width="2.5" d="M180.8 405.8l2.3 -4.3 1.9 -4.5M103.6 402.1l2.6 -7 3.2 -6.8M89.1 398l1.8 -4.5 1.2 -4.7"/>
<path stroke="#ffcfcf" stroke-width="1.9" d="M242.4 402.8l1.6 -3.5 1.8 -3.4"/>
<path stroke="#a50000" stroke-width="1.9" d="M42.6 403.2l3 -6 3.1 -6M212.9 403.6l2 -7.7 1.4 -7.8M194.5 399l1.2 -6.4 2.3 -6.1"/>
<path stroke="#ff2020" stroke-width="1.9" d="M112.2 402.2l1.2 -6.8 1.3 -6.8"/>
<path stroke="#c90000" stroke-width="1.9" d="M157.9 405.8l2 -4.1 2.2 -4"/>
<path stroke="#7f7fff" stroke-width="1.9" d="M136.4 405.8l2.6 -4.3 2.5 -4.3M247 400.9l1.7 -4 1.8 -4"/>
<path stroke="#000062" stroke-width="1.9" d="M19.6 402.2l1.9 -5.8 1.7 -5.9"/>
<path stroke="#c5c5ff" stroke-width="1.9" d="M153.2 402.3l2.6 -6.1 2.3 -6.2"/>
<path stroke="#ffacac" stroke-width="1.9" d="M168.2 405.9l2.4 -5.4 2.4 -5.4"/>
<path stroke="#3939ff" stroke-width="1.9" d="M239.5 398.5l1.7 -6 2.2 -5.9M189.4 403.5l3.5 -6.8 2.8 -7.1"/>
<path stroke="#ff6666" stroke-width="1.9" d="M239.5 407.6l2.7 -6 2.4 -6.1M149.5 406.3l1.6 -5.6 1.6 -5.6"/>
<path stroke="#fd0000" stroke-width="1.9" d="M156.6 406.5l3.6 -6 2.8 -6.4"/>
<path stroke="#0000dd" stroke-width="1.9" d="M52.5 404.5l2.1 -6.8 2.3 -6.7"/>
<path stroke="#ff4343" stroke-width="1.9" d="M250.3 400.6l2.8 -8.5 3.2 -8.3"/>
<path stroke="#ff8989" stroke-width="1.9" d="M137.9 405.1l2.5 -5.5 2.2 -5.6M183.4 401.2l2 -4.4 1.9 -4.5M202.7 401.7l2.4 -8.4 2.4 -8.4M116.2 404.9l1.8 -6.2 2.1 -6.1"/>
<path fill="#ffacac" d="M34.2 389.8l2.4 -3.8 3.9 -6.2 -0.4 -3.4 -2.5 2 -2.8 6.8zM202.2 394.4l1.1 -1.7 1.1 -3 -0.4 -1.7 -0.9 1.2 -1.1 3z"/>
<path fill="#1616ff" d="M117.2 381.6l2.3 -3.9 1.8 -6.9 0.2 -3.5 -3 2.7 -2 6.9zM145.6 391.8l4 -5.1 3.9 -8.2 0.4 -5 -4.6 3.3 -2.6 8.7zM145.4 393.4l1.7 -3.5 2 -5.8 0.1 -2.8 -2.4 2.1 -1.6 6z"/>
<path fill="#da0000" d="M248.2 400.3l1.3 -1.6 1.7 -2.7 0 -1.8 -1.6 1 -1.3 2.9z"/>
<path fill="#c5c5ff" d="M183 376.3l3.5 -4.6 4.8 -9.1 1.8 -4.5 -4.8 2.8 -5.1 8.9zM51.5 396l1.4 -1.4 0.9 -2.4 -0.2 -1.3 -0.8 0.9 -0.9 2.4zM239.2 390.6l2.4 -3.4 3.6 -6.8 0.3 -3.7 -3.4 2.2 -3.3 6.9z"/>
<path fill="#0000f5" d="M239.8 392.4l1.3 -2.7 2.9 -5 -1.6 -3.4 -1.9 2 -1.2 5.6zM65.4 380.4l1.8 -4.3 1.6 -7.1 0.3 -3.4 -3 2.7 -1.8 7.1z"/>
<path fill="#a50000" d="M213 382.9l4.9 -6 3.3 -11.4 -0.4 -5.9 -3.4 4.7 -3.6 11.3z"/>
<path fill="#5c5cff" d="M119.3 376.7l6 -6.2 5 -12.3 1.8 -6.8 -6.3 4.7 -6.3 11.7zM218.5 378.3l3.6 -5.6 4.4 -9 1.8 -4.8 -4.6 3.4 -4.5 9zM224.1 396.2l3 -3.4 2.1 -5.8 -0.2 -3.3 -2 2.5 -2.3 5.8zM104.8 399.5l1 -1.8 0.7 -3 0.2 -1.4 -1.4 1.1 -0.8 3zM33.2 401.5l2.3 -2.7 2.3 -4.4 0.3 -2.3 -2 1.4 -2.1 4.5zM147.6 380l3.8 -5.7 4.8 -10.4 0.7 -5.9 -4.8 4.1 -4.1 10.7z"/>
<path fill="#ffcfcf" d="M98.9 398.1l1.3 -3.1 1.5 -5.6 -0.4 -2.7 -1.9 2.1 -1.2 5.7zM23.4 396.5l2.1 -2.2 1.1 -3.8 0.1 -2 -2 1.4 -1.3 3.7zM85.4 396.3l0.9 -1.5 0.6 -2.6 -0 -1.3 -1 1 -0.7 2.6zM222.6 399l3.8 -2.8 2.5 -5.6 0.8 -3.4 -2.6 2.5 -2.9 5.4z"/>
<path fill="#a2a2ff" d="M212.9 383.8l3 -3.5 1.6 -6.1 -0.6 -3.1 -1.3 2.5 -1.9 6zM250.7 391.6l4.1 -4.2 2.5 -7.6 0.2 -3.8 -3.2 2.7 -3 7.4z"/>
<path fill="#c90000" d="M93.1 382.1l5.6 -3.6 3.4 -7.9 -0.8 -4.1 -2.9 2.5 -3.4 7.9zM85.5 395.1l4.8 -3.1 2.6 -7.3 0.5 -3.9 -3.4 2.6 -3.6 6.9zM31.8 391.6l2 -2.6 1.4 -4.7 0.1 -2.5 -1.5 2.1 -1.3 4.7zM142.5 382.3l4.3 -6.4 3.5 -11.2 0.4 -5.8 -4.7 4.6 -3.2 11.2z"/>
<path fill="#000062" d="M115 399.1l1.9 -2.4 2.2 -4.6 0 -2.5 -1.4 1.8 -2.1 4.7z"/>
<path fill="#00007b" d="M183.7 401.1l1.2 -1.1 1.5 -2.3 -0.1 -1.6 -1.1 1 -1.1 2.6zM21.2 384.1l2.4 -4.3 2.9 -7.7 -0.4 -4.2 -3.2 3.1 -2 8z"/>
<path fill="#000093" d="M143 393l1.9 -3.3 2.1 -5.5 0.4 -2.7 -1.8 2.2 -2 5.5z"/>
<path fill="#0000ac" d="M241.4 385.4l2.4 -4.9 2.8 -8.1 -0.4 -4.1 -4.1 3 -1.3 8.5zM242.3 397.1l2 -2.8 2.9 -4.9 0.5 -2.6 -2.1 1.7 -2.5 5.1zM210.5 390.7l2.1 -3.8 1.8 -6.4 -1.1 -3.4 -1.2 2.8 -1.7 6.4z"/>
<path fill="#ec0000" d="M219 377.5l3.1 -4 2.5 -7 -0.7 -3.7 -3.4 2.7 -0.9 7.4zM104.3 394.4l1.4 -3.6 2.2 -5.8 0.2 -3.3 -3.6 2.3 -1.4 6.1zM160.7 389.2l3.8 -4 3.8 -7 -1.2 -4.7 -2.5 2.9 -2.9 7.4zM195.7 383.6l4.3 -5.1 2.6 -9.3 -0.4 -5.2 -3.3 4.2 -2.2 9.4z"/>
<path fill="#ff6666" d="M193.2 384.8l1.6 -2.5 2.2 -4.2 0.1 -2.3 -2.1 1.3 -1.9 4.3zM58.5 390.9l1.9 -2.3 1.4 -3.9 -0.6 -2.3 -1.6 1.7 -0.9 4.1zM255.5 400.2l1.4 -1.3 0.6 -2.3 -0.4 -1.2 -0.9 0.9 -0.5 2.3zM65.5 382.2l2.6 -3.2 3 -6.7 -0.9 -4 -2.9 2.5 -2.5 6.9zM210.2 382.1l2.1 -4.8 3.1 -7.7 0.9 -3.7 -3.8 2.6 -2.7 7.9z"/>
<path fill="#e8e8ff" d="M188 396.2l2.5 -2.9 2.6 -5.2 -0.1 -2.9 -2 1.9 -2.4 5.3zM33.3 394.3l2.9 -3.1 2.6 -5.2 0.2 -2.7 -2.4 1.7 -2.5 5.2zM93.5 389.6l4.5 -3.9 3.8 -7.5 -1.5 -4.6 -2.4 3 -2.4 8.1zM112.3 396.8l2.5 -2.9 2.8 -5.3 -0 -2.9 -2.5 1.8 -1.9 5.7zM249.1 391.4l3 -4.7 2.6 -8 -1 -4.1 -1.9 3.2 -2.4 8zM49.4 385.1l3.5 -4.6 3.2 -8.9 -1.7 -5.3 -2.8 3.8 -2.7 9z"/>
<path fill="#ff2020" d="M145.6 394.3l2.3 -3.8 1.9 -6.3 -0.5 -3.3 -1.8 2.8 -1.2 6.5zM152.8 396.5l3.1 -3.5 2 -6.5 0.2 -3.5 -1.8 2.9 -2.3 6.4z"/>
<path fill="#ff4343" d="M184.4 399.7l1.6 -3 1.8 -5.1 -1.1 -2.7 -1.3 2.1 -0.8 5.4z"/>
<path fill="#ff8989" d="M128.5 381.2l4.6 -4.1 4.4 -7.3 -1.4 -4.5 -3.7 2.1 -2.7 8.1zM41.9 400.5l2.2 -2.7 1.9 -5.2 -0.5 -3.1 -2.7 2 -1.4 5.4zM192.3 400.5l1.7 -2.2 1.5 -3.7 -0.2 -2 -1.8 1.5 -0.7 3.9zM161.2 397.4l2.1 -1.7 1.7 -3.6 -0.1 -2.1 -1.3 1.4 -1.8 3.5zM36.7 398.2l2.2 -2.6 2 -4.5 0.1 -2.6 -2.5 1.6 -2 4.5z"/>
<path fill="#0000c4" d="M208.8 392.6l1 -2.5 1.6 -4.1 -0 -2.1 -1.6 1.6 -1.2 4.2zM184.7 386.1l4.7 -5.1 4.7 -9.8 0.2 -4.9 -3.6 3.1 -5.7 9.3zM197.5 399.5l1.6 -3.4 3.2 -5.2 0.8 -3.2 -3.7 1.7 -2.4 5.6z"/>
<path fill="#3939ff" d="M52.6 379.3l2.1 -3.2 2.9 -5.1 0.4 -2.9 -2.9 1.7 -2.2 5.5zM182.2 396.5l2.3 -3 3.1 -5.7 0.6 -3.4 -2.6 2.3 -2.9 5.8z"/>
<path fill="#7f7fff" d="M214 397.5l1.4 -3.8 1.8 -6.2 -0.6 -3.3 -2.7 2.5 -1.7 6.3zM127 388.3l6 -4 4.9 -8.7 -1.1 -6.2 -4.5 3.4 -4 9.1zM105.2 379.9l3.1 -4.4 4.3 -7.9 -0.7 -5.2 -3.8 3 -3.5 8.2z"/>
<path fill="#fd0000" d="M120.3 381.6l1.3 -3.9 2 -6 -0.2 -3.1 -2.2 2.5 -1.3 6.2zM62.6 382.3l5.3 -5.6 4.9 -10.2 -1.7 -6.4 -4.9 4 -2.8 11z"/>
<path fill="#fff3f3" d="M171.6 390.2l1.7 -1.5 1.7 -3.2 0.3 -1.9 -1.7 1.1 -1.8 3.1zM218.4 396.8l1.2 -3.1 1.9 -5 0.1 -2.5 -2.2 1.8 -1.5 5.1zM169.6 386l2.5 -3.9 2 -6.6 0.1 -3.6 -2.9 2.9 -1.3 6.8z"/>
<path fill="#0000dd" d="M160 379.8l4.1 -5.4 2.6 -9.9 0.1 -5.2 -3.8 4 -3.4 9.6zM42.9 386.1l4.4 -4.2 4.3 -7.1 0.2 -4.4 -3.8 2.6 -3.2 7.7zM235.7 397.7l2.2 -3.1 1.9 -5.6 0.5 -2.7 -3.1 1.9 -1.6 5.7z"/>
<path fill="#c90000" d="M109.9 376.5l4.9 -4.6 4.9 -8.4 -0.3 -4.7 -3.1 2.9 -4.2 8.8zM124 401.2l1.2 -1.1 1.1 -1.8 0 -1.1 -1.2 0.6 -0.8 1.9zM205.1 392.3l0.9 -1.7 1.4 -2.6 0.3 -1.3 -1.1 0.9 -1.3 2.7z"/>
<path fill="#0000c4" d="M86 379.1l3.3 -6.4 4.2 -11 0.1 -5.7 -3.1 4.6 -4.4 10.9zM110.4 379.5l5.9 -5.7 3.8 -10.9 0.4 -6.5 -6.6 4.4 -3.8 10.9zM220.6 395.6l2.2 -2.1 2.4 -4.4 0.9 -2.3 -2.6 1.4 -2.5 4.3z"/>
<path fill="#0000f5" d="M110 384.7l3.2 -3.7 4.2 -6.9 -0.8 -4.3 -3 2.3 -3.3 7.4zM237.9 386.7l1.2 -2.1 1.2 -3.5 -0.7 -1.9 -0.8 1.5 -0.8 3.6zM97 388l4.3 -5.3 4.7 -8.4 -0.8 -4.2 -3.2 2.4 -3.5 8.9zM217.1 398.8l1.2 -1.7 1.1 -3.2 -0.7 -1.7 -0.6 1.3 -0.8 3.3zM150.9 386.3l3.9 -4.8 2.1 -8.9 -2.4 -4.4 -1.4 3.5 -2 8.9z"/>
<path fill="#3939ff" d="M38.3 392.3l2.5 -3.9 3.5 -6.6 -0 -3.1 -2.7 1.8 -3.3 6.8zM44.7 400.9l1.6 -2.8 1.5 -4.8 -0.6 -2.8 -2 2.1 -1.1 5z"/>
<path fill="#ff2020" d="M77.3 378l2.6 -4.4 2.6 -8 0.2 -4.1 -2.8 3.3 -2.4 8zM203.4 380.7l3.8 -5.3 5.1 -9.6 0.3 -5.5 -4.2 3.6 -4.4 9.9zM100.9 397.2l1.9 -2.4 0.9 -3.9 0.2 -2.1 -1.8 1.7 -1 3.9zM53.5 390.9l1.7 -2.1 1 -3.8 -0.4 -1.8 -0.7 1.5 -1.3 3.7zM29.6 385.8l3.2 -5.6 3.5 -9.7 -1.1 -5.4 -3.5 4.2 -1.7 10.2zM50.4 375.7l5.4 -5.4 2.5 -10.4 -2.3 -5 -2.8 3.6 -3.1 10.3z"/>
<path fill="#da0000" d="M142.9 394.9l3 -2.8 2.7 -5.7 -0.8 -3.3 -2.2 2 -2.4 5.8zM177.1 386.9l2.7 -2.3 1.7 -4.1 -1 -2.4 -1.2 1.6 -1.3 4.3zM203.5 390.5l2.6 -3 1.7 -6.3 -0.6 -3.6 -2.6 2.7 -1.8 6.2zM230.5 389.7l1.7 -2.7 2.6 -4.1 0.2 -2.2 -2.1 1.3 -1.7 4.5zM250.2 385.7l2 -1.7 2.4 -3.8 0.2 -2.2 -2.7 0.9 -1.9 4.1z"/>
<path fill="#0000ac" d="M95.2 384l1.6 -2.2 1.2 -3.8 0.2 -2.1 -1.7 1.6 -1.2 3.8zM76.1 392.7l3.5 -4.3 3.8 -6.8 0.8 -3.7 -3.9 2.2 -3.1 7.2z"/>
<path fill="#a2a2ff" d="M80 389.5l5.3 -4.8 2.4 -9.5 -2.7 -5.6 -1.5 4.2 -3.5 9.2z"/>
<path fill="#ff6666" d="M22.5 392.4l3.1 -3.6 2.6 -6.8 -1.2 -4 -2 2.8 -2.4 6.8zM39.4 390.3l2 -2.6 1.4 -4.6 -0.4 -2.3 -1.7 1.7 -1.3 4.7zM148.1 386.9l2.7 -2.3 2.6 -4.5 0.3 -2.5 -2.3 1.4 -2.4 4.6z"/>
<path fill="#0000dd" d="M67 395.6l3.4 -3.1 2.8 -5.8 -1.4 -3.4 -1.6 2.3 -1.6 6.2zM94 384.8l2.5 -3.5 2.3 -6.1 -1 -3.6 -1.9 2.5 -2.3 6.1z"/>
<path fill="#ff4343" d="M136.4 377.4l4.6 -5.2 3 -9.2 -0.6 -5 -2.2 4 -3.3 9zM75.7 397.7l2.1 -3.7 1.9 -6.7 -1.6 -3.5 -1.3 2.8 -1.4 6.9zM40.4 384.5l1.9 -2.9 1.9 -4.7 0.4 -2.4 -2 1.8 -1.7 4.8zM118.1 377.3l4.9 -6 5.8 -11.5 0.8 -6.3 -6.2 3.8 -5.1 11.8z"/>
<path fill="#00007b" d="M163.5 384.7l2 -3.9 3.4 -6.6 -0.9 -3.4 -2.3 2.1 -2 7.1z"/>
<path fill="#5c5cff" d="M197.5 384.6l3 -3.9 3.3 -6.4 0.5 -3.8 -3.5 2.5 -2.4 6.8zM248.3 393.7l4.4 -3.5 4.3 -7 -0.4 -3.9 -2.8 2.2 -3.5 7.4z"/>
<path fill="#ffcfcf" d="M181.6 396.2l2.5 -2.6 2.2 -5.3 0.5 -2.5 -2.3 1.6 -2.8 5zM199.7 384.1l5.8 -4.4 5 -9.1 -1.9 -6.2 -3.6 3.7 -3.3 9.8zM36.4 384.9l2.4 -4.4 2.1 -7.4 -1.2 -3.6 -1.8 2.8 -1.7 7.5zM229.9 378.6l2.9 -5.7 2.7 -10 0.1 -5.1 -3.1 4.3 -2.9 10z"/>
<path fill="#1616ff" d="M97.8 393l1.6 -1.5 1.3 -2.7 0.3 -1.5 -1 1.1 -1.5 2.6zM79.3 393.6l2.5 -4.5 3.3 -7.8 0.3 -4 -3.7 2.7 -3.1 7.9zM141.1 391.9l4.3 -3.6 3.2 -6.4 0.1 -3.6 -2.7 2.4 -2.7 6.7zM68.6 384.7l3.2 -4.4 2.7 -7.3 -1.6 -4 -1.9 3 -1.6 7.6z"/>
<path fill="#e8e8ff" d="M130.2 375.9l4.3 -7.8 3 -13.8 -1.4 -6.7 -2 5.9 -3.4 13.7zM168.7 394.9l2.1 -2.2 2.2 -4 0 -2.3 -1.5 1.6 -1.8 4.2zM117.3 393.9l3.2 -3.1 2.2 -5.8 -1.1 -3.4 -2.5 2.3 -1.3 6z"/>
<path fill="#fff3f3" d="M144.2 385.3l4.1 -4.2 4.1 -7.9 1.4 -4.3 -3.9 3 -4.1 7.9zM190.8 388.2l2.1 -2.7 2.3 -4.7 0.7 -2.3 -2.1 1.7 -2.1 4.8zM170.2 397.7l1.8 -3 1.7 -5 -0 -2.8 -2.5 2.2 -0.7 5.2zM43.2 399.5l2.1 -1.9 2.5 -4.1 -0.9 -2.9 -1.2 1.8 -1.7 4.5z"/>
<path fill="#fd0000" d="M251.4 377.8l3 -2.9 1.9 -5.6 -0.6 -3.1 -1.4 2.3 -2.2 5.5z"/>
<path fill="#ffacac" d="M206 378.6l5.5 -6.3 6.1 -11.6 -0.4 -6.8 -3.9 4.6 -5.7 11.8zM37.1 393.2l1.2 -2.6 1.2 -4.3 -0.9 -2.2 -1.1 1.7 -0.8 4.4zM152 385.7l2 -3.3 2.1 -6 0.1 -2.9 -1.6 2.3 -2.5 5.9z"/>
<path fill="#b70000" d="M77.5 400.3l0.6 -1.2 0.8 -2.3 -0 -1.3 -1.2 1 -0.6 2.3z"/>
<path fill="#c5c5ff" d="M216.6 388l1.1 -1.9 1.2 -3.3 -0.2 -1.8 -1.6 1.3 -0.9 3.4zM20.4 378.6l5.4 -4.5 2.6 -9.1 -0 -4.6 -4.3 3.3 -2.8 9.1zM159.5 399.9l0.7 -1.7 1.1 -3 -0.5 -1.7 -1.3 1.1 -0.7 3.1zM177 400.9l0.6 -1.8 1 -3.1 -0.5 -1.5 -1 1.1 -0.8 3.2z"/>
<path fill="#ec0000" d="M238.1 394.6l1.2 -1.9 1 -3.3 -0.1 -1.7 -0.9 1.4 -1 3.4zM87 387.4l2.2 -3.1 1.6 -5.1 -0.6 -2.6 -1.5 2 -1.2 5.2zM39.7 383.6l2.6 -2.6 2.5 -4.7 -0.2 -2.9 -2.1 1.8 -2.1 4.9zM61 393.8l1.1 -2.9 1.3 -5.2 0.2 -2.4 -2.5 1.9 -1.4 5.1z"/>
<path fill="#7f7fff" d="M256.5 378.3l4.8 -4.4 3.6 -8.9 -0.6 -4.6 -2.8 3.1 -4.4 8.6zM183.7 375.8l2.5 -2.3 1.8 -4.6 -0 -2.6 -1.9 1.8 -2 4.6zM211 397.5l2.2 -3.3 1.2 -6.3 -0.3 -3.3 -2.1 2.7 -2.1 6.1zM114.2 387.8l2.7 -3.2 2.6 -5.6 -0.2 -3.2 -2.4 2.2 -1.6 5.9z"/>
<path fill="#ff8989" d="M34.7 383.6l1.8 -1.9 2.2 -3.5 -0.1 -2.2 -1.3 1.4 -1.7 3.8zM68 379.7l3.4 -3.9 1.9 -6.8 -1.6 -3.8 -1.8 3 -1.2 7zM222.9 379l6.8 -6 5.4 -10.1 -1.9 -5.8 -4.3 3 -4 10.7z"/>
<polygon fill="#ffe6e4" points="34.5,345.6 45.5,336.2 68,336.2 68.7,345.6 63.6,354.4 53.5,359.5 43.3,357.3 37.5,352.2"/>
<polygon fill="#e4e4ff" points="68,336.9 84,336.9 78.2,347.1 70.9,361.6 68.7,368 62.9,377.2 63.6,368 63.6,354.4 68.7,345.6"/>
<polygon fill="#f00000" points="68.7,368 70.9,361.6 78.2,347.1 84,336.9 87.6,337.6 86.2,350 81.1,361.6 78.2,368 69.8,378.2"/>
<polygon fill="#ff9088" points="89.8,338.4 100,336.2 100,368 91.1,376.7 88.4,368 89.1,354.4"/>
<polygon fill="#ff5a50" points="62.2,352.9 66.5,342.7 70.2,343.5 66.5,354.4 63.6,360.2 61.5,357.3"/>
<polygon fill="#5858f5" points="68,336.9 76,336.2 76.7,340.5 70.9,342.7 67.7,340.5"/>
<polygon fill="#0808f0" points="57.1,368 59.3,361.6 63.6,358.7 67.3,361.6 68,368 57.8,381.2"/>
<polygon fill="#ff9088" points="25.8,347.1 34.5,345.6 37.5,352.2 43.3,357.3 37.5,360.2 28.7,354.4"/>
<polygon fill="#ff9088" points="90,335.5 104.5,337.6 101.6,354.4 98.7,368 91.6,375.7 90,368"/>
<polygon fill="#ff5a50" points="104.5,338.4 114.7,338.4 111.8,347.1 117.6,342.7 126.4,352.9 119.1,355.8 111.8,361.6 107.5,368 98.9,379.8 98.7,368 101.6,354.4"/>
<polygon fill="#ffffff" points="119.1,355.8 126.4,352.9 132.2,353.6 139.5,352.2 146.7,354.4 146.7,368 122.5,384.8 110.4,368 111.8,361.6"/>
<polygon fill="#5858f5" points="111.8,342.7 119.1,336.9 132.2,334.7 143.8,338.4 150.4,343.5 143.8,349.3 132.2,353.6 126.4,351.5 119.1,342 111.8,349.3 110.4,345.6"/>
<polygon fill="#a00000" points="133.6,332.5 144.5,328.9 145.3,334 140.9,336.9 135.1,336.2"/>
<polygon fill="#f00000" points="139.5,338.4 145.3,336.9 144.5,341.3 139.5,340.5"/>
<polygon fill="#b8b8ff" points="148.2,351.5 151.1,345.6 158.4,343.5 170,341.3 170,354.4 162.7,357.3 156.9,368 149,375.8 146.7,368"/>
<polygon fill="#f00000" points="142.4,349.3 148.2,344.2 151.1,346.4 148.2,351.5 143.8,351.5"/>
<polygon fill="#f00000" points="124.2,368 124.9,358.7 127.1,359.5 127.8,368 123.4,375.3"/>
<polygon fill="#f00000" points="155.5,368 162.7,355.8 167.1,354.4 165.6,361.6 162.7,368 155.9,376.9"/>
<polygon fill="#0808f0" points="159.8,352.9 162.7,350 164.2,354.4 161.3,357.3"/>
<polygon fill="#ff5a50" points="168.7,360.2 173.1,342.7 181.8,342.7 196.4,342 194.9,355.8 189.1,360.2 181.8,361.6 174.5,368 168.3,377.2 168.7,368"/>
<polygon fill="#ff9088" points="196.4,342 203.6,338.4 210.2,334.7 225.5,336.9 224,342.7 218.2,347.1 210.9,354.4 203.6,355.8 194.9,355.8"/>
<polygon fill="#ff5a50" points="224,368 224.7,347.1 225.5,337.6 234.2,337.6 232.7,354.4 229.8,368 223.8,376.6"/>
<polygon fill="#0808f0" points="208,368 212.4,355.8 221.1,345.6 224,347.1 221.1,358.7 218.2,368 210.5,375.2"/>
<polygon fill="#a00000" points="196.4,368 197.8,358.7 203.6,355.1 210.2,355.1 206.5,361.6 203.6,368 196.1,379"/>
<polygon fill="#5858f5" points="160,347.1 165.8,342.7 170.2,342.7 165.8,354.4 160,361.6"/>
<polygon fill="#0808f0" points="160,355.8 164.4,351.5 162.9,360.2 160,364.5"/>
<polygon fill="#f00000" points="160,368 161.5,358.7 165.8,354.4 164.4,368 159.7,374.8"/>
<polygon fill="#ffffff" points="218.2,368 221.1,358.7 224,347.1 224.7,368 217.3,379.5"/>
<polygon fill="#ff9088" points="202.9,354.4 207.3,336.9 224.7,338.4 223.3,342.7 214.5,350 208.7,355.8"/>
<polygon fill="#0808f0" points="204.4,368 211.6,354.4 220.4,345.6 223.3,347.1 221.8,357.3 217.5,368 206.8,379.3"/>
<polygon fill="#f00000" points="200,355.8 205.8,355.1 210.2,356.5 204.4,368 198.8,377.3 200,368"/>
<polygon fill="#ffffff" points="217.5,368 221.8,357.3 223.3,347.1 224,354.4 221.8,368 217.4,374.3"/>
<polygon fill="#ff5a50" points="221.8,368 224,354.4 225.5,338.4 234.2,338.4 232.7,354.4 229.1,368 221.4,379.2"/>
<polygon fill="#e4e4ff" points="234.2,338.4 253.8,338.4 251.6,354.4 249.5,361.6 242.2,368 240.7,355.8 239.3,347.1 234.2,351.5"/>
<polygon fill="#ff9088" points="234.2,351.5 236.4,345.6 239.3,347.1 240.7,355.8 239.3,368 233.4,377.2 234.2,368 233.5,358.7"/>
<polygon fill="#5858f5" points="229.1,368 231.3,360.2 235.6,354.4 237.1,360.2 234.9,368 228.7,377.2"/>
<polygon fill="#ffe6e4" points="34.5,350 63.6,350 60.7,355.8 49.1,358.7 38.9,355.8"/>
<polygon fill="#f00000" points="68,367.5 70.9,358.7 78.2,350 85.5,350 84,361.6 78.2,371.8 73.8,379.1 69.5,376.2"/>
<polygon fill="#0808f0" points="53.5,379.1 57.8,367.5 63.6,358.7 68,360.2 65.1,370.4 59.3,379.1 54.9,382"/>
<polygon fill="#8c8cfa" points="38.9,379.1 40.4,367.5 43.3,358.7 47.6,360.2 46.2,371.8 41.8,383.5"/>
<polygon fill="#8c8cfa" points="63.6,383.5 66.5,371.8 69.5,376.2 72.4,380.5 68,387.8"/>
<polygon fill="#f00000" points="54.9,390.7 56.4,382 60.7,376.2 63.6,383.5 62.2,393.6 57.8,395.1"/>
<polygon fill="#ff9088" points="47.6,373.3 50.5,361.6 54.9,360.2 53.5,370.4 49.1,379.1"/>
<polygon fill="#ff9088" points="28.7,367.5 34.5,358.7 38.9,357.3 37.5,367.5 33.1,374.7"/>
<polygon fill="#ffffff" points="78.2,371.8 84,361.6 88.4,364.5 85.5,379.1 81.1,384.9"/>
<polygon fill="#ff9088" points="88.4,364.5 92.7,350 100,350 100,367.5 92.7,373.3"/>
<polygon fill="#b8b8ff" points="84,386.4 88.4,376.2 92.7,373.3 100,368.9 100,379.1 92.7,387.8 86.9,392.2"/>
<polygon fill="#a00000" points="70.9,386.4 73.8,379.1 78.2,377.6 79.6,384.9 75.3,390.7"/>
<polygon fill="#ff9088" points="90,350 101.6,350 100.2,364.5 95.8,376.2 90,382"/>
<polygon fill="#ff5a50" points="101.6,350 111.8,350 110.4,361.6 104.5,373.3 98.7,379.1 95.8,376.2 100.2,364.5"/>
<polygon fill="#b8b8ff" points="90,382 95.8,376.2 98.7,364.5 100.9,366 98.7,379.1 94.4,387.8 90,390.7"/>
<polygon fill="#ffffff" points="110.4,361.6 114.7,354.4 119.1,354.4 117.6,364.5 113.3,376.2 108.9,379.1 107.5,371.8"/>
<polygon fill="#e4e4ff" points="129.3,367.5 133.6,358.7 138,352.9 148.2,351.5 148.2,364.5 145.3,376.2 139.5,382 133.6,383.5 130.7,377.6"/>
<polygon fill="#ffffff" points="117.6,364.5 122,355.8 133.6,354.4 133.6,358.7 129.3,367.5 126.4,379.1 119.1,382 116.2,376.2"/>
<polygon fill="#b8b8ff" points="148.2,351.5 159.8,350 158.4,361.6 154,373.3 148.2,379.1 145.3,376.2 148.2,364.5"/>
<polygon fill="#f00000" points="151.1,379.1 155.5,368.9 162.7,357.3 165.6,358.7 161.3,370.4 155.5,380.5"/>
<polygon fill="#f00000" points="119.1,382 123.5,367.5 125.6,358.7 127.8,361.6 126.4,373.3 123.5,383.5"/>
<polygon fill="#ffffff" points="159.8,350 170,350 170,364.5 162.7,357.3 158.4,361.6"/>
<polygon fill="#ffe6e4" points="158.4,376.2 165.6,364.5 170,364.5 170,379.1 162.7,384.9"/>
<polygon fill="#ff5a50" points="167.3,350 196.4,350 194.9,355.8 189.1,360.2 181.8,361.6 174.5,368.9 168.7,370.4 167.3,361.6"/>
<polygon fill="#f00000" points="160,364.5 164.4,355.8 167.3,361.6 168.7,370.4 164.4,379.1 160,379.1"/>
<polygon fill="#a00000" points="196.4,358.7 200.7,354.4 209.5,354.4 206.5,363.1 200.7,371.8 196.4,370.4"/>
<polygon fill="#f00000" points="194.9,370.4 200.7,371.8 197.8,383.5 189.1,393.6 186.2,390.7 192,379.1"/>
<polygon fill="#0808f0" points="203.6,379.1 209.5,364.5 213.8,354.4 221.1,350 222.5,355.8 218.2,367.5 212.4,379.1 206.5,387.8 202.2,386.4"/>
<polygon fill="#0000b0" points="180.4,379.1 183.3,368.9 189.1,366 189.1,374.7 184.7,383.5 181.8,384.9"/>
<polygon fill="#e4e4ff" points="189.1,374.7 192,363.1 196.4,358.7 196.4,370.4 192,379.1 189.1,380.5"/>
<polygon fill="#ffffff" points="215.3,376.2 219.6,364.5 224,355.8 225.5,364.5 221.1,377.6 216.7,379.1"/>
<polygon fill="#ff5a50" points="222.5,355.8 225.5,350 235.6,350 232.7,361.6 226.9,373.3 225.5,364.5"/>
<polygon fill="#5858f5" points="228.4,386.4 232.7,373.3 240,364.5 240,379.1 234.2,390.7 229.8,393.6"/>
<polygon fill="#f00000" points="231.3,393.6 234.2,379.1 237.1,379.1 235.6,393.6"/>
<polygon fill="#0808f0" points="212.4,387.8 218.2,379.1 221.1,383.5 218.2,392.2 213.8,393.6"/>
<polygon fill="#ffffff" points="221.1,392.2 224,379.1 228.4,377.6 226.9,390.7 224,396.5"/>
<polygon fill="#b8b8ff" points="174.5,379.1 176,370.4 180.4,364.5 181.8,371.8 177.5,383.5"/>
<polygon fill="#f00000" points="165.8,393.6 168.7,379.1 174.5,373.3 176,382 171.6,393.6"/>
<polygon fill="#0808f0" points="202.9,379.1 208.7,364.5 214.5,354.4 221.8,350 222.5,355.8 217.5,368.9 211.6,376.2 208.7,386.4 204.4,387.8"/>
<polygon fill="#e4e4ff" points="211.6,376.2 217.5,368.9 222.5,355.8 223.3,361.6 220.4,373.3 216,379.1"/>
<polygon fill="#ff5a50" points="220.4,377.6 223.3,361.6 224.7,350 233.5,350 232,358.7 229.1,368.9 224.7,379.1"/>
<polygon fill="#5858f5" points="226.2,387.8 230.5,374.7 236.4,364.5 240.7,363.1 239.3,371.8 234.9,382 230.5,392.2"/>
<polygon fill="#ffbcb8" points="233.5,358.7 236.4,350 242.2,350 240.7,363.1 236.4,364.5"/>
<polygon fill="#ffffff" points="240.7,363.1 242.2,350 250.9,350 249.5,361.6 243.6,373.3 239.3,371.8"/>
<polygon fill="#f00000" points="232,392.2 233.5,379.1 236.4,377.6 236.4,390.7"/>
<polygon fill="#ff5a50" points="240.7,387.8 243.6,373.3 246.5,368.9 246.5,379.1 243.6,390.7"/>
<polygon fill="#b8b8ff" points="246.5,368.9 249.5,361.6 253.8,361.6 252.4,370.4 248,379.1"/>
<polygon fill="#ffffff" points="218.9,393.6 221.8,383.5 226.2,379.1 227.6,387.8 224.7,395.1"/>
<polygon fill="#f00000" points="200,358.7 208.7,355.8 208.7,364.5 202.9,379.1 200,376.2"/>
<polygon fill="#0808f0" points="200,393.6 202.9,387.8 208.7,386.4 205.8,395.1"/>
<polygon fill="#ff9088" points="249.5,387.8 252.4,373.3 256.7,371.8 256.7,390.7"/>
</g><g fill="none">
<path stroke="#7f7fff" stroke-width="1" d="M102.3 331.8l-6.4 -8.4M58.7 333.2l-4.6 -6.3M134.6 330.5l-8.7 -10.9M26.8 331.1l-6.3 -6.7M50.6 333.9l-8.6 -10.4M175.3 339.4l-11.1 -11.1"/>
<path stroke="#fff3f3" stroke-width="1.9" d="M104 334.5l-8.6 -9.8M32 333.4l-5.1 -5.6M137 333.4l-9.1 -12.4M69.8 335.9l-8.9 -9.9M74 335.7l-7.6 -10M47.3 328.8l-6.2 -7.8M58.2 328.1l-5.9 -8.2M186 337.9l-8.4 -11M176.7 340l-7.1 -7.4M200.9 338.2l-7.5 -8.8M150.8 341.3l-6.4 -7.3M157.2 337.8l-8.1 -9.9M162.7 339.7l-6.1 -8M169.2 337.5l-7.1 -7.5M182.2 339.6l-8.7 -9.4M199.1 338.2l-8.2 -10.1M229.6 332.7l-1.5 -1.9"/>
<path stroke="#fff3f3" stroke-width="1" d="M67.5 332.6l-8.4 -11.2M112 336.1l-7.6 -9.8M92.8 331.8l-5.6 -6.2M110.4 330.4l-5.7 -6M60.9 336.8l-8.1 -10.5M148.5 331.4l-7.2 -8.9M87.1 335.6l-11 -11M110.5 327.6l-6.5 -6.5M31.9 331.4l-6 -7.8M179.7 340.6l-6.3 -7.9M175.1 343.3l-9.4 -9.2M160.4 334.4l-5.6 -5.7M206.8 339.3l-9.1 -8.9M207.7 339.5l-6.9 -9.1"/>
<path stroke="#b70000" stroke-width="1" d="M123.5 333.1l-9.3 -12.3M192.3 337.7l-7.3 -9.8"/>
<path stroke="#c5c5ff" stroke-width="1.4" d="M112.6 336.5l-8.6 -11.9M78.5 334.2l-6.7 -7.3M98.9 330l-7 -9M125.8 330.3l-9.3 -11.4M35.5 327.6l-5.8 -6.9M30.8 333.9l-6.2 -7.3M78.9 333l-9.6 -10.7M44.2 328.3l-5.7 -7M106.9 329.3l-8.8 -9M50.8 335.7l-5.4 -7.9M183.5 342.8l-9.3 -9.8M157.7 336.7l-9.4 -10.1M201.7 337.6l-8.6 -12.6M179.1 335.9l-7.9 -9.6M185.1 337.1l-8.5 -12.1M215.2 336.6l-7.9 -9.7M164.4 335l-5.9 -6.2M216.1 335.6l-9.4 -9.2M157.8 342.4l-9.7 -10.5M156.7 341.5l-6.2 -8.7M164.2 337.8l-6.8 -6.9M190.1 336.2l-8 -9.2M172.6 336.3l-6.9 -6.7M202.7 340.5l-10.5 -11.2M180.3 335.7l-7.4 -9.1"/>
<path stroke="#ffacac" stroke-width="1" d="M92.1 327.8l-5.3 -5.8M132.6 327.7l-6 -7.7M132.7 336.2l-9.3 -11.2M139.9 336.4l-8.7 -10.6M114.8 333.5l-11.2 -10.9M91.5 336.4l-10 -10.3M61.4 333.1l-7.2 -7.8M107.8 331.2l-10.1 -11.7M164.9 339.2l-5.9 -7.9M148.7 343.1l-6.5 -8.6M178.7 341.6l-7.4 -9.1M198 335.6l-5.2 -5.5"/>
<path stroke="#a2a2ff" stroke-width="1" d="M106.3 333.1l-9.4 -9.9M41 333.6l-8.1 -10.2M73 332.1l-5.7 -8.2M47.9 333.8l-5 -6.7M89.8 331.7l-6.8 -7.2M107.8 330.5l-5.6 -6.4M129.2 327.8l-5.3 -5.6M84.3 328.3l-5.3 -6.5M194.9 337.7l-8.3 -10.5M202.9 338.4l-6.7 -6.7M147.2 344.5l-10 -11.7M211.6 334.9l-6.6 -6.9M230 331.7l-1.2 -1.3"/>
<path stroke="#ff2020" stroke-width="0.7" d="M76.6 334.9l-6.9 -8.8M62.7 334.5l-6.6 -8.8M83.1 331l-10.6 -10.3M36.3 335.5l-6.3 -8.9M202.5 340.2l-6 -7.4M175.2 337.4l-8.5 -9.8"/>
<path stroke="#000062" stroke-width="1" d="M179 336.3l-5.6 -5.5"/>
<path stroke="#940000" stroke-width="1" d="M99.4 328.1l-5.4 -5.9M68.8 329.7l-8.3 -11.6M106.4 330.6l-8.2 -9.4M99.4 332.5l-9.8 -10.7"/>
<path stroke="#a2a2ff" stroke-width="1.9" d="M68.2 332.9l-7.3 -10.2M109.7 332.8l-5.2 -5.7M73 331.5l-8.7 -9.5M85.1 332.4l-4.6 -5.5M148.9 329.3l-6.9 -7.6M207.4 335.1l-6.4 -8.1M195.2 338.8l-4.9 -5.3"/>
<path stroke="#0000c4" stroke-width="1" d="M81.9 332.4l-6.9 -7M150.4 329.6l-8.1 -10.9M196 344.5l-9.1 -12.8M175.6 342.4l-6.5 -9.5M231.4 333.1l-1 -1.3"/>
<path stroke="#940000" stroke-width="0.7" d="M111.8 332.8l-10.6 -11.5M41.2 335.2l-9.9 -11.6M37.6 335.1l-7.7 -10.9M200.4 334.9l-6.2 -7.1M162.1 341.3l-7.8 -8.1"/>
<path stroke="#ec0000" stroke-width="1" d="M84.5 333.2l-5.6 -6.7M42.7 332.1l-6.8 -8.9M104.3 336.2l-9.8 -11.6M147.1 342.1l-7.4 -10.1M167.3 337.9l-4.5 -6.6M205.1 335.7l-6.6 -8.9"/>
<path stroke="#fd0000" stroke-width="1" d="M57.7 330.6l-7.6 -7.6M71.6 336.6l-7.5 -10.3M145.2 333.3l-8 -9.5M86.1 333.3l-5.4 -6.4M198.8 342.9l-10.3 -10.6M191.4 336.9l-9.5 -10.2M201 337l-6.8 -6.8M157.3 337.8l-9.2 -10.2M175.9 340l-9.8 -9.5M167.8 339.8l-9.8 -11.4M212.3 340.4l-4.8 -6.4M150 337.7l-9.6 -12.5M160.5 338.5l-6.2 -7.3"/>
<path stroke="#ec0000" stroke-width="0.7" d="M103.7 330.8l-8.8 -10.3M40 334l-8.1 -10.4M120.8 333.2l-5.1 -6.8M99.9 336.5l-8.6 -12.7M176.6 342.1l-7.4 -10.8M205.3 337.1l-10.6 -11.3M191.9 339l-5.6 -6.5M222 333.5l-2.1 -2.2"/>
<path stroke="#c90000" stroke-width="0.7" d="M37.1 328.6l-7.7 -8.8M65.7 328.8l-8.5 -8.4M86 329.3l-7.3 -10.8M117.4 329.4l-5.3 -5.2M161.6 340.1l-8.4 -8.6M174.3 334l-5.6 -5.9M160.9 340.4l-8.6 -12.1M181 339.2l-5.4 -6.3M173.7 344.3l-9 -11.2M194.9 340.5l-9.6 -12.1M252.6 333.1l-1.1 -1.3"/>
<path stroke="#ffcfcf" stroke-width="1.9" d="M138.4 330.3l-8.9 -10.3M39.5 328.7l-5.1 -5.4M120.4 331.9l-7.8 -11.3M85.9 330.6l-4.5 -6.2M81.1 331.9l-9.3 -11.9M74.9 328.7l-7.2 -9M90.7 328.1l-8.1 -8.2M169.1 340.3l-5.6 -7.8M199.7 338.8l-8 -7.8M213.2 339.5l-5.5 -7.2M188.3 337.7l-9.7 -12M231.5 333.1l-1.5 -1.7M222.6 333.2l-1.3 -1.7"/>
<path stroke="#ffcfcf" stroke-width="1" d="M57.1 335l-9.4 -10.4M144.6 332.9l-5.6 -8.2M49.2 334.9l-7.3 -8.4M71.6 333.7l-7.2 -9.6M130.2 328.4l-6 -5.8M50.6 328.9l-9.6 -9.9M125.3 335.1l-7.9 -10.7M128.5 329.7l-6.8 -7M44.7 329.9l-4.6 -6.1M90.4 327.6l-6.4 -7M168.7 341.6l-5.4 -5.8M163.5 336l-5.5 -7.8"/>
<path stroke="#0000ac" stroke-width="0.7" d="M128 336.2l-7.8 -9.1M38.7 330.3l-4.6 -5.7M118.7 329.3l-6.2 -8.5M151.9 338.4l-5.6 -7.2M151.6 342.4l-9.3 -9.8"/>
<path stroke="#fd0000" stroke-width="0.7" d="M51 329.8l-5.7 -7.4M51.9 332.7l-10.2 -11.2M124.2 336.7l-8.5 -11.2M118.6 332.6l-10.3 -11.9M100.8 331.1l-4.7 -5.6M30.3 330.7l-6.2 -6.3M107.6 330.4l-8.6 -9.9M90.2 337l-10.6 -11.3M36.7 333.4l-6.1 -8.1M149.9 335.1l-6.8 -8.4M204.7 335.7l-7.1 -8.4M206.5 338.3l-5.4 -6.7"/>
<path stroke="#c90000" stroke-width="1" d="M65.9 331.1l-9.6 -12.2M117.1 333.9l-8.5 -12.3M140.5 333.7l-6.3 -7.6M212 333.3l-1.4 -1.5"/>
<path stroke="#000093" stroke-width="0.7" d="M67.9 329.8l-8 -10.3M172 341.5l-8.6 -9.1"/>
<path stroke="#ff4343" stroke-width="1" d="M143.7 331.3l-9.4 -11.9M28.1 332.7l-9.2 -11.9M40.3 330.9l-8.4 -8.8M63.5 332.4l-9.9 -11.4"/>
<path stroke="#5c5cff" stroke-width="1.9" d="M114.6 333l-6.6 -6.9M125.2 332.4l-8.9 -12.4M83.5 332.2l-6.6 -9.4M210.2 338.8l-10.1 -10M202 339.4l-9.3 -9.2M248.8 332.1l-1.6 -2.2"/>
<path stroke="#ffcfcf" stroke-width="1.4" d="M39.5 328l-7.1 -7M48.1 336.4l-11.2 -11M104.6 334.6l-9.5 -9.8M82.6 335.2l-6.8 -9.3M104.7 334.9l-6.3 -7.1M141.1 329.7l-5.9 -7.8M75.8 331.5l-7.3 -8.1M35.4 333.9l-4.5 -6.1M64.2 330.5l-8 -9.6M114.2 332.2l-5.4 -6.7M88.4 334.8l-7.5 -9.7M56.7 332.7l-8.4 -10M133.2 335.5l-9.2 -10.2M174.6 336.3l-4.9 -6.5M174.4 339.7l-8.2 -9.5M179.5 343.1l-9.8 -11M152.8 342l-6.3 -6.8M200 341.6l-8.3 -9.2M165 341l-6.4 -8.9M163.2 337l-6.6 -7.5M211.3 338.9l-6 -7.3M245.2 332.9l-1.6 -1.6M258.8 332.1l-1.8 -1.8"/>
<path stroke="#ff6666" stroke-width="1" d="M29.6 333.4l-7.3 -9.2M107.6 329l-5.2 -5.7M134.1 328.2l-6.8 -7M51.7 334.8l-5.5 -6.7M123.8 330.1l-4.6 -5.8M146.8 335.6l-6.2 -9M56.8 335.2l-6.9 -7.8M203.5 335.9l-5.8 -6.5M152.6 336.1l-4.2 -5.8M168 339.9l-6.6 -7.2M210.4 342.9l-8.4 -9.6M148.1 343.1l-8.8 -10.6M209.4 341.8l-6.9 -9.8M173.4 336.3l-5.5 -5.4M189.7 336.5l-4.5 -5.6M206 336.6l-7.5 -9.4"/>
<path stroke="#e8e8ff" stroke-width="1.9" d="M132.1 332.7l-6.3 -8.6M74 336.5l-9 -9.5M78.5 333.9l-7.1 -10.4M129.1 330.7l-5.7 -7.4M52.6 330.4l-8.3 -9.4M112.2 330.7l-6.1 -6.7M68.6 335.6l-10.9 -10.8M113.9 334.5l-5 -5.9M102.8 331.6l-7 -7M156.9 340.3l-7.9 -8.7M206 339.8l-6.3 -6.5"/>
<path stroke="#ff6666" stroke-width="1.9" d="M85.9 328.6l-7 -8.9M113.7 336.6l-8.7 -12.4M59.1 336.7l-7.8 -10.9M45.4 336.9l-8.8 -12.7M134.8 334.9l-9.1 -10.9M91.6 335l-9.9 -10M141 331l-7.2 -7.4M99.7 336l-6.3 -9M186.7 342.5l-9.9 -11.2M169 335.3l-5.1 -5.9M176.8 338.9l-5.3 -7.4M255.2 332.3l-1.1 -1.3"/>
<path stroke="#000062" stroke-width="0.7" d="M58.2 327.7l-6 -6.2M55.2 335.3l-9.5 -10.5M188.2 335l-4.3 -6.1"/>
<path stroke="#b70000" stroke-width="0.7" d="M64.7 330.7l-10.2 -12M147.2 335.2l-6.9 -7.7M178.1 334.7l-5.7 -5.6"/>
<path stroke="#000093" stroke-width="1" d="M84.5 327.4l-4.3 -6.3M209.8 334.7l-6.6 -6.7"/>
<path stroke="#ff2020" stroke-width="1" d="M95.3 333.1l-6.7 -9.1M67.7 330.2l-5.3 -6.1M128.7 328l-5 -6.3M146.2 334.6l-8.9 -12M185.7 339.5l-9.6 -12.4"/>
<path stroke="#00007b" stroke-width="1" d="M101.1 326.9l-4.6 -5.6M150.9 330.6l-9 -9M255.4 332.3l-1.5 -1.9"/>
<path stroke="#ff8989" stroke-width="1.9" d="M123.8 335.7l-8.5 -12.3M147.3 328.3l-6.1 -8M89.2 331.6l-8.2 -10.6M78 333.8l-5.3 -6.3M144.8 330.9l-8.7 -11.5M143.3 334.8l-6.4 -8M112.7 335.6l-8 -9.3M141.1 334.4l-9.3 -12.7M158.7 339.4l-7.3 -7.6M158.3 340.5l-4.9 -6.8M148.2 340.5l-5.4 -7.1M208.5 335.2l-5.2 -7.3M165.3 340.5l-5 -6.8M208.1 335.2l-5.5 -5.8"/>
<path stroke="#0000dd" stroke-width="0.7" d="M33 335l-6.1 -8.6M66.7 333.3l-8.6 -11.6M95.9 334.7l-9.6 -12.3M127 333.5l-5 -7.1M133.8 334.1l-9.4 -9.9M29.9 333.3l-7.9 -8.7M36 334.3l-5.9 -5.8M189 340.3l-7.5 -10.4M173.1 342.4l-9.3 -10.3"/>
<path stroke="#c5c5ff" stroke-width="1" d="M25.6 329.2l-6.3 -6.9M38.7 333.4l-8.4 -11.1M138.2 329.3l-5.8 -7.9M86.5 334.2l-5.4 -5.2M123.8 328.6l-4.8 -5.9M58.4 332.3l-5.1 -5.5M142.7 330.2l-9.1 -11.5M132.6 331.9l-8.6 -9.2M191.5 338.2l-5.7 -5.8M150.4 341.9l-7.5 -7.5M156.9 341.8l-4.6 -6.6M191.8 338.6l-5.9 -7.5M199.3 340.7l-4.3 -5.8M161.1 340.1l-5.3 -7.8M177.6 335.9l-5.3 -6.7M207.1 337l-8.9 -8.8M207.9 342.3l-6.9 -9M244.3 332.2l-1.4 -1.7"/>
<path stroke="#5c5cff" stroke-width="1" d="M108.4 333.9l-9.8 -11.7M95.7 332.6l-10.4 -11.4M95.1 335.1l-9.5 -9.3M125.5 329.4l-7.2 -9.3M69.8 335.5l-10.8 -11M106.4 333.7l-6.6 -8.3M159.1 340l-10.4 -11.8M151.4 334.8l-4.9 -7.3M163.7 338.3l-5.2 -7.7M166.4 337.6l-7.2 -7.9"/>
<path stroke="#c5c5ff" stroke-width="1.9" d="M69.5 335.3l-8.3 -9M115.7 334.9l-9.2 -10.5M34.3 332.6l-7.4 -8.8M117.1 336.1l-9.2 -9.5M149.5 336.8l-9.9 -10.9M82.4 327.9l-5.3 -6.7M88.3 327.7l-4.4 -6.4M104.4 332.4l-5.7 -7.3M181.6 341l-9.9 -10.8M179.6 338.1l-8.5 -9.4M208 341.6l-4.3 -6M183.5 342.7l-8.2 -10.1M218.8 332.3l-1.4 -1.6M233.8 332.7l-1.7 -2.4"/>
<path stroke="#1616ff" stroke-width="1" d="M63.4 333l-7.1 -7M179 343.1l-9.8 -10.7M213 338.7l-4.8 -5.8M176.9 335.6l-6.9 -7.1M233.2 333.3l-2.1 -2.5M261.4 332.2l-1.3 -1.4"/>
<path stroke="#ff8989" stroke-width="1" d="M111.7 331.4l-10 -11.6M29.7 328.5l-5.3 -6.2M89 329.3l-7.2 -9.4M50.6 334.1l-9.8 -9.7M132.6 336.8l-8.7 -12M70.3 335.7l-6 -8.2M48 334.9l-7 -8.3M113.4 331.1l-7.1 -9.7M42.1 327.5l-6.1 -6.3M54.6 334.4l-7.6 -8.3M150.1 332.1l-7.6 -9.3M53.4 334.2l-6 -7.8M30.7 327.5l-5.7 -6.7M134.4 328.2l-6.7 -8.5M147.9 337.2l-6.5 -7.4M155.9 337.8l-5.3 -6.3M194.9 337.3l-6.5 -7.9M172.8 338.8l-4.5 -6M153 342l-5.7 -6.5M192.4 339l-7.2 -8.4M155.5 341.7l-10.7 -10.3"/>
<path stroke="#0000f5" stroke-width="1" d="M198.1 337.8l-6.9 -7.9M223.6 333.5l-2 -2"/>
<path stroke="#3939ff" stroke-width="1" d="M143.6 336.1l-7 -9.2M88.3 331.3l-6.8 -9.9M80.8 331.2l-11 -10.8M195.5 339.7l-9.5 -11.9"/>
<path stroke="#7f7fff" stroke-width="1.4" d="M115 330.3l-5 -5.3M75.4 329.7l-6.7 -7.6M114.4 332.3l-9.3 -12.6M138.6 334.8l-5.9 -7.9M91.3 333.6l-4.3 -6.2M59.7 333.7l-5.2 -5.4M103.5 329l-9.2 -9.2M73.8 328.7l-8.5 -8.3M68 332.8l-4.8 -6.8M33.9 333.4l-10.7 -10.4M32.7 331.6l-8.7 -11M31.5 327.7l-5.1 -6.5M36.2 331.4l-8 -11.7M38.9 329.7l-6.4 -6.4M56.5 332l-5.2 -5.3M129.8 334.2l-6 -6.5M166.6 341.2l-6.3 -7.9M176.6 340.3l-6 -8.6M152.5 342.5l-8.4 -12.3M156.7 342.8l-8.7 -8.8M187.9 335l-5.6 -8.1M151.5 337.4l-6.9 -7.6M151.5 337.3l-6.5 -8.5M225.3 333.1l-1.8 -2.7M251.3 333.8l-2.3 -2.3M224.8 332.2l-2.2 -2.4"/>
<path stroke="#ff4343" stroke-width="0.7" d="M92.8 330l-6.7 -9.3M108.3 333.8l-4.9 -6.1M52.1 332.2l-5.1 -5.3M74.7 333.2l-8.1 -8.6M93.6 330.1l-8.8 -9.4M53.9 330.6l-8.6 -11.4M79.8 330.5l-4.2 -5.9M164.4 339.4l-9.9 -11.5M184.2 341.7l-8.8 -10.9"/>
<path stroke="#0000f5" stroke-width="0.7" d="M144.2 332.9l-9.7 -10.5M33.1 331.5l-7.8 -10.2M131.1 335l-10.5 -10.2M54.9 332.3l-6.9 -8.6M123.6 331.2l-5.9 -8M124.7 329l-6.4 -7.4M95.6 331.7l-5.5 -8.1M72.9 332.8l-6.9 -7.9M162.2 339.5l-6.5 -9M148.2 341.6l-6.6 -6.5"/>
<path stroke="#1616ff" stroke-width="0.7" d="M63.7 332.8l-8.6 -10.9M137.7 331.1l-6.2 -6.5M115.1 334.1l-10.2 -11.7M63.2 332.4l-9.2 -10M241.4 332.4l-2.1 -2.6"/>
<path stroke="#a2a2ff" stroke-width="1.4" d="M61 329.1l-6.1 -8.4M81.6 331.3l-7.2 -10M107.6 330.5l-9.8 -11.2M99.6 330.6l-8.9 -10.1M35.1 336.9l-8 -10.6M29.5 330.5l-8.1 -9.2M56.1 337.9l-9.1 -12.6M134.3 331.9l-7.5 -8.1M78.4 327.6l-5.8 -6M49 329.3l-9.3 -9.4M31.2 330l-6.2 -8.8M54.8 335.5l-7.7 -10.3M82.6 336.6l-8.5 -11.2M144.1 331l-6.4 -9.3M164.3 337.6l-6.5 -7.2M153.5 339.9l-7.7 -11.3M183.3 335.9l-5.7 -7.2M212 339.6l-6 -6.4M170.2 341.8l-8.8 -9.3M186.9 343.6l-10 -11.8M167 343.8l-8.8 -10.3M234.3 333.6l-2.4 -2.5M222.3 332.1l-1.9 -2.3M210.9 332.2l-1 -1.3"/>
<path stroke="#0000ac" stroke-width="1" d="M119.4 330.3l-8.3 -10.5M185.6 335.2l-6.1 -7.6"/>
<path stroke="#7f7fff" stroke-width="1.9" d="M25.1 329l-4.9 -7.2M35.8 332.7l-5.2 -7.1M116.1 332l-5.9 -8.6M40.1 330.1l-9.1 -12M146.9 331.3l-6.7 -8.5M60.2 330.3l-7.2 -9.6M67.3 335.6l-8.9 -12.8M73.1 329.9l-10.1 -10.7M97.8 331.6l-4.8 -5.3M49.9 337.1l-8.9 -10.9M121.6 334.2l-8.1 -11.9M102.9 333.4l-8.9 -10.7M187.6 342.5l-8.8 -12.7M203.5 342.2l-10.6 -11M160.7 339.8l-5.7 -7.4M185.9 344.2l-9.1 -11.8M149.9 342l-6.1 -8.1M159 335.7l-4.4 -6.4M213.5 332.5l-2 -2.4"/>
<path stroke="#da0000" stroke-width="1" d="M57.8 332.9l-5.3 -7.4M27.3 333.7l-9.4 -11.1M51.2 330.3l-9.2 -9.4M117.3 333.7l-9.4 -11.9"/>
<path stroke="#5c5cff" stroke-width="1.4" d="M113.4 330.4l-8 -10.8M78.6 331.8l-8.6 -9M78.4 334.8l-5.2 -6.7M65 328.1l-6.5 -6.8M75.4 331.1l-5.7 -7.1M101.4 328.3l-4.8 -6.9M117.5 333.4l-5.7 -7.8M121.7 332.4l-8.5 -11.1M33.3 327.1l-5.6 -6.1M49.8 334.2l-5.3 -7.3M143.2 334.6l-4.8 -5.6M161.9 335l-8 -8.1M194.6 336l-8.2 -8.7M154.3 334.9l-7.7 -7.5M191.7 341l-10.9 -10.6M221.1 333.2l-1.7 -1.8M241 331.7l-1.5 -1.5"/>
<path stroke="#a50000" stroke-width="1" d="M124.7 334.3l-9.3 -12M73.3 327.1l-4.8 -5.3M117.9 334.8l-9 -9.7M200 342.2l-6.8 -10"/>
<path stroke="#e8e8ff" stroke-width="1.4" d="M98.6 336.4l-7.5 -9.4M88.3 335.9l-7.6 -10.1M111.9 335.2l-8.5 -11.8M41.6 330.2l-9.5 -10.8M75.2 332l-9.5 -12.6M92.1 331l-5.9 -6.1M119.7 334.8l-5.6 -7.8M29.5 328.1l-6.9 -8.6M110.2 334.4l-9.1 -9.4M53.3 335.7l-7.1 -9.7M107.5 332.9l-6.3 -8M117.3 335.6l-9.9 -12.2M82.1 330.7l-5.9 -6.7M171.9 339.9l-5 -6.3M199.3 339.9l-5.2 -6M157.3 342.1l-7.6 -10.3M214.8 337.7l-7.4 -9.8M197 342l-7.3 -7.2M146 342.4l-6.7 -8.4M174.3 340.7l-8.1 -9.2M160.7 338.4l-6.2 -7.4M190.9 342.2l-8 -8.5M146.6 339.3l-5.8 -6.2"/>
<path stroke="#00007b" stroke-width="0.7" d="M69.6 333.3l-9.4 -11.4M142.6 334.7l-6.9 -9.4M92.1 333.8l-10.4 -11.7M149.8 334.6l-6.5 -8.4M88.7 330.3l-4.9 -7.2M189.4 333.9l-5.3 -5.2M186.1 336.8l-4.9 -6.5M155 338.3l-6 -7.2M191.6 335.8l-4.5 -6M239.3 332.3l-1.4 -2"/>
<path stroke="#0000c4" stroke-width="0.7" d="M85 329.8l-6.6 -9M89.1 334.1l-6.4 -7.4M60.6 335.9l-10.3 -10.8M63 328.7l-4.7 -6.2M49.7 333.3l-9.3 -10.3M208.3 341.8l-5.9 -8.1M173.4 340.6l-7.9 -9.6M182.3 342.9l-7.9 -8.1M210.2 338.1l-6.5 -8.7M245.4 332.9l-1.3 -1.7"/>
<path stroke="#ff8989" stroke-width="1.4" d="M78 334.7l-6.9 -9.4M41.4 334.8l-6.6 -9.3M104.3 333.6l-5.2 -5.8M144.7 329.7l-4.9 -5.7M114.2 332l-7.2 -7.3M35 332.2l-7.2 -10.5M53.4 335.1l-5.3 -7.2M131.7 331.4l-7.8 -8.8M148.5 334.3l-6.6 -6.9M76.6 329.6l-8.4 -11.6M147.4 335.2l-6.6 -7.7M79.4 333.5l-6.4 -6.2M107.6 330.8l-8.3 -10.5M29.8 329.8l-5.2 -7M77.5 336.8l-10.5 -10.7M125.7 333.4l-8.9 -10.5M108.1 330.6l-6.4 -7.1M189.7 339.4l-7.8 -9.1M160.7 336.3l-6.4 -9M148 343.7l-9.5 -9.8M188.4 337.2l-6.8 -7.1"/>
<path stroke="#fff3f3" stroke-width="1.4" d="M144.9 330.4l-9 -12.3M140.4 329.8l-5 -5.2M119.7 330.9l-8.3 -8.9M133 329.9l-4.6 -6.3M47.8 329l-7 -7.8M74.3 332.5l-8.2 -10.5M105.6 333.4l-6.2 -8.4M31.1 336.2l-8.6 -9M39.5 334l-4.8 -6.4M72.2 334.2l-8.5 -8.5M130.5 330l-5.7 -6.7M149.4 332.1l-9.4 -11.7M71.9 329.4l-5.3 -6.3M139.8 334.7l-6.3 -9.1M114.8 332.2l-5.4 -5.6M101.2 328.5l-5 -5.9M92.1 337.7l-8.3 -12.2M203.3 334.1l-5 -6.1M211.5 335.4l-4.9 -5.7M191.8 340.4l-6.3 -6.7M235.3 333.8l-2.3 -2.2"/>
<path stroke="#e8e8ff" stroke-width="1" d="M134.7 331.4l-7.3 -9.6M117.5 335.2l-9.3 -9.2M74.1 334.4l-8.5 -9.7M80.9 333.3l-7.8 -10.7M140.6 330.4l-9.3 -9.3M35.2 331.5l-5.5 -6.3M40.3 333.6l-5.2 -5.1M54.9 333.4l-10.5 -10.4M131.8 335l-6.7 -7.6M114.5 336.4l-7 -10.3M74.4 329.6l-8.2 -11.1M43.5 333.4l-8.5 -12.5M137.4 333.5l-8.8 -8.8M195.6 343.8l-9 -10.7M207.9 341l-9.6 -9.4M238.8 332.5l-2.4 -2.5"/>
<path stroke="#ffacac" stroke-width="1.9" d="M35 333.9l-4.6 -6.8M108.6 335l-7.2 -10.3M65.4 334.3l-5.1 -6.8M57.1 334.4l-8.1 -9.7M72.9 328.7l-5.2 -5.5M142.4 334.3l-8.2 -10.5M44.7 328l-5.4 -6.6M84 328.8l-4.4 -6.5M177 338.6l-9.6 -12M244.6 332.7l-1.5 -1.4M216.2 331.9l-1.5 -1.7M258.4 333.7l-1.7 -2.2"/>
<path stroke="#0000dd" stroke-width="1" d="M146.7 333.6l-5.8 -5.9M44.2 332.3l-10.3 -10.6M198 341.7l-7.6 -9.2M174.1 338.5l-8.2 -10.1M216.2 340.1l-9.5 -9.5M260.8 332.2l-2.1 -2"/>
<path stroke="#a50000" stroke-width="0.7" d="M67.6 333.3l-6.3 -7.1M58.4 331.2l-8.4 -11.3M69.2 331.1l-8.6 -11.4M169.2 341.3l-8 -11.9M147 341.2l-9.6 -9.4"/>
<path stroke="#ffacac" stroke-width="1.4" d="M150.6 334.8l-8.7 -10.5M110.2 333.7l-7.7 -11.1M131.1 330.3l-7.8 -8.7M101.5 327.9l-6.6 -7.9M134.5 333.9l-5.9 -8.4M116.6 331.4l-6.1 -8.5M54.8 334.4l-10.2 -11.4M74.9 332.2l-7.9 -10.3M52.7 332.3l-6.4 -8.6M134.2 335.8l-7.5 -9M59.9 333.6l-8.6 -9.4M47.5 335.1l-6.5 -6.8M96.9 330.2l-8 -10.2M149.7 330.7l-7.9 -9.2M101.9 331.3l-6.9 -6.8M179.9 340l-8.3 -10.7M173.6 341.9l-5.8 -7.7M209.2 339.6l-10.3 -10.6M153.7 338.7l-8.6 -10.5M181.3 334.9l-5.1 -6.2M177.8 339.7l-4.5 -5.8M165.5 341l-5.6 -7M162.4 339.7l-5.1 -6M214.8 337.4l-6.2 -7.8M172.8 341.8l-9.1 -9M212 338.6l-10.4 -10.9"/>
<path stroke="#ff6666" stroke-width="1.4" d="M130.4 331.8l-9.6 -9.8M80.1 330.1l-6 -7.2M144.4 333.1l-5.2 -5.4M52.8 330.7l-7.8 -10M74.1 331.3l-9.9 -11.9M56.4 330.7l-8.7 -8.5M47.2 329.3l-7.9 -8.6M42.9 329.8l-10 -10.1M78.9 334l-5.9 -6.3M50.8 328.5l-7.8 -9.2M88.5 330.6l-9 -11.8M205.3 338.5l-7.1 -7.5M199.1 339.9l-6.1 -8.8M170.8 336.4l-8.1 -10.3M207.5 340.4l-8.2 -10.5M207.9 335.2l-6.2 -6.2"/>
<path stroke="#3939ff" stroke-width="0.7" d="M109.8 331.8l-6.3 -7.2M116.5 331.9l-9.2 -10.2M81.1 334.3l-7.5 -8.5M124.7 335.3l-7.4 -8.7M173.5 342.1l-9 -11.5M204.4 340.5l-8.3 -9.2M259.2 331.8l-1.1 -1.4"/>
<path stroke="#da0000" stroke-width="0.7" d="M132.1 330.5l-6.8 -7.8M137.2 334.5l-8.1 -9.4M81.9 331.4l-9.4 -12.1M69.2 332.6l-8.2 -9.8M141.2 332.4l-5.4 -7.5M147.7 334.2l-10.8 -10.8M200.3 336.8l-6.2 -8.8M215.3 340.8l-8.3 -11.7M215.4 337.8l-6.1 -8.2M159.9 343.3l-9.7 -10.7M199.3 339.1l-10.1 -11.7"/>
<path stroke="#ff6666" stroke-width="1.4" d="M255.4 387h4.7"/>
<path stroke="#0000c4" stroke-width="1.4" d="M254 377.4h6.2"/>
<path stroke="#da0000" stroke-width="1.4" d="M253.2 362.6h6.9"/>
<path stroke="#c90000" stroke-width="1.4" d="M253.3 338.1h6.9M255 348.2h5.1"/>
<path stroke="#a50000" stroke-width="1.4" d="M257.2 373.1h3"/>
<path stroke="#7f7fff" stroke-width="1.4" d="M252.8 342.1h7.3"/>
<path stroke="#000093" stroke-width="1.4" d="M256.6 358.9h3.5"/>
<path stroke="#fff3f3" stroke-width="1.4" d="M255.1 346h5.1"/>
<path stroke="#ff8989" stroke-width="1.4" d="M256.5 363.8h3.7"/>
<path stroke="#fd0000" stroke-width="1.4" d="M257.3 370.1h2.9"/>
<path stroke="#e8e8ff" stroke-width="1.4" d="M256.5 385.7h3.7"/>
<path stroke="#940000" stroke-width="1.4" d="M254.8 367.3h5.3"/>
<path stroke="#7f7fff" stroke-width="1" d="M255.6 335.7h4.5M256.8 389.8h3.3M256.8 391.6h3.3"/>
<path stroke="#ff6666" stroke-width="1" d="M253 334.8h7.1"/>
<path stroke="#000062" stroke-width="1" d="M254.4 353.4h5.8"/>
<path stroke="#0000dd" stroke-width="1" d="M256.6 343.3h3.6"/>
<path stroke="#da0000" stroke-width="1" d="M255.5 360.2h4.6"/>
<path stroke="#00007b" stroke-width="1" d="M255.3 351h4.9M254.6 371.3h5.5"/>
<path stroke="#0000ac" stroke-width="1" d="M254.3 341.2h5.8"/>
<path stroke="#c90000" stroke-width="1" d="M257 352.5h3.1"/>
<path stroke="#c5c5ff" stroke-width="1" d="M255.6 366.4h4.5M255.4 380.2h4.7"/>
<path stroke="#a2a2ff" stroke-width="1" d="M254.6 375.6h5.6M256.6 390.7h3.5"/>
<path stroke="#0000c4" stroke-width="1" d="M255.9 372.2h4.2M256.2 379.3h3.9"/>
<path stroke="#ec0000" stroke-width="1" d="M254.1 333.9h6.1M253.9 388.2h6.3"/>
<path stroke="#fff3f3" stroke-width="1" d="M254 340.3h6.1M256.3 361.7h3.9"/>
<path stroke="#1616ff" stroke-width="1" d="M257 349.4h3.1M256.9 358h3.3"/>
<path stroke="#5c5cff" stroke-width="1" d="M256.8 337.2h3.3M254.1 339.4h6M256.7 381.1h3.4"/>
<path stroke="#ffacac" stroke-width="1" d="M257.1 356.2h3"/>
<path stroke="#a50000" stroke-width="1" d="M256.6 344.2h3.5"/>
<path stroke="#940000" stroke-width="1" d="M255.6 369.2h4.5M255.1 382.9h5"/>
<path stroke="#3939ff" stroke-width="1" d="M255.3 382h4.9"/>
<path stroke="#ff4343" stroke-width="1" d="M255 376.5h5.2"/>
<path stroke="#ff8989" stroke-width="1" d="M257.5 345.1h2.7M255.1 347.3h5M254.3 357.1h5.8"/>
<path stroke="#a50000" stroke-width="0.7" d="M253.1 350.3h7"/>
<path stroke="#fff3f3" stroke-width="0.7" d="M254 355.6h6.2"/>
<path stroke="#e8e8ff" stroke-width="0.7" d="M256.2 351.9h4M252.8 354.9h7.4M253.6 384.5h6.6"/>
<path stroke="#0000c4" stroke-width="0.7" d="M256.1 336.6h4"/>
<path stroke="#b70000" stroke-width="0.7" d="M257.6 385.1h2.5"/>
<path stroke="#ff6666" stroke-width="0.7" d="M257.3 354.3h2.8"/>
<path stroke="#7f7fff" stroke-width="0.7" d="M256.8 389.1h3.3"/>
<path stroke="#a2a2ff" stroke-width="0.7" d="M253.1 361.1h7M254.4 365.1h5.8M254.2 374.4h5.9"/>
<path stroke="#0000dd" stroke-width="0.7" d="M254.7 368.5h5.5M257.3 378.7h2.9"/>
<path stroke="#c5c5ff" stroke-width="0.7" d="M257.5 383.8h2.6"/>
<path stroke="#ffacac" stroke-width="0.7" d="M256.1 375h4"/>
<path stroke="#da0000" stroke-width="0.7" d="M254.9 365.7h5.2"/>
<path stroke="#ec0000" stroke-width="0.7" d="M256 333.2h4.2"/>
<path stroke="#1616ff" stroke-width="1" d="M23.9 328.7l6.9 -8.4M23.9 341.9l5.8 -4.9"/>
<path stroke="#c90000" stroke-width="1.4" d="M23.9 325.7l6.2 -7.9"/>
<path stroke="#fd0000" stroke-width="1" d="M23.9 357.7l4.2 -1.5M23.9 346.2l5.3 -4.3M23.9 325.5l6.1 -8.3M23.9 338.4l4.3 -3.5M23.9 331.4l5 -6.5"/>
<path stroke="#ff8989" stroke-width="0.7" d="M23.9 373.2l4.7 -1.3"/>
<path stroke="#a2a2ff" stroke-width="0.7" d="M23.9 349.7l6.3 -4.6"/>
<path stroke="#fff3f3" stroke-width="0.7" d="M23.9 350.5l4.5 -2.9M23.9 366.8l4.2 -1.7M23.9 367.2l10.2 -2.7"/>
<path stroke="#fff3f3" stroke-width="1.4" d="M23.9 327.5l3.9 -5.2M23.9 327.9l5.8 -6.9"/>
<path stroke="#da0000" stroke-width="0.7" d="M23.9 338.9l3.5 -3.6"/>
<path stroke="#ff2020" stroke-width="1" d="M23.9 342l3.1 -2.9M23.9 329.3l5.9 -6.5"/>
<path stroke="#ff2020" stroke-width="1.4" d="M23.9 341.6l3.7 -3.2M23.9 368.3l9.1 -3.6"/>
<path stroke="#ffacac" stroke-width="1.4" d="M23.9 370.8l7.5 -1.8M23.9 330.6l6.7 -7.7"/>
<path stroke="#00007b" stroke-width="1.4" d="M23.9 364.9l6.6 -2.5M23.9 355.5l4.6 -2.6"/>
<path stroke="#5c5cff" stroke-width="0.7" d="M23.9 346.5l7.8 -5.7M23.9 368.9l7.3 -2.4M23.9 354.6l6.9 -3.4"/>
<path stroke="#5c5cff" stroke-width="1.4" d="M23.9 334.9l4.4 -5.5"/>
<path stroke="#0000ac" stroke-width="1.4" d="M23.9 350.3l6.5 -4.2"/>
<path stroke="#00007b" stroke-width="1" d="M23.9 342.5l4.4 -3.6"/>
<path stroke="#0000dd" stroke-width="1" d="M23.9 365.8l4.5 -1.1M23.9 359.9l8.8 -4.9"/>
<path stroke="#5c5cff" stroke-width="1" d="M23.9 363.9l8 -2M23.9 340.5l6.5 -5.7"/>
<path stroke="#a2a2ff" stroke-width="1" d="M23.9 351.9l7.4 -5.3M23.9 359.9l3.9 -2.2M23.9 326.2l4.1 -5.5M23.9 337.2l4.9 -5.6M23.9 345.3l7.7 -5.6"/>
<path stroke="#da0000" stroke-width="1" d="M23.9 370.2l10.1 -2.6M23.9 332.5l7.2 -7.2"/>
<path stroke="#ffacac" stroke-width="0.7" d="M23.9 368.1l9 -3.1"/>
<path stroke="#0000dd" stroke-width="0.7" d="M23.9 324.4l5.7 -8.4"/>
<path stroke="#000062" stroke-width="1.4" d="M23.9 332.7l3 -2.7"/>
<path stroke="#940000" stroke-width="0.7" d="M23.9 339.8l7 -6.6"/>
<path stroke="#ff4343" stroke-width="0.7" d="M23.9 348.6l6.3 -3.9"/>
<path stroke="#0000c4" stroke-width="1" d="M23.9 356l6.3 -2.8"/>
<path stroke="#a2a2ff" stroke-width="1.4" d="M23.9 330.2l3.2 -4.5"/>
<path stroke="#0000f5" stroke-width="0.7" d="M23.9 324.8l5 -7.9"/>
<path stroke="#c5c5ff" stroke-width="0.7" d="M23.9 325.3l4.5 -6.6"/>
<path stroke="#ff4343" stroke-width="1.4" d="M23.9 360.5l6.6 -3.5"/>
<path stroke="#ff6666" stroke-width="1.4" d="M23.9 366.9l7.6 -2.7M23.9 364.9l6.4 -2.8"/>
<path stroke="#fd0000" stroke-width="0.7" d="M23.9 370.1l9.7 -2"/>
<path stroke="#ff8989" stroke-width="1.4" d="M23.9 353.3l8.4 -4.1M23.9 359.1l6.5 -2.6M23.9 345.9l6 -4.1"/>
<path stroke="#1616ff" stroke-width="0.7" d="M23.9 359.5l4.9 -2.8M23.9 349.3l6.6 -4.9M23.9 361.4l9.8 -4.8"/>
<path stroke="#c90000" stroke-width="1" d="M23.9 370.4l7.8 -1.5M23.9 334.9l5.6 -5.8"/>
<path stroke="#ffcfcf" stroke-width="1" d="M23.9 331.1l2.9 -3.7M23.9 340.7l4.8 -4M23.9 369.8l8.9 -2.1"/>
<path stroke="#fd0000" stroke-width="1.4" d="M23.9 329.9l6.3 -7"/>
<path stroke="#a50000" stroke-width="1" d="M23.9 350l7.8 -4"/>
<path stroke="#c5c5ff" stroke-width="1" d="M23.9 349l6.7 -4M23.9 361.5l8.3 -4.1M23.9 331.4l6.9 -7.6M23.9 344.5l7.6 -6.9M23.9 354.6l4.4 -2.2"/>
<path stroke="#3939ff" stroke-width="0.7" d="M23.9 331.7l4.1 -5"/>
<path stroke="#940000" stroke-width="1.4" d="M23.9 364.4l6.2 -2.6"/>
<path stroke="#ff6666" stroke-width="1" d="M23.9 344.7l5.7 -3.7M23.9 371.4l4.4 -0.8M23.9 340.4l5.8 -5"/>
<path stroke="#ff6666" stroke-width="0.7" d="M23.9 331.2l4.2 -5.3M23.9 365.1l10 -4.4"/>
<path stroke="#ff2020" stroke-width="0.7" d="M23.9 338.1l7.9 -6"/>
<path stroke="#fff3f3" stroke-width="1" d="M23.9 364.6l5.4 -2.1M23.9 369.7l7.1 -1.5M23.9 333.7l7.2 -7.8M23.9 363.7l4.7 -1.5"/>
<path stroke="#da0000" stroke-width="1.4" d="M23.9 337.5l2.9 -3.1M23.9 358.1l10 -3.6"/>
<path stroke="#1616ff" stroke-width="1.4" d="M23.9 364.5l9 -2.8"/>
<path stroke="#e8e8ff" stroke-width="1" d="M23.9 330l5.9 -8.2M23.9 362.5l6.2 -2.7"/>
<path stroke="#ffcfcf" stroke-width="0.7" d="M23.9 354.6l8.5 -4.2M23.9 366.1l5.9 -2.2M23.9 358.8l9.8 -3.5"/>
<path stroke="#ffcfcf" stroke-width="1.4" d="M23.9 366.7l4.5 -1.3M23.9 334.1l5.5 -6.5"/>
<path stroke="#0000c4" stroke-width="0.7" d="M23.9 343.9l4.2 -2.8"/>
<path stroke="#ff8989" stroke-width="1" d="M23.9 371.2l5.1 -1.8"/>
<path stroke="#7f7fff" stroke-width="1" d="M23.9 362.9l4.8 -1.3M23.9 351.5l8.6 -5.9M23.9 342.1l4.3 -3.9M23.9 329l3.6 -4.5M23.9 372.1l7.9 -2.1M23.9 343.1l5.9 -5.3"/>
<path stroke="#ec0000" stroke-width="1.4" d="M23.9 331.8l2.6 -3.5"/>
<path stroke="#3939ff" stroke-width="1.4" d="M23.9 369.7l6.1 -1.1"/>
<path stroke="#7f7fff" stroke-width="1.4" d="M23.9 364.9l6.4 -2.2M23.9 354.2l6.9 -3.5M23.9 323.9l3.8 -5.2"/>
<path stroke="#0000ac" stroke-width="1" d="M23.9 366.3l4.8 -1.3"/>
<polygon fill="#860000" points="210.2,333.1 225.5,333.7 240,332.5 241.5,337.6 225.5,336.6 215.3,335.2"/>
<polygon fill="#860000" points="211.6,333.4 229.1,332.8 256.7,332.3 257,335.5 255.3,338.4 236.4,337.2 217.5,335.2"/>
</g></g>
<rect x="22.5" y="320.8" width="238.9" height="95.1" fill="none" stroke="#000" stroke-width="0.5"/>
<g font-family="'DejaVu Sans','Liberation Sans',sans-serif" font-size="6.7" fill="#111" stroke="#000" stroke-width="0">
<text x="61.7" y="426.4" text-anchor="middle">100</text>
<text x="100.9" y="426.4" text-anchor="middle">200</text>
<text x="140.0" y="426.4" text-anchor="middle">300</text>
<text x="179.2" y="426.4" text-anchor="middle">400</text>
<text x="218.4" y="426.4" text-anchor="middle">500</text>
<text x="257.6" y="426.4" text-anchor="middle">600</text>
<text x="18.1" y="399.4" text-anchor="end">50</text>
<text x="18.1" y="379.7" text-anchor="end">100</text>
<text x="18.1" y="360.1" text-anchor="end">150</text>
<text x="18.1" y="340.5" text-anchor="end">200</text>
<path d="M61.7 415.9v2.2M100.9 415.9v2.2M140.0 415.9v2.2M179.2 415.9v2.2M218.4 415.9v2.2M257.6 415.9v2.2M20.3 396.9h2.2M20.3 377.2h2.2M20.3 357.6h2.2M20.3 338.0h2.2" stroke-width="0.6"/>
</g>
<text x="135.8" y="439.7" text-anchor="middle" font-family="'Liberation Serif',serif" font-size="12" fill="#000">(<tspan font-weight="bold">e</tspan>)</text>
<rect x="301.7" y="319.8" width="243.1" height="96.4" fill="#860000"/>
<clipPath id="kf">
<polygon points="303.9,322.3 303.9,390.5 318,393.5 335,397.9 344.5,399.7 352.5,398.9 360.8,396.1 371.2,398.5 382.4,399.9 393.1,399.1 400.7,396.1 411,398.5 422.2,399.9 432.9,399.1 440.5,396.1 450.9,398.5 462,399.9 472.8,399.1 480.3,396.1 490.7,398.5 501.8,399.9 512.6,399.1 519,396.9 535.7,393.9 542.1,391.7 542.1,331.6 508.6,331.6 508.6,322.3"/>
</clipPath>
<g clip-path="url(#kf)"><g fill="none" filter="url(#jag)">
<polygon points="303.9,322.3 303.9,390.5 318,393.5 335,397.9 344.5,399.7 352.5,398.9 360.8,396.1 371.2,398.5 382.4,399.9 393.1,399.1 400.7,396.1 411,398.5 422.2,399.9 432.9,399.1 440.5,396.1 450.9,398.5 462,399.9 472.8,399.1 480.3,396.1 490.7,398.5 501.8,399.9 512.6,399.1 519,396.9 535.7,393.9 542.1,391.7 542.1,331.6 508.6,331.6 508.6,322.3" fill="#f6c4c8"/>
<path stroke="#c90000" stroke-width="9" d="M303.3 372.8l6.9 -16.5 6.4 -16.7M399.8 403.8l9.3 -22.8 9.7 -22.6M401.2 336.1l5.1 -13 5.6 -12.8"/>
<path stroke="#0000f5" stroke-width="9" d="M447 338l4.7 -15.3 4.7 -15.3M333.9 352.8l7.6 -20 6.6 -20.3M537.7 383.1l5 -11.9 4.4 -12.1"/>
<path stroke="#b70000" stroke-width="9" d="M403.3 339.5l6.7 -14.2 8.1 -13.4"/>
<path stroke="#000093" stroke-width="9" d="M430.1 391.1l5.6 -16.5 6.7 -16.1"/>
<path stroke="#ffcfcf" stroke-width="9" d="M369 379.9l5.6 -11.5 5.3 -11.6M336.3 348.6l9 -18.3 9.3 -18.1M514.3 382.2l7.6 -21.1 8.8 -20.7"/>
<path stroke="#a2a2ff" stroke-width="9" d="M438.8 392.2l9 -22.4 7.9 -22.8M357 372.3l5.3 -18.9 6.9 -18.4"/>
<path stroke="#fff3f3" stroke-width="9" d="M428.3 351.6l8.4 -21.5 9.3 -21.1M447 363.7l5.1 -14.2 5.7 -14M441.7 378.1l8.9 -16.8 9.3 -16.6M365 359.2l8.2 -20.7 7.7 -20.9M314.9 362.7l6.7 -11.8 6.9 -11.7"/>
<path stroke="#fd0000" stroke-width="9" d="M403.8 382.2l5 -14.3 5.1 -14.3"/>
<path stroke="#ff4343" stroke-width="9" d="M434.7 337.9l3.1 -12.4 3.1 -12.4"/>
<path stroke="#0000c4" stroke-width="9" d="M352.6 355.2l7.6 -15.5 8.3 -15.2M530.9 341.5l6.2 -14.7 4.8 -15.2"/>
<path stroke="#da0000" stroke-width="9" d="M292.7 385.2l7.2 -17.6 6.7 -17.7M524.4 389.7l3.9 -11.8 3.8 -11.8"/>
<path stroke="#ffacac" stroke-width="9" d="M318.1 386l10.2 -19.9 9.7 -20.2"/>
<path stroke="#1616ff" stroke-width="9" d="M398.7 393.8l5.9 -18.1 4.5 -18.5M329.9 388.3l10.2 -19.1 7.5 -20.3"/>
<path stroke="#ec0000" stroke-width="9" d="M342.9 370.3l5.5 -12.7 5.5 -12.7M533.2 347.7l6.7 -13.3 7.6 -12.8M365 353.4l8.3 -22.9 9.7 -22.3"/>
<path stroke="#5c5cff" stroke-width="9" d="M476.8 388.4l9.1 -22.3 8.5 -22.5M410.6 344.7l5.2 -15.9 5.6 -15.8"/>
<path stroke="#ff8989" stroke-width="9" d="M500.9 370.9l5.1 -11.5 4.7 -11.7M335.2 356.7l5.8 -23.7 8.2 -23"/>
<path stroke="#3939ff" stroke-width="9" d="M371.5 364.2l7.5 -16.2 8 -15.9"/>
<path stroke="#7f7fff" stroke-width="9" d="M290.8 388.4l11 -22 11.3 -21.9"/>
<path stroke="#940000" stroke-width="9" d="M346.2 341.8l5.9 -19 5.9 -19"/>
<path stroke="#0000ac" stroke-width="9" d="M417.4 341.7l5.9 -17.4 6 -17.4"/>
<path stroke="#ff6666" stroke-width="9" d="M392.4 351.4l9.7 -21.4 10.1 -21.2"/>
<path stroke="#ff2020" stroke-width="9" d="M379.2 399.3l8 -19.9 6.5 -20.5"/>
<path stroke="#e8e8ff" stroke-width="7" d="M510.6 369.2l10 -22.5 10.2 -22.4M456.9 392.4l6.3 -18.9 5.1 -19.2M492.3 362.9l7.8 -20 7.8 -20M430 371.5l9.3 -17.1 9.2 -17.1M471.9 381.1l8.3 -17.3 8.9 -17.1"/>
<path stroke="#c90000" stroke-width="7" d="M367.5 345.9l6.5 -10.7 5.9 -11.1M307 340l5.7 -16.5 4.8 -16.8M487 392.1l8.3 -16.9 6.7 -17.5M430.7 349.3l6.2 -17.5 6.7 -17.4M456 335.9l4.2 -11.7 4 -11.8"/>
<path stroke="#1616ff" stroke-width="7" d="M529.8 358.4l6.6 -13.8 7.6 -13.3M456.9 342.5l6.7 -19.3 8.8 -18.4"/>
<path stroke="#da0000" stroke-width="7" d="M423.6 378.7l9.2 -19.2 10 -18.9M473.7 382.7l9.9 -20.5 10.3 -20.3"/>
<path stroke="#0000ac" stroke-width="7" d="M364.6 368.6l7.8 -23.7 7.7 -23.7M307 366.3l5.4 -14.9 5.6 -14.8M534 380.3l5.9 -12.3 5.1 -12.7"/>
<path stroke="#7f7fff" stroke-width="7" d="M510.2 360.6l4.1 -11.8 3.9 -11.8"/>
<path stroke="#a2a2ff" stroke-width="7" d="M494.3 394.1l7.1 -16.4 7.4 -16.3M298.9 357.4l7.9 -22.6 6.1 -23.1"/>
<path stroke="#0000f5" stroke-width="7" d="M346.5 359.2l7.8 -21.1 8.9 -20.7M333.9 355.1l9.4 -23 9.9 -22.8"/>
<path stroke="#ff2020" stroke-width="7" d="M363.9 388.9l5 -12.8 4.7 -12.9"/>
<path stroke="#00007b" stroke-width="7" d="M402.6 385.4l5.5 -14.7 5.7 -14.6"/>
<path stroke="#ff8989" stroke-width="7" d="M340.7 396.8l7 -22.8 7 -22.8M378.1 378l6.2 -11.9 6.2 -11.8"/>
<path stroke="#3939ff" stroke-width="7" d="M454.4 384.6l6.2 -19.6 6.8 -19.4"/>
<path stroke="#fff3f3" stroke-width="7" d="M496.3 379.4l6.8 -18.7 6.9 -18.6M475.7 361.3l10.7 -20 11.2 -19.7M516.3 367.3l8.8 -19 8.5 -19.1"/>
<path stroke="#ec0000" stroke-width="7" d="M453.4 374.6l7.1 -17.6 6.3 -17.9"/>
<path stroke="#ff6666" stroke-width="7" d="M297.2 375.7l3.4 -15 4.9 -14.6M369.5 337.9l5.4 -11.8 6.3 -11.4"/>
<path stroke="#0000c4" stroke-width="7" d="M330 398.9l8.5 -20.4 6.8 -21M301 364.7l5.8 -15.6 5.8 -15.6"/>
<path stroke="#940000" stroke-width="7" d="M471.7 392.5l7.9 -16.6 5.8 -17.4"/>
<path stroke="#ff4343" stroke-width="7" d="M411.6 361.1l7.6 -23.8 7.9 -23.7M519.7 371.8l11.3 -21.5 12.2 -21M368 371l6 -11.3 5.6 -11.6"/>
<path stroke="#5c5cff" stroke-width="7" d="M305.1 364.2l6.2 -16.9 6.3 -16.8M348.3 362.7l5.3 -12 5.1 -12.1"/>
<path stroke="#ffacac" stroke-width="7" d="M450.1 366.9l6.2 -16.3 5.6 -16.5M318.6 357.1l4.4 -12.2 4.5 -12.2M360.7 390.1l6.8 -22.1 6.6 -22.2M313.5 349.8l7.3 -20.7 8.9 -20.1"/>
<path stroke="#fd0000" stroke-width="7" d="M395.3 352.6l9.2 -16.3 7.2 -17.3M343.3 382.1l5.6 -16.2 5.3 -16.3M292.7 351.1l6.7 -16.6 8.1 -16M456.3 356.9l11.9 -21 11.3 -21.3M494.8 340l4.3 -17.1 4.4 -17.1"/>
<path stroke="#ff6666" stroke-width="5.5" d="M326.2 346.7l8.1 -14.3 7.9 -14.4M409.6 374.1l4 -12.2 4.7 -12M355.1 359.2l6.6 -23.5 6.1 -23.7M407.4 356.1l6.4 -13.1 6.2 -13.2M509.1 367.3l11.4 -20.3 10.5 -20.7M308.6 390.9l5.6 -13.3 4.8 -13.6"/>
<path stroke="#00007b" stroke-width="5.5" d="M519.7 382.7l3.4 -12.3 3.4 -12.3"/>
<path stroke="#1616ff" stroke-width="5.5" d="M394.6 350.8l5.6 -22.4 7.7 -21.7M298.1 359.1l5.5 -14 5.6 -14M411.1 349.4l7.7 -23.6 7.6 -23.7"/>
<path stroke="#000093" stroke-width="5.5" d="M425.2 354.6l8.2 -18.2 9 -17.8M527.3 391.8l6.3 -20.8 6.3 -20.8"/>
<path stroke="#e8e8ff" stroke-width="5.5" d="M421.7 350.4l5.8 -15.1 5.5 -15.2M454 364.3l6.2 -12.9 7 -12.4M318.3 352.7l9.4 -18.4 8.3 -18.9"/>
<path stroke="#c90000" stroke-width="5.5" d="M400.7 382.6l6.4 -23.9 7.9 -23.4M394.3 365.4l6.6 -15.9 6.7 -15.8M399.8 382l3.6 -12.2 3.4 -12.3M464 344.6l8.5 -16.9 8.9 -16.7M448.3 374.5l8.4 -16.9 6.4 -17.8"/>
<path stroke="#fd0000" stroke-width="5.5" d="M520.5 362l5.6 -20.1 6.8 -19.8M475.6 345.6l6.5 -13.7 6.3 -13.8M396.7 367.7l5.3 -16.6 5.2 -16.7M307.8 362.9l3 -12 3.6 -11.8M457.4 365.2l7.2 -15.4 8.6 -14.7M315.7 370.7l6.8 -17.4 6.7 -17.4M401 401.1l9.5 -19.3 10.1 -18.9"/>
<path stroke="#b70000" stroke-width="5.5" d="M450 387.4l3.2 -12.7 4.3 -12.4M394.3 365l5.5 -13.3 6.1 -13"/>
<path stroke="#a50000" stroke-width="5.5" d="M439.2 403l8.7 -21.7 7.3 -22.2"/>
<path stroke="#ff2020" stroke-width="5.5" d="M428.4 387.8l8.7 -23.1 7.3 -23.6M400.8 365.7l8.7 -21.3 8 -21.6M375.7 373.9l8.1 -21.6 9.4 -21.1"/>
<path stroke="#000062" stroke-width="5.5" d="M477.2 384.1l8.1 -19.2 6.9 -19.6"/>
<path stroke="#5c5cff" stroke-width="5.5" d="M427.1 360.9l7.1 -17.1 6 -17.5M335.1 372.4l4.2 -13.8 4.8 -13.5M372.6 364.8l7.5 -23.1 8.5 -22.8M448.6 358.4l5.1 -15.5 5.6 -15.3M464.7 384.6l3.4 -14.2 4.3 -13.9"/>
<path stroke="#c5c5ff" stroke-width="5.5" d="M392.6 377.4l8.7 -17.1 9.7 -16.5M446.1 343.2l6.3 -13.8 6.2 -13.8M407.1 349l9.7 -16.2 9.1 -16.5M444.3 370.7l5.1 -20.5 5.6 -20.3M540.6 337.1l4.7 -13 3.6 -13.3M482.6 379.7l9.6 -22.3 8.1 -22.8"/>
<path stroke="#a2a2ff" stroke-width="5.5" d="M516.5 349.5l10.9 -19.2 9.6 -20M522.2 394.7l5.9 -22.8 7.3 -22.4M413.9 368.2l8.6 -17.2 9.2 -16.9"/>
<path stroke="#ec0000" stroke-width="5.5" d="M472.3 360.8l12.3 -20 12.2 -20.1M375.2 340.9l5.5 -13.3 6.7 -12.8M395.9 348.4l6.6 -16.4 7.5 -16M311.4 402.6l7.4 -22.1 7.3 -22.1"/>
<path stroke="#0000ac" stroke-width="5.5" d="M364.2 385.2l5.8 -10.7 6.1 -10.6"/>
<path stroke="#0000c4" stroke-width="5.5" d="M313.2 397.3l8.4 -19.3 7.3 -19.7M311.9 375.3l6.1 -18 6 -18.1M365.4 371.9l4.9 -14.5 5.6 -14.2M527.8 352.7l7 -18.8 6.2 -19.1"/>
<path stroke="#ffcfcf" stroke-width="5.5" d="M535.1 377.6l8 -20.3 8.2 -20.2M313.9 366.1l9.1 -16.3 8.3 -16.8M408.5 339.8l5.7 -12.8 7.2 -12M342.6 369.4l6.7 -15 5.2 -15.5"/>
<path stroke="#0000dd" stroke-width="5.5" d="M334.6 340.2l6 -13.4 6 -13.4M345.9 346.8l7.5 -16.3 7.4 -16.4M421.9 366.7l5.3 -16.2 4.7 -16.4M497.7 338.9l5.2 -14.6 7 -13.8M512 399.9l6.2 -20.3 6.6 -20.1M529.2 396.9l4.9 -15 5.4 -14.8"/>
<path stroke="#ff8989" stroke-width="5.5" d="M393.4 349.2l4 -11.5 3.8 -11.6M458.2 350.9l9.5 -20.1 10.3 -19.6M399.9 351.1l5.8 -14.2 5.3 -14.5M501.2 359.6l5.6 -15.2 4.9 -15.4M521.9 375.1l5.5 -22.4 6.6 -22.1"/>
<path stroke="#0000f5" stroke-width="5.5" d="M453.7 347.3l6.9 -17.1 6.3 -17.3M352.6 372.1l7.6 -12.9 7.4 -13M333 359.8l6.4 -11.8 6.8 -11.5M507.5 366.6l8.9 -23.1 8.3 -23.3"/>
<path stroke="#3939ff" stroke-width="5.5" d="M430.6 359l9.7 -22.3 8.3 -22.8M339.4 345.9l4.1 -12.6 5.1 -12.3M293.7 357.4l8.2 -19.5 9.3 -18.9M502.8 376.8l3.1 -12.8 3.4 -12.8M380.2 369.2l7.4 -23.7 8.1 -23.5M512.7 382l5.3 -21.4 4.7 -21.5"/>
<path stroke="#fff3f3" stroke-width="5.5" d="M339.4 352.7l4.9 -16.6 6.1 -16.2M441.1 388.2l6.1 -18.3 6 -18.3M401.7 352.3l4.7 -13.8 4.7 -13.8M299.1 363.5l4.8 -11.8 4 -12.1M473.4 360.2l5.4 -12.5 5.5 -12.5"/>
<path stroke="#ffacac" stroke-width="5.5" d="M512.2 392.1l7.3 -21.7 9.2 -20.9M356.4 343l6.6 -14.5 7 -14.4"/>
<path stroke="#da0000" stroke-width="5.5" d="M382.3 390.1l4.9 -12.4 5.2 -12.3M477.8 368.8l7.6 -19 7.8 -18.9"/>
<path stroke="#7f7fff" stroke-width="5.5" d="M461 338.8l6.1 -13 5.7 -13.1M341.9 347.1l6 -13.1 6.3 -13M492.3 370l4.2 -13.4 4.6 -13.3M319.9 356.8l7.3 -15.6 5.8 -16.2M354.9 346.3l5.7 -16 5.8 -16M289.7 348.9l10.8 -22.2 11 -22.1M526.1 381.8l6.3 -13.8 4.6 -14.5M357 351.1l10.8 -19.3 10 -19.7"/>
<path stroke="#ff4343" stroke-width="5.5" d="M295.7 371.8l3.3 -11.7 3 -11.8M439.6 353.6l10.3 -21.6 12.1 -20.6M402.7 351.5l8.8 -20.6 8.9 -20.6"/>
<path stroke="#1616ff" stroke-width="4.2" d="M450.7 365.1l7.8 -23.5 7.7 -23.5"/>
<path stroke="#c5c5ff" stroke-width="4.2" d="M318.7 362.1l9.9 -20.9 10.1 -20.8M329 373.8l7.2 -20.7 5.4 -21.3M437.9 388.3l6.1 -19.1 6.3 -19"/>
<path stroke="#5c5cff" stroke-width="4.2" d="M440.9 365.3l11 -20 9.1 -20.9M531.4 382.9l5 -11.3 6.3 -10.6"/>
<path stroke="#fff3f3" stroke-width="4.2" d="M464.8 363.4l8.8 -15.9 8.8 -15.9"/>
<path stroke="#ff4343" stroke-width="4.2" d="M363 377.6l9.3 -17.7 8.4 -18.2M443.2 372.2l6.1 -19.8 6.8 -19.6M299.7 367.2l7.2 -16.5 7.7 -16.3M475.3 400.4l9.3 -22.5 6.5 -23.4"/>
<path stroke="#a2a2ff" stroke-width="4.2" d="M354.5 339.5l8.3 -14 8.2 -14.1"/>
<path stroke="#0000f5" stroke-width="4.2" d="M304.1 364l9.4 -22.3 10.1 -22"/>
<path stroke="#7f7fff" stroke-width="4.2" d="M481.8 361.9l6.6 -18.8 8.8 -17.8M448.4 374.6l6.6 -12.6 6.3 -12.7M496 368.2l6.4 -17.9 6.2 -18M376.9 356.9l3.6 -13.1 4.2 -12.9"/>
<path stroke="#e8e8ff" stroke-width="4.2" d="M519.2 339.4l7.5 -14 8.2 -13.6M366.8 370.7l7.4 -17.9 8.4 -17.5M490.9 350l8.9 -16.6 7.5 -17.3"/>
<path stroke="#0000dd" stroke-width="4.2" d="M300.1 367.9l6.2 -19.8 7.2 -19.4M455.7 374.6l5.5 -21.3 6.8 -20.9M413.9 363.7l5.9 -11.9 5 -12.3M514 385.6l6.1 -17.2 5.3 -17.5"/>
<path stroke="#ff6666" stroke-width="4.2" d="M482.7 353.5l4.6 -11.7 4.3 -11.8M324.4 397l7.3 -17.1 7.8 -16.9M442.8 352.1l7.3 -15.4 7.5 -15.2"/>
<path stroke="#da0000" stroke-width="4.2" d="M345.2 380.9l7.2 -14.6 7.5 -14.4M324.1 352.1l4.5 -14.6 4.8 -14.6M488.6 338.7l6 -15.1 6 -15.1"/>
<path stroke="#ffacac" stroke-width="4.2" d="M480.1 364.2l5.4 -17.4 6.2 -17.1"/>
<path stroke="#b70000" stroke-width="4.2" d="M459.5 377.1l5 -15.9 5.2 -15.8"/>
<path stroke="#3939ff" stroke-width="4.2" d="M383.3 392.5l6.5 -14.8 5.7 -15.2"/>
<path stroke="#ffcfcf" stroke-width="4.2" d="M393 336l5.3 -12.8 5.2 -12.9M403.9 379.5l5.4 -14.8 3.8 -15.2M475.5 351.4l11 -19.1 11.1 -19M395.5 380.9l5.4 -19.2 6.3 -18.9"/>
<path stroke="#c90000" stroke-width="4.2" d="M326.6 386.8l7.7 -18.9 6.3 -19.4"/>
<path stroke="#ff8989" stroke-width="4.2" d="M445.3 358.7l8 -19.6 7.4 -19.8M344.1 373.2l4.9 -13.7 5.3 -13.6M457.1 344.5l5.6 -12.8 5.7 -12.8"/>
<path stroke="#fd0000" stroke-width="4.2" d="M530 354.4l6.5 -13.2 6 -13.5M464 387.9l7.1 -21.7 8.9 -21.1"/>
<path stroke="#940000" stroke-width="4.2" d="M398.5 398.7l6.9 -19.1 6.4 -19.3"/>
<path stroke="#0000c4" stroke-width="4.2" d="M338 392.4l6.7 -20 4.9 -20.5M335.6 345l6 -15.9 6.9 -15.5M425.4 385.6l6.7 -14.2 7.2 -13.9"/>
<path stroke="#ec0000" stroke-width="4.2" d="M373 394.3l6.9 -17.8 8.8 -16.9M477.7 384.8l5 -13.7 4 -14M461.4 367.8l6.4 -11.5 6.3 -11.6"/>
<path fill="#3939ff" d="M297.9 388.3l5 -7.1 4.7 -13 -1.8 -6.6 -2.4 5.1 -4.2 13.2zM513.3 350.8l6.7 -12.4 6.2 -20.9 1.6 -10.8 -7.8 8.9 -6.6 20.8z"/>
<path fill="#c5c5ff" d="M541.6 394.7l7.3 -10.3 7.4 -17.1 -1.1 -9.4 -5.4 6.8 -6.6 17.4zM510 391.8l4.5 -6.1 6.4 -10.8 -0.7 -6.6 -4.5 3.8 -5.3 11.4z"/>
<path fill="#fff3f3" d="M387.3 376.9l3.9 -6.5 2.7 -11.1 -0.5 -5.9 -3.7 4.9 -2.8 11zM360.8 380.9l5.5 -6.2 3.4 -11.6 -1.8 -5.8 -2.2 4.5 -3.7 11.5zM439.8 372.3l5.9 -7.6 7.9 -14.1 -0.2 -8.5 -5.4 5.6 -6.9 14.6zM529.5 365.3l7.8 -9.5 7.9 -17.9 -0.2 -10 -6 7.3 -8.5 17.6z"/>
<path fill="#da0000" d="M413.7 371.4l5 -10.8 8.3 -18.5 -0 -9.7 -7.1 6.9 -6.5 19.2zM507 354.1l9.1 -11.4 6.4 -18.8 -2.7 -10.2 -6.9 7.1 -6.1 18.9z"/>
<path fill="#0000ac" d="M347.1 379l5.8 -9.5 7.6 -15.4 -1 -8.1 -4.9 5.8 -5.2 16.4z"/>
<path fill="#c90000" d="M300 391.3l2.6 -8.2 4.2 -13 1 -6.4 -5 5.3 -3.7 13.2zM334.2 370l6 -10.6 7.1 -19.2 -3 -11 -7.2 8 -4.4 20zM450.8 330.3l4 -5.6 5.2 -10.4 0.6 -6.2 -6.5 3.7 -3.8 11z"/>
<path fill="#ffcfcf" d="M406.8 344.9l7.4 -9.7 7.1 -18.2 -1.5 -9.5 -3.7 7.5 -6.8 18.3zM476 350.9l5.8 -11.2 9.2 -18.9 0.8 -9.5 -8.3 6.7 -5.9 20.2zM386.5 383.3l8.1 -11 5.3 -18 1.4 -9.6 -8.6 7.7 -4.8 18.1zM503.4 380.1l8.4 -9.5 6 -17.4 0.6 -9 -6.8 6.8 -5.9 17.4z"/>
<path fill="#0000c4" d="M468.5 367.1l11.4 -9.9 8.6 -17.6 -0.3 -9.3 -7.2 5.6 -8.5 17.6z"/>
<path fill="#0000dd" d="M310.9 361.9l9.7 -6.7 5.5 -14.6 -3.6 -8.4 -3.4 5.7 -5.5 14.6zM386.9 339.6l6.7 -8.4 7.3 -15.3 1.5 -8 -7.3 5.6 -6 15.8zM505.8 367l8.7 -8.9 10 -17.4 -0.5 -11.2 -7 7.3 -8.3 18.3zM443.8 363.1l2.5 -9.9 6.2 -16.3 -2.6 -8.9 -5.5 6.7 -3.4 17z"/>
<path fill="#1616ff" d="M341.3 345.8l5.9 -7.1 5.4 -12.7 -0.1 -6.8 -3.4 5.2 -6 12.4z"/>
<path fill="#ff6666" d="M511 350.6l3.7 -6.5 5 -11.8 1.3 -6.3 -4.6 5 -4.4 12zM508.7 378.3l5.5 -8.1 7 -13.2 2.2 -7.5 -6 5.6 -6.7 13.3z"/>
<path fill="#fd0000" d="M480.9 394.2l6.3 -10.9 5.9 -17.9 1 -8.7 -7.4 6.7 -5.3 18.1zM331.8 337.7l2.4 -5.9 3.8 -9.9 0.4 -4.9 -3.1 4 -3.3 10.1z"/>
<path fill="#a2a2ff" d="M504.4 346.6l4.3 -6.9 5.3 -12.1 -0.7 -7 -3.7 5.1 -5.4 12zM335.7 368.8l6.5 -6.4 4.9 -11.7 -1.3 -6 -4.2 3.6 -5.2 11.6zM518.4 374l3.6 -10.3 5.8 -16.6 1.5 -7.5 -5.9 6 -5.9 16.5zM368.7 349.2l8.3 -8.1 9.6 -14.3 -0.3 -9.2 -9.1 4.4 -6.1 16.1zM303.8 382.1l7.8 -8.7 5.6 -15.5 -2.1 -8.8 -4 6.8 -4.1 16zM407.8 366.1l10 -8.4 7.7 -15.5 1.7 -8.5 -7.5 5.6 -7.3 15.6zM420.7 358.9l6.9 -11.1 10 -18.4 4.2 -8.9 -8.8 6.5 -9.6 18.6z"/>
<path fill="#ffacac" d="M372.2 345.1l3.6 -11.1 6 -17.8 -1.8 -9.4 -4.7 7.7 -3.9 18.4z"/>
<path fill="#ff8989" d="M339.4 373.1l7.3 -7.3 6.6 -15.2 1.3 -7.7 -5.3 5.8 -7.4 14.9zM479.7 334l6.3 -13.6 9 -22.2 -1 -12.5 -10.3 8.7 -6 23.1z"/>
<path fill="#ff2020" d="M408.9 391.2l8.4 -10.3 6.5 -19 0.5 -10.1 -8 7.6 -6 19.1zM475.9 387.4l5.3 -6 2.8 -10.2 -2.2 -5.5 -2.1 4.2 -3.2 10.1z"/>
<path fill="#5c5cff" d="M344.9 393.8l6.2 -7.9 5.3 -14.6 0.7 -7.2 -5.4 5.5 -5.4 14.5zM336 367l4.6 -8.7 6.4 -14 1.3 -7.8 -6.5 5.7 -5.5 14.4zM345.2 350.5l4.8 -7.7 4.2 -14 -2.8 -7.2 -3 5.4 -4.1 14z"/>
<path fill="#940000" d="M357.6 342l6.1 -10.4 5 -16.9 2.2 -7.8 -7.8 6.2 -4.8 17zM479 388.7l3.7 -6.1 2.6 -10.3 -1.5 -5 -1.2 4.3 -2.6 10.3z"/>
<path fill="#ff4343" d="M364 394.3l5.8 -9.6 8 -15.4 -0.3 -8.7 -5.5 6 -6.9 15.9zM329.6 352.3l9.8 -10.8 11.2 -19.1 0.9 -11.5 -8.3 7.7 -9.1 20.2z"/>
<path fill="#7f7fff" d="M433.8 385.8l6.1 -9.5 6 -16.1 1.3 -8.4 -5.7 6.8 -5.5 16.3zM400.3 341.6l4.5 -5.9 5.7 -10.6 -0.5 -6.7 -5.3 4.3 -3.5 11.5zM488.4 377.8l5.2 -5.8 4 -10.3 -0.7 -5.7 -3.1 4.3 -3.3 10.5zM441.3 363.4l7.9 -10.1 5 -18 0.1 -10 -6.2 7.9 -6.6 17.5zM306.8 387.7l4.7 -9.8 5 -16.3 -1.1 -7.8 -3.2 6.5 -5.1 16.3zM483.6 373.4l10.8 -12.1 9 -21.5 -4.3 -11.5 -5 8.2 -6.3 22.5z"/>
<path fill="#00007b" d="M379.4 389.6l5.9 -9.5 4.3 -16.5 -2.1 -8.7 -2.2 7.6 -4.1 16.6z"/>
<path fill="#ec0000" d="M458.9 330l6.4 -9.6 7.9 -16.6 2 -9.1 -7 7 -6.3 17.3zM451.6 370.3l4.3 -6.9 2.9 -11.9 0.5 -6.3 -4.1 5.3 -3.7 11.6zM444.4 384l10 -11 8.3 -20.3 2.2 -10.8 -8.7 8.2 -8.1 20.4zM398 368.2l4.4 -6.8 4.5 -12 -1.1 -6.4 -2.7 5.1 -4.2 12.1z"/>
<path stroke="#ff8989" stroke-width="5.5" d="M401.2 394.6l1.7 -4.7 1.4 -4.8"/>
<path stroke="#fd0000" stroke-width="5.5" d="M483 388.5l4 -9.6 4.7 -9.3"/>
<path stroke="#ffacac" stroke-width="5.5" d="M518.5 382.4l4.8 -8.6 4 -9"/>
<path stroke="#ff2020" stroke-width="5.5" d="M508.6 392.5l4.4 -9.8 5.7 -9.1M336.5 389.2l3.7 -7.5 3.7 -7.5"/>
<path stroke="#ffcfcf" stroke-width="5.5" d="M508.9 386.7l2.2 -6.3 3.1 -6M501.2 384l5.6 -9.9 4.6 -10.4M533.3 387.5l2.3 -7.5 2.3 -7.5M519.9 388.4l3.9 -9.1 4 -9"/>
<path stroke="#0000f5" stroke-width="5.5" d="M304.3 393.9l3 -9.1 2.9 -9.1M415.6 384.2l2.6 -6.9 2.7 -6.9"/>
<path stroke="#0000dd" stroke-width="5.5" d="M429.9 397.2l3.3 -7.4 3.2 -7.4"/>
<path stroke="#da0000" stroke-width="5.5" d="M485.2 393l3.7 -11.1 3.8 -11.1M342.9 387.9l2.8 -8.6 3.9 -8.2"/>
<path stroke="#000062" stroke-width="5.5" d="M336.8 387.4l2.9 -11.6 4.3 -11.1"/>
<path stroke="#3939ff" stroke-width="5.5" d="M477.4 394.4l3.1 -10.8 2.7 -10.9"/>
<path stroke="#c5c5ff" stroke-width="5.5" d="M438.9 387.3l2 -6.7 1.5 -6.8M359.9 385.9l3.9 -10.3 4 -10.2"/>
<path stroke="#ff6666" stroke-width="5.5" d="M524.7 392.5l2.7 -7.9 3 -7.8M346.8 392.5l3.9 -8.1 4 -8.1"/>
<path stroke="#b70000" stroke-width="5.5" d="M363.3 392.1l3 -8.9 3.4 -8.8"/>
<path stroke="#fff3f3" stroke-width="5.5" d="M511.5 386.4l2 -7.8 2.5 -7.7"/>
<path stroke="#ec0000" stroke-width="5.5" d="M392 395l2.8 -8.6 3.6 -8.3"/>
<path stroke="#7f7fff" stroke-width="5.5" d="M332.3 390.4l3.5 -6.5 3.2 -6.6M498.6 391.4l1.1 -5.8 1.8 -5.7M503.1 396.3l3.5 -9.6 3.5 -9.6"/>
<path stroke="#0000c4" stroke-width="5.5" d="M475.3 396l2.9 -6.8 3.6 -6.5M442.1 384.3l4.3 -11.9 5.7 -11.3"/>
<path stroke="#ff4343" stroke-width="5.5" d="M324.7 381l2.3 -6.8 1.7 -6.9M366.3 391l4.8 -9 5.5 -8.6"/>
<path stroke="#940000" stroke-width="5.5" d="M401.9 390.3l2.9 -11.2 3.2 -11.1M372.9 389.5l2.4 -6.4 3 -6.2"/>
<path stroke="#e8e8ff" stroke-width="5.5" d="M420.4 390.8l3 -9.2 2.6 -9.3M347.5 390.7l2.8 -5.7 3.2 -5.5M355.5 382.1l3.3 -6.6 3.1 -6.7"/>
<path stroke="#ff2020" stroke-width="4.2" d="M366.9 393.3l2.4 -6.4 1.7 -6.7M493.8 398.6l2.5 -9.6 2.7 -9.6M340.5 395.4l4.2 -9.8 4.2 -9.7"/>
<path stroke="#ff6666" stroke-width="4.2" d="M455.6 384.7l4.3 -10.9 6 -10.1M308.5 390.7l3.2 -8 3.9 -7.6"/>
<path stroke="#7f7fff" stroke-width="4.2" d="M383.5 383.7l2.8 -8.5 3.2 -8.4"/>
<path stroke="#000062" stroke-width="4.2" d="M456.6 394.8l2.3 -5.3 2.7 -5.2"/>
<path stroke="#a50000" stroke-width="4.2" d="M365.4 390.1l5.5 -10.1 4.8 -10.5"/>
<path stroke="#000093" stroke-width="4.2" d="M301 392l2.9 -9.3 4.2 -8.8"/>
<path stroke="#0000f5" stroke-width="4.2" d="M526.5 388.4l2.9 -7.3 1.8 -7.6"/>
<path stroke="#e8e8ff" stroke-width="4.2" d="M298.2 387.2l5.4 -10.7 4.3 -11.2M344.9 386.9l3.7 -7.4 3.4 -7.5"/>
<path stroke="#b70000" stroke-width="4.2" d="M492.5 381.5l3.9 -8.7 3.3 -8.9"/>
<path stroke="#fff3f3" stroke-width="4.2" d="M455 392.9l1.8 -6.3 1.9 -6.3M372.6 394.2l3.7 -7.5 4.3 -7.2M332.6 388.1l3.3 -10.1 3 -10.2M342.9 386.8l4.4 -7.9 4.8 -7.7M480.5 382.8l3 -6.8 2.8 -6.9M484.5 388.3l3.2 -8.2 2.2 -8.5"/>
<path stroke="#c5c5ff" stroke-width="4.2" d="M410.2 391.3l4 -11.7 4.1 -11.7M355.6 395l2 -8.2 2.6 -8M360.8 394.3l2.5 -5.2 2.6 -5.1M519.9 385.6l3.6 -10.5 3.9 -10.4M537.3 391.3l1.9 -5.8 1.8 -5.9M538.7 393.8l1.2 -5.1 1.2 -5.1M378 385.6l6 -13.1 4.4 -13.7M481.7 383.6l3.9 -7.9 3.3 -8.1M445.9 390.2l3 -11.7 3.2 -11.7"/>
<path stroke="#0000c4" stroke-width="4.2" d="M440.5 390.9l2.7 -5.9 1.9 -6.2"/>
<path stroke="#da0000" stroke-width="4.2" d="M416 398.1l2.9 -9.4 3.1 -9.4M353.1 382.3l2.8 -7.8 2.3 -8"/>
<path stroke="#ff4343" stroke-width="4.2" d="M405.8 381.4l2.4 -7.2 2.6 -7.2M490.5 392.9l3.1 -10.6 2.9 -10.7M404.7 393.3l3.8 -7.7 4.3 -7.4M391.4 386.6l4.3 -9.4 5 -9"/>
<path stroke="#ffacac" stroke-width="4.2" d="M347 388.4l2.6 -7.1 2.1 -7.3M531.7 392.8l4.9 -10.4 5.3 -10.3"/>
<path stroke="#1616ff" stroke-width="4.2" d="M501.4 387.1l3.8 -13.4 3.9 -13.4"/>
<path stroke="#ff8989" stroke-width="4.2" d="M377.8 383.4l3.2 -8.4 3 -8.5M316.7 388.6l6.2 -10.9 5.6 -11.2"/>
<path stroke="#c90000" stroke-width="4.2" d="M357.6 386.5l2.7 -8 1.9 -8.3M358.8 389.8l3.6 -8.7 3.7 -8.7"/>
<path stroke="#5c5cff" stroke-width="4.2" d="M536.7 386.5l2.7 -5.7 2.7 -5.7M319 387.8l1.6 -7.5 2.5 -7.3"/>
<path stroke="#0000dd" stroke-width="4.2" d="M308.2 390.5l2.7 -6.1 3 -5.9M376.9 394.3l1.4 -6.1 1.9 -6"/>
<path stroke="#ec0000" stroke-width="4.2" d="M304.3 397.4l3.1 -8.5 3.2 -8.4M474.9 387.7l2.8 -5.7 3.4 -5.4M316.7 381.7l3.6 -8.1 3.9 -7.9M334.7 395.8l2.1 -7.1 2.4 -7"/>
<path stroke="#ffcfcf" stroke-width="4.2" d="M317.3 396.3l3.8 -8.8 3.1 -9M364.7 387.4l2.5 -7.3 3.5 -6.9M350.9 392.6l2.2 -4.8 2.5 -4.7"/>
<path stroke="#3939ff" stroke-width="4.2" d="M526 388.8l3.8 -11.7 4.7 -11.4"/>
<path stroke="#a2a2ff" stroke-width="4.2" d="M413.9 391.3l2.1 -5.2 1.9 -5.3M439.2 386.5l4.9 -11.7 5.2 -11.5"/>
<path stroke="#fd0000" stroke-width="4.2" d="M471 395.9l1.9 -8.2 2.8 -7.9M484.9 384.4l4.4 -10 4 -10.2"/>
<path stroke="#00007b" stroke-width="3.2" d="M299.1 394.3l3.9 -9.9 3.4 -10.1"/>
<path stroke="#ff6666" stroke-width="3.2" d="M466.7 395.1l2.2 -6.4 2.3 -6.4M478.2 394.9l3.3 -10.7 3.4 -10.7M495.2 396.6l2.4 -8.3 2.4 -8.2M304.6 381.4l2.2 -7.8 2 -7.9"/>
<path stroke="#ec0000" stroke-width="3.2" d="M501.8 405.3l1.2 -4.4 1.3 -4.4M459.3 380.5l3.2 -7.2 3 -7.3"/>
<path stroke="#0000f5" stroke-width="3.2" d="M310.1 397l2.9 -7.1 2.1 -7.4M442 383.1l3.1 -10.3 3.1 -10.3"/>
<path stroke="#0000c4" stroke-width="3.2" d="M406.2 403l2.6 -6 2.3 -6.1M391.9 388.1l2.5 -7.8 3 -7.7M319.9 402.5l3.7 -6.6 3.4 -6.8M524.1 388.1l2.3 -9.1 2.3 -9.1"/>
<path stroke="#c90000" stroke-width="3.2" d="M334.7 385.3l6.4 -9.6 5.8 -9.9M322 396.2l3.1 -7.7 3.3 -7.6M438.7 390.5l2.6 -8.3 2.8 -8.2"/>
<path stroke="#ff4343" stroke-width="3.2" d="M516 400.3l1.8 -4.6 1.2 -4.8M315.3 395.2l2.7 -9.5 2.5 -9.6M422.9 391l1.9 -8 2.5 -7.9M352.1 401.3l3.3 -7.9 3.5 -7.8"/>
<path stroke="#1616ff" stroke-width="3.2" d="M371.9 397.6l3.1 -7.7 2.6 -7.9M480.7 395.1l2.1 -5.8 2.4 -5.7M506 405.2l1.1 -3.4 0.8 -3.5"/>
<path stroke="#c5c5ff" stroke-width="3.2" d="M355.1 392.5l1.8 -5.4 2.4 -5.2M339.5 391.3l3.8 -7 3.8 -7M473.4 391.9l3.1 -5.6 2.9 -5.7"/>
<path stroke="#5c5cff" stroke-width="3.2" d="M432.4 400.3l3.5 -6.6 3.7 -6.5M524.1 398l1.8 -4.8 1.8 -4.7M522.2 389.7l4.8 -10.8 5.5 -10.5M332.3 405.2l1.2 -3.5 1.2 -3.5M442.2 405.4l1.7 -5.6 1.7 -5.6M446.9 387.8l4.2 -12.2 4.6 -12M368 389.2l2.6 -7.1 2.1 -7.3M458.3 399.2l4.2 -7.3 3.8 -7.5"/>
<path stroke="#e8e8ff" stroke-width="3.2" d="M331.7 403.2l1.8 -5.3 1.8 -5.3M342.1 390.3l3 -9.6 3.6 -9.4M365.6 383.8l5.3 -11.4 6.3 -10.8M299 392.6l2.5 -7 1.6 -7.3"/>
<path stroke="#0000dd" stroke-width="3.2" d="M337 389.7l4.5 -11.2 4.4 -11.2M443.2 396.4l1.8 -5.7 1.2 -5.8"/>
<path stroke="#ffcfcf" stroke-width="3.2" d="M338.1 381l2.9 -8.2 2.3 -8.4"/>
<path stroke="#a2a2ff" stroke-width="3.2" d="M413.6 400.5l1.5 -6.5 1.1 -6.6M503.4 394.1l2 -7.7 3 -7.4M320.9 403.4l1.3 -4 1.7 -3.8"/>
<path stroke="#ff8989" stroke-width="3.2" d="M530.7 384.6l3 -7.9 3.2 -7.8"/>
<path stroke="#fff3f3" stroke-width="3.2" d="M447.3 392.5l3.5 -11.4 3.8 -11.3M448.9 405.4l2.8 -6 2.6 -6.1M433.6 389.3l3.5 -7.1 3.1 -7.3M429.4 404.5l1.9 -6.1 2.2 -6"/>
<path stroke="#ffacac" stroke-width="3.2" d="M414.5 394l3.1 -9.4 2.9 -9.5M452.7 389.2l2.4 -5.4 2.4 -5.4M462.2 391.5l3.8 -11.9 4 -11.8M324.6 397.2l2.7 -8.2 2.3 -8.3"/>
<path stroke="#b70000" stroke-width="3.2" d="M377.4 396.5l3.3 -6.8 3.4 -6.8M299.7 392.5l3 -9.1 3.2 -9"/>
<path stroke="#fd0000" stroke-width="3.2" d="M516.2 385.4l2.8 -12.1 3.8 -11.8"/>
<path stroke="#ff2020" stroke-width="3.2" d="M357.4 379.8l3.6 -6 3.8 -6M525 400.9l2.3 -6.8 2.1 -6.9M380.5 388.8l4.1 -8.4 4 -8.4M296.9 394.6l4.6 -9.4 5.6 -8.8M382.6 396.5l2.8 -10.3 1.9 -10.5M301.7 388.8l6 -10.9 6.3 -10.7M432.3 385.4l1.9 -8.4 2 -8.4"/>
<path stroke="#7f7fff" stroke-width="3.2" d="M436.3 393.2l3.8 -8 3.3 -8.2M464.2 405.9l3.2 -6.5 3.4 -6.4M512.1 384.8l2.2 -6.9 2.5 -6.8M437.5 398.9l2 -4.8 2.1 -4.8M527.2 392.3l2.9 -10.5 3.6 -10.3"/>
<path stroke="#a50000" stroke-width="3.2" d="M505.4 384.1l3 -6.3 2.7 -6.5M353.4 399.9l1.3 -5 1.1 -5M507.9 406.7l1.1 -5 1.1 -5"/>
<path stroke="#000062" stroke-width="3.2" d="M428 391.7l4.1 -11.1 4.1 -11.1"/>
<path stroke="#da0000" stroke-width="3.2" d="M465.9 398.5l2 -6.2 2.4 -6.1M421.6 394.4l3.7 -7.6 3.4 -7.7M326.2 396.2l2.3 -6.8 2.5 -6.8"/>
<path stroke="#3939ff" stroke-width="3.2" d="M529.8 386.5l2.5 -6.7 3 -6.5M403.4 390.7l3.3 -7.8 4 -7.5"/>
<path stroke="#0000c4" stroke-width="2.5" d="M333 404.5l3.5 -6.9 3.6 -6.9"/>
<path stroke="#ff6666" stroke-width="2.5" d="M321 387.9l4.2 -8.9 5 -8.5"/>
<path stroke="#ffcfcf" stroke-width="2.5" d="M435 396.1l1.5 -4.6 1.7 -4.6M348.7 391.7l5.7 -10.6 4.2 -11.2M403.3 382.6l1.5 -8.2 2.1 -8.1M409.7 387.4l3.6 -12.6 2.9 -12.8"/>
<path stroke="#ffacac" stroke-width="2.5" d="M476 405.7l2 -6.7 2.2 -6.6M362.2 400.6l3.5 -7 3.2 -7.2M506 398.1l3.7 -6.2 3.1 -6.6M487.5 405.8l1.9 -4.6 2 -4.5M404.3 393.2l1.6 -5 1.7 -5M413.1 393.3l3.4 -5.7 3.4 -5.7"/>
<path stroke="#fff3f3" stroke-width="2.5" d="M485.6 402.7l2.9 -7.2 3.8 -6.8M387 402.3l1.3 -3.7 1.2 -3.8M369.9 395.9l1.1 -5.5 1.5 -5.4"/>
<path stroke="#c5c5ff" stroke-width="2.5" d="M482.6 403.3l2.3 -5.7 2.4 -5.7M425.8 403.9l1.3 -5.5 1.9 -5.4M342.8 398.1l2.1 -4 2.2 -3.9"/>
<path stroke="#0000dd" stroke-width="2.5" d="M345.8 400.4l3.3 -8.4 3.7 -8.2M342.4 399.4l3.1 -6 3 -6.1M388.6 396.3l1.5 -6.9 1.9 -6.8"/>
<path stroke="#a2a2ff" stroke-width="2.5" d="M359.7 394l2.4 -5.9 2.5 -5.9M486.5 383.1l2.2 -7.2 1.7 -7.3M476.2 398.5l3.9 -6.9 4.1 -6.8M420.6 400l3.5 -8.8 3.8 -8.6"/>
<path stroke="#fd0000" stroke-width="2.5" d="M365.1 400.3l2.3 -8.6 2 -8.6"/>
<path stroke="#c90000" stroke-width="2.5" d="M307.7 398.3l1.9 -7.9 2.4 -7.8"/>
<path stroke="#e8e8ff" stroke-width="2.5" d="M428.1 400.9l1.2 -4.5 1.7 -4.4M499.6 388.4l4.7 -12 5.7 -11.6M370.6 404l2.4 -4.9 2.4 -4.9M537.7 404.7l1.5 -3.2 1.3 -3.3M454.1 385.7l2.4 -7.8 2.7 -7.7M462.6 397.2l2.1 -6.5 2.3 -6.5"/>
<path stroke="#7f7fff" stroke-width="2.5" d="M485.5 402.7l2.7 -7.9 2.6 -8M535.8 392.8l4.3 -10.1 4.8 -9.9M445.9 405.1l1.6 -3.7 1.3 -3.8"/>
<path stroke="#940000" stroke-width="2.5" d="M439.5 393l2.1 -6 2.3 -6"/>
<path stroke="#a50000" stroke-width="2.5" d="M399 393.6l4 -6.3 3.2 -6.7"/>
<path stroke="#3939ff" stroke-width="2.5" d="M450 400.1l2.3 -5 2.7 -4.8M500.6 386.9l4 -8 3.6 -8.1"/>
<path stroke="#ff8989" stroke-width="2.5" d="M371.4 400.2l2.4 -5.8 1.4 -6.1M390.4 404.1l2.5 -6.1 3 -5.9M532.6 384.1l2.7 -9 3.5 -8.7"/>
<path stroke="#ec0000" stroke-width="2.5" d="M469 403.9l3 -6 2.4 -6.3M379.7 404l2.6 -4.7 1.9 -5"/>
<path stroke="#ff2020" stroke-width="2.5" d="M513.4 388.4l1.4 -6.2 2.2 -6M388.6 386.1l2.8 -6.9 3.7 -6.5M321.9 386.1l2.7 -5.7 3.4 -5.3M501.9 402.8l1.8 -4.7 1.6 -4.7"/>
<path stroke="#00007b" stroke-width="2.5" d="M417.3 404.8l2.9 -7.2 3.3 -7M311.4 405.7l1.4 -4 1.1 -4.1"/>
<path stroke="#b70000" stroke-width="2.5" d="M527.8 389.1l2.7 -7.1 2.4 -7.2M443.9 399.8l3 -5.3 2.7 -5.5M489.6 399.6l2.2 -7.9 2.6 -7.8"/>
<path stroke="#5c5cff" stroke-width="2.5" d="M521 394.6l2.9 -7 3.2 -6.8M304.7 401.1l2.1 -7.8 1.8 -7.9M499.6 406.1l2 -6.6 1.9 -6.7M364.6 388.3l4 -8.3 3.9 -8.3M460.3 390.3l3.9 -8.7 2.7 -9.1M316.8 400.3l1.6 -6.4 1.6 -6.4"/>
<path stroke="#ff4343" stroke-width="2.5" d="M455.4 400.4l1.4 -4.3 1 -4.4M364 399.4l1.4 -5 1.4 -5M361.1 399l3.1 -7.4 3.1 -7.4M353 403.9l1.9 -4.1 2.3 -3.9M476.4 402.2l2.8 -6.6 2.1 -6.9M510.7 402l1.6 -4.6 1.8 -4.5M358 397.6l1.2 -5.3 1 -5.4"/>
<path stroke="#0000f5" stroke-width="2.5" d="M345.8 390.7l2.3 -5.1 2.5 -5M368.2 401.5l2.3 -6.6 3 -6.3M387.1 399.1l2.4 -7.6 3.1 -7.3M537.5 395.9l2.7 -5.2 2.6 -5.3M494.5 400.6l3.2 -5.2 3 -5.3M462.6 400.4l1.7 -3.8 2.1 -3.6"/>
<path stroke="#1616ff" stroke-width="2.5" d="M316.8 383.4l4.2 -9.8 3.7 -10M314.3 388.3l2.7 -6.2 2.9 -6"/>
<path stroke="#c90000" stroke-width="1.9" d="M481 400.8l4.1 -7.7 3.8 -7.9M368.7 399.1l2.6 -4.5 2.5 -4.6"/>
<path stroke="#0000f5" stroke-width="1.9" d="M307.7 400.1l3.6 -8.3 2.6 -8.7"/>
<path stroke="#fff3f3" stroke-width="1.9" d="M486.6 401.3l2.4 -5.6 2.4 -5.6"/>
<path stroke="#1616ff" stroke-width="1.9" d="M305.5 401.6l1.7 -4.3 1.2 -4.5"/>
<path stroke="#5c5cff" stroke-width="1.9" d="M533.9 399.6l1.1 -5 1.6 -4.9M370.4 400.2l3.1 -8 2.5 -8.2M515.3 399.6l2.1 -4.4 1.9 -4.5"/>
<path stroke="#a2a2ff" stroke-width="1.9" d="M443.5 398.1l2.6 -6.3 2.7 -6.2"/>
<path stroke="#7f7fff" stroke-width="1.9" d="M374.5 400.7l2.3 -6.5 2.5 -6.4"/>
<path stroke="#ffcfcf" stroke-width="1.9" d="M314.8 401.4l1.9 -6.7 1.9 -6.8"/>
<path stroke="#ffacac" stroke-width="1.9" d="M465.8 403.2l1.4 -5 1.6 -5"/>
<path stroke="#fd0000" stroke-width="1.9" d="M510.5 404.2l3.2 -6.9 2.2 -7.2"/>
<path stroke="#e8e8ff" stroke-width="1.9" d="M363.1 402.3l2.4 -6 2.1 -6.1"/>
<path stroke="#940000" stroke-width="1.9" d="M486.2 407.4l2.1 -6.3 2.8 -6.1"/>
<path stroke="#ff2020" stroke-width="1.9" d="M364.6 400.4l2.8 -7.5 3.4 -7.2"/>
<path stroke="#ec0000" stroke-width="1.9" d="M318.3 401.4l3 -5.9 3 -5.8"/>
<path stroke="#da0000" stroke-width="1.9" d="M351.9 399.4l1.9 -3.7 1.8 -3.7M387.6 399.7l2.5 -6.1 2.4 -6.1M442.2 401.9l1.1 -4.6 1.6 -4.4M312.8 404.3l1.7 -3 1.7 -3"/>
<path stroke="#0000c4" stroke-width="1.9" d="M327.6 400.4l2.1 -5.7 1.7 -5.8M492.8 405.7l2.7 -6.9 2.8 -6.8"/>
<path stroke="#a50000" stroke-width="1.9" d="M437.9 404.5l0.9 -4.1 0.8 -4.1"/>
<path stroke="#ff6666" stroke-width="1.9" d="M436.3 398l2 -4.2 2.3 -4"/>
<path stroke="#ff4343" stroke-width="1.9" d="M478.3 398.4l1.7 -6 1.7 -6M347.4 401.7l1.4 -6.8 2.5 -6.5"/>
<path fill="#ffcfcf" d="M524.4 387.7l2.3 -4.5 3.2 -7 -0.7 -3.9 -3.2 2.6 -1.7 7.5zM480.2 382.6l3.2 -3.2 2.9 -5.8 0.2 -3.1 -2.7 1.9 -2.9 5.8z"/>
<path fill="#940000" d="M490.4 383.4l3.8 -3.8 3.2 -6.4 0 -4.1 -2.8 2.8 -2.6 6.7z"/>
<path fill="#0000f5" d="M478.3 386.8l1.9 -2.9 1.9 -4.9 0.1 -2.7 -1.8 2.1 -1.5 5z"/>
<path fill="#ff2020" d="M532.2 400.7l1 -2.2 1.1 -3.6 -0.5 -1.9 -0.7 1.6 -0.9 3.7zM319.6 392.3l2.6 -4 2.6 -7.3 -0.4 -3.9 -1.5 3.2 -2.9 7.2zM348.6 400l2 -1.8 1.7 -3.6 0.4 -2 -1.6 1.4 -1.6 3.7zM407.3 395.5l2.9 -2.4 3.2 -4.6 -0.5 -2.6 -2.6 1 -1.9 5.2zM313.4 394.7l1.3 -1.4 1.5 -2.5 -0.2 -1.6 -1.1 0.9 -1.2 2.6zM437.3 384.5l2 -3.3 2.7 -5.6 0.8 -2.8 -2.6 1.9 -2.7 5.6z"/>
<path fill="#00007b" d="M400.3 378.8l3.3 -5.4 3.4 -9.9 0.2 -5.2 -4.6 3.9 -2.8 10.1z"/>
<path fill="#e8e8ff" d="M537.1 384.7l1.5 -3.1 2.3 -5 0.4 -2.6 -2.8 1.7 -1.7 5.3zM461 391.1l2.5 -3.7 1.6 -6.7 -0.3 -3.5 -2.1 2.9 -1.5 6.8zM541 377.9l3.8 -3.5 3.7 -6.2 -0.8 -3.9 -2.6 2.3 -2.8 6.7z"/>
<path fill="#b70000" d="M433.4 385.3l1.1 -1.9 1.5 -3.5 -0.4 -2 -1.2 1.5 -1 3.7z"/>
<path fill="#000062" d="M527.7 388.7l2.4 -1.9 2.8 -4.7 -0.2 -3.1 -2.5 1.6 -2.3 5zM382.5 377.6l4.8 -6.4 3.9 -11.3 -2.5 -6.1 -2.8 4.4 -3 11.6zM364.6 377.1l1.2 -2.7 1.4 -4.7 -0.2 -2.3 -1.3 1.9 -1.4 4.7z"/>
<path fill="#fd0000" d="M300.9 395.6l1.5 -1.3 1.2 -2.4 -0.1 -1.4 -1.1 0.9 -1 2.5z"/>
<path fill="#ec0000" d="M376.1 398.9l3.1 -1.7 2.2 -4.2 0.1 -2.4 -2.5 1.2 -1.9 4.3zM502.9 390.2l2.2 -2.8 2.6 -4.5 0.2 -2.7 -2.2 1.7 -2.1 4.7zM445.9 398.7l1.9 -2.6 2.3 -4.6 -0.2 -2.5 -2.2 1.4 -1.7 4.9zM500.4 383.1l2.7 -3.1 3.6 -5.8 0.8 -3.1 -3 1.9 -3 6.1z"/>
<path fill="#ff6666" d="M466.6 379.6l2.8 -4.2 1.5 -7.5 0.2 -3.5 -2.8 2.9 -2.1 7.3zM472.6 386.5l1.1 -3.1 1.7 -5.2 -0.7 -2.9 -1.6 2.2 -1.6 5.3zM472.1 386.7l2 -2.2 2.5 -4.8 0.5 -2.8 -1.9 2 -2.7 4.6zM492.7 396.3l2.5 -2.8 1.2 -5 -0.9 -2.6 -1.1 2 -1.4 4.9z"/>
<path fill="#0000c4" d="M466.8 389.1l3.5 -4.1 2.8 -7.4 -1.5 -4.1 -1.7 3 -2 7.6zM359.2 401.3l1.8 -3 1.5 -5.2 -0.1 -2.5 -2.2 1.9 -1.6 5.2zM420.3 399.4l2.2 -2.9 2.2 -5.5 0.6 -2.8 -2.2 2.1 -2.5 5.3zM307 378.5l3.2 -3.3 1.9 -5.7 -1.2 -3.2 -2.1 2.3 -1.1 5.9z"/>
<path fill="#ffacac" d="M403.8 389l2 -2.2 1.6 -3.9 0.4 -2.1 -1.9 1.3 -2.2 3.6zM415.1 397.7l2 -1.6 1.8 -3.3 -0.2 -1.8 -1.4 1 -1.7 3.3zM501.1 400.2l1.7 -2.8 1.6 -4.8 -0.1 -2.6 -1.6 2.1 -1 4.9zM299.5 392.9l1.9 -2.5 2.2 -3.8 0.3 -2.1 -2.1 1.2 -1.7 4z"/>
<path fill="#0000ac" d="M344.7 379l2.2 -2.9 1.2 -5.4 -0.1 -3 -2 2.4 -1.5 5.3zM451.2 376.5l4.9 -7.5 4.4 -12.3 0.4 -6.2 -5.4 4.8 -2.8 12.8zM440.8 390.8l1.5 -1.6 1.2 -2.9 0 -1.5 -1 1.1 -1.3 2.8z"/>
<path fill="#5c5cff" d="M454.2 382.5l1.8 -2.4 2.1 -3.9 -0.5 -2.3 -1.5 1.5 -1.3 4.3zM320.6 399.1l2.1 -3.4 1.7 -6.2 0.4 -2.9 -2.5 2.3 -1.9 6.1zM327 387.9l3.6 -3.9 1.7 -6.7 -0 -3.6 -2.7 2.8 -1.8 6.7zM336.7 385.5l2.4 -4.3 3.2 -6.6 -0.4 -3.5 -3.4 2.1 -1.9 7.1z"/>
<path fill="#1616ff" d="M314.9 388l1.5 -1.8 1.2 -3.3 0.1 -1.6 -1 1.2 -1.4 3.2z"/>
<path fill="#c5c5ff" d="M440.6 377.7l4.7 -6.1 4 -10.2 0.3 -5.2 -3.6 4 -3.6 10.3zM513.4 376.7l2 -2.4 2.2 -4.3 0.6 -2.3 -2.5 1.4 -2.2 4.3zM442.8 377.8l3.5 -6.2 3.2 -10.6 -1.7 -5.7 -2.9 4.5 -2.2 10.9zM479.6 378.5l3.7 -5.9 4.4 -11.5 -0.2 -5.8 -4 4.1 -4.8 11.3zM374.3 378.4l5 -6.1 4.8 -11.1 -1.5 -6.3 -3.4 4.3 -4 11.4z"/>
<path fill="#fff3f3" d="M517.7 375.4l6.1 -4.8 5.6 -9.5 0.4 -5.1 -3.9 3.2 -4.8 9.9zM338.3 379l4.2 -4 2.9 -7.5 -1.4 -4.2 -3.5 2.7 -1.8 7.8zM332.3 393.4l3.1 -3.6 2.9 -5.8 -0.9 -3.4 -2.2 2.2 -1.7 6.2zM479.9 383.6l3.5 -4.1 2.1 -7.3 -0.2 -3.9 -2.3 3.1 -2.7 7.1z"/>
<path fill="#0000dd" d="M388.5 384.8l2.5 -2.9 2 -5.1 0.2 -2.5 -2 1.8 -2.2 5zM461.9 383.4l3.5 -2.7 4 -5.7 -0.8 -4.3 -3 2.1 -2.7 6.4zM449.3 380.4l5.4 -5.1 5 -10.6 -3 -6.1 -2.9 3.8 -3.3 11.2z"/>
<path fill="#da0000" d="M446.2 379.3l2.8 -4.4 4.1 -7.3 -1.3 -5 -3.8 2.9 -2.2 8.1zM338.1 381l1.5 -4.4 2.2 -7 -0.2 -3.5 -3.3 2.7 -1.6 7.1zM377.3 395.7l0.9 -1.8 1 -3.3 -0.3 -1.8 -0.8 1.5 -0.9 3.3zM389.3 378.1l5.4 -6 5.3 -10.5 0.2 -5.5 -4.1 3.5 -5 10.7zM454.7 386.2l3.6 -5.8 4.2 -9.7 0.1 -5.4 -3.5 4 -3.9 9.9z"/>
<path fill="#a2a2ff" d="M418.1 398.1l2.1 -1.6 2.4 -3.9 0 -2.5 -2.7 1.1 -1.8 4.2z"/>
<path fill="#ff8989" d="M498.8 386.8l2.3 -2.8 2 -4.6 -1.1 -2.8 -1.9 2 -0.8 5zM473.4 396.6l2.9 -4 2.2 -6.8 0.1 -3.3 -3.1 2.3 -2.3 6.8zM399 384.7l3.6 -3.4 3.2 -6.4 -0.6 -3.8 -2.4 2.5 -2.3 6.8zM300.1 396.9l0.7 -1.5 0.6 -2.6 -0.4 -1.3 -0.6 1 -0.7 2.6z"/>
<path fill="#ff4343" d="M504 393.3l1.4 -1.7 1.4 -2.9 0.6 -1.4 -1.5 1 -1.4 2.9zM367.6 378.1l3.1 -3.3 3.1 -6.2 -0.1 -3.1 -1.8 2.2 -3 6.3zM301.5 380.6l3.7 -3.1 2.7 -6.6 -0.9 -3.5 -1.8 2.2 -3.2 6.4zM492.1 398.1l3.2 -3 2.2 -6.5 -0.9 -3.6 -1.5 2.6 -3 6.1zM362.2 397.8l1.9 -2.1 1.5 -3.7 -0.4 -2.1 -1.3 1.5 -1.1 3.9zM336.5 378.8l5 -5.1 5.6 -10.2 -1.2 -6.3 -3.8 3.6 -5.1 10.5z"/>
<path fill="#7f7fff" d="M485.2 393.2l2.5 -3.9 3 -7.5 0.8 -3.6 -4.4 2.2 -2.7 7.6zM437.6 401.1l2.2 -2 1.9 -3.5 0 -2 -1.5 1.3 -1.7 3.5zM432.4 397.2l1.7 -2.5 1.3 -4.3 0 -2.2 -1.5 1.8 -1 4.4z"/>
<path fill="#3939ff" d="M475.5 393.7l3.8 -3.9 3.4 -6.7 1 -3.8 -3 2.8 -3 6.9zM371.7 392.9l1.4 -1.5 1.3 -2.7 0.1 -1.4 -1.3 0.9 -1.1 2.8z"/>
<path fill="#ffacac" d="M429 382.7l2.6 -4.8 4.6 -8.4 0.9 -5.4 -5.2 3.4 -3.4 8.9zM377.8 384.8l1.7 -1.9 1.6 -3.5 0.3 -1.9 -1.5 1.3 -1.4 3.6zM377.9 378.6l5.9 -6.3 5.1 -11.6 -1.8 -6.8 -4.4 4.8 -2.5 12.4zM506.7 394.7l2.1 -3.8 3 -6.5 -0.4 -3.8 -1.9 2.8 -2.2 6.8zM398.7 388.9l2.7 -2.8 1.4 -4.8 -0.9 -2.4 -1.3 1.7 -1.6 4.8zM420 389.3l2.7 -2.8 3.1 -5.7 -0.4 -3.5 -1.9 2.3 -3 5.7z"/>
<path fill="#0000f5" d="M538.7 384.3l1.7 -3.9 1.9 -6.3 -0.6 -3.3 -1.9 2.7 -1.3 6.5zM468.2 398.3l0.8 -1.3 0.8 -2.3 0.1 -1.1 -0.8 0.9 -0.8 2.3zM383.1 380.5l2.2 -2.2 2 -4.1 -0.1 -2.3 -2 1.4 -1.8 4.2zM348.7 387.3l3.2 -2.9 3.1 -6.3 -1.5 -3.8 -1.8 2.3 -2.5 6.6z"/>
<path fill="#ff6666" d="M344.4 377.1l4.3 -6.3 4.2 -10.2 -0.8 -5.6 -3.1 4.2 -3.4 10.5zM326 391.4l1.3 -3 1.9 -5.1 -0.4 -2.8 -1.7 2.2 -1.4 5.3zM510.2 375.1l6.6 -6.1 6.5 -12.2 0.2 -7.2 -5.1 4.8 -5.5 12.7zM357.6 377.5l6.4 -5.9 4.7 -11.4 0.6 -6.5 -5.9 4.3 -4.6 11.4z"/>
<path fill="#a2a2ff" d="M298.4 379.9l6.7 -6.1 3.8 -11.3 -0.8 -6.5 -3.9 4.8 -3.9 11.3z"/>
<path fill="#0000dd" d="M390.9 379.6l5.3 -6.4 4 -11.4 -1 -5.7 -3 4.5 -3 11.7zM463.3 392.6l2 -3.8 2.3 -6.6 -0.3 -3.4 -2.3 2.7 -1.3 6.9zM322.7 399l1.8 -2.5 1.2 -4.3 0.1 -2.3 -2.2 1.8 -0.9 4.4z"/>
<path fill="#5c5cff" d="M346.8 382.4l1.8 -2.7 2.4 -4.4 -0.5 -2.3 -1.7 1.3 -2 4.6zM399.6 382.3l3.3 -3.9 2.6 -6.7 0.4 -3.8 -3 2.8 -2.8 6.6zM452.5 392.3l3.2 -3.9 2.1 -6.9 0.3 -3.4 -2.5 2.7 -2.3 6.8zM312 376.7l3.9 -4 3.8 -7.9 1 -3.8 -3.1 2.7 -4.3 7.6zM346.6 380.3l4.8 -6.3 3 -10.2 0.4 -5.3 -3.8 4.3 -2.8 10.3z"/>
<path fill="#ffcfcf" d="M536.7 375.3l2.1 -3.1 1.9 -6.2 -1.4 -3.4 -1.6 2.4 -2 6.2zM486.1 383.2l3.8 -4.1 4.7 -7.8 -0.1 -4.4 -4.7 2 -3.5 8.4z"/>
<path fill="#ec0000" d="M458.5 377.4l2.9 -5.8 3.2 -10 -2.4 -5.4 -3 4.1 -1.8 10.4zM337.2 380.2l5.1 -7.1 4.5 -12.2 -3.1 -7.3 -4.4 5.1 -2.5 12.8zM534.9 387.7l1.3 -2 2.2 -3.3 -0 -2 -1.9 1.1 -1.3 3.7zM470.4 379.6l1.6 -4.4 1.9 -7.4 0.4 -3.9 -3.1 3.1 -2.1 7.3z"/>
<path fill="#000093" d="M340.5 397.8l1.6 -2.2 1.7 -3.7 -0.1 -1.9 -1.2 1.3 -1.5 3.8zM442 378.9l3 -4.6 3.2 -9.1 -1.1 -5.2 -3.7 3.7 -2.4 9.4z"/>
<path fill="#000062" d="M413.8 394.8l3.8 -3.8 2.4 -7.6 0.3 -4.3 -3.3 3.1 -3.1 7.4zM452.2 377.2l3.9 -5.4 2.8 -10.1 -0.7 -5.1 -3.4 4 -2.7 10.1z"/>
<path fill="#3939ff" d="M306.1 384.2l2.4 -1.9 1.9 -3.8 0.3 -2 -2 1.2 -1.7 3.9zM433.9 391.7l1.1 -2.3 1.1 -3.7 0.1 -1.8 -1 1.5 -0.9 3.8z"/>
<path fill="#ff4343" d="M361.7 389.5l2 -2.5 2.2 -4.6 -1 -2.6 -1.2 1.8 -1.3 4.9zM487.5 386.3l3 -3.1 2.6 -5.2 0.3 -2.8 -1.9 2 -2.6 5.2zM439 391.7l3.3 -3.7 2.5 -6.9 -0.5 -3.8 -1.3 3.1 -2.4 6.9z"/>
<path fill="#0000c4" d="M311.9 391.9l3.9 -4.4 3.5 -7.6 -0.2 -4.1 -2.5 2.9 -3.5 7.6zM470.2 383.6l2 -2 2.7 -4.5 0.2 -3.2 -2.8 1.9 -1.9 4.9zM468 398.4l2.4 -2.4 1.5 -4.6 -1 -2.7 -1.2 1.9 -1.6 4.6z"/>
<path fill="#c5c5ff" d="M308.8 397.1l2.2 -2.2 1.9 -4.8 -0.7 -2.6 -1.4 1.7 -2.2 4.7zM371.5 392l2 -1.7 1.3 -3.5 -0.2 -2 -1.2 1.5 -1.3 3.5zM469.5 393.3l1 -1.5 0.9 -2.8 -0.5 -1.3 -0.8 1 -0.8 2.8z"/>
<path fill="#fff3f3" d="M503 380.8l3.6 -6.2 5.4 -10.6 -1.5 -6 -3 3.9 -4.3 11.1zM302.1 390.6l4 -3.6 3.8 -7 -0.2 -4.2 -3.1 2.5 -3.5 7.2zM305.6 395.2l1.7 -2.9 1.5 -5.1 -0.8 -2.6 -2.1 1.9 -1.1 5.2zM533.4 386.9l2.8 -4.9 3.8 -8.6 -0.2 -4.8 -3.2 3.6 -2.4 9.1zM411 391l1.7 -2.2 2.3 -3.8 -0.2 -2.1 -1.3 1.3 -1.8 4.1zM409.8 382.1l3.1 -4 4.4 -8 0.1 -4.9 -4.7 2.7 -3.4 8.5zM412.4 388.1l3.3 -5.2 3.7 -9.5 -0.2 -5.4 -2.9 4.1 -4.2 9.3z"/>
<path fill="#1616ff" d="M442.5 393.1l2.1 -3.8 2.7 -6.1 -0.4 -3.6 -3 2.4 -1.6 6.5z"/>
<path fill="#0000ac" d="M378.8 399.9l2.4 -2.2 1.5 -4.3 0.2 -2.4 -1.5 1.9 -1.7 4.3zM311.9 382.1l3.2 -3.6 2.9 -6.4 1 -3.6 -2.8 2.7 -3.4 6.2z"/>
<path fill="#fd0000" d="M432.5 377.2l3.3 -6.3 4.1 -10.2 1.8 -5.4 -5.4 4 -4 10.2zM532.3 391.8l2.6 -2.1 2.1 -3.8 0.1 -2.6 -2 1.6 -1.7 4z"/>
<path fill="#ff8989" d="M380.6 380.4l5.1 -4.6 2.1 -8.8 -0.3 -4.4 -3.2 3.3 -3 8.5zM481.7 398.4l0.8 -1.1 1.2 -2.1 -0.1 -1.2 -1 0.7 -0.8 2.3zM357.3 390.1l1.2 -2 1 -3.6 -0.7 -1.9 -0.9 1.4 -0.9 3.7zM409 377.6l4.4 -6.8 4 -12.2 -1.3 -6.3 -3.3 4.8 -4.7 12z"/>
<path fill="#e8e8ff" d="M481.8 395.1l3.2 -3.3 3.2 -6.1 0.4 -3.6 -2.7 2.5 -2.6 6.3zM491 382.8l2.5 -3.4 3.5 -5.7 0.1 -3.3 -3 1.9 -2.3 6.2z"/>
<path fill="#ff2020" d="M418.1 397l1.8 -2.3 2.1 -3.7 -0.3 -2.2 -1.6 1.3 -1.4 4zM523 382.3l5.6 -6.7 3.1 -11.9 0.5 -6.6 -4.9 5.2 -4.4 11.5zM528.1 382.3l3.2 -6.2 2.5 -10.9 0.8 -5.3 -5 4.1 -3.6 10.6z"/>
<path fill="#7f7fff" d="M407.2 383.6l5 -5.5 5.3 -9.6 1.4 -5.1 -5.1 3.3 -4.7 10zM341.9 377.8l4.9 -7.1 5.4 -11.7 0.5 -6.1 -4 4.6 -4.8 11.9zM385.1 400.1l1.7 -2 1.5 -4.2 -0.7 -2.4 -1 1.7 -1.7 4.1zM533 398.8l0.9 -1.9 1.2 -3.3 -0.1 -1.8 -1.1 1.5 -0.8 3.4zM354.3 396.5l2.4 -3.4 2.6 -6.1 -0.5 -3.4 -1.6 2.6 -1.9 6.4zM459.5 377.2l3 -4.7 2.5 -7.7 0.3 -3.9 -2.3 3.3 -2.3 7.7z"/>
<path fill="#da0000" d="M518 376.2l3.6 -5.3 4.5 -9.8 -2.4 -5.1 -3.4 2.8 -3.6 10.1zM502.3 385.2l1.8 -3.6 1.9 -6.4 -0.1 -3.2 -3.4 2.2 -2 6.3zM425.2 381.2l4.9 -3.7 4.3 -7.9 0.3 -4.6 -4.4 2.6 -3.5 8.3zM416.8 396.2l3.9 -3.2 3.2 -6.4 -1.1 -3.3 -2 1.8 -3.3 6.4zM325.1 397.6l1 -1.4 0.9 -2.5 -0 -1.3 -1.1 0.9 -0.7 2.6z"/>
<polygon fill="#ffbcb8" points="330,354.4 332.2,347.1 335.1,345.6 337.3,350 341.6,348.5 347.5,344.2 348.9,337.6 356.2,336.2 362,336.9 360.5,347.1 356.2,355.8 351.8,368 330.5,382.7 319.8,368 322.7,360.2"/>
<polygon fill="#5858f5" points="306.7,347.1 316.9,339.8 327.1,338.4 334.4,339.8 332.2,347.1 330,354.4 324.2,357.3 316.9,355.8"/>
<polygon fill="#5858f5" points="335.1,339.8 341.6,336.2 348.9,337.6 347.5,344.2 341.6,348.5 337.3,350 335.1,345.6"/>
<polygon fill="#ff5a50" points="341.6,360.2 346,350 351.8,339.8 356.2,339.8 350.4,351.5 344.5,361.6"/>
<polygon fill="#8c8cfa" points="362,347.1 366.4,339.8 373.6,335.5 378,335.5 378,368 368.8,377.5 366.4,368 362,358.7"/>
<polygon fill="#f00000" points="353.3,361.6 359.1,347.1 362,347.1 362,358.7 356.2,366"/>
<polygon fill="#0808f0" points="351.8,368 356.2,361.6 362,360.2 366.4,368 354.7,380.3"/>
<polygon fill="#0000b0" points="318.4,339.8 321.3,338.4 322.7,341.3 319.8,342.7"/>
<polygon fill="#8c8cfa" points="368,335.5 376.7,336.9 382.5,339.8 379.6,351.5 378.2,368 370.4,375.6 368,368"/>
<polygon fill="#ffbcb8" points="379.6,351.5 384,339.8 389.8,336.9 395.6,337.6 391.3,347.1 386.9,355.8 384,368 377.8,377.2 378.2,368"/>
<polygon fill="#e4e4ff" points="379.6,368 382.5,358.7 386.9,355.8 387.6,368 380.5,376.9"/>
<polygon fill="#8c8cfa" points="387.6,368 389.8,351.5 395.6,339.8 401.5,336.9 407.3,338.4 402.9,347.1 397.1,360.2 394.2,368 388.4,374.9"/>
<polygon fill="#0808f0" points="394.2,368 397.1,360.2 400,357.3 399.3,368 393,378.4"/>
<polygon fill="#ff5a50" points="399.3,357.3 404.4,344.2 410.2,336.9 411.6,341.3 405.8,351.5 401.5,361.6"/>
<polygon fill="#ffbcb8" points="401.5,368 405.8,352.9 411.6,341.3 416,338.4 418.9,344.2 414.5,355.8 410.2,368 403.1,375.5"/>
<polygon fill="#ff9088" points="411.6,368 414.5,355.8 418.9,344.2 423.3,339.8 426.2,341.3 423.3,354.4 418.9,368 412.6,375.6"/>
<polygon fill="#ffffff" points="418.9,368 424.7,351.5 429.1,339.8 434.9,338.4 432,350 426.2,361.6 424.7,368 419.7,373.9"/>
<polygon fill="#ff5a50" points="421.8,361.6 426.2,352.9 432,350 434.9,338.4 443.6,339.8 439.3,354.4 433.5,368 426.2,376.2 424.7,368"/>
<polygon fill="#8c8cfa" points="439.3,354.4 443.6,339.8 448,338.4 448,368 438.2,379.2 436.4,368"/>
<polygon fill="#f00000" points="439.3,366 442.2,357.3 445.1,355.8 443.6,368"/>
<polygon fill="#ff9088" points="438,336.9 443.8,338.4 442.4,351.5 438,355.8"/>
<polygon fill="#8c8cfa" points="438,355.8 442.4,351.5 446.7,339.8 451.1,338.4 448.2,350 443.8,360.2 439.5,368 436.9,373.1 438,368"/>
<polygon fill="#ffffff" points="443.8,360.2 448.2,350 452.5,336.9 459.8,336.9 456.9,347.1 452.5,358.7 449.6,368 442,379.3 442.4,368"/>
<polygon fill="#8c8cfa" points="455.5,358.7 459.8,347.1 465.6,335.5 471.5,335.5 467.1,347.1 461.3,360.2 458.4,363.1"/>
<polygon fill="#ff9088" points="464.2,354.4 467.1,347.1 471.5,335.5 480.2,336.2 477.3,347.1 472.9,357.3 468.5,361.6"/>
<polygon fill="#5858f5" points="477.3,347.1 480.2,336.9 487.5,336.9 488.2,341.3 484.5,350 480.2,355.8 476.5,354.4"/>
<polygon fill="#e4e4ff" points="487.5,336.9 493.3,335.5 496.2,339.8 491.8,345.6 488.2,341.3"/>
<polygon fill="#ff5a50" points="478.7,366 483.1,354.4 488.2,345.6 491.1,345.6 488.9,354.4 484.5,364.5"/>
<polygon fill="#ffffff" points="488.9,354.4 491.1,345.6 496.2,339.8 502,339.8 503.5,350 500.5,361.6 499.1,368 490.9,376.6 488.9,368"/>
<polygon fill="#ffbcb8" points="496.2,339.8 502,336.9 509.3,336.9 510.7,341.3 506.4,347.1 503.5,350 502,339.8"/>
<polygon fill="#ff5a50" points="503.5,368 504.9,355.8 507.8,347.1 512.2,339.8 518,339.8 518,368 505.9,381.3"/>
<polygon fill="#0808f0" points="467.1,368 469.3,361.6 472.9,357.3 474.4,361.6 472.9,368 466,379.1"/>
<polygon fill="#f00000" points="439.5,368 442.4,360.2 443.8,361.6 442.4,368 438.5,374.8"/>
<polygon fill="#0808f0" points="493.3,331.1 499.1,327.5 509.3,326.7 509.3,334 502,336.9 494.7,335.5"/>
<polygon fill="#ffbcb8" points="497.6,331.8 506.4,329.6 506.4,332.5 499.1,334.3"/>
<polygon fill="#e4e4ff" points="490,337.1 493.4,339.3 496.7,351.7 501.2,362.9 501.2,368 492.8,375.8 490,368"/>
<polygon fill="#ffbcb8" points="493.4,339.3 511.3,337.1 509.1,346.1 504.6,355.1 501.2,362.9 496.7,351.7"/>
<polygon fill="#ff5a50" points="501.2,368 504.6,355.1 509.1,346.1 512.5,338.2 536.1,339.3 534.9,347.2 529.3,357.3 523.7,368 507.8,380.9"/>
<polygon fill="#ffbcb8" points="513.6,351.7 515.8,342.7 518.1,340.5 519.2,347.2 517,354"/>
<polygon fill="#ffffff" points="517,356.2 519.2,350.6 521.5,351.7 520.3,356.2 516.2,363"/>
<polygon fill="#f00000" points="523.7,368 529.3,357.3 534.9,347.2 536.1,355.1 532.7,368 524.3,379"/>
<polygon fill="#0808f0" points="512.5,368 514.7,362.9 518.1,360.7 517,368 511.7,376.3"/>
<polygon fill="#ffffff" points="528.2,368 530.4,360.7 534.9,358.4 534.9,368 528.8,375.7"/>
<polygon fill="#ffbcb8" points="319.8,355 351.8,355 348.9,363.7 344.5,369.5 341.6,378.3 340.2,387 337.3,384.1 334.4,371 330,369.5 327.1,366.6 321.3,371 316.9,378.3 314,384.1 312.5,376.8 316.9,363.7"/>
<polygon fill="#5858f5" points="347.5,376.8 351.8,366.6 359.1,362.3 363.5,366.6 360.5,375.4 356.2,384.1 350.4,389.9 347.5,387"/>
<polygon fill="#8c8cfa" points="363.5,366.6 367.8,359.4 378,357.9 378,381.2 370.7,384.1 366.4,378.3"/>
<polygon fill="#f00000" points="351.8,363.7 356.2,357.9 362,359.4 359.1,362.3 353.3,366.6"/>
<polygon fill="#b8b8ff" points="306.7,369.5 312.5,365.2 316.9,363.7 312.5,376.8 309.6,384.1 306.7,379.7"/>
<polygon fill="#f00000" points="303.8,357.9 312.5,355 316.9,359.4 309.6,365.2 304.5,363.7"/>
<polygon fill="#8c8cfa" points="368,350 379.6,350 378.2,361.6 373.8,371.8 368,379.1"/>
<polygon fill="#e4e4ff" points="378.2,361.6 381.1,350 388.4,350 385.5,361.6 381.1,371.8 378.2,373.3"/>
<polygon fill="#8c8cfa" points="385.5,364.5 389.8,350 400,350 395.6,361.6 389.8,370.4 386.2,371.8"/>
<polygon fill="#0000b0" points="385.5,371.8 391.3,366 397.1,358.7 400,360.2 394.2,370.4 388.4,374.7"/>
<polygon fill="#0808f0" points="372.4,384.9 375.3,371.8 379.6,368.9 378.2,379.1 375.3,387.8"/>
<polygon fill="#f00000" points="378.2,390.7 379.6,376.2 384,373.3 385.5,383.5 382.5,393.6"/>
<polygon fill="#ff5a50" points="391.3,387.8 398.5,371.8 405.8,358.7 410.2,360.2 404.4,371.8 397.1,384.9 394.2,390.7"/>
<polygon fill="#ffbcb8" points="405.8,358.7 410.2,350 420.4,350 417.5,361.6 413.1,371.8 410.2,368.9 410.2,360.2"/>
<polygon fill="#5858f5" points="404.4,379.1 407.3,370.4 413.1,368.9 414.5,374.7 410.2,383.5 405.8,384.9"/>
<polygon fill="#ffffff" points="413.1,371.8 417.5,361.6 421.8,354.4 423.3,364.5 418.9,376.2 416,379.1"/>
<polygon fill="#ff9088" points="418.9,387.8 421.8,367.5 424.7,354.4 433.5,350 433.5,361.6 429.1,373.3 424.7,384.9"/>
<polygon fill="#a00000" points="424.7,384.9 429.1,373.3 433.5,368.9 434.9,374.7 430.5,383.5 426.2,387.8"/>
<polygon fill="#8c8cfa" points="433.5,361.6 437.8,354.4 442.2,357.3 439.3,367.5 434.9,371.8"/>
<polygon fill="#ffffff" points="439.3,376.2 443.6,364.5 448,361.6 448,373.3 442.2,382"/>
<polygon fill="#f00000" points="436.4,390.7 440.7,379.1 446.5,373.3 448,382 442.2,392.2"/>
<polygon fill="#a00000" points="386.9,396.5 389.8,387.8 394.2,386.4 394.2,395.1"/>
<polygon fill="#0808f0" points="456.9,379.1 464.2,368.9 471.5,358.7 477.3,352.9 477.3,361.6 472.9,371.8 467.1,382 461.3,386.4"/>
<polygon fill="#8c8cfa" points="438,350 446.7,350 440.9,364.5 438,367.5"/>
<polygon fill="#ffffff" points="440.9,370.4 446.7,357.3 452.5,350 456.9,350 455.5,360.2 449.6,370.4 443.8,374.7"/>
<polygon fill="#ff5a50" points="449.6,370.4 455.5,360.2 459.8,358.7 458.4,367.5 452.5,377.6"/>
<polygon fill="#8c8cfa" points="456.9,364.5 459.8,350 465.6,350 462.7,358.7 458.4,367.5"/>
<polygon fill="#ff9088" points="472.9,371.8 477.3,361.6 481.6,357.3 483.1,364.5 478.7,374.7 474.4,377.6"/>
<polygon fill="#f00000" points="480.2,357.3 484.5,350 490.4,350 487.5,358.7 483.1,364.5"/>
<polygon fill="#0808f0" points="481.6,376.2 484.5,367.5 490.4,366 490.4,371.8 486,377.6"/>
<polygon fill="#ffffff" points="486,383.5 488.9,368.9 491.8,355.8 496.2,350 503.5,350 502,361.6 497.6,373.3 493.3,383.5 488.9,386.4"/>
<polygon fill="#ff5a50" points="497.6,373.3 502,361.6 506.4,350 518,350 513.6,361.6 507.8,371.8 502,379.1"/>
<polygon fill="#5858f5" points="502,387.8 506.4,379.1 510.7,376.2 509.3,386.4 504.9,392.2"/>
<polygon fill="#b8b8ff" points="468.5,387.8 472.9,379.1 480.2,377.6 478.7,384.9 472.9,390.7"/>
<polygon fill="#f00000" points="438,379.1 443.8,374.7 449.6,377.6 446.7,386.4 440.9,390.7 438,387.8"/>
<polygon fill="#a00000" points="451.1,392.2 454,384.9 459.8,383.5 459.8,390.7 455.5,393.6"/>
<polygon fill="#f00000" points="510.7,379.1 515.1,367.5 518,364.5 518,379.1 513.6,384.9"/>
<polygon fill="#ff5a50" points="497.1,379.3 503.5,362.7 507.3,350 531.5,350 528.9,360.2 521.3,367.8 513.6,375.5 508.5,381.8 503.5,383.1"/>
<polygon fill="#ffffff" points="485.6,379.3 488.2,362.7 492,350 503.5,350 500.9,362.7 497.1,375.5 492,383.1 488.2,384.4"/>
<polygon fill="#ff5a50" points="478,365.3 483.1,355.1 488.2,350 492,350 488.2,362.7 483.1,370.4 478,372.9"/>
<polygon fill="#8c8cfa" points="478,350 483.1,350 478,360.2"/>
<polygon fill="#0808f0" points="480.5,376.7 484.4,369.1 489.5,366.5 488.2,372.9 484.4,378"/>
<polygon fill="#0808f0" points="520,375.5 523.8,366.5 527.6,362.7 526.4,371.6 522.5,378"/>
<polygon fill="#ffffff" points="527.6,371.6 530.2,362.7 535.3,358.9 536.5,365.3 532.7,372.9 528.9,374.2"/>
<polygon fill="#f00000" points="528.9,360.2 531.5,350 541.6,350 541.6,357.6 536.5,365.3 535.3,358.9"/>
<polygon fill="#0808f0" points="500.9,392 503.5,383.1 508.5,379.3 508.5,386.9 504.7,393.3"/>
<polygon fill="#f00000" points="509.8,392 511.1,379.3 514.9,375.5 514.9,386.9 512.4,393.3"/>
<polygon fill="#ffbcb8" points="516.2,388.2 517.5,376.7 521.3,374.2 521.3,383.1 518.7,389.5"/>
<polygon fill="#0000b0" points="535.3,390.7 537.8,380.5 540.4,379.3 540.4,388.2 537.8,392"/>
</g><g fill="none">
<path stroke="#ff4343" stroke-width="1" d="M445.1 334.7l-10.9 -10.9M366.9 327.8l-8.6 -8.4M359.6 332l-11.2 -15.2M424.6 333.2l-7.6 -8.3M474 338.5l-10.4 -15.2M343.2 334.1l-8.8 -12.4M506.5 333.1l-1.3 -1.7"/>
<path stroke="#ffacac" stroke-width="1.9" d="M474.7 327l-7.4 -7.8M358.9 332.4l-10.3 -15.2M359.4 333.5l-8.9 -8.7M414.3 335.5l-10.5 -11.6M458.7 330.9l-10.6 -11.7M307.4 326.9l-8.6 -8.3M360.5 335.4l-10.1 -13.9M316.3 328.7l-6.3 -8.6M382.6 335.3l-6.9 -7.1M364 329.6l-11.4 -13.7M343 333.2l-9.4 -12.6M453.3 334.1l-10.3 -11.4M485.1 332.2l-13.1 -13.4M433.2 326.9l-5.9 -6.4M341.4 330.8l-11.2 -12.5"/>
<path stroke="#0000f5" stroke-width="0.7" d="M345.8 333.3l-8.1 -10.2M391.6 333.3l-11.5 -13.5M335.1 330.4l-5.7 -8.1M467.6 332.2l-11.8 -14.1M319.2 331.4l-5.3 -7.6M494.3 332.9l-11.7 -12.2M334.2 333.8l-6 -7.7M479.8 333.8l-10.4 -14.7M352.3 335.9l-10.8 -15.1M390.5 331.5l-12.1 -14.2M343.1 330.6l-12.6 -13.4M324.1 332.5l-8.9 -12.3M491.8 334.3l-6.9 -8.4M447.9 331.3l-10.2 -13.4M380.2 328.8l-10.6 -11.6M375.3 336.5l-8.2 -12.1M343.2 331.7l-8.5 -11M504.8 324.2l-1.9 -2.8"/>
<path stroke="#1616ff" stroke-width="1" d="M390.2 326.5l-7.6 -7.7M352.3 326.9l-6.1 -6.6M466.2 331.3l-10.1 -14.4M363 326.9l-4.9 -7.3M371 334.5l-9.3 -10.8M469.2 329.3l-11.1 -12.1M315.4 330.5l-8.7 -9.7"/>
<path stroke="#00007b" stroke-width="0.7" d="M319.2 329.4l-6.7 -7.7M456.8 331.6l-10.5 -10.6M314 334.4l-12.3 -13.9M398.1 331.7l-6.5 -9.2M357.5 336l-8.5 -8.9M455.5 334.2l-10.2 -14.8M450.4 332.8l-10 -13.9M542.9 332.8l-1.7 -1.9"/>
<path stroke="#c90000" stroke-width="0.7" d="M452.8 328.4l-5.7 -8.2M397.1 328.4l-8.9 -11.9M377.8 334.3l-12.6 -12.7M344.5 332.2l-10.4 -11.6M475.3 335.8l-8.7 -8.4M429.4 331.4l-6.2 -6.2M345.1 337.6l-12.4 -12.8M466.1 333.6l-10.9 -12.2M365.2 336.3l-13.4 -13.4M379.3 328.2l-6.3 -8.8M358.4 327.9l-8.4 -10.7M362.1 330.4l-6.2 -6.6M348.3 334.3l-6 -8.5M315.3 333.5l-7.1 -9.2M487.3 336.5l-6.8 -9.9M483.4 330.1l-7.8 -10.5M422.9 335.6l-9.8 -9.6M504.9 326.1l-3.1 -3.2"/>
<path stroke="#da0000" stroke-width="1" d="M471.1 336.6l-9.4 -10.7M350.6 329.3l-8.7 -12.5M446.7 330.2l-9.6 -13.7M336.6 334.3l-10.8 -12M401.8 331l-8.2 -9.6M359.9 327.4l-6 -6.7M336.5 333.1l-11.1 -11.6"/>
<path stroke="#0000dd" stroke-width="0.7" d="M448.6 329l-5.8 -7.2M428.8 336.4l-7.9 -10.3M346.7 335.1l-9.6 -13.9M347.5 334.9l-6.2 -6.7M315 334.2l-7.3 -8.6M312 330.4l-6.4 -9.1M463.4 330.9l-9.1 -9.9M441.8 334l-11.1 -10.8M405.3 332.6l-7.1 -7.9M485.3 335.4l-8.8 -10.2M337.1 332.9l-8.3 -9.5M397 327.6l-6.4 -8.8"/>
<path stroke="#940000" stroke-width="0.7" d="M339.4 333.2l-10 -13.2M309.8 333.1l-12.7 -13.2M465.7 334.3l-12.3 -12.8M429.2 336.1l-10.6 -12.6M396.9 332.8l-9.4 -11.9M353.8 334.1l-6.5 -6.3M417.7 329.9l-6.8 -8.4M441.2 332.7l-7.2 -7.4M482.3 329.3l-6.6 -7.7M461.3 332.1l-9 -10.3M394.1 329l-12.9 -12.6"/>
<path stroke="#000062" stroke-width="1" d="M454.8 336.8l-9 -12.1"/>
<path stroke="#fd0000" stroke-width="1" d="M470.5 336.3l-7.5 -10.4M394 337.1l-11.2 -12M407.8 334.4l-10.1 -13M478 331.3l-10.4 -10.4M414 336.8l-8.7 -11.1M352.3 329.8l-6.7 -7.1M345.3 332.2l-12.3 -12M357.5 329.4l-6.8 -7.8M315.9 335.8l-13.2 -12.9M465.1 336.2l-7.3 -10.6M447.4 333.8l-6.4 -8.7"/>
<path stroke="#ff6666" stroke-width="1.4" d="M357.2 331.1l-7.6 -10.7M396 332.1l-9.2 -11.1M374.9 328.5l-7.2 -10.5M310.9 336.5l-9.9 -10.1M492.6 332.2l-8 -10.6M361.1 338.5l-11.1 -13.5M485.2 333l-11.2 -13.1M462 332l-8.9 -8.8M435.2 329.1l-8.6 -12.6M328 334.5l-9.8 -13.1M312.8 330.1l-8.8 -8.6M455.1 333.3l-9.3 -11.3M429.2 331.3l-11.4 -12.1M317 334.4l-7 -7.2M392.5 336.7l-7.7 -9.7M428.7 328.1l-7 -9.3M481.9 331.8l-10.5 -10.5M439.1 336l-8.6 -9.9M307.4 331.6l-5.5 -6.9M398.8 333.5l-12.6 -13.1M421.1 334.9l-11.2 -11.4M407.6 326.8l-7.1 -8.9M485.3 327.5l-6.3 -6.8M436.4 335.1l-10.1 -9.8M341 338.2l-12 -12.9M373.3 334.2l-9.4 -12.7M481.6 337l-7.6 -11.2M439.7 332.3l-9.5 -9.6M458.4 332.3l-9.3 -13.4M309.7 335.5l-7.6 -9.6M313.3 335l-6.8 -8.9M405.4 333.1l-8 -8.9M491 325l-2.2 -2.5"/>
<path stroke="#0000c4" stroke-width="1" d="M308 336l-11.8 -12.6M422.2 332l-9.7 -12.4M329.2 329.8l-8.1 -11.1M469 329.3l-9.6 -13.8M349.6 326.8l-6.3 -8.4M376.1 329l-8.4 -12.4"/>
<path stroke="#c5c5ff" stroke-width="1" d="M427.8 327.9l-10.5 -10.2M417.2 332.4l-8.3 -8.7M432.1 331.1l-9 -13.3M394.8 335.7l-12.6 -14M400.2 327.4l-6.1 -6.4M351.7 332.3l-8.8 -12.6M458.7 337.6l-12.5 -13.8M478.9 328.4l-6.5 -7.3M475.6 333.1l-12.4 -12.8M461.6 335.5l-11.2 -14.8M312.3 328.9l-10.3 -10.2M308.8 331.2l-10 -11.7M339.8 333.2l-9.7 -12.7M319.1 335.6l-9.3 -10.7M345.8 328.9l-10.7 -11.1M312.8 328l-8.2 -8.6M487.4 324.2l-1.9 -2.5M494.4 325.1l-1.7 -1.8M531.3 333.2l-1 -1.3"/>
<path stroke="#000093" stroke-width="1" d="M322.2 332.8l-9.8 -11.6M485 335.2l-8.5 -11.3"/>
<path stroke="#940000" stroke-width="1" d="M490.1 333.4l-8 -8.1M491.9 336.8l-10.5 -11.1M391 337.3l-11.1 -11.9M496.3 326.2l-2.8 -3.7"/>
<path stroke="#ff6666" stroke-width="1.9" d="M449.7 333.8l-7.8 -10.5M468.9 330.4l-6.8 -8.7M349.6 335.4l-9.3 -11M388.7 332.1l-9 -9.1M320.4 333.3l-12.6 -13.2M460.4 330.6l-8.2 -11.4M461 329.9l-10.3 -14.1M390.2 330.8l-8.7 -10.8M464.7 333.2l-12.7 -12.4M489.7 332.6l-7.3 -7.4M348.2 328.5l-8.2 -9"/>
<path stroke="#000093" stroke-width="0.7" d="M404 336.6l-9.9 -13.7M375.5 336.9l-11.1 -14.3M440.3 338l-10.7 -12.4M360.4 330.3l-5.9 -8.2M356.8 330.6l-10.1 -11.4M306.6 335l-6.4 -9.3"/>
<path stroke="#7f7fff" stroke-width="1.9" d="M453.8 337.1l-11.7 -13.6M387.8 332.1l-8 -9.3M419.4 332.8l-9.4 -12.2M375.7 338l-10.4 -14.8M338.4 335l-7.6 -8.7M482.5 334.9l-11.2 -13M325.6 326.8l-6.9 -8.7M311.2 330.4l-6.2 -6.6M425.4 331.3l-8.6 -9.5M475.8 335.5l-7.4 -10.6M315.2 337l-11 -14.1M454.3 331.7l-11 -12.5M469.3 338.1l-12.8 -14M313.8 335.9l-10.4 -15.1M344.8 331.1l-9.1 -8.9"/>
<path stroke="#e8e8ff" stroke-width="1.9" d="M406.4 332.9l-7.8 -8.1M424.5 331l-9 -9.8M315.1 336.5l-9.1 -12.8M384.3 337.9l-10.6 -15.4M336.3 326.6l-6 -7.9M335.1 335.3l-7.4 -10.7M365.9 329.2l-6 -6.7M386.8 337.9l-8.7 -12.1M341.1 331.5l-7.1 -8M487.6 329.3l-7.1 -8.5M447.1 337.4l-12.5 -12.7M422.3 325.8l-6.3 -6.7M440.5 328.9l-11.2 -11M479.4 334.3l-10.1 -10.1M399.4 333.9l-6.2 -7.4"/>
<path stroke="#3939ff" stroke-width="1" d="M377.8 330.5l-11.3 -11M380.8 328.7l-8.3 -8.8"/>
<path stroke="#a50000" stroke-width="1" d="M428.6 332.1l-5.5 -7.3M397 330.9l-9.1 -13.4M353.1 334l-5.3 -6.9M424.1 334.6l-7.4 -8.1"/>
<path stroke="#b70000" stroke-width="1" d="M483.9 334.8l-7.4 -10.9M398.8 332.1l-9.1 -13.2M333.9 326.4l-6.6 -8"/>
<path stroke="#ff8989" stroke-width="1" d="M471 331.8l-10.5 -12.1M484.7 330l-9.8 -10.8M350.5 330l-11.2 -13.2M405.7 331l-12 -13.3M317.5 329.1l-6.6 -7.5M481.2 327.9l-6.8 -7.8M347.9 335l-11.3 -12.8M412.4 332.2l-8.7 -11M492.9 327.7l-7.4 -10.3M351.3 333.9l-11.1 -12.2M308.2 334.4l-10.5 -12.8M341.4 335.4l-11.2 -10.8M483.3 331.2l-7.7 -9.8M447.2 332l-6 -8.2M498.3 325.4l-1.7 -2.2M511.4 326l-1.6 -2.1"/>
<path stroke="#5c5cff" stroke-width="1.9" d="M476.5 331.7l-8.3 -10M440.1 333.8l-10.9 -10.9M448.5 334.9l-5.3 -7.6M472.5 327.9l-6.1 -7.1M379.1 335.2l-8 -7.9M436.6 332.1l-10.3 -13.7M309.1 329.7l-10.3 -11.3M458.6 330.7l-8.8 -8.8M397 335.7l-8.1 -10.2M395.6 332l-10.5 -14.8M526.7 333.8l-1.2 -1.7"/>
<path stroke="#0000dd" stroke-width="1" d="M469.9 337.3l-8.9 -12.8M378.5 330.1l-6.9 -7.9M307.1 327.6l-7.5 -7.5M474.1 330.8l-10 -10.3M467.8 328l-6.1 -6.6M400.2 331.1l-10.9 -12.8"/>
<path stroke="#7f7fff" stroke-width="1" d="M459.8 332.1l-8.4 -9M400.3 329.2l-11.2 -11.5M426.1 329.4l-11.4 -12.4M309.7 337.8l-11 -13.3M360.5 330.8l-9.5 -13.4M356.3 337.1l-11.6 -14.9M479.9 330.2l-11.2 -14M396.7 336.2l-9.2 -10.4M419.2 336.9l-11 -14.3M460.1 336.4l-10.4 -11M344.5 328.8l-6.6 -9.7M400.4 338.4l-12.1 -13.1M479.2 336l-9.2 -10.4M331 331.9l-11.9 -12.3"/>
<path stroke="#c5c5ff" stroke-width="1.9" d="M327.7 330.3l-6.1 -8.4M373.7 332.8l-6.9 -7.5M441.2 329.7l-9.3 -13.1M436.3 335.2l-5.9 -8.1M422.7 338.9l-10.2 -14.9M375.6 333.9l-9.6 -9.7M337.4 330.2l-11.4 -11.3M332 336.1l-7.8 -8.5M451 334.9l-11.1 -14.8M436.2 335.6l-11 -15.2M486.1 334.3l-7.8 -11.4M393.7 335.5l-10.2 -9.9M317.3 337.3l-11.6 -14M492.3 332.9l-8.7 -10.2M383.1 335.7l-8.9 -12.3M472.2 335l-11.2 -12M486.8 335l-9.7 -11.5M453.6 334.6l-8.9 -12.5M378.6 335.1l-7.4 -9.9M421.3 332.8l-10.5 -11.1"/>
<path stroke="#0000ac" stroke-width="1" d="M331.1 333.4l-11.4 -13.4M366 333.8l-7.7 -11.3M336.4 327.5l-6.7 -6.9M466.4 334.6l-9.1 -10.8M356.4 334.9l-7.5 -7.6"/>
<path stroke="#e8e8ff" stroke-width="1" d="M430.2 330.4l-11.7 -14.7M491.6 332.9l-8.6 -11.4M426.2 331.3l-9.8 -13.7M366 331l-12.8 -13.7M306.7 328.7l-7.6 -9.7M390.5 339.2l-11.3 -14.9M342 334.7l-5.9 -8.3M448.4 338.2l-10.2 -12.6M411.3 333.5l-10.7 -14.2"/>
<path stroke="#ec0000" stroke-width="1" d="M416.5 334.9l-11.6 -12.1M491.3 331.7l-7.8 -10.7M422.6 334.7l-8.5 -8.7M383.5 334.2l-7.8 -8.5"/>
<path stroke="#5c5cff" stroke-width="1.4" d="M373.5 329.6l-10.9 -11M429.7 334.6l-6.3 -7.3M412.7 329.6l-11.5 -11.4M436.8 328.5l-9.1 -9.1M438.9 330.8l-6 -7.4M311.3 332.1l-6.9 -8.3M404.7 334.6l-9.9 -12.5M369.1 331.4l-10 -11.4M345.2 334.4l-6.3 -8M408.3 328.3l-5.9 -7.3M304.6 329.5l-6.1 -7.4M469.4 329.2l-7.4 -7.8M347.4 327.8l-7 -7.6M468.5 327.9l-6 -8.6M455.3 336l-11 -11.7M393 332.7l-11.9 -13.9M372.9 327.1l-7.1 -8.9M422.2 337.4l-12.1 -13.3M488.3 328.4l-7.9 -8.1M443.2 333.1l-9.6 -9.6M338 333.7l-8.5 -10.1M436.8 334.1l-9.6 -14.1M425.5 333.6l-11.9 -13.4M503.1 325.2l-1.5 -1.9M504.1 325.4l-2.7 -3.8"/>
<path stroke="#a2a2ff" stroke-width="1" d="M464.3 329.5l-9.3 -12.1M396.8 337.4l-11.7 -11.6M429.4 331.8l-6.7 -9.6M351.1 335l-11.4 -11.7M407.8 332.9l-5.6 -7.3M307.3 335.2l-9.3 -11.7M309.3 332.1l-7.8 -10M314.7 330.7l-6.3 -8M477.7 333.3l-10.8 -13.4M409.7 332.2l-9.6 -12.4M390.5 327.7l-5.9 -7M440.1 335.6l-8.7 -11.5M473.7 332.9l-8.5 -8.4M415.4 332.3l-12 -11.7M449.4 331.1l-12.4 -12.3M350.6 332.3l-9.2 -9.1M475.3 334l-11.7 -11.9M464.9 331.4l-6.8 -7M346.9 328.6l-7.4 -8.6M422.5 333.7l-9.1 -11.8"/>
<path stroke="#fd0000" stroke-width="0.7" d="M490.9 332.7l-11.7 -12.4M385.8 335.6l-9.9 -10.9M319.4 331l-8.4 -11.3M376.8 330.1l-8.5 -11.9M375.2 333.5l-9 -9.5M324.7 330.8l-12.2 -14.4M407.4 328.1l-6.5 -6.7M491.9 335.6l-11.2 -12.7M358.3 329.9l-7.8 -9.3M439.1 331.1l-7.3 -8.8M446.5 333.1l-11 -14.2M314.7 327.8l-6 -8M342 335.8l-9.7 -9.4M417.7 328.2l-6.5 -6.9M339.8 333.1l-13.2 -13M378 330.6l-7.6 -8.2M485.7 330.4l-7 -8.7"/>
<path stroke="#c90000" stroke-width="1" d="M457.1 331.3l-6.6 -8.5M461.8 330.4l-11.2 -12.5M332.8 330.2l-12.9 -13.1M432.8 329.8l-10.6 -10.9M361.3 330.6l-9 -12.5M446.3 334.3l-12.8 -12.4"/>
<path stroke="#0000ac" stroke-width="0.7" d="M424.3 330.3l-10.8 -14.8M309.1 333l-6 -8M473.8 333.9l-8.7 -11.2M381.6 332.6l-9.9 -10M405.3 329.6l-5.8 -6.4M308.1 337.2l-7.7 -10.8"/>
<path stroke="#a50000" stroke-width="0.7" d="M493.5 331.7l-12.4 -12.6M399.5 332.6l-10.4 -11.4M472.7 331.3l-12.9 -13.9M414.4 333.2l-7.2 -10.3M455.1 328.8l-9.7 -10.1M439.8 336.6l-12.7 -13.9M383 329.1l-7.2 -7.3"/>
<path stroke="#c5c5ff" stroke-width="1.4" d="M396.6 332.1l-10.8 -10.9M482.3 337.1l-9.4 -12.5M420 338.4l-12 -14.3M444.6 332.9l-8.1 -11.9M446.8 330.4l-7.4 -9.9M459.8 327.1l-8.8 -8.9M339.5 335.6l-11.7 -13.8M309 331.4l-5.9 -7.1M431.9 333.9l-6.5 -6.9M351.8 328.7l-9 -9M353.5 330.9l-8 -9.6M477.3 339.3l-11.4 -15.1M329.2 333.1l-9.1 -11.3M308.1 336.8l-11 -11.2M321.9 331.2l-5.7 -7.9M489.3 335l-8.1 -10.1M386 338.1l-10.6 -13.6M412.2 326.9l-6.6 -8.9M381.9 331.9l-9.5 -11.8M363.1 335.6l-6.4 -7.9M463.2 330.1l-8.1 -11M330.4 334.5l-6.8 -10M336.8 330.3l-11.3 -14M387.9 330.5l-11.4 -14.3M483.3 336.8l-9.3 -11M372 330.8l-8.3 -11.7M533.2 333l-1.4 -1.5M518.4 333.6l-1.3 -1.6M510.8 332.9l-1 -1.3"/>
<path stroke="#ff6666" stroke-width="1" d="M332.5 333l-12.1 -12M464.4 327.4l-8.2 -8.8M315.4 328.1l-6.2 -7.1M344.7 329.7l-11.7 -13.4M471.5 328.1l-6 -8.5M399.2 334.2l-8.2 -9.3M395.9 335.5l-8.3 -8.7M376.8 335.5l-6.5 -8.3M503.3 325.7l-2.3 -3.1M507.4 325.8l-2.8 -3.2"/>
<path stroke="#000062" stroke-width="0.7" d="M308.1 333.9l-7.1 -7.2M375.2 334.9l-7.3 -10.3M468.1 330.8l-6.2 -8.3M419.8 338l-11.2 -14.4M474 335.3l-7.7 -9.1M332.1 337.3l-11.6 -11.4M317.2 333.3l-7.8 -9"/>
<path stroke="#fff3f3" stroke-width="1.9" d="M390.3 331.6l-11.7 -12.5M442.1 329.4l-10.2 -11.3M440.7 332.4l-10.9 -12.5M430.1 333.8l-9.7 -10.1M359.6 334.6l-5.6 -6.9M423.8 332.7l-9.8 -10"/>
<path stroke="#1616ff" stroke-width="0.7" d="M392.7 333.3l-5.8 -7.7M314.5 338.5l-12.6 -13.8M328.2 326.6l-6.3 -7.3M324.4 331.4l-6.7 -9.8M429.2 328.4l-7.4 -8.5M462.8 332l-7.9 -10.9M398.6 335.3l-9 -8.7M327 331.5l-5.3 -7.7"/>
<path stroke="#e8e8ff" stroke-width="1.4" d="M316.3 331.2l-6.1 -7.3M427.4 336.2l-6.2 -8.6M392.2 331.3l-10.3 -10.3M421.6 331.4l-8.6 -10.3M352.7 333.4l-8.1 -8.9M363.7 329.1l-8.8 -8.8M319.5 330.7l-11.5 -12.4M376.7 326.8l-5.3 -6.9M333.1 332.1l-8.4 -10.7M390.7 328.8l-7.3 -7.2M361.8 332l-9 -9.8M463.4 328.2l-7.6 -10.6M433.5 328.2l-7.2 -8.8M376.6 331.2l-7.1 -8.5M334.7 334l-9.2 -10.2M338.4 331l-7.7 -10.6M446.2 328l-7.8 -9.7M443 333.8l-9.9 -12M319.5 337.5l-11 -13.6M379.8 333.8l-7.4 -7.8M437.7 330.1l-5.7 -6.7M419.1 333.1l-9.4 -11.3M416.8 338.1l-10.7 -14.2M363.9 334.9l-12 -13.1M328.7 333.6l-11.4 -12M366.6 332.2l-10 -9.9M500.9 324l-2.6 -3.3M536.5 332.5l-1.1 -1.3"/>
<path stroke="#ff8989" stroke-width="1.4" d="M464.5 335.8l-12.1 -12.8M384.6 335.7l-7.5 -8.9M474.2 338.2l-12.3 -12.9M394.5 335.2l-12.8 -12.7M346 328.1l-7 -9.3M410.9 330.5l-8.3 -8.2M427.9 335.7l-10.6 -11.2M436.4 328.2l-9.5 -10.3M456.7 334.6l-7.2 -9.7M379 331.2l-10.4 -12.7M311.8 329.4l-7 -9.2M474.6 337.1l-9.1 -12M394.4 329.6l-7.7 -8.8M450.3 335.4l-9.5 -12.8M352.1 328.3l-9.1 -10.7M406.7 333.7l-6 -7.7M317.4 327.9l-8.1 -10.3M341.1 334.8l-9.8 -13.2M470.3 328l-8 -8.3M335.5 329.5l-9.7 -9.7M307.4 332l-6 -7M454.1 331.5l-7.6 -8.1M321.7 335.9l-7 -10.3M428.6 328.3l-9.3 -10.7M414.9 331.4l-7.4 -10.9M485.4 336l-11.2 -14.6M421.4 335.8l-6.4 -7.8M403.6 329.5l-8.7 -10.6M388.8 330.8l-6.3 -8.6M322.7 332.5l-5.3 -7.6M502.5 324.8l-2.4 -3.6M499.5 325.2l-2.1 -2.3M527.4 332.7l-1.8 -2.1M508.4 333.4l-1.5 -2.1"/>
<path stroke="#ff8989" stroke-width="1.9" d="M409.6 333.6l-7.2 -7.3M446.1 327.4l-5.9 -8.2M424.9 331.3l-8.4 -10.1M383.4 330.5l-8 -8.7M390.7 331.4l-8.7 -9.1M412.8 330.5l-7.3 -8.1M486.5 326.9l-8.7 -8.7M452.6 328.5l-8.7 -10.1M304.6 331.8l-6 -7.8M438.4 333.3l-8.8 -8.5M330 327l-5.4 -7.7"/>
<path stroke="#ffcfcf" stroke-width="1.4" d="M407.8 329.2l-10.1 -10.6M366.1 334.7l-11.8 -14M400.6 335.7l-8.8 -12.5M379.8 335.2l-10.8 -11.4M467.5 333.1l-10.4 -15.3M360.8 330.7l-8.8 -10.3M459.3 331.7l-11.7 -14.3M489.6 337.7l-12.3 -12.6M363.4 332.5l-6.2 -8.9M371.9 330l-9.3 -13M418.4 335.5l-8.6 -8.4M366 327.4l-5.2 -7.1M439.8 330.1l-8.3 -11M426.8 330.2l-13.3 -13M441.4 332.9l-10.6 -13.3M423.7 329.9l-10 -13.2M397.4 335.4l-11.8 -14.3M391.6 329.2l-11 -13.7M467.5 332l-10.2 -14.9M356.6 339.5l-11.1 -15.2M380.8 331.7l-10 -13.7M424.6 327.4l-6.3 -8.8M505.6 323.6l-1.6 -2.3M498.6 324.1l-2.8 -3.3M515.6 333.1l-1.9 -2.2M521 334l-1.9 -1.9"/>
<path stroke="#7f7fff" stroke-width="1.4" d="M452.1 334.6l-8.9 -10.4M484.2 332.1l-9.1 -12.7M363.4 330.2l-6.5 -7.7M324.3 335l-9.6 -10.7M422.9 336.2l-8.3 -9.8M478.1 334.2l-6.9 -8.5M344 335l-10.6 -10.6M376.7 334.9l-7.5 -10.1M333.4 335l-11.6 -13.3M461.7 332.2l-7.7 -9.5M436.6 335.8l-8.9 -10.2M362.3 331.3l-7.9 -10.5M485.8 333.1l-9 -10.3M430.3 331.5l-8 -11.1M390.1 335.2l-10.9 -14M412.7 328.2l-7.4 -7.5M399.4 333.8l-11.3 -13M319.8 337.2l-9.7 -11.8M376.2 326.6l-5.8 -7.8M488.5 334.8l-5.9 -7M323.2 335.1l-10.7 -12.8M330.9 331l-9.7 -11.8M438.5 331.4l-12.2 -12.3M468 330.4l-8.4 -8.7M482.9 336.6l-11.4 -11.5M312 337l-7.2 -10.3M486.9 325.2l-2.7 -2.9M531.5 333.2l-1.2 -1.3M543.4 333.6l-1.2 -1.3M532.8 333.6l-1.7 -1.9"/>
<path stroke="#0000f5" stroke-width="1" d="M305.6 326.2l-6.8 -6.7M441.3 336l-10.4 -10.9M450.4 328.2l-7.9 -10.6M385.4 328.2l-8 -9.4M390 335.2l-12 -14.1M377 335l-10.1 -11.1"/>
<path stroke="#fff3f3" stroke-width="1.4" d="M346 331.8l-10 -14.3M374.6 333.2l-6.7 -7.6M352.3 330.5l-10.2 -13.4M438.5 338l-12.8 -13.4M382.6 327.8l-8.1 -8.4M422.7 333l-10.4 -12.2M322.3 331.9l-8.8 -10M373.2 328.1l-7.4 -10.5M326.8 338.1l-10.7 -14.5M395.2 334.5l-7.7 -11.1M421.3 332.6l-10.4 -12.4M354.5 334.1l-9.4 -10.8M325.8 329.2l-12.6 -12.6M307 335.7l-9.4 -12.9M339.6 330.5l-10.6 -11.4M377.5 333.6l-8.2 -11.8M328.1 329.4l-11.1 -13.6M410.9 334.3l-9.2 -10.6M342.4 330.2l-10.4 -13.8M357.8 335.5l-9 -11.1M398.4 335.1l-8.3 -9.9M362.3 334.8l-7.2 -7.6M312.9 338.6l-11.3 -14.5M381.6 328.7l-9.5 -11.9M440.2 332.5l-9.4 -12M483.6 329.6l-11.3 -11.8M492.2 333.5l-10.1 -9.9M316.4 334.8l-6 -8.3M399.5 329.4l-5.4 -7.4M405.1 333.2l-8.3 -12.2M419.6 338.1l-12.1 -14.4M495.7 326.1l-2.4 -2.5M506.6 332.5l-1.4 -1.7"/>
<path stroke="#ffcfcf" stroke-width="1.9" d="M488.8 334l-8.4 -10M425 334.4l-9 -12.2M476.8 330.1l-9.6 -10.5M471.9 333.7l-5.7 -7.7M305 330.9l-7.2 -8.8M483.4 328.6l-8 -10.4M376.9 335.1l-10.6 -13.1M326.3 332.2l-7.4 -8.9M493.5 331.8l-7.8 -8.2M488.7 336.2l-13 -13.5M407 328.6l-8.3 -9.4M407.5 330.7l-6.7 -7.7M371.4 335.7l-8.3 -8.7M427.1 329l-11.6 -12.5M432.4 329.3l-7.2 -8.8M402.5 332.6l-5.3 -6.9M514.2 332.7l-1.2 -1.3"/>
<path stroke="#3939ff" stroke-width="0.7" d="M330.2 330.3l-10.2 -13.1M338.5 334.4l-11 -12.9M450.7 328.9l-10.7 -11.3M343.3 328.8l-6.3 -8.2M464.1 334.9l-10.8 -10.8M378.1 329.9l-7.4 -8M375.2 332.5l-12 -13.8M346.2 335.2l-8.5 -9.3M426.7 333.7l-7.2 -10M413.4 329.3l-10.8 -10.7"/>
<path stroke="#5c5cff" stroke-width="1" d="M407.2 330.7l-8 -9.3M450.8 332.9l-11.6 -13.1M344.7 336l-7.1 -10.1M341.5 331.1l-12.3 -12.7M310.7 335.3l-11.7 -12.5M410.2 335.5l-12.2 -12.7M317.7 331.8l-6.7 -9.8M345.1 338.2l-10.2 -14M335.2 334.3l-7.6 -9.1M502.2 323.9l-1.7 -2.2M491 324.7l-2.6 -3.7"/>
<path stroke="#ffacac" stroke-width="1" d="M359 326.9l-8 -9.1M370.8 330.3l-7.4 -10.6M332.5 332.9l-9.5 -10M485.7 329.4l-11.1 -11.8M440.6 332l-8.7 -12.9M319.1 328.7l-7 -7M431 336.9l-10.4 -10.5M309.2 336.7l-7.4 -10.1M336.3 336.6l-9 -12.1M475.9 330.4l-9.2 -12M328.5 333.8l-11.8 -14.8M386.6 332.6l-6.4 -7.5M360.7 332.5l-11.5 -14.9M372.1 330.6l-6.3 -8.9M400.7 327.2l-8.5 -9.8M498.4 324l-2.3 -3.2"/>
<path stroke="#a2a2ff" stroke-width="1.9" d="M478.7 338.9l-11.2 -13.9M353.2 335.1l-6.8 -6.7M367.9 331.5l-10 -10M411 334.3l-12 -11.8M412.4 338.4l-8.8 -12.9M318.7 332.7l-10.7 -13.1M371.8 336.7l-10.3 -11.9M465 331.3l-9.1 -8.8M491.4 338.7l-12.3 -14M372.9 335.4l-11.7 -12.7M372 334.1l-9.9 -14.2M490.4 329.8l-10.4 -10.1M533.7 332.4l-1.5 -1.5"/>
<path stroke="#ffcfcf" stroke-width="1" d="M348.4 325.9l-6.6 -6.9M398.9 333.5l-7.7 -7.5M341.3 333.9l-11.6 -14.2M326.8 334.8l-5.8 -6.7M338.1 334.2l-7.7 -11.1M408.5 333l-7 -6.7M480.3 330.7l-10.5 -14M407.2 331.7l-10.6 -10.6M460.8 337.6l-9.4 -13M442.5 331.3l-8.2 -8.8M313.8 334.4l-12.2 -12.9M329.4 335.6l-12.6 -13.6M372.4 332.2l-11.1 -13.4M398.8 335.5l-11.9 -13.3M423.7 332.5l-6.6 -8.7"/>
<path stroke="#ff4343" stroke-width="0.7" d="M479 331.7l-6.9 -7.5M324.3 330.9l-5.4 -6.8M465.9 335l-7.6 -8.9M396 333.6l-6.9 -10.1M429.4 328.7l-7.1 -7.6M465.6 329.5l-9.4 -10.2M308.8 330.4l-5.2 -7.4M321.8 330.4l-10 -13.9M503.1 325.4l-2.6 -2.7M511.7 326.3l-3.5 -4M538.8 332.9l-1.5 -1.7"/>
<path stroke="#0000c4" stroke-width="0.7" d="M486.5 326.9l-7.8 -7.8M468.8 330.5l-11.2 -13.7M381 333l-11.7 -12.6M410.2 330.9l-6.4 -6.8M488.8 331.6l-8.7 -12.5M332.2 330.4l-9 -10.2M373.5 332.8l-9.2 -10M368.1 333.7l-13.3 -13.4M345.2 333.9l-9.1 -13.3M320.2 331.4l-9.6 -10.6M538.9 333.9l-1.3 -1.8"/>
<path stroke="#fff3f3" stroke-width="1" d="M450.8 338.5l-12.1 -14M345.2 335.6l-7.4 -7.7M422.4 338.5l-12 -14.6M305.5 331.8l-8.9 -12.6M455.2 331l-8 -10.4M311.6 335.8l-7.4 -9.9M434 333.9l-7.1 -8.6M399.7 333.7l-8.5 -10.6M377.6 331.2l-7 -9.5M314.3 334.5l-10 -11.8M442.2 334.6l-7.4 -9.3M305.6 329.3l-9.2 -12.4"/>
<path stroke="#ec0000" stroke-width="0.7" d="M347.4 333.1l-8.4 -8.9M457.6 328.3l-8.6 -10.5M318.5 334.8l-10.3 -14.9M397.7 335.4l-12.7 -12.9M417.5 335.2l-8 -10.6M456.4 334.8l-7.2 -10.3M350.8 329.2l-8.2 -10.6M318 333.1l-10 -10M331.3 331.9l-7.9 -10.5M324.2 332.3l-10 -12.2M345.3 335.7l-6.5 -9.5M354 334.2l-11.3 -12M451.4 336l-12 -14.3"/>
<path stroke="#ffacac" stroke-width="1.4" d="M372.7 335.3l-8.3 -9.5M328.4 334.6l-6.6 -7.2M352.1 337.3l-9.6 -13.9M344 327.1l-7 -7.1M431.3 334.9l-12.7 -12.7M412.4 330.4l-11.8 -11.7M327.7 331l-7.7 -8M359.9 334.9l-11.9 -11.8M320.3 334.8l-7.3 -8.3M455.5 334.9l-6.7 -9.4M443.7 333.2l-10.3 -12.5M491.4 330.6l-6.2 -7.2M436.2 337.3l-7.5 -10.8M419.2 334.9l-6.9 -8.2M331.7 333.9l-9.8 -9.7M325.1 330l-9.5 -10.5M392.1 334.3l-6.6 -8.4M435.4 329.6l-9.8 -12.5M452.3 334.2l-6.7 -9.7M324.9 334.2l-6.3 -9M412.1 332.4l-9.5 -12.8M381.2 337.7l-10.1 -11.9M437.2 334.3l-10 -11.2M438.5 333.1l-11 -11.5M398.5 333.8l-8.4 -9.3M345.2 338.1l-9.6 -13.4"/>
<path stroke="#ff2020" stroke-width="1" d="M465.3 332.7l-9.3 -12.6M432.2 334.1l-9.6 -10.5M461.4 337.9l-10.5 -14.6M354.5 329.8l-7.1 -7.4M485.5 336.3l-7.9 -10M487.7 330.7l-12.4 -13.6M419.9 332.4l-9.5 -12.3M395.3 329.9l-8.6 -10.6M386.3 330l-5.9 -7.8M429.3 326.8l-6.2 -8.4"/>
<path stroke="#ff2020" stroke-width="0.7" d="M439.6 333.4l-10.6 -14.8M446.2 334.5l-10 -10.3M326.3 329.8l-9.1 -13.3M372.5 335.2l-6.7 -7.7M479.2 338.3l-11.5 -14.1M442.6 329l-6.1 -6.7M358.2 334.6l-5.9 -8.7M420.5 338.2l-13.1 -13.7M421.8 331.4l-7.9 -8.8M425.1 332.6l-8.2 -8.1M318.6 328.3l-8.7 -9.6M512.8 332.9l-1.6 -2.1"/>
<path stroke="#a2a2ff" stroke-width="1.4" d="M452 330.3l-13.4 -13.2M351.4 333.9l-9.9 -11.1M377.3 328.3l-6.7 -8.6M479.3 330.1l-5.9 -6.8M413.4 337.4l-12.8 -12.6M339.6 330.1l-10.4 -12.8M340.3 332.2l-12.5 -14.3M357.9 330.3l-6.4 -8.7M320.7 336.1l-10.1 -10.1M475.2 331.4l-9 -10.5M420 332.1l-7.8 -9.9M406.6 335.3l-6 -7.5M320.8 329.8l-10.3 -12.1M327.6 328.9l-12.3 -12.9M448 328.4l-6.2 -6.3M506.5 333.1l-1.8 -1.9"/>
<path stroke="#da0000" stroke-width="0.7" d="M448.8 331l-6.4 -8.7M382.7 332.5l-8.2 -11M384.1 336.2l-11.6 -12.4M417.5 333.3l-7.5 -10.8M480.1 333.7l-7.4 -8.3M370.4 336.2l-9.7 -12.4M472.7 338.4l-11.9 -14.8M418.3 329.2l-5.9 -7.4M448.3 332l-8.9 -8.8M405.3 331.6l-6.7 -6.8"/>
<path stroke="#ff2020" stroke-width="1.4" d="M535.7 354.3h7.4M538.9 361.2h4.1"/>
<path stroke="#c5c5ff" stroke-width="1.4" d="M537.5 350.4h5.6"/>
<path stroke="#ff4343" stroke-width="1.4" d="M538.3 372.4h4.8"/>
<path stroke="#ffacac" stroke-width="1.4" d="M539.5 368.7h3.5"/>
<path stroke="#fff3f3" stroke-width="1.4" d="M536.9 367.4h6.2M540.6 370.5h2.5"/>
<path stroke="#b70000" stroke-width="1.4" d="M537.6 359.9h5.4"/>
<path stroke="#ff8989" stroke-width="1.4" d="M538.9 375.6h4.2"/>
<path stroke="#5c5cff" stroke-width="1.4" d="M539.8 347.3h3.3"/>
<path stroke="#0000c4" stroke-width="1.4" d="M536.3 335.7h6.8"/>
<path stroke="#ff6666" stroke-width="1.4" d="M537.7 362.4h5.3"/>
<path stroke="#0000f5" stroke-width="1.4" d="M536.1 333.6h7"/>
<path stroke="#e8e8ff" stroke-width="1.4" d="M539.1 373.7h4"/>
<path stroke="#ffcfcf" stroke-width="1.4" d="M539.1 390.2h4"/>
<path stroke="#000062" stroke-width="1" d="M538.7 334.8h4.3"/>
<path stroke="#fd0000" stroke-width="1" d="M538.4 365.6h4.7"/>
<path stroke="#0000dd" stroke-width="1" d="M537.4 380.4h5.6M538.5 382.9h4.6"/>
<path stroke="#ff4343" stroke-width="1" d="M540.5 385.3h2.6"/>
<path stroke="#0000c4" stroke-width="1" d="M538.9 377.7h4.2"/>
<path stroke="#b70000" stroke-width="1" d="M535.7 346.4h7.4"/>
<path stroke="#ffcfcf" stroke-width="1" d="M536.6 345.5h6.5M537.5 376.8h5.6M536.6 384.4h6.5"/>
<path stroke="#000093" stroke-width="1" d="M538 338.5h5"/>
<path stroke="#5c5cff" stroke-width="1" d="M536 348.6h7.1M537.1 357.8h5.9M537.7 366.5h5.4"/>
<path stroke="#e8e8ff" stroke-width="1" d="M538.1 355.6h4.9"/>
<path stroke="#ff6666" stroke-width="1" d="M538.2 378.6h4.8"/>
<path stroke="#c5c5ff" stroke-width="1" d="M538.2 339.4h4.9"/>
<path stroke="#ec0000" stroke-width="1" d="M537.5 337.6h5.5M539.9 389.3h3.1"/>
<path stroke="#c90000" stroke-width="1" d="M535.8 341.8h7.2"/>
<path stroke="#da0000" stroke-width="1" d="M539.8 391.4h3.3"/>
<path stroke="#ffacac" stroke-width="1" d="M537 352.5h6.1M536.5 353.4h6.6M535.7 379.5h7.4M538.5 386.8h4.5"/>
<path stroke="#fff3f3" stroke-width="1" d="M539.6 388.4h3.5"/>
<path stroke="#a2a2ff" stroke-width="1" d="M536.3 340.9h6.7M538.5 344h4.5M540.2 349.5h2.9"/>
<path stroke="#7f7fff" stroke-width="1" d="M539.7 351.6h3.3"/>
<path stroke="#ff8989" stroke-width="1" d="M539.9 382h3.2"/>
<path stroke="#fd0000" stroke-width="0.7" d="M540 343.4h3.1"/>
<path stroke="#ff6666" stroke-width="0.7" d="M536.1 356.5h6.9M538 383.8h5"/>
<path stroke="#fff3f3" stroke-width="0.7" d="M535.6 359.3h7.5"/>
<path stroke="#ff4343" stroke-width="0.7" d="M538.1 358.7h5"/>
<path stroke="#0000c4" stroke-width="0.7" d="M538.1 364.3h5M537.5 375h5.5"/>
<path stroke="#e8e8ff" stroke-width="0.7" d="M536.9 337h6.2"/>
<path stroke="#ff2020" stroke-width="0.7" d="M540.3 340.3h2.8"/>
<path stroke="#ffcfcf" stroke-width="0.7" d="M539.6 357.1h3.4M539 386.2h4.1"/>
<path stroke="#c90000" stroke-width="0.7" d="M540.4 365h2.6M539.6 369.9h3.4"/>
<path stroke="#ff8989" stroke-width="0.7" d="M539.6 342.7h3.4M539.9 371.8h3.1"/>
<path stroke="#7f7fff" stroke-width="0.7" d="M540.1 381.3h3M536.4 387.7h6.7"/>
<path stroke="#da0000" stroke-width="0.7" d="M536.4 344.9h6.7M536.5 363.7h6.6"/>
<path stroke="#5c5cff" stroke-width="0.7" d="M302.9 350.1l7.1 -5M302.9 364.8l6.1 -1.5"/>
<path stroke="#ff8989" stroke-width="0.7" d="M302.9 364.3l6.5 -2.4M302.9 371.5l10 -2M302.9 328.5l6.1 -8.2M302.9 330.4l6.7 -8.1"/>
<path stroke="#ec0000" stroke-width="1" d="M302.9 326.4l3.8 -5.8M302.9 354l5.4 -3.2M302.9 329.5l7 -7.4"/>
<path stroke="#c5c5ff" stroke-width="0.7" d="M302.9 339.4l4.9 -4.7M302.9 322.6l5.3 -7.6M302.9 367.1l9.6 -2.8"/>
<path stroke="#a2a2ff" stroke-width="1" d="M302.9 338.2l7.5 -6.9M302.9 330.9l5.5 -5.6M302.9 346.6l4.3 -2.6M302.9 322.8l6.9 -8.2"/>
<path stroke="#a50000" stroke-width="0.7" d="M302.9 363.3l4.8 -2.3"/>
<path stroke="#3939ff" stroke-width="1" d="M302.9 339.1l4.3 -3.1M302.9 334l3.2 -3.3M302.9 324.7l5.5 -8.1"/>
<path stroke="#c90000" stroke-width="1.4" d="M302.9 370.4l5.3 -0.8M302.9 323.1l2.8 -3.7"/>
<path stroke="#940000" stroke-width="1" d="M302.9 363.3l8.6 -3.6M302.9 362.2l6.3 -2.9"/>
<path stroke="#c5c5ff" stroke-width="1" d="M302.9 336.7l5.7 -6M302.9 346l8.1 -4.8"/>
<path stroke="#fff3f3" stroke-width="1" d="M302.9 330.9l2.8 -3.6"/>
<path stroke="#ff4343" stroke-width="0.7" d="M302.9 358.3l6.3 -3.3"/>
<path stroke="#e8e8ff" stroke-width="1.4" d="M302.9 361.2l7.1 -3"/>
<path stroke="#0000dd" stroke-width="0.7" d="M302.9 341.9l8 -6.5"/>
<path stroke="#ff2020" stroke-width="0.7" d="M302.9 334.8l5.5 -5.7M302.9 342.7l3.3 -2.3"/>
<path stroke="#940000" stroke-width="1.4" d="M302.9 367.7l8.8 -2.7"/>
<path stroke="#1616ff" stroke-width="1.4" d="M302.9 346.8l7.9 -6.4"/>
<path stroke="#0000ac" stroke-width="1.4" d="M302.9 370.9l7.9 -2.1"/>
<path stroke="#5c5cff" stroke-width="1.4" d="M302.9 367.3l4.3 -1.2M302.9 366.6l9.6 -2.4"/>
<path stroke="#0000f5" stroke-width="0.7" d="M302.9 355.6l9 -3.5"/>
<path stroke="#fff3f3" stroke-width="0.7" d="M302.9 371.7l8.6 -2M302.9 328.4l3.7 -4.3M302.9 365.1l6.3 -1.7M302.9 351.6l9.1 -5.7"/>
<path stroke="#a2a2ff" stroke-width="0.7" d="M302.9 366.7l8.3 -2.1"/>
<path stroke="#ffcfcf" stroke-width="1" d="M302.9 330l6.9 -7.8"/>
<path stroke="#1616ff" stroke-width="1" d="M302.9 370.8l10.4 -1.9M302.9 366.1l8.7 -2.3M302.9 362.4l3.9 -2M302.9 370.3l7.9 -1.8"/>
<path stroke="#da0000" stroke-width="1" d="M302.9 356.1l3.4 -2.1M302.9 342.5l8.4 -6.1"/>
<path stroke="#fff3f3" stroke-width="1.4" d="M302.9 371.4l6.5 -1.4M302.9 352.3l3.4 -2.1"/>
<path stroke="#3939ff" stroke-width="1.4" d="M302.9 353.6l6.9 -4.6"/>
<path stroke="#0000f5" stroke-width="1.4" d="M302.9 338.7l7.1 -6.2"/>
<path stroke="#e8e8ff" stroke-width="0.7" d="M302.9 354.3l7.6 -3.1"/>
<path stroke="#ff4343" stroke-width="1" d="M302.9 359l4.8 -1.6"/>
<path stroke="#ff4343" stroke-width="1.4" d="M302.9 341.1l8 -5.5M302.9 336.2l7.6 -6.8M302.9 337.1l4.4 -4.2"/>
<path stroke="#0000dd" stroke-width="1.4" d="M302.9 331.9l7.8 -7"/>
<path stroke="#ec0000" stroke-width="1.4" d="M302.9 362.6l6.9 -2.4"/>
<path stroke="#0000dd" stroke-width="1" d="M302.9 369.7l5.5 -1.5M302.9 332.6l4.8 -5.3"/>
<path stroke="#00007b" stroke-width="0.7" d="M302.9 329.2l4.8 -4.7M302.9 330.3l6.4 -7.9"/>
<path stroke="#ff8989" stroke-width="1" d="M302.9 365.8l8.2 -3.5M302.9 334.3l7.1 -7.8M302.9 335.2l5.9 -5.1M302.9 365.9l7.4 -2.3"/>
<path stroke="#7f7fff" stroke-width="1" d="M302.9 360.2l6.3 -2.8M302.9 347.1l4.2 -2.6"/>
<path stroke="#ec0000" stroke-width="0.7" d="M302.9 370.9l8.9 -2.2"/>
<path stroke="#ffacac" stroke-width="1" d="M302.9 355.7l6.8 -2.7"/>
<path stroke="#ffacac" stroke-width="0.7" d="M302.9 357.3l5.8 -3.2"/>
<path stroke="#ff8989" stroke-width="1.4" d="M302.9 329.7l3.2 -3.6M302.9 356.7l6.6 -3.1M302.9 356l6.9 -3.1"/>
<path stroke="#ffacac" stroke-width="1.4" d="M302.9 350.2l7.1 -5.2"/>
<path stroke="#a2a2ff" stroke-width="1.4" d="M302.9 355.8l5.7 -3.2M302.9 337.4l5.3 -5.7"/>
<path stroke="#5c5cff" stroke-width="1" d="M302.9 347.6l4.2 -2.2M302.9 324.4l6.7 -8.5M302.9 339.2l3.2 -3.4"/>
<path stroke="#fd0000" stroke-width="0.7" d="M302.9 324.6l5.3 -6.5"/>
<path stroke="#000062" stroke-width="0.7" d="M302.9 346.1l8 -6.4"/>
<path stroke="#ff2020" stroke-width="1" d="M302.9 359.7l4.5 -2.2M302.9 340.5l4.7 -4.4"/>
<path stroke="#fd0000" stroke-width="1" d="M302.9 357.5l6.2 -2.4M302.9 340.3l3.9 -2.7M302.9 352.7l8.5 -4.8"/>
<path stroke="#ff6666" stroke-width="0.7" d="M302.9 325l6.4 -7.5M302.9 347.5l4.3 -2.4"/>
<path stroke="#da0000" stroke-width="1.4" d="M302.9 339.2l5.9 -5.2M302.9 331.6l7 -7M302.9 356.9l4 -2.4M302.9 345.2l6.8 -5.4M302.9 371.8l10.5 -2.2"/>
<path stroke="#0000c4" stroke-width="1" d="M302.9 351l4.4 -2"/>
<path stroke="#e8e8ff" stroke-width="1" d="M302.9 346.5l5.8 -4.2M302.9 322.5l3 -4.7M302.9 346.6l3.9 -2.1"/>
<path stroke="#0000ac" stroke-width="1" d="M302.9 342.5l5.9 -4"/>
<path stroke="#0000f5" stroke-width="1" d="M302.9 338.6l5.6 -5.1M302.9 323.8l4.6 -5.5M302.9 328.2l2.9 -4.3"/>
<path stroke="#ffcfcf" stroke-width="1.4" d="M302.9 346.2l4.7 -4"/>
<path stroke="#ff6666" stroke-width="1" d="M302.9 339.8l5.5 -5.6M302.9 351.3l5.4 -4"/>
<path stroke="#000062" stroke-width="1" d="M302.9 324l4.4 -5.6"/>
<path stroke="#da0000" stroke-width="0.7" d="M302.9 356.3l7.8 -4.7"/>
<path stroke="#940000" stroke-width="0.7" d="M302.9 355.6l5.7 -2.4"/>
<polygon fill="#860000" points="512.5,332 539.4,332 536.1,339.3 512.5,337.3"/>
</g></g>
<rect x="301.7" y="319.8" width="243.1" height="96.4" fill="none" stroke="#000" stroke-width="0.5"/>
<g font-family="'DejaVu Sans','Liberation Sans',sans-serif" font-size="6.7" fill="#111" stroke="#000" stroke-width="0">
<text x="341.3" y="426.7" text-anchor="middle">100</text>
<text x="381.2" y="426.7" text-anchor="middle">200</text>
<text x="421.0" y="426.7" text-anchor="middle">300</text>
<text x="460.8" y="426.7" text-anchor="middle">400</text>
<text x="500.6" y="426.7" text-anchor="middle">500</text>
<text x="540.5" y="426.7" text-anchor="middle">600</text>
<text x="297.3" y="399.4" text-anchor="end">50</text>
<text x="297.3" y="379.3" text-anchor="end">100</text>
<text x="297.3" y="359.3" text-anchor="end">150</text>
<text x="297.3" y="339.3" text-anchor="end">200</text>
<path d="M341.3 416.2v2.2M381.2 416.2v2.2M421.0 416.2v2.2M460.8 416.2v2.2M500.6 416.2v2.2M540.5 416.2v2.2M299.5 396.9h2.2M299.5 376.8h2.2M299.5 356.8h2.2M299.5 336.8h2.2" stroke-width="0.6"/>
</g>
<text x="415.6" y="439.7" text-anchor="middle" font-family="'Liberation Serif',serif" font-size="12" fill="#000">(<tspan font-weight="bold">f</tspan>)</text>
</svg>
</body></html>
